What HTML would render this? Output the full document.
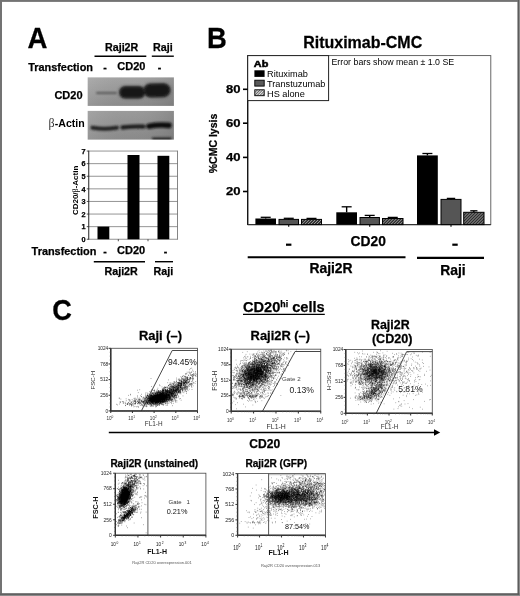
<!DOCTYPE html>
<html lang="en"><head><meta charset="utf-8"><title>Figure</title>
<style>html,body{margin:0;padding:0;background:#fff;}body{width:520px;height:596px;overflow:hidden;}svg{display:block;font-family:'Liberation Sans', Arial, Helvetica, sans-serif;}</style>
</head><body>
<svg width="520" height="596" viewBox="0 0 520 596">
<defs>
<filter id="b1" x="-20%" y="-50%" width="140%" height="200%"><feGaussianBlur stdDeviation="1.1"/></filter>
<filter id="b2" x="-20%" y="-50%" width="140%" height="200%"><feGaussianBlur stdDeviation="0.8"/></filter>
<filter id="b3" x="-30%" y="-30%" width="160%" height="160%"><feGaussianBlur stdDeviation="3"/></filter>
<filter id="b4" x="-30%" y="-30%" width="160%" height="160%"><feGaussianBlur stdDeviation="0.35"/></filter>
<linearGradient id="bg1" x1="0" y1="0" x2="0" y2="1"><stop offset="0" stop-color="#a3a3a3"/><stop offset="1" stop-color="#8a8a8a"/></linearGradient>
<linearGradient id="bgh" x1="0" y1="0" x2="1" y2="0"><stop offset="0" stop-color="#fff" stop-opacity="0.10"/><stop offset="0.5" stop-color="#888" stop-opacity="0"/><stop offset="1" stop-color="#000" stop-opacity="0.10"/></linearGradient>
<filter id="b3h" x="-20%" y="-50%" width="140%" height="200%"><feGaussianBlur stdDeviation="1.8"/></filter>
<linearGradient id="bg2" x1="0" y1="0" x2="0" y2="1"><stop offset="0" stop-color="#9a9a9a"/><stop offset="1" stop-color="#8a8a8a"/></linearGradient>
<pattern id="hatch" width="2.1" height="2.1" patternUnits="userSpaceOnUse" patternTransform="rotate(-45)"><rect width="2.1" height="2.1" fill="#2c2c2c"/><rect width="2.1" height="0.75" fill="#9a9a9a"/></pattern>
<clipPath id="c1"><rect x="87.7" y="77.4" width="86.2" height="28.5"/></clipPath><clipPath id="c2"><rect x="87.7" y="110.9" width="86.2" height="28.7"/></clipPath>
<pattern id="hatch2" width="1.9" height="1.9" patternUnits="userSpaceOnUse" patternTransform="rotate(-45)"><rect width="1.9" height="1.9" fill="#e4e4e4"/><rect width="1.9" height="0.8" fill="#555"/></pattern>
</defs>
<rect width="520" height="596" fill="#fff"/>
<text transform="translate(27.5,47.6) scale(0.985,1.06)" font-size="28" font-weight="bold" stroke="#000" stroke-width="0.25">A</text>
<text x="105" y="51.3" font-size="10.7" font-weight="bold" text-anchor="start" fill="#000"  stroke="#000" stroke-width="0.25">Raji2R</text>
<text x="153" y="51.3" font-size="10.7" font-weight="bold" text-anchor="start" fill="#000"  stroke="#000" stroke-width="0.25">Raji</text>
<line x1="94.5" y1="56.2" x2="146.3" y2="56.2" stroke="#000" stroke-width="1.4" />
<line x1="151.8" y1="56.2" x2="173.8" y2="56.2" stroke="#000" stroke-width="1.4" />
<text x="28.2" y="70.7" font-size="10.9" font-weight="bold" text-anchor="start" fill="#000"  stroke="#000" stroke-width="0.25">Transfection</text>
<text x="103.3" y="70.7" font-size="10.6" font-weight="bold" text-anchor="start" fill="#000"  stroke="#000" stroke-width="0.25">-</text>
<text x="117.3" y="70.2" font-size="11" font-weight="bold" text-anchor="start" fill="#000"  stroke="#000" stroke-width="0.25">CD20</text>
<text x="157.7" y="71.2" font-size="10.6" font-weight="bold" text-anchor="start" fill="#000"  stroke="#000" stroke-width="0.25">-</text>
<text x="54.4" y="98.8" font-size="11" font-weight="bold" text-anchor="start" fill="#000"  stroke="#000" stroke-width="0.25">CD20</text>
<text x="48.6" y="127.3" font-size="10.6" font-weight="bold"><tspan font-family="'Liberation Serif', serif" font-weight="normal" fill="#333" font-size="12">β</tspan>-Actin</text>
<g>
<rect x="87.70" y="77.40" width="86.20" height="28.50" fill="url(#bg1)" stroke="none" stroke-width="0" />
<rect x="87.70" y="77.40" width="86.20" height="28.50" fill="url(#bgh)" stroke="none" stroke-width="0" />
<g clip-path="url(#c1)">
<g filter="url(#b3h)">
<rect x="119" y="86" width="26" height="12.5" rx="6" fill="#333"/>
<rect x="143.5" y="83.2" width="27" height="14.2" rx="7" fill="#333"/>
</g>
<g filter="url(#b1)">
<rect x="96" y="92.1" width="21" height="2" rx="1" fill="#585858"/>
<rect x="120.3" y="87.2" width="24" height="10.4" rx="5" fill="#141414"/>
<rect x="144.5" y="84.4" width="25" height="11.8" rx="5.8" fill="#141414" transform="rotate(-2 157 90)"/>
</g>
</g>
<rect x="87.70" y="110.90" width="86.20" height="28.70" fill="url(#bg2)" stroke="none" stroke-width="0" />
<rect x="87.70" y="110.90" width="86.20" height="28.70" fill="url(#bgh)" stroke="none" stroke-width="0" />
<g clip-path="url(#c2)">
<g filter="url(#b1)">
<path d="M92.5 127.7 Q104 129.8 116.8 127.7" stroke="#222" stroke-width="4.2" fill="none" stroke-linecap="round"/>
<path d="M122.5 127.4 Q133 126.2 143.5 126.6" stroke="#1c1c1c" stroke-width="4.2" fill="none" stroke-linecap="round"/>
<path d="M149 126.2 Q159 124.4 169 125.4" stroke="#111" stroke-width="5.6" fill="none" stroke-linecap="round"/>
<rect x="152" y="137.6" width="19.5" height="2.6" rx="1" fill="#222"/>
</g>
</g>
</g>
<line x1="88.75" y1="239.25" x2="177.5" y2="239.25" stroke="#666" stroke-width="0.7" />
<line x1="86.75" y1="239.25" x2="88.75" y2="239.25" stroke="#222" stroke-width="0.8" />
<text x="85.5" y="241.95" font-size="7.3" font-weight="bold" text-anchor="end" fill="#000"  stroke="#000" stroke-width="0.25">0</text>
<line x1="88.75" y1="226.65" x2="177.5" y2="226.65" stroke="#666" stroke-width="0.7" />
<line x1="86.75" y1="226.65" x2="88.75" y2="226.65" stroke="#222" stroke-width="0.8" />
<text x="85.5" y="229.35" font-size="7.3" font-weight="bold" text-anchor="end" fill="#000"  stroke="#000" stroke-width="0.25">1</text>
<line x1="88.75" y1="214.05" x2="177.5" y2="214.05" stroke="#666" stroke-width="0.7" />
<line x1="86.75" y1="214.05" x2="88.75" y2="214.05" stroke="#222" stroke-width="0.8" />
<text x="85.5" y="216.75" font-size="7.3" font-weight="bold" text-anchor="end" fill="#000"  stroke="#000" stroke-width="0.25">2</text>
<line x1="88.75" y1="201.45" x2="177.5" y2="201.45" stroke="#666" stroke-width="0.7" />
<line x1="86.75" y1="201.45" x2="88.75" y2="201.45" stroke="#222" stroke-width="0.8" />
<text x="85.5" y="204.15" font-size="7.3" font-weight="bold" text-anchor="end" fill="#000"  stroke="#000" stroke-width="0.25">3</text>
<line x1="88.75" y1="188.85" x2="177.5" y2="188.85" stroke="#666" stroke-width="0.7" />
<line x1="86.75" y1="188.85" x2="88.75" y2="188.85" stroke="#222" stroke-width="0.8" />
<text x="85.5" y="191.55" font-size="7.3" font-weight="bold" text-anchor="end" fill="#000"  stroke="#000" stroke-width="0.25">4</text>
<line x1="88.75" y1="176.25" x2="177.5" y2="176.25" stroke="#666" stroke-width="0.7" />
<line x1="86.75" y1="176.25" x2="88.75" y2="176.25" stroke="#222" stroke-width="0.8" />
<text x="85.5" y="178.95" font-size="7.3" font-weight="bold" text-anchor="end" fill="#000"  stroke="#000" stroke-width="0.25">5</text>
<line x1="88.75" y1="163.65" x2="177.5" y2="163.65" stroke="#666" stroke-width="0.7" />
<line x1="86.75" y1="163.65" x2="88.75" y2="163.65" stroke="#222" stroke-width="0.8" />
<text x="85.5" y="166.35" font-size="7.3" font-weight="bold" text-anchor="end" fill="#000"  stroke="#000" stroke-width="0.25">6</text>
<line x1="88.75" y1="151.05" x2="177.5" y2="151.05" stroke="#666" stroke-width="0.7" />
<line x1="86.75" y1="151.05" x2="88.75" y2="151.05" stroke="#222" stroke-width="0.8" />
<text x="85.5" y="153.75" font-size="7.3" font-weight="bold" text-anchor="end" fill="#000"  stroke="#000" stroke-width="0.25">7</text>
<line x1="88.75" y1="150.65" x2="88.75" y2="239.65" stroke="#222" stroke-width="1" />
<line x1="177.5" y1="150.65" x2="177.5" y2="239.65" stroke="#666" stroke-width="0.8" />
<rect x="97.50" y="226.65" width="11.80" height="12.60" fill="#000" stroke="none" stroke-width="0" />
<rect x="127.50" y="155.00" width="12.00" height="84.25" fill="#000" stroke="none" stroke-width="0" />
<rect x="157.50" y="155.80" width="11.80" height="83.45" fill="#000" stroke="none" stroke-width="0" />
<line x1="118.3" y1="239.25" x2="118.3" y2="241.25" stroke="#222" stroke-width="0.8" />
<line x1="148" y1="239.25" x2="148" y2="241.25" stroke="#222" stroke-width="0.8" />
<text transform="translate(78.4,190.4) rotate(-90)" font-size="8" font-weight="bold" text-anchor="middle">CD20/<tspan font-family="'Liberation Serif', serif" font-weight="normal">β</tspan>-Actin</text>
<text x="31.6" y="254.5" font-size="10.9" font-weight="bold" text-anchor="start" fill="#000"  stroke="#000" stroke-width="0.25">Transfection</text>
<text x="103.3" y="254.5" font-size="10.6" font-weight="bold" text-anchor="start" fill="#000"  stroke="#000" stroke-width="0.25">-</text>
<text x="117" y="253.8" font-size="11" font-weight="bold" text-anchor="start" fill="#000"  stroke="#000" stroke-width="0.25">CD20</text>
<text x="163.8" y="255.3" font-size="10.6" font-weight="bold" text-anchor="start" fill="#000"  stroke="#000" stroke-width="0.25">-</text>
<line x1="93.8" y1="261.7" x2="145" y2="261.7" stroke="#000" stroke-width="1.4" />
<line x1="155" y1="261.7" x2="173" y2="261.7" stroke="#000" stroke-width="1.4" />
<text x="104.5" y="275" font-size="10.7" font-weight="bold" text-anchor="start" fill="#000"  stroke="#000" stroke-width="0.25">Raji2R</text>
<text x="153.5" y="275" font-size="10.7" font-weight="bold" text-anchor="start" fill="#000"  stroke="#000" stroke-width="0.25">Raji</text>
<text transform="translate(207.1,47.6) scale(0.98,1.06)" font-size="28" font-weight="bold" stroke="#000" stroke-width="0.25">B</text>
<text transform="translate(303.2,48.3) scale(1,1.08)" font-size="16" font-weight="bold" stroke="#000" stroke-width="0.25">Rituximab-CMC</text>
<rect x="247.70" y="55.60" width="243.10" height="169.00" fill="none" stroke="#555" stroke-width="0.9" />
<line x1="247.7" y1="55.6" x2="247.7" y2="225.1" stroke="#111" stroke-width="1.3" />
<line x1="247.7" y1="224.6" x2="490.8" y2="224.6" stroke="#333" stroke-width="1.1" />
<rect x="247.70" y="55.60" width="80.90" height="45.00" fill="#fff" stroke="#222" stroke-width="1" />
<text x="253.8" y="66.8" font-size="8.6" font-weight="bold" text-anchor="start" fill="#000" textLength="14.5" lengthAdjust="spacingAndGlyphs" stroke="#000" stroke-width="0.5">Ab</text>
<rect x="254.40" y="70.30" width="10.20" height="6.60" fill="#000" stroke="none" stroke-width="0" />
<rect x="254.80" y="80.20" width="9.40" height="5.90" fill="#5a5a5a" stroke="#000" stroke-width="0.9" />
<rect x="254.80" y="89.80" width="9.40" height="5.90" fill="url(#hatch2)" stroke="#000" stroke-width="0.9" />
<text x="267" y="77.4" font-size="9.2" font-weight="normal" text-anchor="start" fill="#000" >Rituximab</text>
<text x="267" y="87.0" font-size="9.2" font-weight="normal" text-anchor="start" fill="#000" >Transtuzumab</text>
<text x="267" y="97.0" font-size="9.2" font-weight="normal" text-anchor="start" fill="#000" >HS alone</text>
<text x="331.5" y="65.4" font-size="8.8" font-weight="normal" text-anchor="start" fill="#000" >Error bars show mean ± 1.0 SE</text>
<line x1="243" y1="89.3" x2="247.7" y2="89.3" stroke="#000" stroke-width="1.6" />
<text x="226" y="92.8" font-size="10" font-weight="bold" text-anchor="start" fill="#000" textLength="14.5" lengthAdjust="spacingAndGlyphs" stroke="#000" stroke-width="0.25">80</text>
<line x1="243" y1="123.2" x2="247.7" y2="123.2" stroke="#000" stroke-width="1.6" />
<text x="226" y="126.7" font-size="10" font-weight="bold" text-anchor="start" fill="#000" textLength="14.5" lengthAdjust="spacingAndGlyphs" stroke="#000" stroke-width="0.25">60</text>
<line x1="243" y1="157.4" x2="247.7" y2="157.4" stroke="#000" stroke-width="1.6" />
<text x="226" y="160.9" font-size="10" font-weight="bold" text-anchor="start" fill="#000" textLength="14.5" lengthAdjust="spacingAndGlyphs" stroke="#000" stroke-width="0.25">40</text>
<line x1="243" y1="191.5" x2="247.7" y2="191.5" stroke="#000" stroke-width="1.6" />
<text x="226" y="195.0" font-size="10" font-weight="bold" text-anchor="start" fill="#000" textLength="14.5" lengthAdjust="spacingAndGlyphs" stroke="#000" stroke-width="0.25">20</text>
<text transform="translate(217.4,143.5) rotate(-90)" font-size="10.5" font-weight="bold" stroke="#000" stroke-width="0.25" text-anchor="middle">%CMC lysis</text>
<rect x="255.40" y="218.50" width="20.60" height="6.10" fill="#000" stroke="none" stroke-width="1.0" />
<line x1="265.70" y1="217.3" x2="265.70" y2="218.5" stroke="#000" stroke-width="1.4" />
<line x1="260.70" y1="217.3" x2="270.70" y2="217.3" stroke="#000" stroke-width="1.3" />
<rect x="279.00" y="219.40" width="19.50" height="5.20" fill="#555" stroke="#000" stroke-width="1.0" />
<line x1="288.75" y1="218.3" x2="288.75" y2="219.4" stroke="#000" stroke-width="1.4" />
<line x1="283.75" y1="218.3" x2="293.75" y2="218.3" stroke="#000" stroke-width="1.3" />
<rect x="301.50" y="219.40" width="20.00" height="5.20" fill="url(#hatch)" stroke="#000" stroke-width="1.0" />
<line x1="311.50" y1="218.4" x2="311.50" y2="219.4" stroke="#000" stroke-width="1.4" />
<line x1="306.50" y1="218.4" x2="316.50" y2="218.4" stroke="#000" stroke-width="1.3" />
<rect x="336.30" y="212.30" width="20.70" height="12.30" fill="#000" stroke="none" stroke-width="1.0" />
<line x1="346.65" y1="206.8" x2="346.65" y2="212.3" stroke="#000" stroke-width="1.4" />
<line x1="341.65" y1="206.8" x2="351.65" y2="206.8" stroke="#000" stroke-width="1.3" />
<rect x="360.00" y="217.50" width="19.40" height="7.10" fill="#555" stroke="#000" stroke-width="1.0" />
<line x1="369.70" y1="215.4" x2="369.70" y2="217.5" stroke="#000" stroke-width="1.4" />
<line x1="364.70" y1="215.4" x2="374.70" y2="215.4" stroke="#000" stroke-width="1.3" />
<rect x="382.50" y="218.50" width="20.50" height="6.10" fill="url(#hatch)" stroke="#000" stroke-width="1.0" />
<line x1="392.75" y1="217.4" x2="392.75" y2="218.5" stroke="#000" stroke-width="1.4" />
<line x1="387.75" y1="217.4" x2="397.75" y2="217.4" stroke="#000" stroke-width="1.3" />
<rect x="417.00" y="155.40" width="20.80" height="69.20" fill="#000" stroke="none" stroke-width="1.0" />
<line x1="427.40" y1="153.5" x2="427.40" y2="155.4" stroke="#000" stroke-width="1.4" />
<line x1="422.40" y1="153.5" x2="432.40" y2="153.5" stroke="#000" stroke-width="1.3" />
<rect x="441.00" y="199.40" width="20.00" height="25.20" fill="#555" stroke="#000" stroke-width="1.0" />
<line x1="451.00" y1="198.4" x2="451.00" y2="199.4" stroke="#000" stroke-width="1.4" />
<line x1="446.80" y1="198.4" x2="455.20" y2="198.4" stroke="#000" stroke-width="1.3" />
<rect x="463.70" y="212.30" width="20.30" height="12.30" fill="url(#hatch)" stroke="#000" stroke-width="1.0" />
<line x1="473.85" y1="210.8" x2="473.85" y2="212.3" stroke="#000" stroke-width="1.4" />
<line x1="470.25" y1="210.8" x2="477.45" y2="210.8" stroke="#000" stroke-width="1.3" />
<line x1="288.7" y1="224.6" x2="288.7" y2="226.79999999999998" stroke="#111" stroke-width="1.2" />
<line x1="369.7" y1="224.6" x2="369.7" y2="226.79999999999998" stroke="#111" stroke-width="1.2" />
<line x1="451" y1="224.6" x2="451" y2="226.79999999999998" stroke="#111" stroke-width="1.2" />
<rect x="286.00" y="243.60" width="5.40" height="2.20" fill="#000" stroke="none" stroke-width="0" />
<rect x="452.30" y="243.60" width="5.40" height="2.20" fill="#000" stroke="none" stroke-width="0" />
<text x="350.6" y="245.5" font-size="13.8" font-weight="bold" text-anchor="start" fill="#000"  stroke="#000" stroke-width="0.25">CD20</text>
<line x1="247.7" y1="257.3" x2="405.5" y2="257.3" stroke="#000" stroke-width="2.1" />
<line x1="417" y1="257.8" x2="484" y2="257.8" stroke="#000" stroke-width="2.2" />
<text x="309.4" y="272.9" font-size="13.9" font-weight="bold" text-anchor="start" fill="#000"  stroke="#000" stroke-width="0.25">Raji2R</text>
<text x="440.2" y="275.3" font-size="13.9" font-weight="bold" text-anchor="start" fill="#000"  stroke="#000" stroke-width="0.25">Raji</text>
<text transform="translate(52.2,319.6) scale(0.97,1.05)" font-size="28" font-weight="bold" stroke="#000" stroke-width="0.25">C</text>
<text x="243" y="311.6" font-size="14.6" font-weight="bold" stroke="#000" stroke-width="0.25">CD20<tspan font-size="8.8" dy="-4.3">hi</tspan><tspan dy="4.3"> cells</tspan></text>
<line x1="243" y1="314.4" x2="324.8" y2="314.4" stroke="#000" stroke-width="1.4" />
<text transform="translate(139,340) scale(1,1.06)" font-size="12.9" font-weight="bold" text-anchor="start" fill="#000"  stroke="#000" stroke-width="0.25">Raji (–)</text>
<text transform="translate(250.6,339.8) scale(1,1.06)" font-size="12.9" font-weight="bold" text-anchor="start" fill="#000"  stroke="#000" stroke-width="0.25">Raji2R (–)</text>
<text transform="translate(390.3,328.8) scale(1,1.06)" font-size="12.4" font-weight="bold" text-anchor="middle" fill="#000"  stroke="#000" stroke-width="0.25">Raji2R</text>
<text transform="translate(392.2,343.3) scale(1,1.06)" font-size="12.6" font-weight="bold" text-anchor="middle" fill="#000"  stroke="#000" stroke-width="0.25">(CD20)</text>
<line x1="108.8" y1="432.5" x2="436" y2="432.5" stroke="#000" stroke-width="1.4" />
<polygon points="434,429.3 440.2,432.5 434,435.7" fill="#000"/>
<text x="249.3" y="447.5" font-size="12.1" font-weight="bold" text-anchor="start" fill="#000"  stroke="#000" stroke-width="0.25">CD20</text>
<text x="110.4" y="467" font-size="10" font-weight="bold" text-anchor="start" fill="#000"  stroke="#000" stroke-width="0.25">Raji2R (unstained)</text>
<text x="245.4" y="467" font-size="10.1" font-weight="bold" text-anchor="start" fill="#000"  stroke="#000" stroke-width="0.25">Raji2R (GFP)</text>
<rect x="110.75" y="348.30" width="86.75" height="62.60" fill="none" stroke="#555" stroke-width="0.9" />
<line x1="110.75" y1="348.3" x2="110.75" y2="410.9" stroke="#333" stroke-width="1.5" />
<line x1="110.75" y1="410.9" x2="197.5" y2="410.9" stroke="#333" stroke-width="1.5" />
<line x1="108.55" y1="410.90" x2="110.75" y2="410.90" stroke="#333" stroke-width="1.0499999999999998" />
<text x="108.25" y="412.61" font-size="4.75" font-weight="normal" text-anchor="end" fill="#222" >0</text>
<line x1="109.55" y1="406.99" x2="110.75" y2="406.99" stroke="#555" stroke-width="0.5" />
<line x1="109.55" y1="403.07" x2="110.75" y2="403.07" stroke="#555" stroke-width="0.5" />
<line x1="109.55" y1="399.16" x2="110.75" y2="399.16" stroke="#555" stroke-width="0.5" />
<line x1="108.55" y1="395.25" x2="110.75" y2="395.25" stroke="#333" stroke-width="1.0499999999999998" />
<text x="108.25" y="396.96" font-size="4.75" font-weight="normal" text-anchor="end" fill="#222" >256</text>
<line x1="109.55" y1="391.34" x2="110.75" y2="391.34" stroke="#555" stroke-width="0.5" />
<line x1="109.55" y1="387.43" x2="110.75" y2="387.43" stroke="#555" stroke-width="0.5" />
<line x1="109.55" y1="383.51" x2="110.75" y2="383.51" stroke="#555" stroke-width="0.5" />
<line x1="108.55" y1="379.60" x2="110.75" y2="379.60" stroke="#333" stroke-width="1.0499999999999998" />
<text x="108.25" y="381.31" font-size="4.75" font-weight="normal" text-anchor="end" fill="#222" >512</text>
<line x1="109.55" y1="375.69" x2="110.75" y2="375.69" stroke="#555" stroke-width="0.5" />
<line x1="109.55" y1="371.78" x2="110.75" y2="371.78" stroke="#555" stroke-width="0.5" />
<line x1="109.55" y1="367.86" x2="110.75" y2="367.86" stroke="#555" stroke-width="0.5" />
<line x1="108.55" y1="363.95" x2="110.75" y2="363.95" stroke="#333" stroke-width="1.0499999999999998" />
<text x="108.25" y="365.66" font-size="4.75" font-weight="normal" text-anchor="end" fill="#222" >768</text>
<line x1="109.55" y1="360.04" x2="110.75" y2="360.04" stroke="#555" stroke-width="0.5" />
<line x1="109.55" y1="356.12" x2="110.75" y2="356.12" stroke="#555" stroke-width="0.5" />
<line x1="109.55" y1="352.21" x2="110.75" y2="352.21" stroke="#555" stroke-width="0.5" />
<line x1="108.55" y1="348.30" x2="110.75" y2="348.30" stroke="#333" stroke-width="1.0499999999999998" />
<text x="108.25" y="350.01" font-size="4.75" font-weight="normal" text-anchor="end" fill="#222" >1024</text>
<line x1="110.75" y1="410.9" x2="110.75" y2="413.09999999999997" stroke="#333" stroke-width="1.0499999999999998" />
<text transform="translate(109.95,420.30) scale(1.0,1.0)" font-size="4.6" text-anchor="middle" fill="#333">10<tspan font-size="3.22" dx="0.0" dy="-2.07">0</tspan></text>
<line x1="117.28" y1="410.9" x2="117.28" y2="412.09999999999997" stroke="#666" stroke-width="0.45" />
<line x1="121.10" y1="410.9" x2="121.10" y2="412.09999999999997" stroke="#666" stroke-width="0.45" />
<line x1="123.81" y1="410.9" x2="123.81" y2="412.09999999999997" stroke="#666" stroke-width="0.45" />
<line x1="125.91" y1="410.9" x2="125.91" y2="412.09999999999997" stroke="#666" stroke-width="0.45" />
<line x1="127.63" y1="410.9" x2="127.63" y2="412.09999999999997" stroke="#666" stroke-width="0.45" />
<line x1="129.08" y1="410.9" x2="129.08" y2="412.09999999999997" stroke="#666" stroke-width="0.45" />
<line x1="130.34" y1="410.9" x2="130.34" y2="412.09999999999997" stroke="#666" stroke-width="0.45" />
<line x1="131.45" y1="410.9" x2="131.45" y2="412.09999999999997" stroke="#666" stroke-width="0.45" />
<line x1="132.44" y1="410.9" x2="132.44" y2="413.09999999999997" stroke="#333" stroke-width="1.0499999999999998" />
<text transform="translate(131.64,420.30) scale(1.0,1.0)" font-size="4.6" text-anchor="middle" fill="#333">10<tspan font-size="3.22" dx="0.0" dy="-2.07">1</tspan></text>
<line x1="138.97" y1="410.9" x2="138.97" y2="412.09999999999997" stroke="#666" stroke-width="0.45" />
<line x1="142.79" y1="410.9" x2="142.79" y2="412.09999999999997" stroke="#666" stroke-width="0.45" />
<line x1="145.49" y1="410.9" x2="145.49" y2="412.09999999999997" stroke="#666" stroke-width="0.45" />
<line x1="147.60" y1="410.9" x2="147.60" y2="412.09999999999997" stroke="#666" stroke-width="0.45" />
<line x1="149.31" y1="410.9" x2="149.31" y2="412.09999999999997" stroke="#666" stroke-width="0.45" />
<line x1="150.77" y1="410.9" x2="150.77" y2="412.09999999999997" stroke="#666" stroke-width="0.45" />
<line x1="152.02" y1="410.9" x2="152.02" y2="412.09999999999997" stroke="#666" stroke-width="0.45" />
<line x1="153.13" y1="410.9" x2="153.13" y2="412.09999999999997" stroke="#666" stroke-width="0.45" />
<line x1="154.12" y1="410.9" x2="154.12" y2="413.09999999999997" stroke="#333" stroke-width="1.0499999999999998" />
<text transform="translate(153.32,420.30) scale(1.0,1.0)" font-size="4.6" text-anchor="middle" fill="#333">10<tspan font-size="3.22" dx="0.0" dy="-2.07">2</tspan></text>
<line x1="160.65" y1="410.9" x2="160.65" y2="412.09999999999997" stroke="#666" stroke-width="0.45" />
<line x1="164.47" y1="410.9" x2="164.47" y2="412.09999999999997" stroke="#666" stroke-width="0.45" />
<line x1="167.18" y1="410.9" x2="167.18" y2="412.09999999999997" stroke="#666" stroke-width="0.45" />
<line x1="169.28" y1="410.9" x2="169.28" y2="412.09999999999997" stroke="#666" stroke-width="0.45" />
<line x1="171.00" y1="410.9" x2="171.00" y2="412.09999999999997" stroke="#666" stroke-width="0.45" />
<line x1="172.45" y1="410.9" x2="172.45" y2="412.09999999999997" stroke="#666" stroke-width="0.45" />
<line x1="173.71" y1="410.9" x2="173.71" y2="412.09999999999997" stroke="#666" stroke-width="0.45" />
<line x1="174.82" y1="410.9" x2="174.82" y2="412.09999999999997" stroke="#666" stroke-width="0.45" />
<line x1="175.81" y1="410.9" x2="175.81" y2="413.09999999999997" stroke="#333" stroke-width="1.0499999999999998" />
<text transform="translate(175.01,420.30) scale(1.0,1.0)" font-size="4.6" text-anchor="middle" fill="#333">10<tspan font-size="3.22" dx="0.0" dy="-2.07">3</tspan></text>
<line x1="182.34" y1="410.9" x2="182.34" y2="412.09999999999997" stroke="#666" stroke-width="0.45" />
<line x1="186.16" y1="410.9" x2="186.16" y2="412.09999999999997" stroke="#666" stroke-width="0.45" />
<line x1="188.87" y1="410.9" x2="188.87" y2="412.09999999999997" stroke="#666" stroke-width="0.45" />
<line x1="190.97" y1="410.9" x2="190.97" y2="412.09999999999997" stroke="#666" stroke-width="0.45" />
<line x1="192.69" y1="410.9" x2="192.69" y2="412.09999999999997" stroke="#666" stroke-width="0.45" />
<line x1="194.14" y1="410.9" x2="194.14" y2="412.09999999999997" stroke="#666" stroke-width="0.45" />
<line x1="195.40" y1="410.9" x2="195.40" y2="412.09999999999997" stroke="#666" stroke-width="0.45" />
<line x1="196.51" y1="410.9" x2="196.51" y2="412.09999999999997" stroke="#666" stroke-width="0.45" />
<line x1="197.50" y1="410.9" x2="197.50" y2="413.09999999999997" stroke="#333" stroke-width="1.0499999999999998" />
<text transform="translate(196.70,420.30) scale(1.0,1.0)" font-size="4.6" text-anchor="middle" fill="#333">10<tspan font-size="3.22" dx="0.0" dy="-2.07">4</tspan></text>
<text transform="translate(95.4,380.10) rotate(-90)" font-size="6.1" font-weight="normal" text-anchor="middle" fill="#333">FSC-H</text>
<text x="153.72" y="425.80" font-size="6.3999999999999995" font-weight="normal" text-anchor="middle" fill="#333" stroke="none">FL1-H</text>
<path d="M157.5 403.3h0.6M159.2 399.4h0.6M155.9 398.8h0.6M152.3 398.7h0.6M154.9 402.1h0.6M151.7 397.2h0.6M157.8 402.0h0.6M165.3 398.4h0.6M154.6 395.0h0.6M153.9 400.9h0.6M160.3 399.7h0.6M159.6 395.2h0.6M158.1 399.6h0.6M152.1 399.9h0.6M157.3 397.9h0.6M161.5 395.0h0.6M149.7 405.7h0.6M154.8 401.2h0.6M146.5 402.5h0.6M150.0 402.4h0.6M146.8 402.1h0.6M156.1 401.1h0.6M150.1 398.4h0.6M159.1 400.9h0.6M158.4 398.1h0.6M156.4 397.4h0.6M142.9 402.1h0.6M154.4 398.4h0.6M157.2 393.8h0.6M158.2 397.5h0.6M148.6 401.2h0.6M154.7 399.0h0.6M151.8 401.7h0.6M152.8 398.2h0.6M163.7 395.4h0.6M152.8 401.3h0.6M157.3 399.1h0.6M162.6 394.8h0.6M154.1 400.3h0.6M156.9 398.0h0.6M158.1 401.4h0.6M157.9 400.8h0.6M150.4 400.7h0.6M157.9 392.3h0.6M165.4 398.9h0.6M148.5 400.9h0.6M162.5 399.6h0.6M158.2 398.9h0.6M153.8 397.0h0.6M169.1 396.8h0.6M161.9 392.2h0.6M150.5 398.6h0.6M157.9 394.3h0.6M160.8 397.4h0.6M156.4 396.9h0.6M161.5 402.2h0.6M157.1 398.9h0.6M161.4 398.3h0.6M165.8 398.4h0.6M153.6 405.0h0.6M158.7 395.9h0.6M154.8 399.9h0.6M158.2 399.7h0.6M150.6 399.9h0.6M154.1 399.5h0.6M156.4 397.5h0.6M162.7 401.6h0.6M164.1 400.5h0.6M149.8 398.4h0.6M152.9 398.5h0.6M161.3 399.2h0.6M145.9 401.3h0.6M154.8 401.1h0.6M156.9 398.7h0.6M164.8 394.4h0.6M161.5 401.1h0.6M155.6 394.4h0.6M155.4 396.3h0.6M156.0 399.9h0.6M166.3 395.4h0.6M155.0 402.9h0.6M155.7 403.6h0.6M159.5 402.0h0.6M156.8 399.7h0.6M156.4 399.5h0.6M151.0 400.6h0.6M157.4 398.2h0.6M154.9 404.8h0.6M164.3 396.4h0.6M161.3 402.2h0.6M157.4 400.4h0.6M161.4 399.3h0.6M155.5 402.0h0.6M163.6 401.8h0.6M157.5 401.4h0.6M160.9 398.2h0.6M150.0 397.6h0.6M159.5 396.7h0.6M147.7 402.3h0.6M145.7 401.9h0.6M155.7 401.3h0.6M152.3 397.7h0.6M158.5 404.2h0.6M170.5 393.7h0.6M152.7 400.4h0.6M153.9 401.1h0.6M158.7 397.4h0.6M160.4 395.3h0.6M156.5 397.6h0.6M156.3 395.6h0.6M161.6 397.7h0.6M160.5 394.7h0.6M151.5 395.6h0.6M157.0 398.8h0.6M157.7 394.4h0.6M151.4 398.6h0.6M159.0 398.1h0.6M152.5 401.6h0.6M163.1 398.8h0.6M158.6 396.2h0.6M158.0 402.2h0.6M154.1 397.0h0.6M156.8 397.6h0.6M145.9 398.9h0.6M150.9 405.4h0.6M159.6 398.6h0.6M145.2 397.9h0.6M162.4 400.2h0.6M147.4 399.3h0.6M161.9 404.8h0.6M152.6 397.1h0.6M162.0 399.9h0.6M158.3 395.9h0.6M148.6 404.6h0.6M164.7 395.8h0.6M165.9 398.3h0.6M157.1 396.2h0.6M155.9 401.3h0.6M156.6 400.4h0.6M151.8 392.7h0.6M163.9 400.2h0.6M154.4 400.8h0.6M157.2 399.3h0.6M152.9 401.9h0.6M153.9 395.5h0.6M150.1 394.3h0.6M164.8 399.8h0.6M156.6 403.5h0.6M163.1 394.6h0.6M157.6 395.3h0.6M153.5 396.6h0.6M155.6 395.4h0.6M154.3 401.3h0.6M157.5 399.0h0.6M155.3 402.7h0.6M155.8 402.7h0.6M149.5 396.5h0.6M152.8 400.9h0.6M167.1 391.1h0.6M153.6 398.7h0.6M151.4 400.9h0.6M159.5 396.0h0.6M165.7 392.6h0.6M149.1 398.0h0.6M156.3 402.1h0.6M153.8 397.8h0.6M147.3 395.6h0.6M161.8 399.5h0.6M157.4 400.7h0.6M157.9 395.6h0.6M153.1 398.5h0.6M160.1 401.4h0.6M154.4 399.9h0.6M156.7 400.7h0.6M151.1 398.3h0.6M150.4 398.9h0.6M165.2 394.5h0.6M154.6 396.8h0.6M159.2 402.8h0.6M157.3 397.4h0.6M154.9 396.2h0.6M154.6 397.5h0.6M161.2 395.2h0.6M155.7 400.2h0.6M156.6 401.3h0.6M157.6 395.8h0.6M164.3 400.8h0.6M161.4 404.2h0.6M159.7 395.4h0.6M154.2 400.9h0.6M149.5 400.2h0.6M163.0 401.9h0.6M163.1 401.7h0.6M156.7 401.9h0.6M160.6 399.2h0.6M162.0 397.0h0.6M162.3 404.5h0.6M162.8 395.8h0.6M154.9 402.1h0.6M166.3 400.7h0.6M150.3 397.3h0.6M162.5 398.2h0.6M160.4 402.6h0.6M162.6 392.8h0.6M168.4 399.9h0.6M166.1 396.9h0.6M150.9 398.6h0.6M147.7 395.5h0.6M162.2 399.3h0.6M151.6 396.2h0.6M157.4 400.6h0.6M162.4 394.8h0.6M148.0 401.6h0.6M145.3 400.8h0.6M159.0 393.0h0.6M157.8 397.6h0.6M156.1 398.3h0.6M157.7 392.1h0.6M152.5 398.0h0.6M148.7 401.7h0.6M156.5 396.5h0.6M151.9 402.4h0.6M148.0 396.2h0.6M160.4 394.8h0.6M157.1 400.2h0.6M159.9 400.0h0.6M151.8 398.6h0.6M153.7 398.8h0.6M151.7 401.9h0.6M152.4 397.4h0.6M158.6 404.2h0.6M153.0 400.2h0.6M159.6 399.4h0.6M159.5 399.1h0.6M169.2 396.5h0.6M149.4 402.8h0.6M162.6 396.3h0.6M157.0 399.1h0.6M157.4 400.4h0.6M149.1 403.2h0.6M154.8 402.1h0.6M161.8 397.0h0.6M157.0 401.3h0.6M158.0 398.3h0.6M155.8 395.7h0.6M164.2 394.9h0.6M157.4 394.1h0.6M144.7 400.6h0.6M153.5 402.0h0.6M146.1 396.7h0.6M138.6 399.5h0.6M154.4 395.6h0.6M165.2 397.7h0.6M157.8 395.1h0.6M150.7 396.8h0.6M152.0 397.0h0.6M164.1 396.4h0.6M158.4 397.3h0.6M157.8 397.8h0.6M157.2 397.9h0.6M157.7 395.7h0.6M162.2 399.5h0.6M160.7 393.2h0.6M158.8 398.7h0.6M151.5 396.3h0.6M160.5 398.5h0.6M153.5 399.6h0.6M163.8 392.1h0.6M150.1 400.1h0.6M156.7 402.2h0.6M157.5 400.5h0.6M149.8 400.2h0.6M167.5 391.4h0.6M166.0 397.1h0.6M154.8 396.1h0.6M162.0 400.9h0.6M159.7 397.3h0.6M142.3 398.1h0.6M159.0 393.2h0.6M157.1 400.5h0.6M158.0 396.7h0.6M151.3 398.3h0.6M155.9 401.6h0.6M156.5 398.7h0.6M164.4 398.6h0.6M159.4 404.9h0.6M157.5 396.8h0.6M166.4 396.1h0.6M154.3 400.1h0.6M155.2 402.5h0.6M147.0 395.3h0.6M166.6 396.8h0.6M163.1 395.1h0.6M162.8 394.0h0.6M161.4 399.6h0.6M158.1 396.1h0.6M158.7 399.1h0.6M156.0 398.8h0.6M156.3 398.9h0.6M157.8 398.5h0.6M166.3 394.5h0.6M160.7 397.8h0.6M157.2 399.0h0.6M154.1 399.6h0.6M153.8 397.9h0.6M166.8 400.1h0.6M160.4 399.6h0.6M157.9 398.6h0.6M155.5 400.3h0.6M151.1 399.5h0.6M157.1 400.3h0.6M162.6 392.3h0.6M155.2 395.0h0.6M156.2 397.4h0.6M156.2 398.8h0.6M158.1 392.2h0.6M148.3 398.5h0.6M156.1 398.9h0.6M152.5 398.1h0.6M162.6 397.1h0.6M153.0 394.9h0.6M160.8 398.2h0.6M166.3 391.7h0.6M155.7 401.2h0.6M154.0 396.9h0.6M158.6 401.2h0.6M157.5 393.3h0.6M151.7 400.0h0.6M160.2 398.4h0.6M169.2 394.7h0.6M156.0 395.1h0.6M156.3 401.8h0.6M151.4 400.1h0.6M159.4 402.3h0.6M150.3 398.8h0.6M151.1 399.4h0.6M164.9 398.7h0.6M152.2 401.0h0.6M163.8 399.0h0.6M166.3 399.7h0.6M159.0 396.8h0.6M160.7 393.9h0.6M168.8 402.9h0.6M156.4 398.9h0.6M154.1 400.0h0.6M149.7 397.9h0.6M157.7 401.2h0.6M166.1 398.1h0.6M163.1 400.9h0.6M152.0 397.1h0.6M152.5 398.7h0.6M154.6 399.3h0.6M159.2 397.3h0.6M156.3 399.3h0.6M158.7 402.8h0.6M159.2 396.6h0.6M155.8 397.9h0.6M157.3 399.0h0.6M158.7 395.6h0.6M157.0 395.1h0.6M160.4 401.3h0.6M168.4 399.6h0.6M160.9 393.8h0.6M157.8 394.4h0.6M147.7 401.6h0.6M159.8 401.6h0.6M146.2 401.4h0.6M149.3 400.7h0.6M162.5 402.5h0.6M161.6 398.0h0.6M156.6 402.2h0.6M147.6 402.9h0.6M155.3 396.1h0.6M153.6 400.8h0.6M161.2 398.3h0.6M170.6 395.4h0.6M158.8 396.1h0.6M153.0 399.9h0.6M150.7 399.1h0.6M157.2 400.9h0.6M156.5 393.6h0.6M150.8 397.3h0.6M158.2 401.6h0.6M150.8 399.2h0.6M164.0 395.8h0.6M163.7 396.5h0.6M163.8 392.7h0.6M154.8 394.9h0.6M160.5 399.7h0.6M156.7 398.8h0.6M155.2 402.4h0.6M155.5 398.0h0.6M150.0 398.8h0.6M149.1 391.7h0.6M162.1 397.8h0.6M156.4 404.6h0.6M158.8 400.3h0.6M163.3 397.6h0.6M147.4 403.1h0.6M153.0 401.4h0.6M158.5 399.4h0.6M159.8 397.3h0.6M155.3 399.2h0.6M163.5 400.4h0.6M158.7 396.1h0.6M150.5 400.7h0.6M152.1 400.5h0.6M162.2 402.0h0.6M160.2 400.5h0.6M146.5 397.7h0.6M165.3 402.3h0.6M161.0 398.4h0.6M165.3 395.7h0.6M155.3 399.8h0.6M155.8 398.0h0.6M151.0 402.3h0.6M172.2 393.3h0.6M156.5 395.5h0.6M166.7 396.9h0.6M153.7 403.9h0.6M158.5 401.4h0.6M147.8 396.7h0.6M155.3 393.9h0.6M163.2 397.1h0.6M150.2 395.7h0.6M163.7 399.6h0.6M159.5 398.8h0.6M151.4 399.1h0.6M154.6 397.6h0.6M154.8 403.1h0.6M157.2 395.9h0.6M154.4 395.1h0.6M152.7 402.2h0.6M155.7 402.5h0.6M151.5 398.1h0.6M150.0 401.1h0.6M157.2 405.3h0.6M162.6 395.7h0.6M148.6 398.9h0.6M157.5 399.9h0.6M153.7 392.9h0.6M151.8 398.7h0.6M162.4 400.1h0.6M154.5 398.5h0.6M166.2 400.6h0.6M153.0 401.1h0.6M159.7 397.2h0.6M156.2 400.2h0.6M153.1 400.2h0.6M160.9 393.4h0.6M156.6 396.1h0.6M161.0 395.9h0.6M157.2 397.0h0.6M151.2 397.8h0.6M156.9 394.4h0.6M157.8 398.5h0.6M163.1 392.7h0.6M152.2 401.7h0.6M157.3 399.2h0.6M147.5 403.4h0.6M161.3 399.1h0.6M151.2 397.7h0.6M147.0 395.4h0.6M157.2 400.4h0.6M163.9 397.8h0.6M148.7 400.4h0.6M151.2 401.2h0.6M153.2 402.3h0.6M150.9 399.0h0.6M159.7 403.2h0.6M152.8 398.7h0.6M153.3 398.9h0.6M160.9 400.0h0.6M153.1 401.8h0.6M160.0 402.2h0.6M151.9 393.7h0.6M150.5 403.0h0.6M146.9 395.1h0.6M168.3 395.7h0.6M155.6 399.7h0.6M158.9 401.6h0.6M157.3 395.6h0.6M158.4 393.5h0.6M157.8 401.1h0.6M168.6 398.2h0.6M151.5 396.1h0.6M148.5 398.4h0.6M151.6 393.4h0.6M149.8 400.9h0.6M161.8 396.5h0.6M162.3 401.6h0.6M151.9 393.1h0.6M149.4 401.4h0.6M155.4 405.0h0.6M165.6 398.1h0.6M141.1 400.5h0.6M160.6 392.8h0.6M151.3 400.1h0.6M163.5 397.9h0.6M151.2 397.4h0.6M155.8 394.2h0.6M148.8 399.6h0.6M151.8 396.1h0.6M165.5 396.2h0.6M162.3 398.9h0.6M155.2 398.5h0.6M152.5 398.9h0.6M146.5 402.2h0.6M155.2 395.3h0.6M157.3 402.5h0.6M157.0 395.2h0.6M157.0 395.8h0.6M151.0 399.4h0.6M157.1 400.7h0.6M157.3 399.2h0.6M165.0 396.4h0.6M168.3 395.3h0.6M156.7 397.8h0.6M153.1 396.1h0.6M157.1 400.1h0.6M154.0 398.2h0.6M153.2 403.4h0.6M157.2 396.4h0.6M151.4 398.7h0.6M161.0 399.3h0.6M156.9 395.3h0.6M159.0 396.4h0.6M156.4 406.6h0.6M153.3 398.8h0.6M152.0 403.2h0.6M156.1 395.6h0.6M154.3 391.7h0.6M158.9 399.8h0.6M157.5 398.3h0.6M149.6 400.0h0.6M157.9 397.5h0.6M149.7 397.4h0.6M153.9 395.2h0.6M155.8 401.5h0.6M145.5 395.2h0.6M158.0 401.1h0.6M158.4 397.6h0.6M156.6 395.3h0.6M155.0 396.7h0.6M155.3 401.4h0.6M151.8 401.1h0.6M155.9 400.0h0.6M154.3 399.0h0.6M158.0 395.2h0.6M150.5 402.9h0.6M158.9 397.0h0.6M158.3 396.7h0.6M156.7 397.0h0.6M155.0 397.4h0.6M160.7 393.9h0.6M147.8 398.1h0.6M160.2 395.8h0.6M158.9 396.8h0.6M159.1 393.2h0.6M159.7 403.7h0.6M153.7 395.2h0.6M156.0 399.4h0.6M161.2 398.9h0.6M160.0 401.0h0.6M158.7 403.7h0.6M148.7 400.5h0.6M160.6 400.1h0.6M164.3 396.4h0.6M163.4 402.1h0.6M158.9 394.3h0.6M148.5 398.6h0.6M163.0 398.7h0.6M156.6 400.6h0.6M142.8 402.2h0.6M159.7 401.5h0.6M148.8 400.9h0.6M150.0 399.2h0.6M153.8 399.4h0.6M164.9 401.8h0.6M155.3 399.5h0.6M159.1 400.9h0.6M167.6 397.0h0.6M166.7 392.3h0.6M156.9 396.8h0.6M156.1 399.5h0.6M150.2 403.8h0.6M153.5 402.9h0.6M160.0 403.0h0.6M159.8 396.2h0.6M158.1 400.6h0.6M163.3 397.7h0.6M153.0 400.7h0.6M157.2 398.3h0.6M161.7 394.1h0.6M160.9 400.1h0.6M163.7 398.8h0.6M159.8 400.6h0.6M155.7 396.2h0.6M159.6 401.2h0.6M151.7 402.3h0.6M148.0 403.4h0.6M160.9 402.2h0.6M157.2 397.2h0.6M159.3 391.0h0.6M147.7 402.3h0.6M155.4 396.0h0.6M154.0 398.1h0.6M152.5 402.1h0.6M144.4 400.6h0.6M155.6 399.4h0.6M162.7 399.9h0.6M159.7 392.8h0.6M154.0 404.3h0.6M157.4 397.4h0.6M161.9 397.1h0.6M141.5 401.7h0.6M156.8 398.1h0.6M160.7 395.7h0.6M161.5 397.7h0.6M167.4 396.3h0.6M164.1 395.9h0.6M159.3 404.1h0.6M159.3 394.1h0.6M162.1 391.6h0.6M154.4 396.0h0.6M157.3 395.6h0.6M162.8 402.0h0.6M168.9 397.7h0.6M156.6 400.9h0.6M157.2 400.2h0.6M158.7 395.6h0.6M165.3 400.0h0.6M157.3 398.9h0.6M166.0 403.1h0.6M151.9 399.5h0.6M156.4 398.4h0.6M156.4 400.6h0.6M162.1 400.1h0.6M163.6 392.5h0.6M148.7 402.8h0.6M152.2 402.0h0.6M159.5 400.6h0.6M153.7 395.5h0.6M148.7 393.4h0.6M163.5 397.0h0.6M160.4 400.3h0.6M160.4 399.4h0.6M154.7 395.8h0.6M163.5 400.5h0.6M156.1 394.5h0.6M163.9 393.8h0.6M152.2 398.8h0.6M152.5 397.2h0.6M158.7 396.3h0.6M153.4 394.5h0.6M161.4 401.1h0.6M159.0 395.0h0.6M152.1 400.1h0.6M157.9 400.6h0.6M155.5 398.4h0.6M162.8 398.6h0.6M153.8 401.7h0.6M155.0 403.3h0.6M164.5 400.5h0.6M170.5 393.1h0.6M169.1 391.8h0.6M157.9 396.6h0.6M158.8 395.0h0.6M166.4 399.1h0.6M156.8 398.8h0.6M151.8 398.3h0.6M158.2 401.5h0.6M160.1 401.1h0.6M152.7 398.7h0.6M148.0 400.4h0.6M149.2 402.4h0.6M161.4 397.0h0.6M153.1 399.7h0.6M156.7 395.7h0.6M158.7 398.4h0.6M161.1 399.0h0.6M155.6 398.3h0.6M160.4 398.7h0.6M152.3 400.9h0.6M155.4 399.9h0.6M151.6 397.0h0.6M164.1 396.0h0.6M157.3 394.9h0.6M153.2 403.7h0.6M155.5 399.8h0.6M156.2 399.8h0.6M161.6 397.6h0.6M148.2 400.7h0.6M151.5 400.6h0.6M155.3 396.5h0.6M172.2 396.5h0.6M163.0 401.3h0.6M156.9 394.8h0.6M161.6 395.3h0.6M169.4 398.9h0.6M156.1 396.3h0.6M155.4 400.8h0.6M164.5 394.6h0.6M160.4 398.8h0.6M161.4 400.4h0.6M154.6 399.9h0.6M168.7 399.6h0.6M167.4 397.0h0.6M160.8 397.7h0.6M161.5 398.0h0.6M145.7 401.3h0.6M156.4 398.3h0.6M160.0 403.6h0.6M161.5 397.4h0.6M155.5 395.5h0.6M147.7 398.7h0.6M159.6 399.4h0.6M153.2 399.4h0.6M155.6 399.1h0.6M154.0 400.4h0.6M155.5 400.4h0.6M144.1 402.5h0.6M164.6 394.4h0.6M159.0 398.4h0.6M163.9 395.1h0.6M169.0 398.1h0.6M157.6 398.3h0.6M147.0 400.0h0.6M152.3 397.7h0.6M150.5 396.9h0.6M154.6 398.1h0.6M158.0 400.4h0.6M145.9 401.9h0.6M159.5 393.6h0.6M148.7 400.2h0.6M159.2 399.2h0.6M156.9 394.4h0.6M155.7 395.6h0.6M157.1 397.0h0.6M154.4 399.9h0.6M153.9 392.2h0.6M147.7 398.4h0.6M157.3 397.0h0.6M168.2 397.9h0.6M169.0 401.4h0.6M165.2 401.5h0.6M161.6 396.9h0.6M153.6 397.8h0.6M165.9 398.3h0.6M157.2 401.9h0.6M157.1 402.6h0.6M155.8 399.6h0.6M158.0 402.6h0.6M155.0 396.2h0.6M157.0 395.3h0.6M151.2 391.1h0.6M155.3 396.2h0.6M170.7 398.9h0.6M157.1 401.0h0.6M160.6 399.9h0.6M161.6 398.6h0.6M151.0 396.4h0.6M156.3 396.9h0.6M162.8 396.3h0.6M159.1 397.7h0.6M158.2 396.6h0.6M166.5 393.5h0.6M153.6 401.9h0.6M158.0 399.8h0.6M154.5 402.7h0.6M166.1 393.0h0.6M146.2 395.9h0.6M153.6 396.8h0.6M154.4 402.2h0.6M161.3 397.6h0.6M161.0 398.8h0.6M165.6 397.5h0.6M148.4 399.9h0.6M161.9 396.6h0.6M155.8 399.8h0.6M153.6 396.5h0.6M160.6 397.5h0.6M152.2 399.9h0.6M145.5 400.0h0.6M155.4 400.0h0.6M148.8 397.1h0.6M153.7 399.6h0.6M159.7 397.4h0.6M159.3 399.4h0.6M166.7 401.8h0.6M156.3 396.0h0.6M148.6 402.4h0.6M153.1 397.0h0.6M152.2 397.8h0.6M150.4 403.9h0.6M160.0 400.9h0.6M153.8 400.3h0.6M146.0 402.0h0.6M161.5 401.5h0.6M156.9 396.5h0.6M159.6 399.0h0.6M158.1 397.3h0.6M161.2 399.4h0.6M157.7 397.6h0.6M164.7 399.9h0.6M160.0 398.3h0.6M159.8 396.6h0.6M159.9 398.1h0.6M149.1 400.6h0.6M156.5 401.7h0.6M156.0 398.2h0.6M158.7 397.4h0.6M149.6 400.0h0.6M167.0 399.7h0.6M158.1 396.9h0.6M150.5 392.2h0.6M147.6 400.4h0.6M155.9 397.7h0.6M157.0 397.5h0.6M153.3 406.2h0.6M158.0 398.1h0.6M153.8 400.9h0.6M160.7 394.2h0.6M153.3 399.6h0.6M157.3 400.7h0.6M163.2 398.6h0.6M172.4 396.5h0.6M151.7 400.7h0.6M154.8 398.9h0.6M152.6 402.8h0.6M162.0 398.7h0.6M150.8 397.0h0.6M154.7 393.2h0.6M157.3 396.5h0.6M151.8 398.3h0.6M151.9 395.7h0.6M154.7 395.9h0.6M145.3 395.0h0.6M149.1 396.3h0.6M155.1 399.1h0.6M158.4 397.7h0.6M156.4 398.1h0.6M147.2 398.7h0.6M154.8 398.2h0.6M162.1 400.3h0.6M160.7 404.2h0.6M157.0 400.5h0.6M152.4 404.8h0.6M161.2 397.9h0.6M154.1 398.8h0.6M150.7 403.9h0.6M152.8 397.0h0.6M165.9 395.2h0.6M158.8 398.1h0.6M164.2 393.1h0.6M154.7 393.5h0.6M162.9 401.4h0.6M154.0 395.9h0.6M156.6 397.3h0.6M171.9 395.9h0.6M161.9 395.4h0.6M154.6 400.8h0.6M157.0 400.2h0.6M159.4 400.7h0.6M164.5 399.9h0.6M154.7 399.1h0.6M147.4 403.6h0.6M155.9 401.6h0.6M157.6 396.9h0.6M158.1 398.6h0.6M165.1 396.6h0.6M159.3 403.7h0.6M162.2 400.3h0.6M151.1 400.7h0.6M162.5 397.9h0.6M169.7 399.0h0.6M162.0 395.4h0.6M159.0 398.5h0.6M158.4 398.4h0.6M167.9 397.4h0.6M152.1 397.0h0.6M156.9 399.9h0.6M160.2 395.0h0.6M161.8 396.8h0.6M155.0 398.3h0.6M159.3 398.2h0.6M155.9 397.2h0.6M158.2 395.5h0.6M156.7 395.9h0.6M150.9 398.1h0.6M157.4 396.0h0.6M162.6 397.7h0.6M151.9 395.5h0.6M156.1 398.7h0.6M161.4 404.0h0.6M151.3 395.3h0.6M158.6 398.1h0.6M151.4 402.4h0.6M164.1 398.4h0.6M170.9 399.7h0.6M169.2 391.4h0.6M156.2 397.2h0.6M161.8 402.5h0.6M158.2 396.9h0.6M158.1 399.6h0.6M166.5 392.2h0.6M149.8 402.3h0.6M163.6 404.3h0.6M157.2 398.3h0.6M165.7 398.7h0.6M158.6 399.6h0.6M153.6 405.0h0.6M159.1 397.1h0.6M161.8 393.3h0.6M157.7 403.9h0.6M160.3 394.9h0.6M154.5 400.4h0.6M145.1 393.1h0.6M162.7 396.7h0.6M161.6 398.6h0.6M158.4 395.3h0.6M157.9 397.0h0.6M163.5 399.6h0.6M154.8 396.7h0.6M153.4 400.4h0.6M156.4 403.7h0.6M164.4 392.0h0.6M149.5 400.3h0.6M164.4 399.5h0.6M153.8 397.9h0.6M151.1 403.6h0.6M164.8 401.6h0.6M156.9 400.0h0.6M150.0 400.7h0.6M155.4 398.5h0.6M162.9 394.8h0.6M164.4 399.2h0.6M155.0 397.3h0.6M159.9 396.6h0.6M161.6 401.2h0.6M153.8 398.2h0.6M159.6 401.0h0.6M157.3 395.5h0.6M154.4 397.5h0.6M154.6 398.7h0.6M157.9 402.3h0.6M157.7 398.2h0.6M154.2 401.0h0.6M155.0 396.7h0.6M164.0 398.2h0.6M158.7 400.7h0.6M162.6 395.4h0.6M164.5 395.8h0.6M160.9 399.8h0.6M170.7 393.9h0.6M152.7 399.8h0.6M162.2 398.9h0.6M155.7 398.3h0.6M168.3 399.6h0.6M167.4 398.8h0.6M146.2 400.1h0.6M151.9 394.7h0.6M161.4 393.9h0.6M162.1 398.8h0.6M161.8 393.5h0.6M157.1 398.7h0.6M160.1 397.2h0.6M161.3 395.6h0.6M157.0 397.7h0.6M163.5 391.0h0.6M144.4 399.1h0.6M161.2 401.5h0.6M151.5 395.4h0.6M163.1 399.1h0.6M156.2 399.5h0.6M159.7 395.4h0.6M152.2 396.7h0.6M152.2 396.8h0.6M148.4 396.6h0.6M157.3 393.7h0.6M160.4 398.3h0.6M163.4 395.2h0.6M156.7 400.7h0.6M163.6 398.9h0.6M157.6 395.5h0.6M157.0 397.4h0.6M160.8 402.0h0.6M163.6 396.9h0.6M155.5 399.2h0.6M156.1 401.0h0.6M156.6 397.4h0.6M158.0 399.6h0.6M152.3 403.5h0.6M163.5 401.1h0.6M155.2 393.7h0.6M160.2 402.5h0.6M152.7 398.3h0.6M159.6 396.6h0.6M159.8 396.5h0.6M155.1 402.2h0.6M169.2 398.2h0.6M159.7 397.9h0.6M167.8 395.2h0.6M163.1 399.8h0.6M153.7 402.2h0.6M155.3 395.9h0.6M160.0 395.1h0.6M157.9 397.4h0.6M157.8 400.2h0.6M155.8 397.5h0.6M147.0 399.2h0.6M156.2 396.3h0.6M144.6 403.3h0.6M159.7 398.0h0.6M153.3 399.4h0.6M153.4 402.1h0.6M156.2 398.0h0.6M159.1 398.2h0.6M149.2 400.5h0.6M147.4 398.4h0.6M151.3 403.1h0.6M145.7 399.8h0.6M151.9 397.8h0.6M166.7 396.8h0.6M151.4 396.1h0.6M161.3 401.5h0.6M149.5 403.6h0.6M159.2 397.6h0.6M155.6 397.4h0.6M157.2 392.5h0.6M160.8 396.4h0.6M167.7 400.0h0.6M158.6 396.1h0.6M158.2 400.8h0.6M151.9 403.3h0.6M160.9 390.7h0.6M156.1 397.7h0.6M162.3 396.0h0.6M157.2 396.9h0.6M167.6 392.3h0.6M146.0 398.8h0.6M155.8 395.2h0.6M162.6 400.9h0.6M155.5 402.7h0.6M152.9 394.9h0.6M156.0 394.5h0.6M149.5 397.8h0.6M158.2 397.8h0.6M171.7 396.6h0.6M164.1 399.8h0.6M151.1 394.8h0.6M152.4 397.1h0.6M155.2 397.3h0.6M163.3 396.8h0.6M152.7 396.0h0.6M153.5 397.5h0.6M162.6 395.9h0.6M162.5 401.3h0.6M155.3 397.3h0.6M151.0 392.9h0.6M148.5 400.9h0.6M153.4 399.3h0.6M144.6 397.3h0.6M161.8 395.3h0.6M153.8 397.1h0.6M160.3 402.8h0.6M168.3 396.0h0.6M164.3 401.2h0.6M150.8 401.5h0.6M162.5 396.4h0.6M164.2 398.7h0.6M153.2 396.6h0.6M152.0 390.1h0.6M156.9 396.4h0.6M148.2 397.4h0.6M166.0 400.2h0.6M143.5 401.7h0.6M151.1 402.2h0.6M155.9 400.2h0.6M156.2 401.7h0.6M158.5 400.3h0.6M159.1 398.9h0.6M156.3 401.5h0.6M164.1 401.9h0.6M145.1 403.6h0.6M157.5 397.2h0.6M153.4 398.7h0.6M158.3 395.5h0.6M158.8 395.4h0.6M152.2 400.0h0.6M153.8 397.0h0.6M162.1 402.1h0.6M159.5 391.8h0.6M153.6 395.5h0.6M169.3 397.9h0.6M170.9 400.5h0.6M149.0 398.3h0.6M159.3 403.6h0.6M172.1 399.3h0.6M162.0 395.9h0.6M158.8 398.2h0.6M156.3 400.0h0.6M154.4 396.1h0.6M156.3 401.6h0.6M154.3 398.0h0.6M161.8 399.5h0.6M155.2 401.1h0.6M154.9 397.4h0.6M150.5 402.0h0.6M157.2 393.1h0.6M152.3 400.7h0.6M156.5 393.0h0.6M163.5 401.0h0.6M159.6 396.6h0.6M160.4 401.6h0.6M159.6 402.1h0.6M157.8 398.0h0.6M156.8 396.6h0.6M155.7 402.3h0.6M161.9 394.7h0.6M151.2 401.4h0.6M165.3 397.3h0.6M157.7 397.4h0.6M153.2 397.2h0.6M154.7 403.9h0.6M153.6 394.3h0.6M158.4 396.8h0.6M153.3 400.1h0.6M164.1 400.7h0.6M153.0 403.8h0.6M144.3 403.7h0.6M153.3 397.4h0.6M145.9 400.6h0.6M157.3 401.7h0.6M163.6 399.4h0.6M161.3 393.7h0.6M149.7 400.2h0.6M153.1 400.6h0.6M167.8 393.6h0.6M159.3 397.0h0.6M157.5 398.4h0.6M163.6 399.6h0.6M171.7 401.5h0.6M165.0 401.1h0.6M158.3 399.8h0.6M159.6 398.9h0.6M161.1 397.1h0.6M153.9 397.3h0.6M151.4 398.5h0.6M157.8 397.8h0.6M152.0 401.9h0.6M157.1 404.7h0.6M158.1 399.9h0.6M171.1 399.9h0.6M152.6 400.8h0.6M156.8 399.4h0.6M156.5 402.1h0.6M160.0 401.4h0.6M163.6 398.2h0.6M154.7 398.5h0.6M152.7 400.8h0.6M148.0 398.0h0.6M152.1 399.7h0.6M160.6 401.1h0.6M157.8 398.4h0.6M151.6 393.7h0.6M155.3 400.6h0.6M157.7 395.2h0.6M160.4 394.3h0.6M154.1 394.6h0.6M156.0 401.0h0.6M147.0 393.8h0.6M150.8 398.8h0.6M166.9 398.3h0.6M144.8 400.4h0.6M155.5 397.0h0.6M158.8 398.2h0.6M155.3 399.2h0.6M152.8 395.3h0.6M157.1 400.6h0.6M157.5 401.5h0.6M157.0 396.3h0.6M146.6 397.6h0.6M156.6 395.5h0.6M152.5 402.0h0.6M154.3 395.7h0.6M158.8 397.0h0.6M161.2 393.1h0.6M162.7 401.5h0.6M154.6 398.2h0.6M162.9 398.8h0.6M164.3 402.3h0.6M164.1 399.9h0.6M165.6 394.5h0.6M156.7 399.9h0.6M156.5 400.7h0.6M162.3 395.6h0.6M149.6 396.5h0.6M158.7 395.6h0.6M154.4 401.1h0.6M155.4 398.9h0.6M147.4 396.6h0.6M152.3 400.9h0.6M157.4 400.6h0.6M162.7 395.6h0.6M163.2 393.5h0.6M157.0 401.8h0.6M156.4 406.0h0.6M152.7 403.1h0.6M159.8 401.1h0.6M156.1 399.0h0.6M161.0 396.4h0.6M167.7 397.9h0.6M157.3 400.5h0.6M148.8 398.9h0.6M152.5 401.7h0.6M149.0 399.5h0.6M150.6 401.0h0.6M165.1 390.1h0.6M158.8 396.0h0.6M148.7 401.8h0.6M161.3 401.0h0.6M164.8 399.0h0.6M155.4 403.4h0.6M153.6 401.0h0.6M155.5 400.8h0.6M159.2 395.8h0.6M161.2 399.3h0.6M164.4 400.1h0.6M164.5 401.6h0.6M164.4 401.2h0.6M165.4 397.9h0.6M161.3 398.7h0.6M148.6 396.2h0.6M156.7 400.4h0.6M159.3 395.3h0.6M155.3 398.0h0.6M162.8 398.0h0.6M155.4 404.4h0.6M152.1 402.7h0.6M165.9 395.6h0.6M161.4 394.1h0.6M158.8 397.8h0.6M162.9 395.8h0.6M163.7 399.0h0.6M159.5 399.4h0.6M143.2 401.8h0.6M153.6 396.1h0.6M154.9 397.8h0.6M151.8 399.7h0.6M158.7 399.3h0.6M164.4 396.2h0.6M154.7 397.9h0.6M150.9 401.5h0.6M169.3 392.4h0.6M154.9 398.0h0.6M150.3 399.2h0.6M158.9 394.2h0.6M160.0 395.3h0.6M153.4 399.2h0.6M162.1 396.5h0.6M154.7 401.8h0.6M152.1 400.9h0.6M158.5 404.8h0.6M162.0 394.6h0.6M153.8 404.3h0.6M159.4 396.4h0.6M157.0 400.9h0.6M173.9 399.6h0.6M153.4 399.5h0.6M165.5 396.9h0.6M157.2 396.8h0.6M156.8 393.5h0.6M161.7 397.1h0.6M162.7 395.5h0.6M164.8 399.5h0.6M159.4 396.3h0.6M154.0 398.4h0.6M154.4 400.1h0.6M160.5 398.5h0.6M160.9 398.3h0.6M165.6 397.1h0.6M159.9 397.1h0.6M163.6 399.3h0.6M166.3 399.7h0.6M158.5 396.3h0.6M148.9 404.2h0.6M150.7 400.9h0.6M149.2 394.9h0.6M166.7 405.3h0.6M152.6 401.0h0.6M164.6 395.8h0.6M160.9 402.8h0.6M167.4 390.1h0.6M163.3 405.3h0.6M156.9 394.5h0.6M156.3 394.2h0.6M158.0 395.8h0.6M158.5 399.0h0.6M154.4 397.8h0.6M157.3 401.1h0.6M166.8 395.3h0.6M147.6 402.7h0.6M159.0 399.1h0.6M152.2 396.2h0.6M158.6 401.6h0.6M162.4 399.0h0.6M157.2 398.1h0.6M162.0 401.9h0.6M148.3 396.1h0.6M163.9 396.9h0.6M154.0 403.2h0.6M161.1 398.3h0.6M158.6 400.6h0.6M142.5 401.9h0.6M153.1 398.7h0.6M158.8 400.4h0.6M166.5 394.9h0.6M159.2 400.3h0.6M159.0 395.6h0.6M149.3 399.4h0.6M165.8 395.2h0.6M168.0 399.0h0.6M157.7 399.9h0.6M156.2 401.9h0.6M148.1 397.8h0.6M162.6 395.3h0.6M173.2 390.9h0.6M161.7 394.4h0.6M164.8 397.1h0.6M160.6 398.8h0.6M151.8 398.0h0.6M165.3 397.8h0.6M150.3 395.1h0.6M156.3 395.9h0.6M159.1 400.7h0.6M162.6 399.9h0.6M159.9 394.4h0.6M159.7 397.4h0.6M153.1 399.6h0.6M150.0 395.9h0.6M157.9 399.6h0.6M153.4 399.7h0.6M149.9 400.6h0.6M150.2 404.8h0.6M154.7 396.3h0.6M146.8 403.0h0.6M149.7 400.9h0.6M148.0 401.6h0.6M158.6 396.3h0.6M159.9 398.5h0.6M169.1 397.3h0.6M148.8 404.1h0.6M153.6 399.1h0.6M162.8 402.2h0.6M156.2 397.8h0.6M155.6 397.6h0.6M167.4 397.6h0.6M155.5 392.9h0.6M150.8 397.7h0.6M149.9 397.6h0.6M159.4 397.9h0.6M159.3 398.9h0.6M149.5 396.6h0.6M151.8 395.9h0.6M160.6 401.9h0.6M160.8 395.2h0.6M153.8 397.4h0.6M161.1 395.4h0.6M160.8 396.8h0.6M147.2 403.1h0.6M155.7 402.0h0.6M159.9 393.1h0.6M154.2 398.1h0.6M145.1 403.8h0.6M155.9 397.7h0.6M161.9 399.1h0.6M166.7 402.8h0.6M144.8 406.3h0.6M172.7 401.5h0.6M151.0 398.4h0.6M163.1 398.1h0.6M164.7 398.5h0.6M163.2 397.1h0.6M158.4 396.7h0.6M150.8 405.1h0.6M161.1 399.0h0.6M153.4 401.3h0.6M142.9 403.5h0.6M173.9 398.4h0.6M161.6 398.4h0.6M168.0 398.2h0.6M152.2 403.2h0.6M166.0 399.0h0.6M166.7 391.9h0.6M166.5 400.6h0.6M157.4 403.3h0.6M150.5 398.4h0.6M156.5 396.9h0.6M144.7 398.5h0.6M147.6 402.7h0.6M158.0 395.6h0.6M151.7 401.3h0.6M156.5 401.8h0.6M156.9 400.3h0.6M168.7 397.7h0.6M165.0 395.7h0.6M157.2 396.8h0.6M164.5 397.9h0.6M153.0 396.3h0.6M155.5 398.5h0.6M162.8 395.4h0.6M150.3 403.2h0.6M155.9 403.1h0.6M149.8 397.1h0.6M158.2 402.4h0.6M167.0 398.4h0.6M153.1 399.2h0.6M158.8 399.8h0.6M152.3 400.3h0.6M150.8 395.2h0.6M150.3 406.4h0.6M165.9 395.1h0.6M171.2 390.6h0.6M160.3 398.2h0.6M153.3 399.0h0.6M161.6 396.0h0.6M155.6 393.5h0.6M162.1 401.4h0.6M159.2 398.1h0.6M159.1 398.9h0.6M161.0 396.6h0.6M154.1 398.4h0.6M155.2 396.9h0.6M147.5 400.7h0.6M154.9 398.6h0.6M149.3 401.2h0.6M156.7 400.5h0.6M151.9 399.5h0.6M158.1 398.8h0.6M160.1 401.6h0.6M149.3 394.9h0.6M152.8 399.4h0.6M152.0 403.0h0.6M161.8 394.9h0.6M167.4 399.6h0.6M162.4 396.6h0.6M155.5 398.8h0.6M166.0 396.9h0.6M148.7 398.9h0.6M166.2 399.3h0.6M153.7 398.8h0.6M141.4 394.3h0.6M172.9 403.3h0.6M166.7 397.4h0.6M151.5 397.9h0.6M158.5 401.4h0.6M156.3 402.5h0.6M158.1 392.3h0.6M148.9 400.4h0.6M153.5 393.0h0.6M160.2 396.7h0.6M158.8 398.2h0.6M164.5 396.5h0.6M158.0 396.6h0.6M171.1 393.8h0.6M153.3 397.7h0.6M159.0 397.9h0.6M146.4 399.1h0.6M150.2 395.4h0.6M165.2 395.4h0.6M152.0 401.9h0.6M160.6 400.0h0.6M157.1 397.6h0.6M151.4 400.9h0.6M155.5 399.8h0.6M154.5 401.5h0.6M154.7 399.5h0.6M161.9 396.9h0.6M161.3 395.3h0.6M154.2 398.8h0.6M152.2 393.1h0.6M159.1 398.6h0.6M156.9 389.5h0.6M163.5 395.1h0.6M172.9 395.5h0.6M162.4 399.4h0.6M156.5 399.0h0.6M152.5 398.5h0.6M152.2 393.6h0.6M151.7 403.0h0.6M155.2 393.3h0.6M155.0 399.5h0.6M161.8 396.0h0.6M155.2 405.9h0.6M156.4 398.2h0.6M150.4 400.2h0.6M167.0 395.6h0.6M160.4 397.9h0.6M167.9 400.7h0.6M162.1 395.3h0.6M166.1 395.7h0.6M156.1 396.9h0.6M161.7 395.2h0.6M173.2 393.8h0.6M150.4 399.3h0.6M164.3 401.7h0.6M167.3 401.5h0.6M159.9 394.4h0.6M161.9 396.0h0.6M164.9 397.5h0.6M153.6 400.1h0.6M159.9 398.2h0.6M152.3 398.9h0.6M153.5 399.9h0.6M153.8 400.9h0.6M156.7 392.4h0.6M158.4 397.8h0.6M160.2 400.0h0.6M149.1 403.0h0.6M169.3 399.4h0.6M164.4 395.8h0.6M161.8 395.9h0.6M155.4 399.3h0.6M157.0 398.4h0.6M160.8 399.0h0.6M159.9 401.4h0.6M147.5 395.8h0.6M161.9 397.0h0.6M174.8 389.7h0.6M146.5 401.7h0.6M163.4 398.3h0.6M159.7 395.8h0.6M156.8 399.3h0.6M165.7 401.6h0.6M150.5 401.9h0.6M158.5 398.1h0.6M166.2 396.7h0.6M156.3 398.9h0.6M155.0 395.9h0.6M158.2 395.6h0.6M154.9 397.8h0.6M166.7 397.5h0.6M152.1 399.8h0.6M162.7 396.4h0.6M150.0 396.6h0.6M161.5 397.9h0.6M156.9 397.3h0.6M142.1 401.0h0.6M157.5 402.5h0.6M151.1 402.0h0.6M154.9 396.6h0.6M166.7 396.3h0.6M150.8 394.6h0.6M151.2 399.0h0.6M166.1 395.2h0.6M158.2 394.7h0.6M166.7 394.8h0.6M159.4 400.0h0.6M152.2 399.6h0.6M157.1 398.2h0.6M164.8 400.6h0.6M163.1 396.6h0.6M157.5 395.6h0.6M157.8 399.8h0.6M156.8 393.0h0.6M154.1 399.7h0.6M169.0 397.9h0.6M157.5 399.2h0.6M150.8 401.2h0.6M154.7 397.6h0.6M161.8 398.0h0.6M161.3 393.4h0.6M156.7 396.9h0.6M153.5 397.4h0.6M157.6 399.1h0.6M147.5 403.5h0.6M149.7 399.5h0.6M162.3 400.4h0.6M154.6 396.1h0.6M159.7 398.4h0.6M164.8 393.0h0.6M161.4 396.0h0.6M157.6 396.1h0.6M170.2 396.6h0.6M161.5 397.5h0.6M155.4 396.9h0.6M161.9 395.4h0.6M159.9 400.3h0.6M152.4 397.6h0.6M157.9 391.0h0.6M156.5 398.9h0.6M145.8 400.4h0.6M156.5 400.6h0.6M155.8 402.8h0.6M154.9 395.4h0.6M159.5 400.8h0.6M161.5 401.5h0.6M174.7 392.1h0.6M180.3 398.5h0.6M151.4 395.3h0.6M168.0 396.0h0.6M164.3 394.3h0.6M162.4 391.6h0.6M163.1 395.1h0.6M158.8 395.4h0.6M172.5 399.4h0.6M164.2 399.7h0.6M161.9 395.4h0.6M169.6 391.4h0.6M166.6 392.2h0.6M162.9 389.5h0.6M161.8 396.6h0.6M173.9 395.4h0.6M163.4 394.0h0.6M158.3 398.0h0.6M151.7 399.1h0.6M156.1 402.0h0.6M150.1 395.7h0.6M159.9 401.6h0.6M161.2 396.0h0.6M141.6 405.1h0.6M159.2 394.2h0.6M164.5 400.8h0.6M160.4 394.9h0.6M150.9 404.5h0.6M169.8 398.1h0.6M153.1 394.7h0.6M148.6 402.1h0.6M149.8 398.9h0.6M158.9 399.7h0.6M167.4 404.9h0.6M168.9 395.7h0.6M160.8 396.3h0.6M148.9 403.1h0.6M153.4 396.7h0.6M151.4 401.7h0.6M157.5 401.6h0.6M143.9 399.9h0.6M160.0 400.2h0.6M164.5 389.4h0.6M157.7 403.5h0.6M162.9 395.0h0.6M151.0 395.6h0.6M146.6 406.4h0.6M153.6 404.6h0.6M168.8 394.8h0.6M167.8 398.5h0.6M155.1 397.2h0.6M169.2 392.8h0.6M156.2 399.6h0.6M171.9 400.0h0.6M155.2 397.8h0.6M165.8 400.3h0.6M152.4 397.8h0.6M151.1 398.2h0.6M146.7 404.3h0.6M161.2 391.8h0.6M158.5 394.3h0.6M158.3 395.2h0.6M155.5 402.5h0.6M171.2 397.8h0.6M155.4 400.3h0.6M152.9 400.2h0.6M169.6 400.5h0.6M171.1 395.0h0.6M161.9 396.8h0.6M144.2 398.6h0.6M153.9 400.4h0.6M164.2 392.9h0.6M159.2 397.3h0.6M172.2 405.7h0.6M147.4 401.7h0.6M164.8 397.5h0.6M153.7 395.4h0.6M170.2 397.6h0.6M158.4 398.9h0.6M167.8 399.2h0.6M153.5 396.4h0.6M147.0 401.1h0.6M149.6 401.3h0.6M153.8 401.2h0.6M150.3 397.2h0.6M169.2 398.5h0.6M170.4 402.3h0.6M161.3 395.6h0.6M150.2 401.5h0.6M158.0 396.9h0.6M153.2 397.5h0.6M171.4 392.3h0.6M161.7 394.1h0.6M163.2 399.4h0.6M155.6 399.0h0.6M141.9 404.6h0.6M152.4 393.1h0.6M149.5 397.7h0.6M162.1 392.8h0.6M159.8 399.0h0.6M152.2 405.9h0.6M155.7 393.2h0.6M172.3 396.0h0.6M150.8 398.6h0.6M151.2 398.8h0.6M157.1 396.0h0.6M153.1 396.9h0.6M155.4 403.9h0.6M163.5 393.7h0.6M173.7 397.9h0.6M143.9 401.5h0.6M158.8 392.1h0.6M159.4 394.8h0.6M158.3 399.3h0.6M157.4 404.6h0.6M156.1 397.8h0.6M167.5 395.1h0.6M155.0 398.8h0.6M157.9 402.4h0.6M159.0 400.7h0.6M159.9 402.2h0.6M157.5 397.4h0.6M167.5 394.1h0.6M158.9 394.5h0.6M160.5 400.3h0.6M158.6 397.2h0.6M150.5 397.2h0.6M151.9 400.7h0.6M150.1 399.6h0.6M160.6 390.5h0.6M152.9 398.1h0.6M150.0 396.1h0.6M161.0 399.2h0.6M163.5 397.3h0.6M144.0 405.8h0.6M173.4 396.3h0.6M159.3 393.9h0.6M158.1 390.9h0.6M168.1 392.7h0.6M159.6 395.6h0.6M153.9 398.5h0.6M177.7 397.7h0.6M149.9 399.7h0.6M158.2 396.0h0.6M166.2 399.8h0.6M149.9 396.0h0.6M158.1 401.5h0.6M162.3 403.7h0.6M179.4 398.9h0.6M151.4 404.7h0.6M158.6 402.8h0.6M164.6 393.4h0.6M159.7 398.6h0.6M148.8 398.5h0.6M162.5 393.6h0.6M159.9 393.6h0.6M162.8 399.3h0.6M168.6 392.2h0.6M167.6 395.6h0.6M162.5 397.5h0.6M161.6 396.1h0.6M149.7 404.1h0.6M157.9 400.8h0.6M160.9 398.1h0.6M155.6 396.3h0.6M159.8 399.2h0.6M152.0 399.3h0.6M172.0 393.0h0.6M177.3 390.8h0.6M155.7 395.8h0.6M162.4 393.2h0.6M157.0 399.6h0.6M169.7 397.7h0.6M162.7 396.4h0.6M159.7 399.0h0.6M157.1 400.0h0.6M160.1 392.2h0.6M150.5 399.8h0.6M164.7 400.6h0.6M152.9 397.1h0.6M163.5 391.1h0.6M160.1 397.6h0.6M168.3 392.6h0.6M158.9 399.5h0.6M167.7 398.6h0.6M151.2 401.4h0.6M164.2 397.8h0.6M157.1 391.9h0.6M160.7 401.8h0.6M159.6 392.3h0.6M167.0 400.5h0.6M141.8 401.0h0.6M161.7 394.8h0.6M146.3 397.4h0.6M169.3 395.7h0.6M142.2 405.8h0.6M150.5 397.8h0.6M144.8 403.3h0.6M172.9 387.4h0.6M148.0 400.1h0.6M160.0 397.2h0.6M154.4 402.5h0.6M143.7 401.6h0.6M156.1 402.8h0.6M164.6 393.9h0.6M157.4 399.1h0.6M167.0 395.1h0.6M155.9 400.7h0.6M159.1 399.7h0.6M155.7 394.0h0.6M161.9 401.0h0.6M175.1 402.1h0.6M162.1 396.2h0.6M160.7 401.7h0.6M153.7 400.2h0.6M152.6 395.7h0.6M171.4 399.2h0.6M149.5 396.2h0.6M151.2 401.3h0.6M158.2 393.0h0.6M155.4 393.9h0.6M175.6 397.5h0.6M138.9 401.3h0.6M162.1 400.5h0.6M165.1 396.5h0.6M149.5 395.3h0.6M153.5 403.7h0.6M162.7 394.4h0.6M172.9 400.8h0.6M151.2 401.9h0.6M145.6 405.8h0.6M167.3 389.7h0.6M172.0 396.2h0.6M156.2 397.5h0.6M140.2 402.7h0.6M171.3 392.8h0.6M157.3 405.4h0.6M168.6 396.7h0.6M158.6 390.5h0.6M155.8 399.7h0.6M155.2 398.4h0.6M171.5 394.1h0.6M171.2 399.2h0.6M140.8 400.2h0.6M151.0 395.7h0.6M174.1 395.4h0.6M155.9 397.1h0.6M147.4 400.7h0.6M159.0 396.9h0.6M158.1 397.9h0.6M158.2 393.1h0.6M154.9 396.0h0.6M156.4 399.2h0.6M155.1 406.9h0.6M161.8 395.2h0.6M152.1 396.3h0.6M156.5 401.5h0.6M157.8 405.0h0.6M170.1 400.5h0.6M162.2 394.4h0.6M158.1 401.8h0.6M163.6 399.0h0.6M162.5 396.8h0.6M168.2 392.6h0.6M163.3 397.5h0.6M174.2 396.4h0.6M170.4 398.4h0.6M158.7 392.4h0.6M155.5 394.8h0.6M166.5 397.4h0.6M163.4 402.2h0.6M158.2 400.8h0.6M146.4 397.6h0.6M143.4 402.5h0.6M162.0 394.6h0.6M165.6 395.9h0.6M165.8 396.1h0.6M148.1 397.1h0.6M167.8 395.2h0.6M154.5 401.5h0.6M162.3 398.7h0.6M162.5 389.5h0.6M152.2 403.0h0.6M154.0 400.3h0.6M141.4 396.6h0.6M151.2 399.5h0.6M143.7 402.7h0.6M162.7 402.1h0.6M159.5 396.1h0.6M166.8 393.5h0.6M162.0 392.8h0.6M153.6 398.5h0.6M161.9 394.0h0.6M155.7 402.0h0.6M164.2 396.8h0.6M161.7 400.0h0.6M150.6 398.5h0.6M159.0 395.4h0.6M159.5 394.3h0.6M156.4 401.7h0.6M166.6 392.7h0.6M173.6 397.8h0.6M155.9 401.9h0.6M156.0 399.0h0.6M139.9 405.5h0.6M157.9 398.1h0.6M155.3 397.5h0.6M140.6 401.0h0.6M161.5 395.8h0.6M164.0 398.4h0.6M152.8 398.8h0.6M155.8 403.3h0.6M150.8 398.9h0.6M165.5 400.1h0.6M146.1 401.2h0.6M156.3 398.7h0.6M175.6 395.2h0.6M159.4 403.6h0.6M163.0 402.9h0.6M157.8 399.2h0.6M149.0 397.6h0.6M158.7 396.8h0.6M162.5 394.5h0.6M150.3 394.6h0.6M161.9 395.9h0.6M169.6 396.7h0.6M168.1 400.4h0.6M145.5 403.0h0.6M150.7 400.7h0.6M145.3 398.8h0.6M168.1 396.1h0.6M164.2 397.3h0.6M165.0 397.8h0.6M151.5 396.8h0.6M149.1 398.5h0.6M159.7 396.9h0.6M159.9 396.8h0.6M151.7 400.8h0.6M160.2 401.4h0.6M164.5 395.6h0.6M160.9 396.3h0.6M150.2 399.9h0.6M141.0 401.7h0.6M156.8 390.5h0.6M160.4 400.4h0.6M156.8 399.0h0.6M155.4 397.6h0.6M153.1 402.7h0.6M165.1 396.8h0.6M158.6 391.9h0.6M160.0 394.7h0.6M150.7 396.9h0.6M153.7 396.6h0.6M160.4 397.4h0.6M150.5 395.8h0.6M148.3 399.9h0.6M156.2 399.8h0.6M169.2 396.4h0.6M160.6 394.7h0.6M171.4 395.3h0.6M157.9 395.8h0.6M156.4 405.3h0.6M147.2 395.4h0.6M154.1 390.6h0.6M171.2 391.9h0.6M161.8 398.7h0.6M165.2 400.1h0.6M165.0 396.3h0.6M158.9 401.4h0.6M157.3 395.7h0.6M160.0 399.7h0.6M164.7 394.0h0.6M162.9 392.8h0.6M163.2 404.4h0.6M160.3 396.8h0.6M152.5 401.2h0.6M156.8 403.1h0.6M151.0 401.1h0.6M167.5 397.7h0.6M141.1 396.7h0.6M157.1 403.5h0.6M179.3 391.8h0.6M156.1 391.4h0.6M149.4 397.2h0.6M158.8 396.1h0.6M170.0 396.7h0.6M157.6 402.2h0.6M164.2 395.5h0.6M159.8 396.6h0.6M155.8 395.9h0.6M185.8 385.8h0.6M159.6 395.4h0.6M154.4 397.1h0.6M154.8 393.2h0.6M162.2 402.2h0.6M162.5 401.5h0.6M165.6 398.5h0.6M160.2 400.1h0.6M146.8 397.2h0.6M163.5 398.5h0.6M156.4 392.4h0.6M156.6 393.1h0.6M146.4 397.0h0.6M154.1 399.9h0.6M152.8 396.7h0.6M158.7 395.3h0.6M146.6 403.2h0.6M159.4 396.7h0.6M160.1 395.4h0.6M149.5 398.5h0.6M153.7 393.3h0.6M151.7 394.8h0.6M166.7 399.9h0.6M137.5 400.3h0.6M156.1 401.2h0.6M144.9 397.8h0.6M155.3 401.4h0.6M166.2 393.9h0.6M153.6 397.3h0.6M160.2 394.5h0.6M151.8 399.4h0.6M175.5 400.9h0.6M166.8 390.9h0.6M168.6 397.4h0.6M147.7 394.7h0.6M149.6 397.7h0.6M168.2 394.5h0.6M157.3 391.9h0.6M156.8 397.1h0.6M161.8 392.8h0.6M148.3 404.5h0.6M165.6 394.2h0.6M159.2 398.8h0.6M163.1 397.9h0.6M153.3 398.7h0.6M163.4 396.3h0.6M153.0 393.1h0.6M167.1 403.3h0.6M168.6 396.6h0.6M166.8 399.5h0.6M163.4 393.4h0.6M164.4 398.8h0.6M136.0 399.4h0.6M166.1 398.5h0.6M156.7 396.0h0.6M159.8 394.4h0.6M156.6 399.7h0.6M147.2 399.3h0.6M154.4 403.5h0.6M164.6 396.2h0.6M171.0 393.5h0.6M153.7 400.6h0.6M151.3 395.1h0.6M171.3 403.6h0.6M151.5 405.3h0.6M176.6 400.5h0.6M159.4 399.6h0.6M151.5 398.9h0.6M167.4 397.2h0.6M173.4 396.4h0.6M146.8 397.1h0.6M172.3 397.9h0.6M156.6 402.6h0.6M171.6 400.7h0.6M155.8 391.2h0.6M163.3 398.1h0.6M166.9 392.0h0.6M176.8 394.1h0.6M173.7 399.0h0.6M164.9 397.2h0.6M157.0 395.3h0.6M154.6 394.4h0.6M156.5 401.4h0.6M151.9 396.3h0.6M156.7 397.4h0.6M137.4 397.0h0.6M160.5 393.0h0.6M158.8 399.2h0.6M180.8 400.2h0.6M165.4 395.8h0.6M154.9 392.4h0.6M163.8 395.0h0.6M148.6 398.5h0.6M153.9 390.4h0.6M143.1 403.6h0.6M171.2 393.3h0.6M164.0 399.3h0.6M149.0 399.1h0.6M158.5 397.8h0.6M167.1 391.8h0.6M163.2 400.7h0.6M162.2 399.4h0.6M151.7 404.4h0.6M153.6 397.0h0.6M159.8 399.5h0.6M166.8 395.6h0.6M181.5 381.5h0.6M163.5 396.8h0.6M175.2 387.2h0.6M166.4 393.1h0.6M188.5 375.4h0.6M171.0 384.9h0.6M160.5 397.0h0.6M175.3 388.2h0.6M162.7 395.0h0.6M187.4 389.5h0.6M181.4 383.6h0.6M170.7 392.8h0.6M170.9 389.5h0.6M158.1 397.0h0.6M160.2 394.3h0.6M176.1 378.1h0.6M185.1 389.5h0.6M174.9 384.4h0.6M185.4 384.8h0.6M175.2 388.5h0.6M154.9 398.9h0.6M184.6 382.5h0.6M183.7 384.2h0.6M172.6 390.0h0.6M172.5 397.1h0.6M176.5 392.1h0.6M187.5 387.9h0.6M190.8 372.5h0.6M162.1 400.0h0.6M185.7 382.5h0.6M165.4 391.4h0.6M176.7 391.0h0.6M163.2 396.0h0.6M174.9 395.8h0.6M191.1 381.6h0.6M179.9 382.5h0.6M164.5 396.7h0.6M164.9 389.0h0.6M161.6 398.4h0.6M163.5 390.8h0.6M158.6 401.3h0.6M160.8 402.3h0.6M167.9 393.9h0.6M166.3 387.1h0.6M161.4 396.0h0.6M180.9 387.6h0.6M192.5 380.4h0.6M180.9 383.2h0.6M165.1 389.9h0.6M177.0 386.5h0.6M175.4 390.2h0.6M170.5 399.6h0.6M179.8 383.8h0.6M184.0 383.1h0.6M186.8 386.3h0.6M174.0 387.9h0.6M157.9 394.8h0.6M165.2 394.4h0.6M169.4 390.6h0.6M180.9 383.9h0.6M175.9 391.5h0.6M165.4 395.9h0.6M182.2 376.4h0.6M162.0 395.1h0.6M173.0 393.9h0.6M177.3 382.7h0.6M170.3 390.0h0.6M160.7 396.1h0.6M165.5 397.4h0.6M177.1 388.8h0.6M185.9 380.4h0.6M155.8 392.0h0.6M172.6 391.8h0.6M166.0 390.3h0.6M175.2 395.6h0.6M167.6 392.1h0.6M168.5 392.0h0.6M171.4 393.8h0.6M189.5 385.0h0.6M171.0 393.5h0.6M161.7 396.0h0.6M185.6 378.5h0.6M175.6 385.9h0.6M179.9 384.2h0.6M188.1 381.9h0.6M190.0 374.0h0.6M163.8 395.2h0.6M187.9 380.0h0.6M171.7 394.8h0.6M175.0 399.3h0.6M174.5 387.2h0.6M172.8 391.5h0.6M171.6 389.2h0.6M158.1 395.9h0.6M180.4 387.8h0.6M177.8 384.1h0.6M180.1 391.7h0.6M163.4 395.8h0.6M174.5 384.9h0.6M186.2 389.3h0.6M176.8 394.0h0.6M163.5 399.2h0.6M172.2 386.8h0.6M178.3 389.3h0.6M187.0 379.1h0.6M168.7 395.5h0.6M168.1 395.4h0.6M176.9 384.0h0.6M163.8 396.3h0.6M175.8 389.2h0.6M161.5 399.4h0.6M157.6 396.5h0.6M163.7 391.0h0.6M170.6 391.5h0.6M169.5 390.7h0.6M166.8 389.7h0.6M166.3 396.3h0.6M165.1 393.3h0.6M184.9 386.4h0.6M160.1 390.6h0.6M171.2 401.0h0.6M169.8 398.9h0.6M181.7 388.1h0.6M173.8 382.9h0.6M164.2 387.3h0.6M163.1 393.4h0.6M178.5 383.3h0.6M173.4 396.5h0.6M184.1 388.6h0.6M159.5 394.3h0.6M166.6 399.4h0.6M162.7 399.0h0.6M159.0 395.5h0.6M172.7 394.4h0.6M178.2 391.7h0.6M160.1 393.8h0.6M189.0 373.2h0.6M185.4 381.9h0.6M160.0 399.5h0.6M167.0 390.7h0.6M164.8 389.6h0.6M163.2 398.2h0.6M159.7 385.7h0.6M182.1 386.7h0.6M158.3 393.1h0.6M169.1 395.5h0.6M173.4 397.3h0.6M175.9 385.2h0.6M181.6 384.5h0.6M174.4 398.1h0.6M159.5 395.9h0.6M185.2 382.7h0.6M183.1 388.3h0.6M164.7 397.9h0.6M188.2 386.0h0.6M166.6 394.4h0.6M172.3 389.7h0.6M178.0 389.4h0.6M174.5 389.8h0.6M159.5 400.7h0.6M178.5 389.4h0.6M162.5 402.4h0.6M178.8 383.5h0.6M167.5 395.7h0.6M174.7 397.4h0.6M189.2 381.3h0.6M188.1 382.7h0.6M174.6 387.6h0.6M195.2 373.0h0.6M169.3 394.2h0.6M184.7 385.9h0.6M187.0 378.5h0.6M166.9 389.2h0.6M183.7 378.7h0.6M191.1 386.3h0.6M173.3 393.6h0.6M181.0 381.7h0.6M180.3 387.6h0.6M168.0 385.6h0.6M182.8 379.6h0.6M186.3 393.4h0.6M162.2 395.3h0.6M170.6 389.0h0.6M179.0 383.8h0.6M168.4 390.8h0.6M185.2 376.8h0.6M160.1 396.8h0.6M164.0 394.5h0.6M166.3 397.5h0.6M169.3 388.2h0.6M181.0 388.2h0.6M166.6 397.7h0.6M162.5 389.4h0.6M168.8 395.4h0.6M186.8 372.2h0.6M169.4 393.4h0.6M177.9 392.1h0.6M165.7 393.5h0.6M176.3 390.9h0.6M179.0 385.3h0.6M163.0 397.2h0.6M168.4 397.3h0.6M183.3 381.9h0.6M182.3 388.5h0.6M173.6 388.6h0.6M184.4 388.9h0.6M162.8 390.6h0.6M178.5 387.9h0.6M183.4 379.5h0.6M163.5 397.2h0.6M168.7 395.4h0.6M176.9 386.8h0.6M181.8 389.6h0.6M157.3 392.9h0.6M162.3 395.6h0.6M165.5 392.6h0.6M165.4 389.9h0.6M158.7 396.2h0.6M164.1 395.0h0.6M162.6 392.0h0.6M170.1 392.6h0.6M178.9 386.5h0.6M163.8 398.5h0.6M175.8 389.9h0.6M169.5 399.4h0.6M180.1 387.3h0.6M179.0 382.0h0.6M167.7 390.8h0.6M163.4 390.5h0.6M158.3 399.8h0.6M184.8 391.4h0.6M173.1 394.3h0.6M164.4 397.5h0.6M178.8 378.7h0.6M177.9 379.3h0.6M180.9 383.7h0.6M173.3 390.3h0.6M165.4 390.8h0.6M170.7 394.0h0.6M153.6 397.8h0.6M189.3 384.5h0.6M162.4 401.0h0.6M162.4 398.3h0.6M191.5 378.5h0.6M173.0 391.0h0.6M171.9 391.6h0.6M170.0 386.8h0.6M175.2 394.8h0.6M195.7 376.5h0.6M189.3 381.5h0.6M183.2 380.9h0.6M173.9 396.1h0.6M168.5 396.3h0.6M187.7 390.6h0.6M168.7 397.2h0.6M168.5 394.6h0.6M159.3 399.5h0.6M168.2 390.7h0.6M173.7 392.5h0.6M185.1 373.9h0.6M177.5 389.6h0.6M161.1 397.9h0.6M164.8 390.0h0.6M160.8 403.5h0.6M171.1 387.6h0.6M160.9 400.1h0.6M159.5 395.1h0.6M185.8 387.2h0.6M170.5 390.1h0.6M164.8 403.4h0.6M174.4 393.6h0.6M176.5 396.9h0.6M178.0 390.5h0.6M165.6 397.1h0.6M187.4 379.4h0.6M161.0 396.0h0.6M182.2 388.0h0.6M175.4 391.1h0.6M167.5 391.1h0.6M157.3 392.2h0.6M155.1 395.1h0.6M169.7 396.2h0.6M184.6 383.7h0.6M171.4 395.2h0.6M177.2 388.3h0.6M171.7 389.8h0.6M161.0 393.5h0.6M179.8 383.6h0.6M163.9 392.6h0.6M170.4 390.4h0.6M184.1 385.7h0.6M186.8 378.9h0.6M185.5 378.3h0.6M163.0 397.8h0.6M162.7 394.9h0.6M189.9 377.5h0.6M159.4 405.4h0.6M157.2 401.5h0.6M175.0 390.8h0.6M162.7 397.8h0.6M163.0 396.0h0.6M173.1 394.4h0.6M171.4 389.6h0.6M188.4 375.2h0.6M183.5 383.1h0.6M158.6 402.2h0.6M169.1 400.0h0.6M185.0 374.0h0.6M180.1 391.0h0.6M193.0 373.8h0.6M167.4 396.9h0.6M180.1 381.1h0.6M163.8 399.7h0.6M166.8 393.1h0.6M166.1 394.6h0.6M175.4 391.0h0.6M170.4 393.2h0.6M184.7 380.3h0.6M172.9 387.8h0.6M164.6 401.7h0.6M172.1 388.7h0.6M179.4 380.6h0.6M173.1 383.7h0.6M161.7 386.9h0.6M179.1 385.4h0.6M174.7 395.0h0.6M181.5 378.8h0.6M168.0 391.4h0.6M169.8 383.9h0.6M174.5 396.2h0.6M165.3 395.6h0.6M189.1 380.0h0.6M169.7 395.6h0.6M173.0 397.5h0.6M167.6 396.6h0.6M177.8 391.0h0.6M182.3 376.7h0.6M172.2 386.2h0.6M162.5 391.0h0.6M186.2 391.3h0.6M162.3 393.1h0.6M189.7 378.6h0.6M164.9 396.9h0.6M174.8 395.4h0.6M185.6 381.4h0.6M186.3 383.9h0.6M167.8 393.7h0.6M184.5 381.1h0.6M176.2 381.1h0.6M167.3 395.6h0.6M192.6 378.5h0.6M177.9 385.4h0.6M169.5 392.8h0.6M175.7 391.5h0.6M161.5 400.5h0.6M170.4 392.0h0.6M172.0 392.0h0.6M171.8 393.5h0.6M163.3 396.1h0.6M166.4 397.2h0.6M166.2 393.5h0.6M184.5 387.2h0.6M195.2 374.0h0.6M160.1 391.3h0.6M182.4 383.0h0.6M180.7 389.8h0.6M178.6 386.9h0.6M181.4 384.0h0.6M166.0 394.6h0.6M162.4 395.3h0.6M188.1 379.3h0.6M171.6 392.9h0.6M189.3 369.7h0.6M186.5 387.2h0.6M180.7 382.9h0.6M169.0 390.6h0.6M179.4 392.6h0.6M159.3 397.5h0.6M174.0 396.0h0.6M195.1 371.6h0.6M186.1 386.5h0.6M168.1 394.7h0.6M163.6 388.2h0.6M185.4 382.3h0.6M158.9 395.6h0.6M165.5 390.9h0.6M187.5 382.8h0.6M185.0 377.0h0.6M166.9 395.6h0.6M177.6 389.4h0.6M185.1 380.8h0.6M159.5 401.6h0.6M167.5 394.8h0.6M160.9 393.5h0.6M163.5 390.5h0.6M174.5 392.2h0.6M175.5 390.0h0.6M186.3 380.4h0.6M162.2 390.8h0.6M178.3 391.3h0.6M177.1 388.5h0.6M182.8 383.0h0.6M165.7 399.5h0.6M183.6 378.6h0.6M162.9 396.7h0.6M171.5 384.1h0.6M173.6 389.7h0.6M164.2 398.6h0.6M163.1 399.2h0.6M175.3 385.6h0.6M161.5 398.3h0.6M172.1 395.2h0.6M168.7 393.9h0.6M176.6 402.0h0.6M173.8 392.2h0.6M165.0 392.6h0.6M168.2 397.0h0.6M162.6 388.4h0.6M193.6 382.6h0.6M169.0 396.2h0.6M175.6 387.0h0.6M185.4 387.2h0.6M178.9 389.9h0.6M165.2 403.4h0.6M166.2 390.5h0.6M172.6 387.2h0.6M165.4 387.1h0.6M186.9 378.3h0.6M169.2 384.4h0.6M170.8 393.1h0.6M173.8 392.6h0.6M169.8 389.8h0.6M168.3 388.3h0.6M171.4 395.2h0.6M172.5 392.8h0.6M161.5 397.3h0.6M162.6 399.2h0.6M161.3 392.5h0.6M161.6 393.3h0.6M186.0 391.8h0.6M180.6 387.2h0.6M164.1 392.2h0.6M172.9 391.7h0.6M170.5 388.6h0.6M179.1 382.8h0.6M178.1 385.7h0.6M165.9 394.9h0.6M176.1 389.3h0.6M168.6 394.7h0.6M178.7 380.2h0.6M178.1 384.2h0.6M168.5 395.7h0.6M178.4 383.3h0.6M190.1 383.7h0.6M168.1 396.1h0.6M168.9 387.9h0.6M177.7 390.6h0.6M173.8 385.5h0.6M172.7 392.1h0.6M189.1 386.4h0.6M188.9 389.2h0.6M181.1 385.8h0.6M160.1 399.3h0.6M171.3 390.6h0.6M181.0 389.6h0.6M170.3 384.1h0.6M189.0 380.0h0.6M172.5 395.4h0.6M162.6 398.2h0.6M166.8 392.9h0.6M165.4 396.6h0.6M175.9 395.6h0.6M184.0 385.8h0.6M173.4 392.3h0.6M181.7 385.5h0.6M164.4 396.4h0.6M184.5 390.9h0.6M177.1 393.1h0.6M167.3 393.3h0.6M180.5 385.0h0.6M188.8 372.1h0.6M164.4 397.6h0.6M164.6 396.7h0.6M175.7 391.0h0.6M170.1 395.4h0.6M169.2 395.5h0.6M178.7 385.4h0.6M184.8 379.5h0.6M178.7 387.5h0.6M182.5 384.3h0.6M186.0 382.1h0.6M170.7 389.4h0.6M171.6 391.7h0.6M192.8 385.8h0.6M165.9 391.4h0.6M185.7 384.7h0.6M173.7 391.1h0.6M174.9 386.0h0.6M162.2 390.6h0.6M178.7 383.3h0.6M167.6 390.1h0.6M169.2 396.6h0.6M180.1 383.7h0.6M176.7 387.7h0.6M166.2 398.0h0.6M168.4 393.6h0.6M163.7 396.2h0.6M175.8 395.1h0.6M167.2 389.8h0.6M172.4 388.9h0.6M174.2 389.8h0.6M163.2 401.2h0.6M172.6 391.3h0.6M190.8 384.2h0.6M166.8 397.1h0.6M161.9 393.4h0.6M166.2 395.8h0.6M192.2 374.5h0.6M161.0 394.9h0.6M180.6 393.9h0.6M163.7 399.2h0.6M176.1 390.6h0.6M179.3 386.0h0.6M166.9 394.2h0.6M165.6 395.6h0.6M165.9 390.9h0.6M162.4 390.8h0.6M166.0 395.7h0.6M159.7 398.4h0.6M169.7 392.8h0.6M173.1 386.5h0.6M169.9 392.4h0.6M178.5 391.6h0.6M161.7 398.2h0.6M174.8 398.1h0.6M168.6 391.3h0.6M170.2 394.6h0.6M184.9 387.7h0.6M170.1 391.4h0.6M164.9 394.1h0.6M162.9 393.4h0.6M158.3 395.0h0.6M186.7 382.1h0.6M192.4 384.2h0.6M186.5 382.6h0.6M177.0 389.4h0.6M177.4 388.9h0.6M182.2 390.1h0.6M187.5 381.7h0.6M173.9 391.2h0.6M164.3 399.3h0.6M182.8 381.4h0.6M162.2 396.6h0.6M177.6 386.9h0.6M181.3 381.3h0.6M178.1 386.6h0.6M169.7 389.0h0.6M194.8 383.4h0.6M180.5 392.3h0.6M161.7 394.7h0.6M178.3 388.1h0.6M170.1 392.2h0.6M180.4 384.1h0.6M168.4 394.6h0.6M192.7 375.9h0.6M181.2 384.0h0.6M175.1 386.3h0.6M169.7 392.4h0.6M180.9 384.9h0.6M180.4 386.6h0.6M179.6 392.4h0.6M166.2 394.2h0.6M166.3 396.3h0.6M190.4 377.5h0.6M160.3 392.8h0.6M162.7 396.9h0.6M165.2 397.6h0.6M171.5 390.6h0.6M164.3 402.2h0.6M166.2 391.9h0.6M185.5 381.8h0.6M171.7 390.4h0.6M173.8 397.9h0.6M161.4 399.3h0.6M173.0 393.2h0.6M167.6 388.9h0.6M177.8 388.2h0.6M169.9 390.2h0.6M184.1 389.3h0.6M175.2 391.8h0.6M169.4 392.2h0.6M163.8 396.6h0.6M170.2 397.8h0.6M173.0 390.9h0.6M169.3 392.8h0.6M176.1 386.2h0.6M165.3 392.5h0.6M169.1 389.3h0.6M165.6 397.5h0.6M174.6 390.7h0.6M171.6 387.1h0.6M171.6 393.2h0.6M163.7 391.2h0.6M168.4 379.9h0.6M169.3 397.1h0.6M173.8 394.9h0.6M162.3 390.2h0.6M164.9 394.2h0.6M193.7 374.6h0.6M165.9 394.5h0.6M173.8 386.4h0.6M190.7 372.4h0.6M183.6 385.3h0.6M182.2 378.9h0.6M163.0 397.1h0.6M172.6 390.9h0.6M160.1 394.0h0.6M162.8 396.3h0.6M173.4 383.2h0.6M185.3 388.3h0.6M164.8 387.7h0.6M172.8 388.9h0.6M191.9 381.0h0.6M174.0 391.0h0.6M167.2 392.2h0.6M171.1 398.2h0.6M178.1 382.2h0.6M165.1 389.8h0.6M175.7 390.1h0.6M181.0 386.1h0.6M183.1 382.8h0.6M170.5 399.4h0.6M177.1 385.9h0.6M188.0 379.5h0.6M158.3 395.8h0.6M191.1 375.4h0.6M178.0 391.5h0.6M170.7 392.5h0.6M178.7 389.4h0.6M179.6 382.5h0.6M175.3 391.0h0.6M181.7 387.1h0.6M167.0 392.4h0.6M162.0 401.3h0.6M176.6 388.2h0.6M184.7 382.2h0.6M178.3 391.9h0.6M175.7 386.3h0.6M173.1 384.5h0.6M191.7 389.5h0.6M175.2 387.7h0.6M179.7 381.9h0.6M166.5 399.0h0.6M185.1 385.3h0.6M191.4 385.9h0.6M183.3 384.3h0.6M180.2 389.6h0.6M174.2 387.3h0.6M179.9 393.1h0.6M171.0 387.9h0.6M175.9 389.3h0.6M186.6 383.4h0.6M178.3 387.2h0.6M182.8 382.0h0.6M177.8 385.9h0.6M167.4 397.0h0.6M165.8 397.1h0.6M184.0 382.0h0.6M189.5 383.1h0.6M165.7 401.6h0.6M180.9 388.8h0.6M186.6 373.8h0.6M189.2 377.3h0.6M176.4 395.3h0.6M170.9 400.0h0.6M192.9 375.2h0.6M173.4 389.8h0.6M170.6 391.3h0.6M168.0 394.1h0.6M180.4 383.8h0.6M156.6 396.6h0.6M176.8 385.0h0.6M187.4 388.3h0.6M178.6 388.1h0.6M185.1 381.0h0.6M172.3 395.5h0.6M176.8 388.8h0.6M176.4 388.6h0.6M169.0 397.4h0.6M165.8 391.9h0.6M175.8 392.2h0.6M169.6 397.0h0.6M171.6 393.7h0.6M175.7 390.4h0.6M164.5 394.8h0.6M181.2 383.0h0.6M169.4 392.7h0.6M168.6 395.0h0.6M180.4 387.8h0.6M169.6 393.1h0.6M177.0 387.7h0.6M182.1 382.0h0.6M170.3 391.7h0.6M162.5 395.4h0.6M162.2 400.5h0.6M181.8 385.7h0.6M169.2 392.3h0.6M172.0 393.3h0.6M164.9 393.2h0.6M166.1 391.2h0.6M165.0 387.5h0.6M169.6 384.5h0.6M163.2 390.3h0.6M182.3 388.9h0.6M179.8 387.7h0.6M187.8 377.8h0.6M173.1 394.3h0.6M179.4 383.2h0.6M169.6 394.4h0.6M188.5 381.9h0.6M172.8 388.3h0.6M166.5 401.6h0.6M173.9 383.7h0.6M170.6 390.1h0.6M181.2 383.2h0.6M186.8 385.1h0.6M176.4 386.6h0.6M170.5 386.2h0.6M162.1 394.9h0.6M184.7 379.9h0.6M178.5 396.7h0.6M187.5 386.5h0.6M167.7 394.9h0.6M191.8 376.3h0.6M166.5 396.7h0.6M162.7 388.8h0.6M167.0 394.5h0.6M165.7 393.5h0.6M160.5 395.2h0.6M172.9 393.2h0.6M171.3 388.8h0.6M165.5 391.5h0.6M180.6 392.2h0.6M176.1 390.9h0.6M192.7 378.4h0.6M182.0 383.0h0.6M190.5 379.1h0.6M191.5 383.4h0.6M166.3 396.9h0.6M166.4 399.7h0.6M167.4 394.4h0.6M187.1 376.9h0.6M165.2 403.1h0.6M170.0 398.7h0.6M165.0 398.0h0.6M179.2 390.6h0.6M173.3 384.4h0.6M159.2 394.7h0.6M170.6 391.0h0.6M169.5 399.0h0.6M158.2 391.3h0.6M165.5 390.9h0.6M195.5 381.5h0.6M175.1 389.2h0.6M169.3 392.4h0.6M181.5 389.2h0.6M184.1 380.4h0.6M185.5 385.8h0.6M181.7 384.9h0.6M174.4 393.6h0.6M173.3 390.2h0.6M175.8 387.6h0.6M189.5 384.2h0.6M186.9 378.8h0.6M167.9 394.9h0.6M178.0 385.2h0.6M171.9 394.8h0.6M176.2 387.3h0.6M179.4 384.8h0.6M174.7 390.6h0.6M169.4 398.4h0.6M176.1 382.1h0.6M183.2 385.5h0.6M173.6 393.2h0.6M189.9 374.0h0.6M184.2 376.2h0.6M187.2 387.1h0.6M177.2 386.4h0.6M180.4 385.1h0.6M170.0 399.7h0.6M169.7 391.2h0.6M183.4 382.6h0.6M190.4 368.6h0.6M173.5 386.8h0.6M162.9 389.9h0.6M166.6 400.7h0.6M179.3 391.0h0.6M174.3 385.5h0.6M167.8 403.3h0.6M158.0 398.6h0.6M181.2 385.3h0.6M174.3 395.3h0.6M195.3 375.5h0.6M171.3 391.3h0.6M163.6 388.2h0.6M170.4 388.0h0.6M192.1 376.8h0.6M178.0 386.3h0.6M168.6 393.1h0.6M164.5 399.0h0.6M176.2 385.9h0.6M192.3 379.3h0.6M176.6 386.9h0.6M167.7 394.5h0.6M172.0 386.8h0.6M178.1 388.0h0.6M178.4 384.0h0.6M182.5 378.9h0.6M184.9 377.9h0.6M173.9 387.8h0.6M184.2 387.5h0.6M162.7 397.3h0.6M165.6 390.2h0.6M186.4 378.1h0.6M169.8 382.7h0.6M169.1 392.0h0.6M179.7 387.8h0.6M168.0 401.1h0.6M162.9 397.7h0.6M165.0 396.7h0.6M186.5 382.4h0.6M168.1 395.0h0.6M172.5 387.0h0.6M173.8 389.1h0.6M174.9 393.9h0.6M181.6 387.5h0.6M179.6 391.8h0.6M179.4 388.8h0.6M163.2 394.8h0.6M182.4 382.0h0.6M161.2 393.9h0.6M183.9 376.6h0.6M173.1 393.6h0.6M167.8 391.0h0.6M166.4 393.9h0.6M167.1 399.2h0.6M177.2 393.2h0.6M175.5 390.3h0.6M168.4 395.6h0.6M180.7 381.9h0.6M182.5 391.7h0.6M180.4 386.7h0.6M163.5 394.1h0.6M165.8 398.0h0.6M173.8 396.8h0.6M181.4 383.4h0.6M172.9 390.1h0.6M169.5 400.8h0.6M174.4 387.1h0.6M163.4 401.3h0.6M183.6 381.1h0.6M172.9 395.4h0.6M185.9 379.2h0.6M185.5 383.8h0.6M178.4 387.8h0.6M190.1 375.4h0.6M171.6 395.3h0.6M176.7 390.5h0.6M178.8 379.5h0.6M177.4 390.3h0.6M195.6 375.7h0.6M171.7 385.8h0.6M166.8 391.1h0.6M179.4 383.4h0.6M159.6 396.7h0.6M160.3 393.6h0.6M191.5 368.2h0.6M169.3 392.8h0.6M180.5 386.3h0.6M163.9 389.0h0.6M168.9 392.8h0.6M165.5 397.8h0.6M180.2 387.7h0.6M173.0 389.6h0.6M175.1 384.1h0.6M184.9 381.4h0.6M167.7 391.8h0.6M176.6 392.6h0.6M176.8 394.3h0.6M167.3 392.7h0.6M166.3 399.2h0.6M163.4 387.9h0.6M166.1 393.8h0.6M162.3 392.8h0.6M171.2 396.6h0.6M173.3 388.2h0.6M158.3 398.8h0.6M175.2 382.6h0.6M164.6 396.9h0.6M159.3 398.0h0.6M174.1 392.3h0.6M176.1 383.2h0.6M168.7 394.7h0.6M159.8 398.8h0.6M167.5 397.6h0.6M166.0 395.8h0.6M172.1 383.5h0.6M160.0 395.1h0.6M187.9 382.1h0.6M160.7 393.9h0.6M174.5 393.4h0.6M172.2 388.0h0.6M179.5 391.0h0.6M178.0 392.9h0.6M182.9 383.9h0.6M175.9 398.7h0.6M165.6 397.3h0.6M184.4 383.4h0.6M183.4 385.4h0.6M184.1 386.3h0.6M167.2 392.1h0.6M171.9 386.0h0.6M179.5 385.1h0.6M175.9 392.3h0.6M176.9 388.3h0.6M171.7 383.0h0.6M167.3 387.0h0.6M178.1 385.3h0.6M181.2 385.1h0.6M178.3 388.7h0.6M164.3 390.7h0.6M183.3 387.5h0.6M159.5 395.3h0.6M190.0 377.7h0.6M181.1 385.6h0.6M183.2 389.6h0.6M165.7 397.8h0.6M171.4 397.0h0.6M169.0 391.8h0.6M174.3 390.7h0.6M162.3 392.1h0.6M172.0 390.8h0.6M181.2 382.0h0.6M170.8 390.5h0.6M178.3 392.0h0.6M160.9 398.2h0.6M171.5 395.5h0.6M184.9 379.7h0.6M177.2 395.0h0.6M169.2 392.9h0.6M169.9 396.9h0.6M179.3 389.1h0.6M174.1 394.8h0.6M179.7 385.8h0.6M181.6 378.2h0.6M161.8 389.2h0.6M169.3 399.7h0.6M170.6 392.1h0.6M176.6 391.7h0.6M165.9 395.8h0.6M178.9 380.1h0.6M182.6 391.9h0.6M177.6 385.0h0.6M176.0 391.3h0.6M167.7 394.2h0.6M177.2 385.2h0.6M163.4 392.0h0.6M167.1 392.5h0.6M187.3 383.5h0.6M191.7 375.5h0.6M186.0 380.4h0.6M165.3 390.4h0.6M170.7 394.3h0.6M165.2 399.2h0.6M191.8 377.1h0.6M170.5 387.8h0.6M167.5 382.7h0.6M178.5 392.3h0.6M171.6 393.2h0.6M163.0 392.7h0.6M161.8 400.1h0.6M166.5 393.2h0.6M185.1 387.9h0.6M168.7 390.2h0.6M166.7 397.2h0.6M186.6 380.8h0.6M181.2 377.7h0.6M164.6 399.5h0.6M173.8 390.1h0.6M166.9 387.2h0.6M168.1 394.8h0.6M190.7 385.5h0.6M160.1 392.5h0.6M173.0 388.8h0.6M172.2 393.6h0.6M171.7 392.1h0.6M181.6 381.1h0.6M168.3 395.9h0.6M178.4 384.9h0.6M187.6 387.2h0.6M185.0 381.9h0.6M181.3 382.2h0.6M186.0 388.0h0.6M175.0 400.9h0.6M155.9 396.9h0.6M171.6 390.8h0.6M161.6 393.3h0.6M164.8 397.7h0.6M169.7 392.7h0.6M157.5 393.8h0.6M169.5 394.8h0.6M175.0 394.0h0.6M179.0 391.5h0.6M191.6 387.4h0.6M174.6 394.6h0.6M191.9 374.7h0.6M177.8 388.7h0.6M171.2 394.3h0.6M165.2 397.8h0.6M179.8 392.2h0.6M176.5 393.4h0.6M183.6 386.6h0.6M183.6 382.6h0.6M180.3 392.8h0.6M176.3 392.1h0.6M174.0 387.1h0.6M158.2 402.2h0.6M164.5 397.4h0.6M164.2 393.9h0.6M189.9 378.9h0.6M175.6 388.4h0.6M176.3 384.0h0.6M172.9 389.9h0.6M162.7 391.5h0.6M161.2 396.7h0.6M183.9 383.3h0.6M175.8 395.4h0.6M159.2 396.5h0.6M182.3 387.9h0.6M171.6 389.6h0.6M187.1 377.6h0.6M169.0 388.1h0.6M191.1 384.0h0.6M169.3 392.7h0.6M183.1 385.0h0.6M175.5 387.6h0.6M172.6 389.7h0.6M168.4 392.3h0.6M173.3 393.1h0.6M160.3 400.1h0.6M163.3 393.5h0.6M173.8 387.2h0.6M157.7 394.6h0.6M176.4 396.8h0.6M172.8 387.6h0.6M167.8 398.1h0.6M185.8 386.6h0.6M175.4 395.0h0.6M163.5 396.3h0.6M180.6 376.7h0.6M191.6 374.7h0.6M176.4 397.0h0.6M178.1 387.4h0.6M178.0 392.7h0.6M177.9 382.9h0.6M162.1 396.2h0.6M163.3 397.1h0.6M164.2 396.3h0.6M171.1 402.4h0.6M178.5 384.8h0.6M183.6 383.1h0.6M167.9 391.7h0.6M173.7 381.6h0.6M170.2 384.7h0.6M172.2 392.5h0.6M173.5 385.6h0.6M191.5 384.2h0.6M182.5 389.3h0.6M172.7 390.8h0.6M174.2 381.8h0.6M175.9 390.0h0.6M171.6 391.3h0.6M177.3 394.8h0.6M174.8 389.8h0.6M171.2 393.9h0.6M163.2 396.5h0.6M176.6 389.6h0.6M169.7 389.2h0.6M162.5 390.4h0.6M158.4 390.8h0.6M193.7 373.3h0.6M181.4 381.6h0.6M179.9 390.0h0.6M172.0 398.8h0.6M172.0 397.2h0.6M177.6 390.7h0.6M182.4 390.4h0.6M183.7 383.8h0.6M158.4 394.9h0.6M174.7 400.7h0.6M177.6 383.1h0.6M175.2 390.2h0.6M170.9 394.3h0.6M161.3 398.9h0.6M159.7 394.1h0.6M163.8 398.1h0.6M177.0 389.5h0.6M159.9 392.5h0.6M171.3 393.6h0.6M181.0 384.7h0.6M178.3 384.8h0.6M163.1 391.5h0.6M173.1 389.7h0.6M160.2 396.9h0.6M179.9 383.5h0.6M170.3 395.9h0.6M172.5 393.6h0.6M163.0 393.3h0.6M193.0 383.1h0.6M178.4 387.7h0.6M170.9 389.3h0.6M167.3 391.1h0.6M174.7 392.1h0.6M173.9 391.9h0.6M160.1 398.9h0.6M178.8 382.6h0.6M163.3 394.9h0.6M167.5 397.0h0.6M186.9 380.7h0.6M166.5 394.6h0.6M162.9 393.9h0.6M164.9 391.5h0.6M170.1 397.7h0.6M180.2 380.4h0.6M180.0 390.2h0.6M179.3 387.0h0.6M173.7 388.2h0.6M190.0 377.8h0.6M192.9 371.3h0.6M173.0 386.6h0.6M159.0 396.5h0.6M169.2 387.9h0.6M175.6 393.6h0.6M169.2 395.7h0.6M167.2 398.7h0.6M171.3 385.9h0.6M164.4 386.9h0.6M158.8 392.5h0.6M183.6 382.0h0.6M177.1 387.9h0.6M180.6 388.1h0.6M176.1 390.0h0.6M170.7 392.7h0.6M164.8 390.1h0.6M178.4 395.9h0.6M180.8 380.0h0.6M181.3 386.1h0.6M170.1 396.2h0.6M188.7 382.9h0.6M189.0 378.5h0.6M155.7 402.2h0.6M183.1 385.1h0.6M168.6 400.2h0.6M172.2 391.1h0.6M174.3 396.2h0.6M167.4 396.6h0.6M174.7 391.1h0.6M160.8 395.5h0.6M160.3 400.0h0.6M163.2 395.4h0.6M180.4 385.6h0.6M168.6 385.8h0.6M164.3 396.8h0.6M183.8 384.7h0.6M182.0 389.4h0.6M185.0 384.7h0.6M184.2 379.2h0.6M173.8 388.7h0.6M172.1 393.2h0.6M170.2 397.1h0.6M185.2 382.6h0.6M183.8 388.6h0.6M168.5 391.1h0.6M180.1 387.8h0.6M166.1 390.1h0.6M163.7 396.5h0.6M186.0 381.3h0.6M192.6 382.0h0.6M189.6 380.9h0.6M184.0 382.3h0.6M171.2 389.8h0.6M167.7 393.9h0.6M178.4 382.7h0.6M165.5 392.3h0.6M166.1 391.3h0.6M193.1 375.9h0.6M176.1 397.5h0.6M172.2 388.0h0.6M185.8 380.6h0.6M161.2 396.8h0.6M164.0 394.9h0.6M192.8 379.3h0.6M181.2 388.1h0.6M165.4 391.8h0.6M167.0 394.8h0.6M169.3 392.1h0.6M174.5 392.4h0.6M161.6 394.2h0.6M184.9 382.8h0.6M158.5 391.6h0.6M185.6 381.5h0.6M161.9 397.2h0.6M180.8 385.2h0.6M170.2 393.0h0.6M173.0 390.3h0.6M186.2 373.8h0.6M164.2 388.2h0.6M162.7 398.4h0.6M187.4 382.2h0.6M168.0 399.5h0.6M173.0 387.0h0.6M194.5 375.2h0.6M178.1 390.4h0.6M192.3 370.1h0.6M174.2 390.8h0.6M159.5 392.1h0.6M176.6 391.7h0.6M164.0 396.2h0.6M169.5 389.7h0.6M172.1 400.1h0.6M176.3 389.5h0.6M162.2 396.8h0.6M175.9 381.5h0.6M168.4 388.2h0.6M186.6 388.7h0.6M162.4 401.3h0.6M167.0 399.1h0.6M165.5 387.6h0.6M169.8 394.9h0.6M169.4 391.1h0.6M175.7 392.5h0.6M156.4 397.8h0.6M162.0 392.5h0.6M187.0 377.4h0.6M181.3 383.2h0.6M164.8 394.9h0.6M168.4 395.4h0.6M180.1 384.9h0.6M163.0 395.6h0.6M165.2 393.5h0.6M167.6 391.1h0.6M165.4 395.0h0.6M170.7 389.2h0.6M161.0 398.0h0.6M161.0 391.6h0.6M175.4 388.2h0.6M172.6 394.8h0.6M167.0 391.0h0.6M181.5 381.1h0.6M158.3 392.8h0.6M185.8 379.4h0.6M171.7 392.2h0.6M180.4 385.7h0.6M181.2 384.2h0.6M170.8 395.9h0.6M172.2 394.1h0.6M185.2 390.0h0.6M174.9 389.7h0.6M179.7 386.7h0.6M184.5 384.2h0.6M157.4 394.5h0.6M161.8 393.5h0.6M189.0 379.4h0.6M161.3 395.4h0.6M180.5 390.9h0.6M176.9 392.7h0.6M174.0 390.8h0.6M167.4 387.9h0.6M176.8 387.7h0.6M177.9 385.4h0.6M182.9 375.5h0.6M162.9 395.8h0.6M162.7 390.1h0.6M159.9 392.7h0.6M178.2 385.8h0.6M185.7 387.8h0.6M173.1 391.0h0.6M164.8 399.6h0.6M159.1 396.5h0.6M184.2 380.0h0.6M180.0 391.2h0.6M164.8 397.8h0.6M177.1 387.3h0.6M166.0 391.8h0.6M180.2 386.6h0.6M175.9 386.5h0.6M187.3 379.4h0.6M172.7 390.8h0.6M178.9 393.7h0.6M165.8 401.5h0.6M163.0 398.4h0.6M185.9 382.8h0.6M177.6 389.8h0.6M172.5 399.3h0.6M164.6 400.8h0.6M183.6 392.7h0.6M183.0 388.0h0.6M160.4 398.4h0.6M169.9 398.0h0.6M182.3 390.5h0.6M169.8 393.7h0.6M162.7 391.7h0.6M169.5 397.0h0.6M160.2 397.3h0.6M180.4 389.6h0.6M173.0 389.3h0.6M163.3 390.4h0.6M190.4 378.6h0.6M171.8 392.0h0.6M178.3 382.6h0.6M161.2 393.6h0.6M166.7 394.8h0.6M160.1 395.6h0.6M174.3 382.7h0.6M167.2 401.6h0.6M160.3 399.8h0.6M173.0 389.2h0.6M194.8 365.1h0.6M172.2 394.1h0.6M161.0 403.5h0.6M169.0 394.5h0.6M185.8 388.7h0.6M164.8 391.4h0.6M159.1 397.6h0.6M181.4 384.3h0.6M167.5 402.0h0.6M165.3 395.6h0.6M191.3 364.5h0.6M168.9 386.4h0.6M164.5 396.1h0.6M171.2 389.2h0.6M180.5 386.8h0.6M185.1 386.7h0.6M191.6 383.6h0.6M175.5 390.2h0.6M181.8 379.0h0.6M174.9 390.6h0.6M172.6 384.7h0.6M159.8 394.0h0.6M161.0 397.2h0.6M164.9 395.4h0.6M191.5 371.8h0.6M159.0 395.9h0.6M169.3 389.3h0.6M190.5 384.3h0.6M164.6 393.2h0.6M177.5 390.0h0.6M180.5 383.5h0.6M190.0 384.1h0.6M180.2 385.7h0.6M165.9 394.1h0.6M163.6 392.2h0.6M183.7 383.3h0.6M175.8 384.6h0.6M182.7 395.9h0.6M172.9 386.2h0.6M187.7 384.5h0.6M184.1 380.5h0.6M167.8 390.6h0.6M170.2 394.2h0.6M185.9 377.3h0.6M160.9 394.6h0.6M160.0 391.6h0.6M183.2 380.2h0.6M171.5 387.0h0.6M163.3 399.9h0.6M166.8 390.3h0.6M169.1 388.6h0.6M180.1 389.7h0.6M167.7 399.5h0.6M163.6 390.5h0.6M160.9 391.5h0.6M192.8 378.8h0.6M177.4 388.9h0.6M163.0 389.8h0.6M162.7 390.2h0.6M153.4 393.3h0.6M160.3 399.0h0.6M169.5 393.1h0.6M175.0 391.8h0.6M170.5 393.8h0.6M193.5 374.9h0.6M192.0 377.0h0.6M179.6 385.3h0.6M170.8 394.7h0.6M181.1 380.4h0.6M166.1 391.9h0.6M192.9 377.9h0.6M172.1 391.7h0.6M167.0 393.9h0.6M161.2 398.5h0.6M159.6 396.9h0.6M177.9 389.3h0.6M176.6 388.5h0.6M171.8 394.7h0.6M165.6 405.0h0.6M176.2 389.3h0.6M166.6 388.0h0.6M161.5 393.2h0.6M171.4 386.4h0.6M181.4 381.9h0.6M175.8 386.4h0.6M172.3 395.4h0.6M160.2 398.5h0.6M179.2 390.7h0.6M160.6 397.7h0.6M170.2 388.2h0.6M164.9 397.1h0.6M179.9 380.0h0.6M164.4 393.8h0.6M177.2 385.0h0.6M182.8 390.3h0.6M175.1 393.4h0.6M182.9 380.4h0.6M160.0 395.8h0.6M179.6 388.1h0.6M170.0 392.9h0.6M177.9 391.1h0.6M171.1 391.8h0.6M159.0 398.1h0.6M181.3 379.9h0.6M173.6 387.5h0.6M182.8 380.1h0.6M158.4 402.0h0.6M188.5 385.4h0.6M159.4 398.2h0.6M185.1 390.2h0.6M162.5 403.7h0.6M184.3 383.8h0.6M170.5 386.1h0.6M169.7 390.3h0.6M168.1 385.3h0.6M174.4 388.0h0.6M196.1 374.2h0.6M169.3 390.8h0.6M177.5 392.0h0.6M185.3 376.3h0.6M166.2 393.8h0.6M165.7 396.7h0.6M173.9 390.9h0.6M162.8 395.7h0.6M176.2 379.9h0.6M161.5 394.8h0.6M170.9 395.2h0.6M182.6 388.1h0.6M164.8 387.9h0.6M186.9 377.4h0.6M186.4 377.1h0.6M177.3 382.6h0.6M172.5 392.3h0.6M187.3 380.1h0.6M183.7 387.2h0.6M188.3 382.6h0.6M184.2 387.6h0.6M183.9 382.2h0.6M161.9 392.9h0.6M179.4 390.4h0.6M166.2 394.3h0.6M169.0 394.6h0.6M183.7 377.2h0.6M187.5 380.1h0.6M163.0 393.2h0.6M168.6 385.5h0.6M168.5 398.0h0.6M185.8 382.1h0.6M175.7 390.9h0.6M159.7 392.2h0.6M188.7 372.2h0.6M176.5 387.3h0.6M177.3 384.9h0.6M165.5 396.4h0.6M160.3 398.6h0.6M184.4 383.2h0.6M162.1 391.0h0.6M182.9 383.5h0.6M159.4 392.1h0.6M176.0 389.8h0.6M165.1 393.2h0.6M157.2 394.3h0.6M161.4 396.4h0.6M186.1 383.5h0.6M174.8 397.0h0.6M173.2 391.3h0.6M171.6 394.3h0.6M180.9 388.6h0.6M171.7 387.0h0.6M169.2 398.5h0.6M139.6 401.8h0.6M137.8 398.3h0.6M139.4 400.6h0.6M135.5 402.4h0.6M128.8 400.8h0.6M150.0 403.3h0.6M143.4 405.0h0.6M138.7 402.3h0.6M143.9 399.9h0.6M146.3 405.2h0.6M135.2 400.8h0.6M141.1 400.4h0.6M134.3 403.9h0.6M141.5 401.8h0.6M134.8 403.3h0.6M154.9 400.8h0.6M134.0 401.1h0.6M140.6 403.9h0.6M140.2 400.1h0.6M134.2 400.9h0.6M143.7 400.0h0.6M136.1 406.8h0.6M133.6 406.8h0.6M136.7 401.1h0.6M131.1 404.3h0.6M145.7 403.3h0.6M141.4 403.8h0.6M144.1 404.8h0.6M126.6 404.1h0.6M138.7 403.9h0.6M130.9 404.5h0.6M137.3 401.5h0.6M146.2 404.3h0.6M138.6 400.0h0.6M145.1 396.5h0.6M144.3 404.8h0.6M150.6 400.1h0.6M122.7 401.9h0.6M139.1 402.4h0.6M133.6 401.3h0.6M130.1 403.4h0.6M137.6 406.3h0.6M128.0 402.6h0.6M119.9 401.6h0.6M129.9 404.3h0.6M134.7 406.4h0.6M150.7 402.6h0.6M131.3 402.4h0.6M127.9 402.7h0.6M121.9 401.5h0.6M134.1 401.6h0.6M134.9 401.7h0.6M137.8 406.8h0.6M125.8 398.8h0.6M131.0 403.0h0.6M119.7 402.2h0.6M138.0 403.2h0.6M124.9 403.9h0.6M116.1 404.3h0.6M145.4 398.4h0.6M140.5 399.0h0.6M139.3 401.0h0.6M139.3 398.1h0.6M128.9 404.1h0.6M144.7 400.8h0.6M128.8 404.2h0.6M151.0 398.5h0.6M138.4 402.3h0.6M122.9 401.7h0.6M143.2 398.3h0.6M151.5 405.7h0.6M134.8 398.1h0.6M144.7 401.2h0.6M135.1 403.4h0.6M117.3 404.9h0.6M146.0 406.7h0.6M133.4 402.7h0.6M139.5 402.7h0.6M128.2 399.4h0.6M129.9 403.9h0.6M145.1 399.5h0.6M133.8 400.3h0.6M133.7 398.4h0.6M127.2 403.9h0.6M138.3 400.8h0.6M142.6 405.3h0.6M133.3 405.2h0.6M135.3 403.3h0.6M127.6 403.4h0.6M147.2 404.2h0.6M132.1 403.8h0.6M135.5 401.1h0.6M149.4 402.4h0.6M135.0 403.0h0.6M125.1 405.5h0.6M129.8 400.2h0.6M134.0 399.0h0.6M150.1 400.9h0.6M138.4 402.6h0.6M135.0 399.1h0.6M143.0 401.0h0.6M146.5 403.1h0.6M131.0 405.9h0.6M147.5 402.9h0.6M143.2 397.2h0.6M140.1 403.5h0.6M118.9 397.9h0.6M138.2 402.4h0.6M147.3 402.1h0.6M134.7 399.9h0.6M154.2 401.5h0.6M137.3 401.7h0.6M129.1 405.4h0.6M141.2 404.8h0.6M139.0 403.9h0.6M143.1 401.5h0.6M135.1 404.1h0.6M146.6 405.9h0.6M132.6 401.9h0.6M137.8 402.8h0.6M127.4 404.0h0.6M130.8 404.4h0.6M138.3 407.2h0.6M131.8 399.5h0.6M133.4 403.9h0.6M135.2 401.5h0.6M138.7 399.4h0.6M142.6 399.6h0.6M142.6 401.6h0.6M144.6 401.8h0.6M138.4 401.7h0.6M132.7 400.9h0.6M124.8 402.3h0.6M134.2 403.7h0.6M130.8 402.1h0.6M123.1 402.9h0.6M149.3 399.9h0.6M122.9 403.3h0.6M139.5 399.3h0.6M141.0 401.7h0.6M135.1 400.8h0.6M156.4 400.7h0.6M137.0 403.7h0.6M131.0 405.1h0.6M150.2 401.7h0.6M130.8 401.9h0.6M125.9 400.7h0.6M129.2 403.4h0.6M132.0 404.1h0.6M137.2 403.6h0.6M139.4 399.5h0.6M125.3 403.3h0.6M139.5 403.4h0.6M153.8 399.4h0.6M131.4 405.8h0.6M135.8 402.4h0.6M142.1 402.1h0.6M146.0 402.0h0.6M131.8 405.4h0.6M129.5 401.0h0.6M129.2 399.6h0.6M145.2 404.6h0.6M143.7 401.7h0.6M120.4 402.6h0.6M120.6 399.1h0.6M127.4 404.2h0.6M125.4 405.6h0.6M139.9 402.3h0.6M178.9 380.6h0.6M151.0 386.5h0.6M153.8 398.1h0.6M175.5 396.8h0.6M119.3 404.0h0.6M118.9 398.6h0.6M163.0 392.8h0.6M161.1 391.9h0.6M130.1 394.9h0.6M157.4 402.2h0.6M150.6 403.6h0.6M153.1 403.9h0.6M143.5 397.7h0.6M137.4 395.8h0.6M150.7 378.5h0.6M146.7 392.8h0.6M174.2 392.3h0.6M159.0 384.9h0.6M127.4 404.4h0.6M156.0 392.8h0.6M170.6 386.2h0.6M154.0 390.0h0.6M165.6 390.9h0.6M149.5 398.5h0.6M160.1 403.0h0.6M136.6 399.1h0.6M161.3 398.4h0.6M130.2 394.3h0.6M168.5 394.2h0.6M128.3 395.4h0.6M157.6 388.2h0.6M147.5 402.2h0.6M151.6 406.5h0.6M156.1 404.5h0.6M149.6 400.4h0.6M137.3 390.2h0.6M153.0 390.7h0.6M155.0 403.3h0.6M157.1 394.3h0.6M178.5 392.4h0.6M151.0 402.6h0.6M143.6 402.9h0.6M141.9 402.7h0.6M165.3 400.1h0.6M146.1 402.0h0.6M158.8 400.3h0.6M139.5 389.7h0.6M156.4 397.4h0.6M140.3 395.8h0.6M137.9 392.6h0.6M151.6 389.6h0.6M150.7 391.2h0.6M171.2 396.6h0.6M157.3 400.2h0.6" stroke="#000" stroke-width="0.6" fill="none" opacity="0.9"/>
<ellipse cx="157.5" cy="398.8" rx="9" ry="3.2" fill="#000" opacity="0.6" filter="url(#b2)" transform="rotate(-5 157.5 398.8)"/>
<polyline points="141.4,410.9 172.2,350.5 197.5,350.5" fill="none" stroke="#333" stroke-width="0.9"/>
<text x="168" y="365" font-size="8.5" font-weight="normal" text-anchor="start" fill="#111" >94.45%</text>
<rect x="231.20" y="349.20" width="89.55" height="62.00" fill="none" stroke="#555" stroke-width="0.9" />
<line x1="231.2" y1="349.2" x2="231.2" y2="411.2" stroke="#333" stroke-width="1.5" />
<line x1="231.2" y1="411.2" x2="320.75" y2="411.2" stroke="#333" stroke-width="1.5" />
<line x1="229.0" y1="411.20" x2="231.2" y2="411.20" stroke="#333" stroke-width="1.0499999999999998" />
<text x="228.70" y="412.91" font-size="4.75" font-weight="normal" text-anchor="end" fill="#222" >0</text>
<line x1="230.0" y1="407.32" x2="231.2" y2="407.32" stroke="#555" stroke-width="0.5" />
<line x1="230.0" y1="403.45" x2="231.2" y2="403.45" stroke="#555" stroke-width="0.5" />
<line x1="230.0" y1="399.57" x2="231.2" y2="399.57" stroke="#555" stroke-width="0.5" />
<line x1="229.0" y1="395.70" x2="231.2" y2="395.70" stroke="#333" stroke-width="1.0499999999999998" />
<text x="228.70" y="397.41" font-size="4.75" font-weight="normal" text-anchor="end" fill="#222" >256</text>
<line x1="230.0" y1="391.82" x2="231.2" y2="391.82" stroke="#555" stroke-width="0.5" />
<line x1="230.0" y1="387.95" x2="231.2" y2="387.95" stroke="#555" stroke-width="0.5" />
<line x1="230.0" y1="384.07" x2="231.2" y2="384.07" stroke="#555" stroke-width="0.5" />
<line x1="229.0" y1="380.20" x2="231.2" y2="380.20" stroke="#333" stroke-width="1.0499999999999998" />
<text x="228.70" y="381.91" font-size="4.75" font-weight="normal" text-anchor="end" fill="#222" >512</text>
<line x1="230.0" y1="376.32" x2="231.2" y2="376.32" stroke="#555" stroke-width="0.5" />
<line x1="230.0" y1="372.45" x2="231.2" y2="372.45" stroke="#555" stroke-width="0.5" />
<line x1="230.0" y1="368.57" x2="231.2" y2="368.57" stroke="#555" stroke-width="0.5" />
<line x1="229.0" y1="364.70" x2="231.2" y2="364.70" stroke="#333" stroke-width="1.0499999999999998" />
<text x="228.70" y="366.41" font-size="4.75" font-weight="normal" text-anchor="end" fill="#222" >768</text>
<line x1="230.0" y1="360.82" x2="231.2" y2="360.82" stroke="#555" stroke-width="0.5" />
<line x1="230.0" y1="356.95" x2="231.2" y2="356.95" stroke="#555" stroke-width="0.5" />
<line x1="230.0" y1="353.07" x2="231.2" y2="353.07" stroke="#555" stroke-width="0.5" />
<line x1="229.0" y1="349.20" x2="231.2" y2="349.20" stroke="#333" stroke-width="1.0499999999999998" />
<text x="228.70" y="350.91" font-size="4.75" font-weight="normal" text-anchor="end" fill="#222" >1024</text>
<line x1="231.20" y1="411.2" x2="231.20" y2="413.4" stroke="#333" stroke-width="1.0499999999999998" />
<text transform="translate(230.40,421.60) scale(1.0,1.0)" font-size="4.6" text-anchor="middle" fill="#333">10<tspan font-size="3.22" dx="0.0" dy="-2.07">0</tspan></text>
<line x1="237.94" y1="411.2" x2="237.94" y2="412.4" stroke="#666" stroke-width="0.45" />
<line x1="241.88" y1="411.2" x2="241.88" y2="412.4" stroke="#666" stroke-width="0.45" />
<line x1="244.68" y1="411.2" x2="244.68" y2="412.4" stroke="#666" stroke-width="0.45" />
<line x1="246.85" y1="411.2" x2="246.85" y2="412.4" stroke="#666" stroke-width="0.45" />
<line x1="248.62" y1="411.2" x2="248.62" y2="412.4" stroke="#666" stroke-width="0.45" />
<line x1="250.12" y1="411.2" x2="250.12" y2="412.4" stroke="#666" stroke-width="0.45" />
<line x1="251.42" y1="411.2" x2="251.42" y2="412.4" stroke="#666" stroke-width="0.45" />
<line x1="252.56" y1="411.2" x2="252.56" y2="412.4" stroke="#666" stroke-width="0.45" />
<line x1="253.59" y1="411.2" x2="253.59" y2="413.4" stroke="#333" stroke-width="1.0499999999999998" />
<text transform="translate(252.79,421.60) scale(1.0,1.0)" font-size="4.6" text-anchor="middle" fill="#333">10<tspan font-size="3.22" dx="0.0" dy="-2.07">1</tspan></text>
<line x1="260.33" y1="411.2" x2="260.33" y2="412.4" stroke="#666" stroke-width="0.45" />
<line x1="264.27" y1="411.2" x2="264.27" y2="412.4" stroke="#666" stroke-width="0.45" />
<line x1="267.07" y1="411.2" x2="267.07" y2="412.4" stroke="#666" stroke-width="0.45" />
<line x1="269.24" y1="411.2" x2="269.24" y2="412.4" stroke="#666" stroke-width="0.45" />
<line x1="271.01" y1="411.2" x2="271.01" y2="412.4" stroke="#666" stroke-width="0.45" />
<line x1="272.51" y1="411.2" x2="272.51" y2="412.4" stroke="#666" stroke-width="0.45" />
<line x1="273.81" y1="411.2" x2="273.81" y2="412.4" stroke="#666" stroke-width="0.45" />
<line x1="274.95" y1="411.2" x2="274.95" y2="412.4" stroke="#666" stroke-width="0.45" />
<line x1="275.98" y1="411.2" x2="275.98" y2="413.4" stroke="#333" stroke-width="1.0499999999999998" />
<text transform="translate(275.18,421.60) scale(1.0,1.0)" font-size="4.6" text-anchor="middle" fill="#333">10<tspan font-size="3.22" dx="0.0" dy="-2.07">2</tspan></text>
<line x1="282.71" y1="411.2" x2="282.71" y2="412.4" stroke="#666" stroke-width="0.45" />
<line x1="286.66" y1="411.2" x2="286.66" y2="412.4" stroke="#666" stroke-width="0.45" />
<line x1="289.45" y1="411.2" x2="289.45" y2="412.4" stroke="#666" stroke-width="0.45" />
<line x1="291.62" y1="411.2" x2="291.62" y2="412.4" stroke="#666" stroke-width="0.45" />
<line x1="293.40" y1="411.2" x2="293.40" y2="412.4" stroke="#666" stroke-width="0.45" />
<line x1="294.89" y1="411.2" x2="294.89" y2="412.4" stroke="#666" stroke-width="0.45" />
<line x1="296.19" y1="411.2" x2="296.19" y2="412.4" stroke="#666" stroke-width="0.45" />
<line x1="297.34" y1="411.2" x2="297.34" y2="412.4" stroke="#666" stroke-width="0.45" />
<line x1="298.36" y1="411.2" x2="298.36" y2="413.4" stroke="#333" stroke-width="1.0499999999999998" />
<text transform="translate(297.56,421.60) scale(1.0,1.0)" font-size="4.6" text-anchor="middle" fill="#333">10<tspan font-size="3.22" dx="0.0" dy="-2.07">3</tspan></text>
<line x1="305.10" y1="411.2" x2="305.10" y2="412.4" stroke="#666" stroke-width="0.45" />
<line x1="309.04" y1="411.2" x2="309.04" y2="412.4" stroke="#666" stroke-width="0.45" />
<line x1="311.84" y1="411.2" x2="311.84" y2="412.4" stroke="#666" stroke-width="0.45" />
<line x1="314.01" y1="411.2" x2="314.01" y2="412.4" stroke="#666" stroke-width="0.45" />
<line x1="315.78" y1="411.2" x2="315.78" y2="412.4" stroke="#666" stroke-width="0.45" />
<line x1="317.28" y1="411.2" x2="317.28" y2="412.4" stroke="#666" stroke-width="0.45" />
<line x1="318.58" y1="411.2" x2="318.58" y2="412.4" stroke="#666" stroke-width="0.45" />
<line x1="319.73" y1="411.2" x2="319.73" y2="412.4" stroke="#666" stroke-width="0.45" />
<line x1="320.75" y1="411.2" x2="320.75" y2="413.4" stroke="#333" stroke-width="1.0499999999999998" />
<text transform="translate(319.95,421.60) scale(1.0,1.0)" font-size="4.6" text-anchor="middle" fill="#333">10<tspan font-size="3.22" dx="0.0" dy="-2.07">4</tspan></text>
<text transform="translate(217,380.70) rotate(-90)" font-size="6.6" font-weight="normal" text-anchor="middle" fill="#333">FSC-H</text>
<text x="276.18" y="428.60" font-size="6.8999999999999995" font-weight="normal" text-anchor="middle" fill="#333" stroke="none">FL1-H</text>
<path d="M249.5 382.3h0.6M251.7 372.9h0.6M261.6 365.6h0.6M260.7 377.1h0.6M268.1 362.4h0.6M248.2 376.2h0.6M237.6 371.0h0.6M248.9 369.5h0.6M252.0 373.0h0.6M249.9 377.1h0.6M264.0 376.1h0.6M273.0 368.6h0.6M256.9 372.2h0.6M238.5 368.8h0.6M262.5 372.8h0.6M248.1 373.3h0.6M254.0 363.3h0.6M260.8 370.5h0.6M256.7 370.6h0.6M253.0 364.0h0.6M256.0 373.1h0.6M260.1 370.2h0.6M258.9 368.1h0.6M271.2 370.8h0.6M246.9 385.4h0.6M248.6 376.8h0.6M260.6 365.3h0.6M255.5 367.4h0.6M260.8 362.0h0.6M241.5 371.3h0.6M251.7 379.0h0.6M259.1 382.4h0.6M253.2 377.8h0.6M250.2 376.9h0.6M255.9 378.6h0.6M267.6 365.0h0.6M235.7 383.8h0.6M267.1 367.3h0.6M256.0 368.7h0.6M246.3 387.4h0.6M259.2 375.7h0.6M253.9 366.1h0.6M263.9 366.4h0.6M246.7 375.2h0.6M261.8 379.5h0.6M245.9 380.7h0.6M256.3 373.1h0.6M259.5 364.7h0.6M252.9 371.3h0.6M259.0 373.6h0.6M248.5 374.0h0.6M262.6 367.1h0.6M249.3 386.7h0.6M247.6 382.2h0.6M252.6 374.4h0.6M253.1 366.6h0.6M246.5 369.0h0.6M260.4 377.8h0.6M252.5 374.4h0.6M258.7 377.9h0.6M240.9 379.9h0.6M242.4 376.1h0.6M251.3 377.2h0.6M245.2 380.0h0.6M252.5 382.2h0.6M258.4 383.5h0.6M263.1 373.3h0.6M266.1 370.1h0.6M260.3 368.7h0.6M247.6 381.1h0.6M258.3 377.9h0.6M249.1 367.2h0.6M258.2 370.5h0.6M244.6 370.8h0.6M265.0 375.3h0.6M257.1 378.1h0.6M251.2 382.4h0.6M242.0 370.7h0.6M256.0 381.1h0.6M249.1 386.6h0.6M255.7 378.7h0.6M247.6 367.6h0.6M249.0 375.3h0.6M258.9 371.6h0.6M266.2 370.6h0.6M242.9 377.2h0.6M252.0 375.8h0.6M256.9 382.6h0.6M252.3 363.9h0.6M249.9 376.2h0.6M272.0 362.1h0.6M246.5 386.2h0.6M256.7 370.1h0.6M249.5 383.0h0.6M252.8 382.9h0.6M234.2 377.3h0.6M261.2 365.9h0.6M251.8 365.9h0.6M245.4 367.7h0.6M267.8 372.7h0.6M251.3 369.8h0.6M248.4 379.5h0.6M246.4 379.6h0.6M262.7 370.6h0.6M253.9 375.0h0.6M251.0 369.5h0.6M242.4 388.9h0.6M246.0 368.8h0.6M256.6 377.4h0.6M253.5 364.8h0.6M236.5 371.0h0.6M246.2 383.6h0.6M255.6 374.2h0.6M276.4 364.5h0.6M247.2 381.0h0.6M234.7 383.7h0.6M260.2 374.7h0.6M249.6 370.5h0.6M242.4 371.1h0.6M258.4 375.9h0.6M251.7 369.4h0.6M245.4 366.8h0.6M242.5 371.0h0.6M252.6 379.3h0.6M254.4 379.6h0.6M238.5 376.1h0.6M262.0 367.0h0.6M242.9 374.1h0.6M265.5 373.9h0.6M256.5 379.6h0.6M252.1 366.5h0.6M256.5 374.6h0.6M248.6 363.5h0.6M253.1 381.8h0.6M267.6 373.1h0.6M248.8 379.6h0.6M260.6 360.7h0.6M246.0 368.1h0.6M253.5 377.5h0.6M261.8 384.8h0.6M243.4 369.3h0.6M256.5 372.7h0.6M235.4 385.9h0.6M243.9 386.3h0.6M250.1 372.5h0.6M261.1 373.8h0.6M259.7 371.9h0.6M245.9 373.6h0.6M252.5 376.9h0.6M255.2 375.6h0.6M240.4 373.2h0.6M257.2 374.1h0.6M265.1 373.3h0.6M264.2 367.6h0.6M248.6 388.2h0.6M250.2 367.1h0.6M245.7 373.3h0.6M249.4 380.2h0.6M251.5 375.9h0.6M259.4 364.9h0.6M254.3 370.5h0.6M245.8 387.6h0.6M260.6 379.1h0.6M261.1 371.3h0.6M248.5 364.0h0.6M251.5 369.8h0.6M252.8 375.7h0.6M239.7 373.9h0.6M254.8 373.8h0.6M259.4 374.8h0.6M270.2 367.8h0.6M255.3 387.6h0.6M251.2 368.3h0.6M252.4 371.1h0.6M258.9 375.8h0.6M260.4 378.1h0.6M246.4 383.7h0.6M255.3 372.1h0.6M259.2 371.9h0.6M236.6 377.2h0.6M265.3 360.4h0.6M251.9 388.8h0.6M261.1 377.1h0.6M253.3 379.3h0.6M251.6 368.6h0.6M253.0 376.0h0.6M256.1 379.7h0.6M261.1 371.1h0.6M251.4 372.1h0.6M244.2 366.1h0.6M247.8 374.0h0.6M245.4 379.0h0.6M260.2 375.9h0.6M245.6 381.4h0.6M266.6 367.9h0.6M254.8 368.7h0.6M253.0 375.8h0.6M264.8 372.4h0.6M250.6 366.1h0.6M251.2 374.1h0.6M260.3 369.4h0.6M260.0 379.7h0.6M245.3 380.1h0.6M274.6 382.9h0.6M258.6 381.8h0.6M243.1 374.4h0.6M252.3 366.5h0.6M261.6 374.0h0.6M255.6 381.4h0.6M261.0 371.8h0.6M273.9 362.0h0.6M261.7 373.3h0.6M270.8 364.2h0.6M259.6 373.2h0.6M248.1 383.4h0.6M266.7 376.9h0.6M247.9 377.2h0.6M262.0 357.5h0.6M259.4 369.1h0.6M246.6 377.4h0.6M247.9 373.7h0.6M252.4 373.1h0.6M257.3 376.2h0.6M265.2 372.1h0.6M254.6 375.6h0.6M270.1 365.5h0.6M261.4 362.3h0.6M248.5 366.9h0.6M248.7 377.4h0.6M254.7 370.4h0.6M249.6 379.8h0.6M253.3 381.3h0.6M260.6 372.0h0.6M256.3 369.6h0.6M262.4 372.5h0.6M248.2 370.2h0.6M246.8 370.5h0.6M242.2 372.1h0.6M239.0 378.7h0.6M250.3 383.7h0.6M254.7 362.3h0.6M252.5 377.5h0.6M254.2 369.3h0.6M271.5 366.8h0.6M244.9 378.5h0.6M251.9 362.9h0.6M250.0 370.7h0.6M246.5 376.0h0.6M265.7 374.0h0.6M253.9 380.3h0.6M264.9 379.6h0.6M244.6 372.7h0.6M270.2 373.1h0.6M273.5 372.3h0.6M246.8 372.6h0.6M254.2 376.3h0.6M253.2 370.1h0.6M259.0 377.0h0.6M243.2 380.0h0.6M258.2 367.2h0.6M260.4 376.9h0.6M249.2 371.3h0.6M235.0 375.4h0.6M248.5 375.4h0.6M250.9 385.5h0.6M260.8 380.9h0.6M249.0 382.3h0.6M244.5 384.6h0.6M259.5 367.2h0.6M257.5 378.9h0.6M260.5 380.5h0.6M254.7 377.2h0.6M263.3 372.5h0.6M258.7 383.7h0.6M239.1 373.8h0.6M256.0 369.0h0.6M260.9 376.3h0.6M254.6 368.8h0.6M266.7 381.0h0.6M250.5 378.5h0.6M260.3 373.7h0.6M243.9 376.1h0.6M254.3 366.7h0.6M249.7 377.3h0.6M245.8 382.6h0.6M243.2 375.3h0.6M256.2 372.6h0.6M258.0 370.3h0.6M249.0 377.5h0.6M243.8 375.5h0.6M246.9 379.5h0.6M260.8 368.9h0.6M244.1 380.7h0.6M264.0 375.7h0.6M240.2 370.0h0.6M256.7 378.3h0.6M260.0 372.7h0.6M264.7 367.9h0.6M250.7 376.9h0.6M247.9 369.8h0.6M242.3 380.7h0.6M262.1 365.7h0.6M253.3 384.3h0.6M250.5 383.6h0.6M250.8 374.5h0.6M256.5 364.4h0.6M254.7 363.7h0.6M264.4 377.1h0.6M236.1 378.6h0.6M261.6 375.5h0.6M249.9 388.8h0.6M253.7 369.6h0.6M251.7 377.1h0.6M253.7 365.5h0.6M260.8 370.7h0.6M256.3 377.0h0.6M242.1 381.4h0.6M253.8 375.4h0.6M253.6 371.3h0.6M257.6 376.4h0.6M254.8 356.1h0.6M253.7 372.9h0.6M263.1 379.2h0.6M245.2 375.7h0.6M272.9 362.3h0.6M249.6 372.4h0.6M245.6 378.3h0.6M261.1 376.7h0.6M263.6 376.9h0.6M265.1 379.0h0.6M266.8 374.3h0.6M258.5 371.4h0.6M255.0 377.5h0.6M257.7 362.9h0.6M254.4 371.6h0.6M249.8 378.0h0.6M268.1 371.0h0.6M269.9 361.0h0.6M254.5 384.9h0.6M252.5 373.0h0.6M250.3 357.9h0.6M240.2 371.1h0.6M248.7 381.2h0.6M250.1 374.3h0.6M254.3 375.6h0.6M246.0 358.3h0.6M238.3 382.2h0.6M260.0 374.4h0.6M269.1 372.6h0.6M236.4 387.4h0.6M253.3 395.3h0.6M261.8 373.8h0.6M244.6 373.1h0.6M242.3 379.7h0.6M254.8 370.8h0.6M252.5 369.7h0.6M249.1 370.9h0.6M268.5 381.5h0.6M267.3 361.3h0.6M260.1 367.2h0.6M254.0 369.0h0.6M251.8 374.6h0.6M262.1 372.2h0.6M252.6 377.9h0.6M267.2 368.3h0.6M265.2 365.6h0.6M249.5 378.9h0.6M261.1 367.2h0.6M268.0 373.8h0.6M260.2 368.9h0.6M246.6 376.8h0.6M252.4 369.0h0.6M251.8 362.3h0.6M255.7 372.3h0.6M255.0 377.0h0.6M251.7 377.4h0.6M262.0 368.2h0.6M266.3 374.3h0.6M250.0 368.8h0.6M242.3 375.0h0.6M258.0 367.4h0.6M254.9 377.4h0.6M258.4 379.2h0.6M249.0 380.1h0.6M257.4 370.8h0.6M247.1 380.8h0.6M264.2 367.2h0.6M269.2 383.6h0.6M247.0 380.0h0.6M232.9 380.2h0.6M250.8 386.6h0.6M250.5 378.9h0.6M256.6 383.0h0.6M255.2 374.3h0.6M259.2 374.4h0.6M278.1 363.6h0.6M250.3 380.4h0.6M251.9 385.0h0.6M258.7 376.5h0.6M239.3 376.8h0.6M261.8 371.6h0.6M249.8 374.0h0.6M242.9 369.0h0.6M247.9 377.8h0.6M259.4 374.2h0.6M262.3 377.5h0.6M265.7 375.1h0.6M258.8 366.3h0.6M249.0 373.0h0.6M259.9 389.4h0.6M254.5 366.3h0.6M275.0 381.8h0.6M237.7 380.6h0.6M268.9 364.3h0.6M261.7 371.4h0.6M258.7 369.4h0.6M254.4 368.4h0.6M250.4 373.0h0.6M247.0 383.8h0.6M242.0 374.6h0.6M272.6 374.1h0.6M263.2 387.3h0.6M261.0 374.3h0.6M258.4 369.5h0.6M239.0 376.9h0.6M252.9 374.3h0.6M256.3 362.4h0.6M265.2 369.7h0.6M246.8 370.0h0.6M257.6 371.1h0.6M253.3 363.7h0.6M255.6 376.0h0.6M248.7 367.8h0.6M258.4 361.4h0.6M256.0 376.0h0.6M239.5 370.9h0.6M265.7 379.9h0.6M274.1 367.2h0.6M247.9 370.8h0.6M265.2 376.7h0.6M247.1 387.2h0.6M250.9 374.5h0.6M270.4 372.2h0.6M257.1 372.1h0.6M268.3 368.7h0.6M257.9 367.8h0.6M264.1 361.6h0.6M254.1 371.2h0.6M267.7 380.5h0.6M270.7 365.7h0.6M261.3 369.8h0.6M250.7 373.9h0.6M252.4 364.3h0.6M247.5 373.9h0.6M260.7 374.7h0.6M260.0 369.6h0.6M249.6 385.3h0.6M263.4 365.6h0.6M250.7 374.4h0.6M271.0 359.1h0.6M262.6 367.5h0.6M269.1 367.9h0.6M249.5 373.8h0.6M247.1 383.2h0.6M240.1 377.8h0.6M261.1 370.3h0.6M246.1 369.6h0.6M267.0 368.0h0.6M256.9 368.8h0.6M262.1 367.6h0.6M244.7 379.5h0.6M250.6 372.8h0.6M257.2 374.5h0.6M261.9 380.0h0.6M244.7 385.8h0.6M258.6 367.5h0.6M248.6 366.0h0.6M262.6 362.8h0.6M253.7 379.4h0.6M253.2 364.5h0.6M259.4 362.6h0.6M265.5 376.0h0.6M253.6 370.9h0.6M266.1 360.1h0.6M247.2 374.9h0.6M258.1 365.3h0.6M246.2 379.7h0.6M257.5 375.2h0.6M248.0 369.7h0.6M256.0 374.4h0.6M261.0 371.4h0.6M247.5 374.8h0.6M240.8 383.6h0.6M254.2 364.3h0.6M260.1 373.3h0.6M257.6 375.1h0.6M248.0 378.2h0.6M262.7 371.4h0.6M253.2 380.0h0.6M262.1 366.4h0.6M248.2 377.4h0.6M259.4 367.5h0.6M265.6 376.7h0.6M250.0 381.3h0.6M253.2 380.0h0.6M260.9 370.8h0.6M260.1 380.9h0.6M258.6 367.4h0.6M254.6 375.9h0.6M242.4 370.9h0.6M255.6 376.0h0.6M244.7 370.9h0.6M256.3 379.9h0.6M235.8 385.3h0.6M267.7 366.8h0.6M271.7 373.2h0.6M259.3 365.9h0.6M248.4 379.7h0.6M253.0 370.9h0.6M263.1 377.0h0.6M261.1 383.3h0.6M249.7 365.8h0.6M265.7 372.4h0.6M261.7 365.9h0.6M260.1 371.3h0.6M252.6 385.2h0.6M255.5 371.0h0.6M249.5 368.1h0.6M257.1 364.9h0.6M250.0 364.4h0.6M265.4 368.7h0.6M255.9 374.1h0.6M257.3 372.7h0.6M258.3 380.3h0.6M258.2 368.2h0.6M243.5 371.8h0.6M266.3 368.8h0.6M256.3 378.3h0.6M250.9 370.6h0.6M247.4 379.1h0.6M249.8 367.0h0.6M250.4 378.7h0.6M255.6 376.9h0.6M248.3 377.4h0.6M256.4 380.0h0.6M256.7 379.0h0.6M249.7 376.8h0.6M274.1 384.9h0.6M254.5 361.1h0.6M258.3 370.6h0.6M256.4 371.5h0.6M254.1 379.6h0.6M261.1 371.0h0.6M267.1 370.9h0.6M254.8 373.2h0.6M248.2 384.9h0.6M260.0 373.3h0.6M237.3 390.1h0.6M256.7 374.6h0.6M253.8 379.7h0.6M258.1 376.9h0.6M242.7 378.8h0.6M251.7 369.2h0.6M246.7 367.9h0.6M250.8 374.6h0.6M260.3 379.4h0.6M253.7 364.6h0.6M250.3 383.9h0.6M265.2 374.9h0.6M255.4 375.1h0.6M238.2 382.6h0.6M246.5 367.3h0.6M258.7 370.3h0.6M258.9 366.0h0.6M257.0 375.2h0.6M257.4 367.7h0.6M247.6 376.6h0.6M254.3 374.9h0.6M245.1 374.3h0.6M248.1 373.0h0.6M247.4 372.0h0.6M248.0 376.9h0.6M252.2 384.1h0.6M253.1 376.3h0.6M248.3 392.7h0.6M264.0 373.5h0.6M251.1 380.0h0.6M267.8 365.5h0.6M263.3 389.3h0.6M244.7 363.5h0.6M262.3 374.3h0.6M243.1 386.9h0.6M267.0 368.3h0.6M257.6 370.1h0.6M246.5 373.2h0.6M236.4 364.3h0.6M251.4 380.1h0.6M243.4 374.8h0.6M263.9 370.8h0.6M244.2 380.8h0.6M252.7 372.5h0.6M258.8 364.9h0.6M254.7 379.4h0.6M256.8 370.5h0.6M252.5 368.0h0.6M260.6 368.3h0.6M246.8 386.1h0.6M259.3 371.0h0.6M244.5 378.9h0.6M256.0 365.7h0.6M245.0 377.1h0.6M252.8 361.8h0.6M259.4 380.7h0.6M264.9 368.3h0.6M239.4 383.2h0.6M248.1 364.1h0.6M246.3 365.9h0.6M264.6 377.5h0.6M247.2 370.9h0.6M260.4 372.9h0.6M250.1 385.5h0.6M242.4 383.6h0.6M255.4 373.1h0.6M244.9 373.0h0.6M260.6 374.9h0.6M261.4 370.4h0.6M265.6 369.3h0.6M245.9 374.2h0.6M267.6 378.5h0.6M262.5 371.2h0.6M239.4 374.2h0.6M273.0 379.1h0.6M268.5 360.7h0.6M245.7 366.7h0.6M257.2 372.3h0.6M243.2 363.3h0.6M253.3 379.4h0.6M256.0 379.7h0.6M259.6 376.8h0.6M247.5 380.3h0.6M254.2 362.2h0.6M246.6 375.6h0.6M257.6 373.6h0.6M260.0 370.3h0.6M255.0 363.6h0.6M264.0 370.6h0.6M260.7 374.9h0.6M257.5 371.5h0.6M264.1 363.6h0.6M244.0 377.8h0.6M254.1 365.0h0.6M239.5 375.6h0.6M254.2 375.2h0.6M250.4 371.8h0.6M261.3 359.6h0.6M250.7 376.5h0.6M249.0 366.4h0.6M253.6 370.6h0.6M253.3 373.2h0.6M258.7 372.6h0.6M247.1 370.5h0.6M241.8 373.1h0.6M241.0 374.8h0.6M264.1 367.4h0.6M243.8 382.1h0.6M250.5 379.1h0.6M245.1 382.6h0.6M261.8 374.4h0.6M249.7 376.5h0.6M264.7 373.9h0.6M248.5 372.0h0.6M256.9 379.5h0.6M260.8 374.0h0.6M262.5 366.5h0.6M244.4 365.6h0.6M251.3 374.4h0.6M253.7 366.5h0.6M239.0 368.9h0.6M260.4 379.1h0.6M257.7 371.6h0.6M258.7 379.7h0.6M242.7 379.3h0.6M256.0 371.0h0.6M258.1 381.2h0.6M263.1 368.5h0.6M250.0 375.9h0.6M260.1 374.2h0.6M270.9 366.6h0.6M250.8 380.1h0.6M251.0 385.6h0.6M251.7 374.5h0.6M241.9 381.6h0.6M251.4 376.0h0.6M268.1 377.7h0.6M246.6 381.9h0.6M252.8 381.0h0.6M264.5 379.8h0.6M259.2 378.1h0.6M256.4 378.6h0.6M251.7 374.5h0.6M253.5 354.0h0.6M254.6 377.9h0.6M260.3 382.8h0.6M255.1 370.2h0.6M262.4 380.0h0.6M238.8 383.5h0.6M261.4 374.6h0.6M250.0 374.8h0.6M254.6 373.6h0.6M250.9 373.3h0.6M259.9 373.5h0.6M253.5 367.2h0.6M259.7 367.4h0.6M247.7 379.1h0.6M256.1 375.0h0.6M264.8 380.2h0.6M263.9 367.6h0.6M251.5 376.1h0.6M255.7 361.7h0.6M251.4 379.1h0.6M253.5 364.7h0.6M254.7 379.9h0.6M264.7 382.3h0.6M259.4 378.4h0.6M266.8 369.0h0.6M267.4 364.5h0.6M243.9 382.2h0.6M257.1 367.3h0.6M250.8 378.3h0.6M241.0 380.6h0.6M245.5 378.2h0.6M250.3 364.6h0.6M268.5 369.6h0.6M255.3 372.0h0.6M253.0 384.1h0.6M254.3 373.1h0.6M248.2 373.8h0.6M256.0 363.4h0.6M253.8 379.8h0.6M240.9 381.9h0.6M250.1 381.0h0.6M282.7 371.5h0.6M259.8 368.6h0.6M253.7 379.4h0.6M260.1 364.7h0.6M246.4 375.9h0.6M255.3 379.7h0.6M261.9 376.5h0.6M241.1 386.1h0.6M248.4 384.8h0.6M251.2 367.6h0.6M252.2 369.1h0.6M250.3 381.4h0.6M256.8 376.5h0.6M263.1 361.9h0.6M257.4 378.1h0.6M263.1 370.7h0.6M263.3 368.8h0.6M249.6 376.6h0.6M256.8 374.8h0.6M251.4 377.1h0.6M260.0 372.1h0.6M251.6 384.8h0.6M253.0 374.2h0.6M268.7 369.6h0.6M253.1 382.9h0.6M241.6 374.4h0.6M255.6 379.9h0.6M257.0 390.2h0.6M250.4 387.5h0.6M255.2 373.4h0.6M263.1 368.6h0.6M250.3 377.9h0.6M253.0 383.8h0.6M248.7 376.6h0.6M257.3 367.7h0.6M253.5 374.8h0.6M246.9 385.4h0.6M253.3 371.6h0.6M269.8 371.8h0.6M240.4 378.7h0.6M243.1 376.6h0.6M257.4 370.0h0.6M243.1 377.7h0.6M270.8 376.4h0.6M242.2 377.9h0.6M243.8 376.0h0.6M250.3 367.8h0.6M263.6 379.9h0.6M261.3 373.5h0.6M259.3 378.7h0.6M257.1 371.9h0.6M265.4 375.1h0.6M239.5 397.4h0.6M256.9 367.6h0.6M266.5 375.6h0.6M245.7 383.3h0.6M257.3 383.2h0.6M264.8 378.6h0.6M265.0 380.0h0.6M253.5 375.4h0.6M270.1 369.6h0.6M258.8 373.7h0.6M263.5 369.8h0.6M245.7 381.7h0.6M248.4 371.9h0.6M248.3 376.4h0.6M269.3 367.9h0.6M235.3 375.0h0.6M239.4 380.2h0.6M261.2 364.8h0.6M255.8 368.9h0.6M251.3 363.9h0.6M252.1 364.3h0.6M264.6 381.6h0.6M238.8 392.3h0.6M250.2 379.2h0.6M263.4 369.2h0.6M260.9 366.8h0.6M247.0 371.8h0.6M252.3 374.9h0.6M242.4 371.0h0.6M265.9 367.0h0.6M251.1 377.8h0.6M265.2 370.5h0.6M261.3 365.9h0.6M247.3 380.0h0.6M253.4 378.4h0.6M260.0 378.2h0.6M258.3 364.0h0.6M267.3 366.9h0.6M263.9 366.6h0.6M257.4 375.9h0.6M260.4 373.0h0.6M248.8 367.9h0.6M249.8 377.1h0.6M259.7 365.5h0.6M257.5 373.6h0.6M245.5 376.5h0.6M254.0 370.8h0.6M248.1 370.3h0.6M250.1 364.1h0.6M265.4 373.8h0.6M246.9 365.3h0.6M249.3 380.2h0.6M259.4 378.4h0.6M255.3 388.1h0.6M256.1 368.5h0.6M242.8 367.6h0.6M254.5 381.7h0.6M251.7 376.9h0.6M248.1 377.3h0.6M250.1 385.0h0.6M252.3 374.2h0.6M261.7 370.5h0.6M270.2 373.5h0.6M255.7 380.3h0.6M267.0 370.3h0.6M255.7 370.1h0.6M242.5 385.9h0.6M255.3 374.6h0.6M265.3 368.0h0.6M266.3 389.0h0.6M247.5 373.8h0.6M273.2 358.8h0.6M248.7 383.6h0.6M248.8 367.2h0.6M250.5 377.0h0.6M266.7 367.4h0.6M258.1 374.3h0.6M262.3 379.5h0.6M236.5 389.3h0.6M254.4 359.0h0.6M253.9 382.7h0.6M260.6 374.4h0.6M251.0 365.9h0.6M264.6 369.8h0.6M249.2 374.3h0.6M243.4 389.5h0.6M241.3 381.2h0.6M265.2 380.0h0.6M261.1 383.9h0.6M248.4 373.3h0.6M263.9 366.6h0.6M253.4 379.2h0.6M253.9 378.4h0.6M242.8 374.2h0.6M250.3 369.5h0.6M255.8 380.5h0.6M256.5 366.2h0.6M250.2 369.2h0.6M263.0 372.0h0.6M266.7 378.2h0.6M248.2 372.0h0.6M258.2 368.8h0.6M242.4 365.9h0.6M258.3 377.0h0.6M247.0 365.9h0.6M253.6 376.5h0.6M256.3 370.3h0.6M252.9 375.2h0.6M263.5 371.4h0.6M248.5 366.2h0.6M251.1 379.3h0.6M257.6 368.1h0.6M254.6 375.8h0.6M257.0 373.7h0.6M253.2 379.0h0.6M248.3 374.3h0.6M260.4 385.4h0.6M255.6 375.5h0.6M262.3 365.8h0.6M265.9 366.0h0.6M252.0 385.0h0.6M248.9 382.6h0.6M251.2 377.5h0.6M249.6 363.3h0.6M238.6 380.6h0.6M268.4 370.8h0.6M258.3 374.7h0.6M274.1 367.4h0.6M250.4 380.9h0.6M259.8 371.1h0.6M257.2 370.4h0.6M254.4 367.5h0.6M263.0 377.6h0.6M255.0 368.2h0.6M254.3 361.8h0.6M256.3 368.6h0.6M236.7 374.0h0.6M249.1 390.9h0.6M248.9 366.9h0.6M268.5 358.5h0.6M259.8 365.0h0.6M261.4 369.2h0.6M260.1 367.4h0.6M253.4 355.1h0.6M268.5 375.2h0.6M253.3 376.9h0.6M243.4 369.7h0.6M260.1 371.0h0.6M264.6 385.4h0.6M255.8 372.3h0.6M258.0 371.0h0.6M262.8 378.0h0.6M267.5 368.5h0.6M259.8 371.2h0.6M268.8 382.1h0.6M257.4 370.0h0.6M272.2 356.0h0.6M243.7 365.4h0.6M262.7 379.3h0.6M257.4 381.8h0.6M256.0 373.3h0.6M244.5 374.6h0.6M263.8 380.4h0.6M253.4 379.0h0.6M246.9 367.1h0.6M249.9 373.6h0.6M253.1 367.7h0.6M255.9 373.9h0.6M247.6 369.1h0.6M247.5 379.1h0.6M258.4 376.4h0.6M254.4 380.2h0.6M271.1 382.4h0.6M251.6 377.3h0.6M261.1 381.2h0.6M269.3 373.5h0.6M253.4 373.4h0.6M263.1 370.9h0.6M257.5 370.8h0.6M255.5 376.4h0.6M268.1 371.2h0.6M246.9 368.4h0.6M250.1 376.1h0.6M240.5 377.2h0.6M254.0 389.9h0.6M263.1 379.1h0.6M252.9 367.4h0.6M261.7 377.9h0.6M248.8 382.4h0.6M264.4 365.5h0.6M254.1 382.1h0.6M251.1 368.5h0.6M268.4 371.4h0.6M254.9 378.0h0.6M259.7 386.1h0.6M256.0 365.2h0.6M260.8 384.3h0.6M256.0 381.7h0.6M245.2 371.3h0.6M257.3 381.4h0.6M258.9 369.8h0.6M258.2 373.5h0.6M253.1 376.2h0.6M269.8 377.3h0.6M249.1 379.7h0.6M256.0 372.0h0.6M256.7 379.9h0.6M246.2 372.1h0.6M245.3 374.8h0.6M260.4 369.2h0.6M260.5 371.2h0.6M256.2 370.1h0.6M241.9 374.7h0.6M252.6 369.2h0.6M257.0 371.1h0.6M260.1 370.7h0.6M264.7 377.6h0.6M258.7 384.3h0.6M262.9 371.8h0.6M268.6 364.6h0.6M235.9 384.6h0.6M263.1 382.3h0.6M251.4 378.4h0.6M258.9 370.8h0.6M256.7 368.1h0.6M246.7 378.1h0.6M247.6 383.4h0.6M258.5 373.6h0.6M253.5 370.0h0.6M261.0 372.9h0.6M251.8 368.3h0.6M272.5 373.1h0.6M252.9 368.9h0.6M271.9 359.4h0.6M248.8 381.9h0.6M259.5 378.5h0.6M264.2 367.6h0.6M244.3 356.5h0.6M247.1 372.6h0.6M258.3 373.4h0.6M264.3 363.3h0.6M266.1 372.1h0.6M259.5 383.4h0.6M263.5 378.1h0.6M245.5 367.6h0.6M251.5 385.7h0.6M266.7 380.4h0.6M250.5 369.8h0.6M253.0 373.5h0.6M240.8 369.6h0.6M253.4 381.2h0.6M242.0 381.9h0.6M257.9 375.6h0.6M266.9 379.1h0.6M257.5 374.9h0.6M256.3 374.8h0.6M251.7 369.2h0.6M259.4 373.5h0.6M245.9 378.8h0.6M251.2 371.7h0.6M272.5 362.7h0.6M244.3 369.9h0.6M250.3 373.4h0.6M243.6 379.2h0.6M264.9 374.7h0.6M253.0 382.9h0.6M244.5 376.1h0.6M244.7 376.6h0.6M263.9 361.2h0.6M260.4 371.3h0.6M261.4 367.7h0.6M254.4 365.7h0.6M262.2 384.4h0.6M265.6 375.7h0.6M260.3 374.3h0.6M241.8 376.4h0.6M238.8 385.2h0.6M242.9 371.4h0.6M257.0 367.7h0.6M242.6 373.7h0.6M246.0 371.8h0.6M255.1 381.1h0.6M247.6 368.4h0.6M244.3 380.5h0.6M262.6 384.4h0.6M258.8 372.3h0.6M261.2 369.8h0.6M262.2 376.7h0.6M266.5 382.0h0.6M254.4 381.6h0.6M253.2 375.4h0.6M240.4 393.9h0.6M252.7 367.9h0.6M249.8 368.8h0.6M263.2 373.2h0.6M260.1 365.9h0.6M266.7 372.3h0.6M263.5 379.3h0.6M264.3 367.7h0.6M258.9 369.5h0.6M255.7 379.8h0.6M251.5 384.0h0.6M254.4 380.5h0.6M246.8 368.4h0.6M257.8 375.3h0.6M253.9 356.1h0.6M238.0 382.4h0.6M232.5 375.5h0.6M248.6 373.5h0.6M250.7 376.5h0.6M252.1 369.3h0.6M265.1 377.1h0.6M249.4 375.7h0.6M244.1 384.2h0.6M257.6 387.5h0.6M262.7 371.7h0.6M267.9 378.3h0.6M246.2 384.6h0.6M252.4 370.9h0.6M251.0 376.0h0.6M266.8 368.7h0.6M260.2 361.6h0.6M254.7 372.9h0.6M260.4 369.8h0.6M251.6 382.6h0.6M252.8 369.1h0.6M254.2 368.7h0.6M250.4 381.9h0.6M252.4 370.4h0.6M257.3 371.4h0.6M256.4 375.1h0.6M266.5 370.7h0.6M261.5 356.8h0.6M253.8 378.5h0.6M236.6 380.6h0.6M242.4 376.4h0.6M250.3 376.3h0.6M251.3 386.7h0.6M243.7 372.5h0.6M251.3 368.9h0.6M255.3 362.7h0.6M249.2 379.0h0.6M253.2 382.6h0.6M253.6 370.1h0.6M248.6 382.2h0.6M247.3 375.9h0.6M253.3 377.0h0.6M256.5 372.4h0.6M245.9 379.1h0.6M237.7 373.6h0.6M246.5 382.0h0.6M258.4 357.7h0.6M241.2 372.3h0.6M261.8 376.4h0.6M249.5 381.6h0.6M255.3 375.1h0.6M248.0 378.7h0.6M259.0 378.4h0.6M254.7 365.0h0.6M257.3 367.1h0.6M238.5 385.0h0.6M260.1 369.1h0.6M240.6 377.3h0.6M251.5 369.8h0.6M258.4 377.4h0.6M252.7 360.7h0.6M258.3 372.7h0.6M255.6 360.9h0.6M255.0 377.1h0.6M247.7 367.0h0.6M262.4 372.9h0.6M263.3 361.2h0.6M249.9 376.4h0.6M247.0 382.8h0.6M255.9 380.7h0.6M248.1 379.7h0.6M255.3 370.0h0.6M260.8 370.1h0.6M259.6 372.1h0.6M266.1 364.4h0.6M257.9 362.6h0.6M245.8 382.7h0.6M247.3 369.3h0.6M258.5 358.1h0.6M269.6 374.5h0.6M251.3 378.5h0.6M246.8 373.3h0.6M265.4 369.9h0.6M253.2 377.9h0.6M259.8 373.2h0.6M262.9 361.6h0.6M246.3 370.1h0.6M251.3 380.1h0.6M249.7 386.3h0.6M258.5 380.3h0.6M259.4 371.7h0.6M250.2 380.2h0.6M258.7 378.5h0.6M239.8 372.9h0.6M257.0 375.3h0.6M257.0 375.9h0.6M254.2 372.7h0.6M242.5 367.5h0.6M253.4 372.3h0.6M245.6 371.7h0.6M265.8 370.8h0.6M251.9 364.6h0.6M252.5 382.5h0.6M253.3 381.6h0.6M258.5 376.4h0.6M254.8 360.8h0.6M258.5 363.1h0.6M246.7 383.0h0.6M263.0 375.0h0.6M250.2 371.5h0.6M260.2 372.2h0.6M256.1 367.9h0.6M262.8 375.2h0.6M253.6 385.0h0.6M242.4 372.9h0.6M245.0 368.2h0.6M252.4 384.5h0.6M265.3 383.6h0.6M250.8 377.8h0.6M254.6 386.1h0.6M264.2 368.9h0.6M249.7 382.7h0.6M256.6 368.7h0.6M256.4 375.8h0.6M249.4 374.4h0.6M256.0 369.4h0.6M262.5 373.4h0.6M262.6 378.6h0.6M251.5 368.8h0.6M277.4 378.0h0.6M257.0 364.3h0.6M252.0 378.6h0.6M248.4 378.9h0.6M246.3 373.4h0.6M260.7 369.8h0.6M253.0 383.9h0.6M243.2 382.4h0.6M252.8 372.2h0.6M253.9 371.7h0.6M243.7 377.2h0.6M246.3 367.6h0.6M264.3 372.8h0.6M249.8 369.0h0.6M254.1 367.0h0.6M251.7 372.4h0.6M260.8 373.7h0.6M263.9 366.9h0.6M261.5 369.4h0.6M258.6 369.0h0.6M258.7 378.6h0.6M244.7 373.3h0.6M264.6 361.2h0.6M249.7 377.0h0.6M247.1 374.9h0.6M251.2 376.3h0.6M247.8 369.9h0.6M257.5 386.6h0.6M259.9 362.3h0.6M264.4 368.3h0.6M253.4 375.7h0.6M249.4 373.4h0.6M251.9 367.3h0.6M244.8 373.9h0.6M248.3 371.1h0.6M270.1 362.4h0.6M248.0 374.4h0.6M250.5 370.1h0.6M259.2 363.3h0.6M256.2 369.9h0.6M260.3 376.5h0.6M247.3 370.7h0.6M245.7 362.9h0.6M264.7 373.5h0.6M248.8 372.4h0.6M253.4 371.4h0.6M255.9 367.9h0.6M239.4 380.2h0.6M252.6 374.5h0.6M249.0 362.6h0.6M258.4 368.5h0.6M251.7 378.6h0.6M236.2 373.2h0.6M260.5 372.1h0.6M233.8 369.0h0.6M250.9 385.2h0.6M248.6 374.7h0.6M249.3 368.8h0.6M254.1 382.2h0.6M261.8 377.0h0.6M247.2 372.6h0.6M249.3 374.9h0.6M260.1 374.5h0.6M258.2 371.0h0.6M259.9 381.5h0.6M256.8 378.7h0.6M252.2 363.3h0.6M250.3 379.1h0.6M250.4 372.1h0.6M261.4 372.6h0.6M266.1 365.6h0.6M270.0 368.0h0.6M245.9 373.4h0.6M252.3 366.9h0.6M254.2 371.9h0.6M252.9 385.2h0.6M245.2 380.4h0.6M271.6 360.6h0.6M266.2 364.2h0.6M252.9 375.8h0.6M250.5 385.0h0.6M254.1 378.6h0.6M244.5 362.9h0.6M251.5 366.9h0.6M260.4 364.6h0.6M267.4 381.1h0.6M261.3 381.0h0.6M264.6 375.3h0.6M245.7 384.7h0.6M265.2 378.3h0.6M255.7 370.6h0.6M253.5 375.6h0.6M267.6 374.3h0.6M246.5 371.6h0.6M246.5 372.9h0.6M248.2 374.6h0.6M267.2 373.2h0.6M261.8 372.5h0.6M239.9 389.8h0.6M267.5 383.3h0.6M254.3 378.3h0.6M257.6 372.3h0.6M248.0 364.2h0.6M269.3 367.8h0.6M257.7 379.5h0.6M264.8 374.6h0.6M246.2 384.0h0.6M259.8 372.9h0.6M254.9 374.4h0.6M252.4 374.7h0.6M247.6 373.8h0.6M248.6 368.7h0.6M244.8 371.9h0.6M248.8 382.7h0.6M254.0 368.6h0.6M258.9 379.3h0.6M241.6 374.6h0.6M245.8 375.4h0.6M249.2 364.4h0.6M241.0 377.8h0.6M251.9 375.2h0.6M252.0 376.3h0.6M252.6 368.8h0.6M257.5 371.2h0.6M261.8 373.9h0.6M260.6 367.1h0.6M256.4 360.0h0.6M259.0 362.4h0.6M247.8 365.9h0.6M246.6 379.2h0.6M259.4 373.3h0.6M258.7 371.8h0.6M271.9 380.6h0.6M252.4 363.4h0.6M246.2 385.0h0.6M256.5 370.8h0.6M250.6 382.7h0.6M247.0 374.9h0.6M265.2 366.0h0.6M269.8 366.9h0.6M257.2 378.7h0.6M248.9 379.3h0.6M256.3 367.5h0.6M253.8 374.4h0.6M243.0 375.9h0.6M260.9 366.3h0.6M257.0 389.3h0.6M264.3 369.9h0.6M249.7 366.9h0.6M254.1 362.6h0.6M253.3 369.8h0.6M240.3 381.9h0.6M274.5 362.9h0.6M237.3 366.0h0.6M244.9 380.2h0.6M251.3 379.2h0.6M241.6 377.9h0.6M257.6 375.7h0.6M250.5 387.8h0.6M254.8 388.8h0.6M256.1 381.8h0.6M254.9 377.8h0.6M255.0 370.9h0.6M253.0 377.6h0.6M257.7 371.9h0.6M260.8 363.6h0.6M252.2 355.3h0.6M250.7 369.2h0.6M251.0 380.9h0.6M256.8 367.0h0.6M251.3 374.6h0.6M251.2 372.5h0.6M242.1 370.7h0.6M270.0 365.2h0.6M244.3 384.7h0.6M268.0 377.9h0.6M260.8 370.6h0.6M262.7 367.4h0.6M256.5 360.0h0.6M258.4 369.1h0.6M256.7 375.6h0.6M259.2 375.8h0.6M261.2 376.8h0.6M266.8 379.2h0.6M246.3 384.1h0.6M258.4 376.5h0.6M267.6 370.1h0.6M265.8 376.1h0.6M246.1 375.8h0.6M257.0 375.1h0.6M256.7 374.8h0.6M256.5 376.2h0.6M236.1 376.5h0.6M261.5 372.1h0.6M241.3 393.9h0.6M272.4 367.9h0.6M259.9 371.9h0.6M253.7 378.0h0.6M259.7 371.6h0.6M255.7 378.0h0.6M250.2 374.2h0.6M253.8 379.6h0.6M257.4 368.9h0.6M248.0 373.3h0.6M260.4 381.7h0.6M263.7 376.1h0.6M263.4 367.3h0.6M264.2 369.0h0.6M265.2 370.4h0.6M260.4 379.7h0.6M265.3 375.6h0.6M255.1 372.7h0.6M258.0 371.2h0.6M266.3 371.2h0.6M270.5 375.3h0.6M251.7 376.0h0.6M242.7 379.9h0.6M272.3 377.0h0.6M264.1 378.6h0.6M269.6 375.4h0.6M262.1 381.6h0.6M256.6 370.4h0.6M249.4 370.3h0.6M246.7 370.2h0.6M266.6 376.0h0.6M262.8 376.7h0.6M257.3 371.7h0.6M245.5 379.1h0.6M250.4 376.9h0.6M249.6 377.1h0.6M252.2 384.7h0.6M256.5 382.6h0.6M267.6 380.8h0.6M250.2 369.9h0.6M254.9 380.8h0.6M256.9 366.6h0.6M246.4 373.7h0.6M258.2 370.8h0.6M248.0 378.0h0.6M251.0 383.8h0.6M256.8 381.0h0.6M254.2 373.4h0.6M255.5 374.4h0.6M247.1 383.4h0.6M260.7 379.7h0.6M245.7 381.6h0.6M261.7 372.7h0.6M250.7 372.1h0.6M244.9 370.6h0.6M253.9 376.5h0.6M245.9 367.0h0.6M250.3 370.5h0.6M253.4 364.9h0.6M261.2 377.9h0.6M261.3 368.7h0.6M258.6 366.1h0.6M252.3 385.7h0.6M242.1 371.1h0.6M252.8 371.8h0.6M252.0 368.8h0.6M253.6 373.1h0.6M250.3 367.8h0.6M250.3 377.7h0.6M261.3 375.6h0.6M243.6 372.1h0.6M254.8 369.4h0.6M265.1 379.9h0.6M248.3 367.9h0.6M246.5 368.5h0.6M252.8 367.9h0.6M251.8 379.2h0.6M256.9 365.5h0.6M265.9 368.0h0.6M253.6 368.4h0.6M259.3 373.2h0.6M249.9 377.8h0.6M250.6 379.4h0.6M257.1 377.2h0.6M249.1 369.6h0.6M264.6 376.4h0.6M251.3 378.6h0.6M253.3 372.2h0.6M246.0 377.7h0.6M251.1 387.7h0.6M246.4 380.1h0.6M250.6 377.2h0.6M239.9 367.4h0.6M254.6 369.8h0.6M269.2 376.7h0.6M239.1 384.6h0.6M269.1 373.4h0.6M253.7 372.8h0.6M262.0 377.1h0.6M246.3 373.2h0.6M271.5 378.7h0.6M245.7 374.0h0.6M254.0 366.6h0.6M267.6 387.6h0.6M244.0 376.7h0.6M235.2 377.0h0.6M254.0 371.3h0.6M248.2 374.9h0.6M246.5 376.3h0.6M247.0 374.0h0.6M242.4 376.2h0.6M266.3 370.6h0.6M264.8 361.6h0.6M243.2 370.3h0.6M253.7 368.4h0.6M250.8 378.9h0.6M263.8 374.8h0.6M247.6 369.0h0.6M268.2 377.3h0.6M254.7 367.6h0.6M248.0 384.0h0.6M253.9 360.8h0.6M249.7 367.4h0.6M273.5 372.9h0.6M255.9 376.6h0.6M250.6 387.8h0.6M255.4 374.1h0.6M267.0 363.5h0.6M246.5 372.1h0.6M240.5 379.0h0.6M265.6 358.5h0.6M259.8 369.3h0.6M250.8 372.3h0.6M253.9 376.0h0.6M263.9 368.1h0.6M265.3 368.6h0.6M253.1 384.8h0.6M260.3 371.2h0.6M254.1 362.1h0.6M280.6 360.3h0.6M249.4 378.5h0.6M263.9 369.6h0.6M232.6 388.5h0.6M254.9 369.9h0.6M261.2 377.9h0.6M241.5 380.4h0.6M237.4 381.7h0.6M255.4 378.3h0.6M263.1 361.3h0.6M264.6 362.3h0.6M248.8 377.2h0.6M257.5 372.7h0.6M242.6 366.3h0.6M269.3 372.2h0.6M249.7 377.9h0.6M265.3 376.7h0.6M252.3 364.8h0.6M251.8 373.6h0.6M268.3 370.6h0.6M247.2 378.4h0.6M265.5 377.1h0.6M251.5 368.7h0.6M247.1 380.6h0.6M247.4 379.0h0.6M264.1 382.3h0.6M253.9 381.1h0.6M251.5 378.0h0.6M241.7 380.2h0.6M264.5 381.1h0.6M263.4 375.7h0.6M257.3 374.2h0.6M261.1 388.9h0.6M250.0 376.9h0.6M255.9 382.2h0.6M255.4 375.6h0.6M249.7 372.4h0.6M256.5 373.6h0.6M248.3 375.3h0.6M248.9 375.3h0.6M243.9 372.5h0.6M255.7 382.3h0.6M248.4 379.2h0.6M250.2 372.7h0.6M266.3 371.1h0.6M254.1 380.8h0.6M254.2 375.9h0.6M241.5 381.6h0.6M250.1 375.0h0.6M262.8 382.5h0.6M259.2 383.2h0.6M255.0 383.0h0.6M253.0 375.3h0.6M255.1 358.5h0.6M257.9 367.1h0.6M251.7 367.1h0.6M233.4 379.1h0.6M271.2 360.1h0.6M264.2 369.6h0.6M253.2 374.0h0.6M266.5 364.4h0.6M243.4 384.4h0.6M265.5 385.2h0.6M256.1 381.2h0.6M262.0 363.5h0.6M251.6 369.2h0.6M255.8 372.6h0.6M259.5 374.4h0.6M263.4 373.1h0.6M258.9 370.6h0.6M258.3 378.6h0.6M249.5 370.5h0.6M269.1 376.7h0.6M256.3 365.3h0.6M252.6 376.7h0.6M251.7 380.6h0.6M244.3 378.4h0.6M248.2 381.5h0.6M241.5 378.1h0.6M256.2 385.1h0.6M253.8 377.4h0.6M256.4 373.2h0.6M243.9 374.3h0.6M250.9 377.5h0.6M249.0 367.8h0.6M262.9 382.8h0.6M241.8 378.6h0.6M241.6 380.3h0.6M265.4 371.6h0.6M257.6 375.1h0.6M241.2 368.7h0.6M266.0 371.4h0.6M267.2 377.0h0.6M264.2 356.2h0.6M237.0 378.1h0.6M255.5 374.9h0.6M247.1 370.4h0.6M252.2 378.5h0.6M241.1 378.8h0.6M269.2 365.2h0.6M248.6 383.0h0.6M256.8 376.5h0.6M261.3 366.6h0.6M259.7 361.6h0.6M258.0 373.8h0.6M251.2 375.6h0.6M256.4 366.9h0.6M252.6 383.9h0.6M235.2 383.2h0.6M263.0 377.1h0.6M249.1 388.4h0.6M250.0 393.5h0.6M251.0 377.6h0.6M242.7 371.3h0.6M244.2 372.4h0.6M239.1 369.9h0.6M258.5 390.5h0.6M264.5 372.7h0.6M255.1 365.6h0.6M244.7 382.0h0.6M265.6 379.7h0.6M251.8 372.6h0.6M240.9 377.4h0.6M238.5 374.0h0.6M256.0 373.8h0.6M266.7 363.4h0.6M251.2 370.6h0.6M249.1 373.8h0.6M252.1 377.1h0.6M247.2 371.4h0.6M249.8 379.5h0.6M256.6 367.6h0.6M248.3 368.4h0.6M262.4 366.3h0.6M246.1 384.2h0.6M260.5 369.9h0.6M257.4 371.1h0.6M251.2 369.4h0.6M251.9 384.6h0.6M251.7 378.6h0.6M268.7 371.2h0.6M247.6 367.0h0.6M264.5 375.5h0.6M263.0 366.4h0.6M251.6 373.9h0.6M268.2 358.6h0.6M234.2 376.9h0.6M256.5 383.8h0.6M255.5 375.6h0.6M254.6 372.5h0.6M261.6 364.4h0.6M251.0 370.7h0.6M252.9 376.3h0.6M264.2 379.8h0.6M253.5 374.2h0.6M245.7 377.0h0.6M259.3 364.5h0.6M253.7 368.4h0.6M249.6 384.2h0.6M259.1 387.7h0.6M247.9 378.3h0.6M246.1 374.4h0.6M252.2 380.8h0.6M252.8 377.8h0.6M254.9 366.5h0.6M244.2 371.9h0.6M269.1 381.6h0.6M260.2 370.5h0.6M255.7 372.8h0.6M256.4 374.9h0.6M233.2 375.6h0.6M262.3 368.5h0.6M245.7 360.4h0.6M258.7 371.6h0.6M244.3 381.2h0.6M262.8 375.3h0.6M249.9 370.6h0.6M252.6 362.3h0.6M267.4 367.1h0.6M262.9 368.7h0.6M242.7 375.2h0.6M248.5 378.3h0.6M256.1 373.2h0.6M252.5 382.3h0.6M261.3 367.7h0.6M248.6 372.5h0.6M238.5 376.7h0.6M246.7 381.4h0.6M252.9 376.1h0.6M259.1 376.6h0.6M260.8 370.6h0.6M265.0 373.4h0.6M256.4 371.3h0.6M252.7 368.6h0.6M260.7 364.5h0.6M253.6 380.8h0.6M250.5 377.1h0.6M250.5 382.0h0.6M262.3 364.2h0.6M267.1 376.4h0.6M265.6 362.8h0.6M240.8 380.5h0.6M263.7 365.3h0.6M244.9 379.8h0.6M251.5 376.2h0.6M259.4 372.1h0.6M243.1 376.2h0.6M244.0 377.5h0.6M248.1 371.3h0.6M268.8 363.0h0.6M263.6 366.4h0.6M246.8 378.9h0.6M255.6 385.5h0.6M255.6 373.0h0.6M257.1 391.4h0.6M248.4 371.2h0.6M266.7 367.2h0.6M251.2 382.5h0.6M261.4 368.7h0.6M240.1 381.7h0.6M257.8 365.2h0.6M255.7 378.6h0.6M266.0 376.6h0.6M232.4 383.5h0.6M259.2 371.4h0.6M261.4 379.0h0.6M252.2 360.2h0.6M265.6 373.7h0.6M272.3 358.6h0.6M261.9 374.0h0.6M261.3 374.4h0.6M265.9 375.8h0.6M258.2 378.0h0.6M264.9 368.7h0.6M259.6 365.2h0.6M248.6 374.7h0.6M245.5 381.8h0.6M264.5 370.3h0.6M259.6 377.8h0.6M248.8 392.4h0.6M254.7 373.2h0.6M266.9 382.1h0.6M239.9 381.5h0.6M246.8 375.5h0.6M260.4 375.1h0.6M261.5 374.0h0.6M244.5 366.6h0.6M246.0 370.0h0.6M255.9 364.1h0.6M266.4 369.8h0.6M254.6 372.6h0.6M234.7 367.5h0.6M263.2 375.9h0.6M254.3 372.0h0.6M250.6 374.1h0.6M244.6 374.5h0.6M264.6 367.8h0.6M256.7 372.7h0.6M257.9 368.1h0.6M257.4 378.7h0.6M258.2 370.0h0.6M261.6 378.9h0.6M269.0 363.7h0.6M245.4 370.0h0.6M253.8 375.5h0.6M250.6 378.2h0.6M268.8 370.8h0.6M252.0 371.1h0.6M240.8 386.9h0.6M254.2 380.5h0.6M248.2 369.6h0.6M248.2 376.9h0.6M250.7 383.1h0.6M243.3 390.8h0.6M238.0 380.8h0.6M271.1 381.2h0.6M253.4 373.6h0.6M246.5 376.5h0.6M259.8 361.2h0.6M265.8 379.3h0.6M239.6 373.7h0.6M250.7 382.6h0.6M256.9 380.1h0.6M247.3 377.2h0.6M258.3 378.6h0.6M243.9 365.2h0.6M248.8 375.9h0.6M253.4 379.2h0.6M258.1 358.7h0.6M254.8 379.1h0.6M248.7 378.0h0.6M251.3 376.3h0.6M236.5 383.4h0.6M272.6 366.1h0.6M251.0 367.5h0.6M251.9 383.0h0.6M256.7 376.8h0.6M259.3 375.5h0.6M257.4 382.4h0.6M248.7 384.0h0.6M240.3 380.0h0.6M253.0 380.3h0.6M247.7 374.0h0.6M249.7 370.3h0.6M254.4 373.1h0.6M256.5 372.0h0.6M265.4 377.5h0.6M253.2 378.4h0.6M239.7 375.4h0.6M259.4 369.5h0.6M262.3 373.0h0.6M240.4 374.3h0.6M259.6 374.7h0.6M256.0 381.3h0.6M249.8 373.5h0.6M255.9 376.7h0.6M257.7 384.3h0.6M259.5 367.9h0.6M264.2 369.6h0.6M254.3 369.8h0.6M254.4 377.3h0.6M275.0 360.1h0.6M245.3 373.5h0.6M252.1 368.8h0.6M251.4 379.2h0.6M261.0 374.7h0.6M263.9 364.1h0.6M243.2 377.2h0.6M264.9 371.7h0.6M244.3 367.5h0.6M276.6 361.8h0.6M248.7 374.3h0.6M263.8 360.2h0.6M252.2 384.2h0.6M260.5 373.3h0.6M248.1 379.3h0.6M255.6 364.9h0.6M254.6 364.4h0.6M255.2 377.1h0.6M261.2 371.8h0.6M250.7 369.4h0.6M251.7 371.7h0.6M243.2 375.3h0.6M253.3 368.4h0.6M250.3 363.2h0.6M262.0 371.7h0.6M260.1 379.8h0.6M248.3 376.4h0.6M258.2 373.6h0.6M265.6 373.9h0.6M252.7 370.3h0.6M244.5 372.1h0.6M275.4 363.6h0.6M259.2 370.2h0.6M260.4 371.2h0.6M275.8 375.5h0.6M247.6 378.0h0.6M257.0 379.0h0.6M238.3 376.1h0.6M258.6 374.0h0.6M257.8 373.7h0.6M247.8 372.6h0.6M247.2 377.8h0.6M252.9 368.0h0.6M252.5 368.2h0.6M267.9 376.9h0.6M252.4 366.6h0.6M253.1 376.7h0.6M252.9 379.1h0.6M240.8 379.5h0.6M250.3 383.1h0.6M242.9 374.9h0.6M255.5 366.5h0.6M235.8 388.1h0.6M244.9 373.9h0.6M256.6 370.1h0.6M236.6 374.5h0.6M241.2 373.5h0.6M262.9 369.5h0.6M243.1 379.9h0.6M254.4 368.8h0.6M257.0 371.6h0.6M245.4 371.5h0.6M240.1 375.8h0.6M267.4 372.7h0.6M249.7 375.7h0.6M258.8 369.4h0.6M248.0 369.4h0.6M257.5 385.3h0.6M243.3 384.8h0.6M242.7 387.1h0.6M245.5 379.7h0.6M249.1 379.7h0.6M249.1 374.3h0.6M251.6 376.8h0.6M258.1 365.2h0.6M249.9 379.2h0.6M262.4 376.7h0.6M248.8 380.7h0.6M260.1 374.8h0.6M265.6 370.6h0.6M269.2 373.7h0.6M237.5 384.0h0.6M269.1 379.2h0.6M239.4 376.8h0.6M266.5 374.8h0.6M254.3 380.4h0.6M257.4 375.2h0.6M246.4 374.2h0.6M262.4 359.8h0.6M260.3 362.9h0.6M249.7 380.9h0.6M249.2 378.3h0.6M261.7 384.6h0.6M263.2 384.3h0.6M261.0 384.1h0.6M251.2 369.5h0.6M254.5 375.3h0.6M262.4 381.5h0.6M261.6 376.8h0.6M264.0 375.1h0.6M255.7 378.1h0.6M248.5 366.7h0.6M256.9 385.7h0.6M258.3 376.2h0.6M249.9 373.9h0.6M258.3 370.5h0.6M247.3 389.5h0.6M256.6 372.7h0.6M249.3 383.4h0.6M272.5 373.6h0.6M264.6 381.7h0.6M256.7 369.0h0.6M243.3 357.8h0.6M244.0 370.6h0.6M260.4 374.8h0.6M253.2 385.5h0.6M257.1 368.3h0.6M241.0 370.1h0.6M241.6 384.2h0.6M255.4 368.3h0.6M252.7 385.8h0.6M243.1 384.9h0.6M247.6 375.1h0.6M261.1 381.3h0.6M250.7 370.5h0.6M259.3 364.3h0.6M268.5 370.5h0.6M257.3 370.6h0.6M255.5 364.1h0.6M249.4 372.3h0.6M264.8 363.7h0.6M242.2 368.3h0.6M245.1 383.0h0.6M254.3 360.7h0.6M241.9 369.9h0.6M262.8 371.2h0.6M249.1 370.4h0.6M258.9 371.1h0.6M251.8 373.4h0.6M252.3 380.8h0.6M254.6 376.6h0.6M237.8 380.2h0.6M245.2 369.6h0.6M250.4 372.1h0.6M273.3 367.1h0.6M261.4 373.1h0.6M260.6 364.8h0.6M245.6 391.3h0.6M262.0 377.9h0.6M265.0 365.7h0.6M260.8 375.1h0.6M276.8 364.8h0.6M243.0 367.0h0.6M245.3 371.3h0.6M252.2 383.7h0.6M246.1 377.5h0.6M254.9 381.1h0.6M258.9 370.1h0.6M254.3 367.7h0.6M255.3 375.3h0.6M257.9 370.1h0.6M261.0 373.7h0.6M248.8 363.6h0.6M248.7 374.6h0.6M264.6 370.2h0.6M251.5 371.3h0.6M247.3 369.2h0.6M256.8 369.2h0.6M251.4 374.9h0.6M255.4 373.5h0.6M253.9 371.0h0.6M259.8 369.1h0.6M262.2 374.5h0.6M247.4 379.3h0.6M244.1 378.0h0.6M268.0 367.9h0.6M248.6 378.2h0.6M241.2 383.9h0.6M238.3 380.0h0.6M254.1 377.1h0.6M248.9 371.6h0.6M238.8 380.9h0.6M246.3 378.5h0.6M245.4 364.6h0.6M262.9 369.2h0.6M256.4 379.2h0.6M254.3 366.6h0.6M243.6 378.9h0.6M252.8 379.4h0.6M260.0 368.7h0.6M255.7 382.4h0.6M263.4 372.3h0.6M255.0 370.4h0.6M260.3 368.0h0.6M258.3 376.3h0.6M249.6 378.3h0.6M265.7 371.8h0.6M257.4 365.8h0.6M261.4 383.4h0.6M245.3 371.1h0.6M245.1 374.4h0.6M252.8 366.0h0.6M247.5 382.6h0.6M259.6 365.7h0.6M257.8 378.5h0.6M264.8 369.7h0.6M259.4 375.2h0.6M244.8 391.4h0.6M262.4 372.4h0.6M248.8 372.9h0.6M248.1 370.2h0.6M254.9 377.8h0.6M254.3 381.2h0.6M263.2 367.5h0.6M278.4 370.4h0.6M258.0 366.7h0.6M266.7 362.3h0.6M252.6 375.9h0.6M257.2 374.4h0.6M250.0 379.5h0.6M250.8 387.3h0.6M265.8 371.3h0.6M258.2 368.6h0.6M258.2 366.5h0.6M247.6 375.7h0.6M268.9 359.1h0.6M252.9 377.6h0.6M248.8 375.4h0.6M254.2 377.4h0.6M260.1 375.3h0.6M260.7 374.1h0.6M266.9 375.2h0.6M245.4 378.7h0.6M250.7 373.1h0.6M267.6 370.1h0.6M273.7 375.8h0.6M249.0 372.1h0.6M253.6 379.2h0.6M241.3 374.3h0.6M247.4 375.2h0.6M246.9 387.6h0.6M253.5 380.5h0.6M244.3 370.5h0.6M262.3 376.0h0.6M253.9 378.1h0.6M252.2 377.1h0.6M262.2 371.4h0.6M252.1 370.9h0.6M243.9 378.3h0.6M254.6 363.5h0.6M272.8 373.0h0.6M255.2 376.6h0.6M258.8 374.0h0.6M252.7 373.3h0.6M252.5 365.4h0.6M258.7 358.4h0.6M243.9 377.5h0.6M249.3 371.2h0.6M252.1 375.2h0.6M266.7 365.6h0.6M275.2 375.5h0.6M259.7 367.4h0.6M257.8 386.6h0.6M260.2 369.3h0.6M267.2 366.7h0.6M246.1 360.5h0.6M250.2 380.6h0.6M255.7 369.3h0.6M256.9 369.3h0.6M238.3 383.6h0.6M258.0 371.5h0.6M240.9 382.4h0.6M260.9 379.6h0.6M261.6 381.6h0.6M235.2 379.9h0.6M258.7 379.4h0.6M256.1 386.4h0.6M249.1 373.4h0.6M262.5 382.7h0.6M271.4 365.6h0.6M258.6 371.4h0.6M245.1 381.3h0.6M242.2 386.8h0.6M244.5 382.0h0.6M245.8 384.5h0.6M263.9 374.1h0.6M256.8 375.7h0.6M254.1 358.7h0.6M261.8 385.3h0.6M254.5 377.7h0.6M254.7 370.5h0.6M247.2 369.3h0.6M249.1 366.9h0.6M254.6 380.1h0.6M244.5 371.4h0.6M268.4 388.7h0.6M255.4 375.2h0.6M249.7 369.8h0.6M262.6 367.6h0.6M245.4 385.0h0.6M263.3 377.1h0.6M255.1 387.4h0.6M270.3 374.9h0.6M249.7 383.8h0.6M251.0 373.1h0.6M247.2 380.5h0.6M243.8 372.8h0.6M256.5 374.2h0.6M245.4 378.3h0.6M257.1 362.3h0.6M248.9 368.0h0.6M263.3 380.2h0.6M232.7 370.5h0.6M257.9 368.4h0.6M254.8 365.6h0.6M254.4 371.2h0.6M249.0 386.7h0.6M269.2 372.9h0.6M250.9 390.2h0.6M258.0 382.0h0.6M252.1 379.0h0.6M251.3 366.8h0.6M255.1 373.6h0.6M260.1 371.3h0.6M244.9 371.7h0.6M250.4 380.7h0.6M242.4 370.0h0.6M257.7 371.9h0.6M247.1 381.9h0.6M248.0 379.2h0.6M259.9 374.3h0.6M254.2 370.3h0.6M257.8 364.3h0.6M253.1 376.3h0.6M257.8 374.7h0.6M255.1 362.5h0.6M244.9 356.1h0.6M256.1 362.2h0.6M251.4 373.6h0.6M252.3 376.8h0.6M256.7 369.2h0.6M249.7 373.3h0.6M245.3 381.2h0.6M264.4 363.1h0.6M269.9 354.3h0.6M251.4 380.1h0.6M264.1 376.7h0.6M257.6 376.5h0.6M248.9 383.4h0.6M247.2 370.6h0.6M251.9 383.8h0.6M250.7 370.7h0.6M251.5 372.2h0.6M253.3 369.6h0.6M244.7 385.8h0.6M261.7 371.4h0.6M244.7 374.6h0.6M245.3 370.6h0.6M262.2 369.8h0.6M260.8 376.2h0.6M266.7 363.9h0.6M255.5 365.0h0.6M248.9 366.8h0.6M264.0 376.5h0.6M253.5 370.9h0.6M253.3 380.1h0.6M247.1 376.9h0.6M257.7 368.5h0.6M234.3 388.0h0.6M258.8 355.3h0.6M237.4 370.3h0.6M261.7 377.2h0.6M241.1 380.9h0.6M260.1 373.2h0.6M275.3 369.9h0.6M252.0 382.4h0.6M244.4 377.3h0.6M270.8 380.0h0.6M250.6 378.9h0.6M244.9 364.9h0.6M265.0 371.9h0.6M241.7 367.1h0.6M243.2 374.7h0.6M248.4 371.5h0.6M237.1 381.8h0.6M261.3 365.4h0.6M263.0 374.1h0.6M253.8 368.6h0.6M250.8 370.8h0.6M241.0 366.2h0.6M258.3 366.8h0.6M248.4 375.6h0.6M259.6 379.6h0.6M263.0 373.9h0.6M254.7 378.4h0.6M236.4 368.6h0.6M246.4 378.8h0.6M265.9 386.0h0.6M256.7 371.1h0.6M266.4 366.0h0.6M235.3 384.5h0.6M253.4 369.7h0.6M252.8 382.9h0.6M240.5 375.8h0.6M248.9 376.4h0.6M262.6 370.1h0.6M258.9 370.3h0.6M249.8 379.5h0.6M257.1 368.2h0.6M264.5 374.9h0.6M258.5 375.7h0.6M275.9 356.2h0.6M244.6 382.3h0.6M257.9 369.8h0.6M278.3 367.0h0.6M273.8 351.2h0.6M247.8 385.1h0.6M248.6 381.2h0.6M264.3 356.8h0.6M248.2 368.8h0.6M257.9 372.4h0.6M238.6 381.8h0.6M265.4 380.4h0.6M235.4 383.2h0.6M258.7 368.6h0.6M266.3 358.3h0.6M248.0 367.8h0.6M235.9 367.9h0.6M239.9 375.7h0.6M280.9 366.2h0.6M239.6 378.2h0.6M261.3 358.4h0.6M257.6 386.1h0.6M270.7 371.4h0.6M274.6 372.6h0.6M263.0 367.8h0.6M256.1 379.7h0.6M249.3 387.0h0.6M254.5 374.1h0.6M269.6 387.6h0.6M265.1 374.5h0.6M265.3 365.5h0.6M234.4 391.3h0.6M246.6 376.9h0.6M247.7 383.8h0.6M249.6 378.3h0.6M242.7 375.9h0.6M266.1 364.8h0.6M271.2 363.1h0.6M281.4 369.6h0.6M249.9 361.8h0.6M255.6 370.1h0.6M258.2 377.7h0.6M256.8 360.7h0.6M245.6 380.3h0.6M267.7 351.0h0.6M250.4 375.9h0.6M265.4 376.5h0.6M238.2 386.6h0.6M241.3 380.9h0.6M256.7 360.5h0.6M242.9 376.2h0.6M260.3 371.8h0.6M251.7 370.6h0.6M283.4 364.8h0.6M240.5 389.9h0.6M245.9 389.8h0.6M264.6 356.7h0.6M258.5 374.2h0.6M263.0 355.8h0.6M253.0 357.0h0.6M269.7 364.8h0.6M261.6 363.6h0.6M274.8 368.5h0.6M238.6 380.5h0.6M260.4 370.2h0.6M253.9 373.5h0.6M262.4 356.8h0.6M244.3 378.1h0.6M267.9 360.0h0.6M239.0 378.2h0.6M268.9 362.0h0.6M264.4 353.0h0.6M232.6 395.5h0.6M262.3 359.7h0.6M264.6 367.5h0.6M235.3 383.7h0.6M256.0 376.9h0.6M253.3 385.8h0.6M235.0 404.6h0.6M263.7 361.8h0.6M250.5 376.9h0.6M271.7 383.2h0.6M256.3 366.5h0.6M259.4 367.4h0.6M280.9 378.3h0.6M261.8 375.1h0.6M258.2 369.4h0.6M264.4 370.0h0.6M246.8 366.2h0.6M248.3 384.3h0.6M279.5 369.3h0.6M254.5 395.6h0.6M241.5 368.1h0.6M264.0 363.8h0.6M245.8 380.5h0.6M258.2 388.0h0.6M272.5 358.4h0.6M274.7 378.2h0.6M281.9 374.1h0.6M273.1 383.5h0.6M266.1 381.6h0.6M264.7 377.9h0.6M261.3 380.5h0.6M256.8 362.5h0.6M288.1 353.8h0.6M256.3 372.0h0.6M280.0 368.6h0.6M255.8 373.3h0.6M273.8 377.9h0.6M259.5 379.9h0.6M249.0 380.2h0.6M278.8 360.9h0.6M277.9 372.3h0.6M249.1 388.2h0.6M256.5 363.3h0.6M270.2 383.0h0.6M261.8 382.3h0.6M259.0 382.3h0.6M271.0 373.7h0.6M240.0 380.4h0.6M263.9 374.4h0.6M245.5 366.1h0.6M256.8 364.5h0.6M288.7 360.9h0.6M257.9 370.2h0.6M237.6 385.1h0.6M276.5 380.2h0.6M263.5 366.7h0.6M258.1 362.2h0.6M272.4 363.8h0.6M253.0 374.3h0.6M256.7 364.7h0.6M271.9 363.8h0.6M264.3 359.4h0.6M271.5 370.7h0.6M253.4 390.3h0.6M281.2 358.6h0.6M239.2 371.3h0.6M239.8 386.3h0.6M265.3 367.1h0.6M254.3 366.9h0.6M261.2 395.9h0.6M256.5 365.6h0.6M244.2 379.3h0.6M262.7 380.9h0.6M276.3 379.5h0.6M284.2 364.9h0.6M279.9 357.2h0.6M247.2 382.4h0.6M269.6 370.6h0.6M243.8 371.6h0.6M257.0 381.2h0.6M243.9 378.3h0.6M251.4 376.5h0.6M233.6 377.2h0.6M256.6 364.8h0.6M244.5 379.0h0.6M246.6 363.7h0.6M232.0 386.6h0.6M259.2 375.2h0.6M284.4 361.1h0.6M253.8 376.1h0.6M256.6 365.5h0.6M243.3 404.2h0.6M252.3 390.7h0.6M247.1 396.4h0.6M237.6 367.1h0.6M246.6 369.0h0.6M251.7 381.0h0.6M262.8 366.6h0.6M254.0 390.0h0.6M262.4 373.3h0.6M276.1 351.4h0.6M271.1 361.0h0.6M252.9 354.3h0.6M234.6 385.7h0.6M256.0 362.2h0.6M259.6 370.5h0.6M271.9 363.7h0.6M260.4 368.8h0.6M296.1 350.1h0.6M254.1 361.3h0.6M267.3 367.8h0.6M246.1 373.2h0.6M244.8 378.1h0.6M254.4 370.8h0.6M261.1 378.3h0.6M267.7 359.0h0.6M273.5 363.0h0.6M278.5 364.1h0.6M276.6 370.9h0.6M269.8 376.2h0.6M256.6 382.8h0.6M265.8 376.3h0.6M275.7 356.6h0.6M245.1 373.0h0.6M267.3 381.6h0.6M265.1 378.2h0.6M256.4 360.2h0.6M248.8 367.7h0.6M244.9 357.4h0.6M257.6 378.4h0.6M249.7 371.1h0.6M276.2 370.7h0.6M235.7 360.0h0.6M240.4 374.6h0.6M262.3 366.2h0.6M268.2 364.4h0.6M242.1 384.3h0.6M275.6 365.4h0.6M232.1 402.9h0.6M271.9 370.4h0.6M246.0 385.6h0.6M251.6 366.8h0.6M257.1 369.4h0.6M249.2 384.5h0.6M261.2 380.5h0.6M283.4 354.8h0.6M258.8 373.7h0.6M247.5 378.1h0.6M260.7 380.5h0.6M241.1 375.8h0.6M248.6 373.3h0.6M250.2 367.1h0.6M266.6 376.8h0.6M251.2 374.4h0.6M264.3 382.1h0.6M273.3 363.4h0.6M279.1 363.2h0.6M235.0 383.8h0.6M257.0 363.5h0.6M242.2 389.3h0.6M266.4 353.8h0.6M261.1 366.4h0.6M257.6 366.2h0.6M250.6 371.7h0.6M244.7 383.1h0.6M234.9 385.6h0.6M270.8 357.6h0.6M255.0 372.7h0.6M258.1 368.4h0.6M262.0 373.0h0.6M268.4 359.5h0.6M283.1 355.6h0.6M255.3 384.4h0.6M235.7 370.4h0.6M252.4 365.8h0.6M248.2 372.1h0.6M249.2 375.2h0.6M273.3 357.5h0.6M258.6 371.9h0.6M258.8 381.2h0.6M254.7 372.9h0.6M254.7 371.9h0.6M249.0 366.0h0.6M250.5 385.6h0.6M251.9 377.8h0.6M255.2 375.3h0.6M232.5 372.3h0.6M258.6 360.9h0.6M257.2 369.8h0.6M263.3 359.4h0.6M242.7 376.3h0.6M245.1 375.5h0.6M268.4 388.4h0.6M248.0 383.6h0.6M264.1 379.4h0.6M248.6 371.0h0.6M241.6 377.2h0.6M238.1 389.2h0.6M249.5 374.5h0.6M251.3 375.3h0.6M241.2 374.5h0.6M276.7 369.4h0.6M257.9 378.3h0.6M245.7 365.2h0.6M277.7 366.4h0.6M268.7 358.1h0.6M247.5 383.9h0.6M243.9 379.2h0.6M255.2 375.8h0.6M267.4 377.0h0.6M238.9 372.6h0.6M273.1 378.2h0.6M252.5 371.7h0.6M268.8 387.1h0.6M255.8 366.3h0.6M264.2 369.0h0.6M266.3 358.2h0.6M248.2 381.9h0.6M283.0 361.9h0.6M240.7 390.3h0.6M261.9 374.5h0.6M266.8 367.8h0.6M258.1 371.4h0.6M269.6 360.1h0.6M236.2 375.7h0.6M257.2 363.2h0.6M271.1 373.0h0.6M257.9 370.5h0.6M243.0 387.2h0.6M259.9 372.7h0.6M260.3 395.9h0.6M244.6 378.0h0.6M275.5 364.6h0.6M250.7 379.0h0.6M244.1 381.0h0.6M259.3 387.0h0.6M249.1 381.3h0.6M255.3 378.4h0.6M261.0 368.7h0.6M252.3 370.0h0.6M265.7 373.0h0.6M261.8 371.8h0.6M274.0 362.5h0.6M244.6 385.3h0.6M258.7 362.4h0.6M261.3 352.1h0.6M261.7 367.0h0.6M243.7 375.5h0.6M262.2 359.7h0.6M265.5 357.4h0.6M258.3 384.1h0.6M260.3 368.1h0.6M274.2 372.3h0.6M253.2 377.8h0.6M247.7 373.5h0.6M277.8 359.4h0.6M266.1 371.4h0.6M255.7 380.6h0.6M248.4 377.5h0.6M279.3 373.0h0.6M254.3 357.6h0.6M247.1 390.4h0.6M274.8 360.0h0.6M238.4 378.6h0.6M255.9 372.7h0.6M266.3 378.2h0.6M254.2 377.9h0.6M251.1 377.8h0.6M263.8 374.7h0.6M241.8 380.5h0.6M255.1 372.1h0.6M267.5 372.3h0.6M243.4 373.7h0.6M276.4 358.3h0.6M255.2 378.0h0.6M256.9 365.8h0.6M251.6 374.0h0.6M265.6 374.2h0.6M251.6 370.3h0.6M261.0 360.8h0.6M274.7 368.5h0.6M274.6 382.2h0.6M237.8 372.9h0.6M275.9 356.1h0.6M251.4 384.7h0.6M262.0 371.8h0.6M259.3 367.4h0.6M261.7 392.2h0.6M250.0 368.2h0.6M265.7 362.6h0.6M271.4 359.6h0.6M250.3 361.6h0.6M257.7 381.8h0.6M268.7 359.4h0.6M262.4 390.9h0.6M261.5 374.2h0.6M264.4 363.4h0.6M253.4 380.5h0.6M262.4 387.1h0.6M254.2 370.8h0.6M253.3 372.5h0.6M234.0 379.4h0.6M262.8 362.1h0.6M267.8 359.4h0.6M263.8 366.2h0.6M259.2 383.1h0.6M253.8 376.7h0.6M265.3 390.2h0.6M252.5 384.1h0.6M257.8 370.9h0.6M277.7 359.7h0.6M239.4 379.8h0.6M249.9 375.7h0.6M254.6 391.5h0.6M232.3 394.0h0.6M242.0 389.1h0.6M271.9 372.4h0.6M264.6 375.3h0.6M255.9 353.4h0.6M275.1 356.6h0.6M244.6 387.0h0.6M283.1 368.7h0.6M256.9 377.9h0.6M249.7 381.0h0.6M272.1 371.7h0.6M264.7 388.5h0.6M260.4 360.9h0.6M256.1 367.0h0.6M233.6 376.2h0.6M257.6 368.4h0.6M270.4 371.0h0.6M247.1 394.8h0.6M258.8 371.1h0.6M236.8 380.5h0.6M237.7 392.4h0.6M256.8 393.4h0.6M266.8 358.7h0.6M267.4 378.2h0.6M273.5 368.4h0.6M247.0 383.2h0.6M255.3 358.3h0.6M267.9 382.3h0.6M243.9 368.4h0.6M253.4 397.4h0.6M257.5 364.4h0.6M257.2 377.4h0.6M269.2 388.8h0.6M263.1 370.1h0.6M251.6 375.8h0.6M268.0 365.5h0.6M270.7 368.0h0.6M264.2 365.8h0.6M262.2 383.8h0.6M263.3 377.4h0.6M273.5 375.4h0.6M250.6 374.4h0.6M256.5 378.0h0.6M244.2 387.2h0.6M254.5 361.4h0.6M246.5 382.0h0.6M246.5 367.1h0.6M256.1 380.0h0.6M270.8 384.5h0.6M274.2 360.1h0.6M256.8 362.4h0.6M248.2 372.9h0.6M261.3 367.4h0.6M253.9 380.0h0.6M256.2 379.9h0.6M259.5 361.6h0.6M262.1 383.2h0.6M253.7 371.5h0.6M254.9 369.6h0.6M245.1 394.0h0.6M255.6 376.2h0.6M246.8 371.8h0.6M272.4 351.8h0.6M254.1 359.3h0.6M266.9 372.3h0.6M274.3 369.1h0.6M270.7 371.9h0.6M248.1 374.3h0.6M279.4 356.4h0.6M276.1 367.1h0.6M245.1 384.6h0.6M256.1 378.0h0.6M247.6 359.8h0.6M237.2 367.2h0.6M260.4 386.8h0.6M234.3 378.9h0.6M272.3 363.1h0.6M275.0 372.4h0.6M260.4 366.1h0.6M256.4 375.5h0.6M251.7 378.6h0.6M273.1 362.3h0.6M265.5 371.2h0.6M261.5 371.3h0.6M271.6 376.6h0.6M268.5 361.9h0.6M249.4 375.0h0.6M271.7 380.4h0.6M246.9 366.4h0.6M262.9 381.3h0.6M247.2 370.4h0.6M251.7 378.2h0.6M278.5 357.1h0.6M261.5 361.6h0.6M262.3 373.7h0.6M236.2 408.8h0.6M269.1 386.9h0.6M248.5 385.1h0.6M263.3 378.9h0.6M243.5 375.4h0.6M261.9 352.7h0.6M264.4 363.9h0.6M237.6 381.6h0.6M261.3 358.8h0.6M245.2 379.2h0.6M273.7 358.5h0.6M262.0 367.5h0.6M257.8 390.3h0.6M268.2 352.3h0.6M252.0 377.9h0.6M268.7 361.2h0.6M260.9 366.5h0.6M275.1 368.2h0.6M243.8 381.4h0.6M283.2 353.4h0.6M250.4 381.2h0.6M252.1 379.6h0.6M247.4 368.7h0.6M253.1 365.8h0.6M259.6 377.1h0.6M242.9 390.5h0.6M255.1 363.5h0.6M260.5 385.5h0.6M269.9 371.5h0.6M252.9 376.4h0.6M259.7 355.9h0.6M255.4 384.4h0.6M258.7 372.3h0.6M241.2 366.7h0.6M269.9 384.3h0.6M251.0 387.1h0.6M281.8 353.7h0.6M273.3 365.3h0.6M268.0 377.8h0.6M250.5 377.2h0.6M252.7 373.8h0.6M252.1 385.2h0.6M258.3 377.4h0.6M252.5 361.1h0.6M250.0 372.5h0.6M258.5 361.9h0.6M256.9 373.1h0.6M252.2 379.7h0.6M269.4 365.1h0.6M271.1 375.6h0.6M249.8 372.2h0.6M285.8 364.3h0.6M262.3 373.4h0.6M273.6 368.8h0.6M282.3 371.6h0.6M238.3 367.5h0.6M263.9 383.8h0.6M269.4 365.9h0.6M273.3 378.0h0.6M267.8 360.2h0.6M270.7 369.4h0.6M237.1 378.7h0.6M244.5 373.3h0.6M264.9 366.4h0.6M249.9 372.1h0.6M254.7 370.4h0.6M262.2 374.9h0.6M269.3 370.6h0.6M260.5 373.6h0.6M246.1 383.5h0.6M244.4 382.5h0.6M262.7 358.4h0.6M265.0 382.7h0.6M262.3 355.2h0.6M259.1 376.7h0.6M258.7 366.4h0.6M238.6 379.8h0.6M256.9 374.4h0.6M267.4 363.6h0.6M242.2 362.9h0.6M263.0 371.4h0.6M266.5 369.3h0.6M288.4 365.4h0.6M256.4 354.4h0.6M253.9 363.2h0.6M241.1 368.6h0.6M242.7 378.0h0.6M235.6 398.3h0.6M233.3 377.5h0.6M266.6 385.2h0.6M257.1 378.4h0.6M261.3 362.2h0.6M236.0 386.2h0.6M233.6 401.2h0.6M278.9 357.7h0.6M272.3 363.0h0.6M239.3 384.0h0.6M258.6 368.8h0.6M259.5 386.4h0.6M244.1 386.2h0.6M248.7 374.2h0.6M270.0 359.6h0.6M266.8 369.2h0.6M269.3 379.1h0.6M261.7 375.4h0.6M258.9 361.8h0.6M264.0 375.4h0.6M255.3 371.1h0.6M280.0 359.8h0.6M260.4 376.4h0.6M264.6 369.5h0.6M256.3 389.3h0.6M248.5 381.3h0.6M256.8 372.5h0.6M253.0 368.5h0.6M246.7 364.9h0.6M268.3 372.7h0.6M284.1 357.9h0.6M261.3 372.2h0.6M256.1 380.2h0.6M247.9 383.4h0.6M237.9 380.7h0.6M265.6 369.3h0.6M265.2 376.4h0.6M246.9 351.7h0.6M258.6 372.4h0.6M246.2 371.0h0.6M276.5 367.6h0.6M263.5 390.5h0.6M280.3 366.9h0.6M263.1 359.6h0.6M261.2 371.6h0.6M253.7 383.1h0.6M257.9 358.2h0.6M274.3 360.1h0.6M248.9 378.3h0.6M249.0 378.2h0.6M280.7 365.8h0.6M271.3 365.8h0.6M264.2 385.5h0.6M268.5 367.1h0.6M259.0 377.6h0.6M253.9 369.6h0.6M255.9 370.3h0.6M262.0 380.4h0.6M251.7 362.6h0.6M236.6 373.9h0.6M255.7 381.5h0.6M261.6 380.6h0.6M256.1 379.4h0.6M266.9 365.9h0.6M261.8 359.5h0.6M270.8 375.7h0.6M259.6 378.9h0.6M255.7 368.7h0.6M265.6 370.0h0.6M269.7 368.4h0.6M252.1 375.9h0.6M246.6 379.8h0.6M251.0 366.3h0.6M262.9 373.5h0.6M251.7 363.5h0.6M260.9 354.3h0.6M276.5 361.0h0.6M280.3 361.0h0.6M240.6 383.7h0.6M238.8 378.8h0.6M265.8 357.6h0.6M278.7 373.0h0.6M261.4 385.9h0.6M254.1 378.6h0.6M268.9 364.9h0.6M245.5 395.5h0.6M266.7 370.9h0.6M275.8 372.9h0.6M274.4 376.3h0.6M267.3 367.6h0.6M251.2 364.6h0.6M253.6 386.5h0.6M245.8 375.2h0.6M282.6 364.5h0.6M274.4 360.3h0.6M257.1 372.8h0.6M257.0 378.6h0.6M261.1 363.3h0.6M249.2 372.1h0.6M264.8 379.2h0.6M264.5 388.1h0.6M263.6 376.8h0.6M258.6 370.5h0.6M255.3 378.8h0.6M239.2 383.4h0.6M235.6 397.7h0.6M287.6 365.2h0.6M251.2 374.2h0.6M255.3 379.0h0.6M253.8 375.2h0.6M246.5 385.9h0.6M279.2 372.5h0.6M233.3 379.8h0.6M264.1 384.3h0.6M249.9 375.6h0.6M274.5 355.5h0.6M268.9 373.6h0.6M258.7 376.8h0.6M237.8 388.0h0.6M268.1 380.5h0.6M270.6 373.0h0.6M266.4 380.9h0.6M253.8 376.4h0.6M266.0 374.6h0.6M247.3 387.1h0.6M260.9 371.4h0.6M262.5 362.0h0.6M254.5 367.0h0.6M244.5 380.6h0.6M254.6 374.4h0.6M245.9 387.0h0.6M241.7 381.4h0.6M271.5 361.7h0.6M255.5 367.0h0.6M250.7 363.6h0.6M250.7 389.4h0.6M263.3 356.8h0.6M253.2 371.4h0.6M248.1 362.8h0.6M261.1 371.7h0.6M259.4 361.3h0.6M245.5 378.0h0.6M243.2 388.2h0.6M274.8 363.6h0.6M253.8 379.2h0.6M273.5 367.3h0.6M265.4 365.4h0.6M256.5 366.6h0.6M254.3 368.6h0.6M279.1 356.1h0.6M248.9 390.5h0.6M252.3 364.8h0.6M246.5 385.0h0.6M255.4 373.2h0.6M245.0 381.7h0.6M259.0 383.0h0.6M240.8 371.7h0.6M264.4 379.7h0.6M261.9 376.5h0.6M260.3 359.0h0.6M249.4 396.6h0.6M274.5 381.8h0.6M284.1 354.3h0.6M255.7 377.6h0.6M247.2 370.1h0.6M266.0 370.0h0.6M254.6 378.7h0.6M259.3 366.2h0.6M266.0 376.2h0.6M239.3 385.2h0.6M267.0 367.4h0.6M243.5 388.5h0.6M240.8 392.6h0.6M252.2 390.1h0.6M276.8 357.3h0.6M249.0 359.1h0.6M263.6 360.2h0.6M245.0 383.8h0.6M265.7 374.7h0.6M261.6 380.5h0.6M272.7 367.3h0.6M259.7 362.9h0.6M257.4 373.8h0.6M232.5 383.1h0.6M261.6 400.7h0.6M267.9 366.4h0.6M260.0 383.0h0.6M259.8 374.5h0.6M264.8 367.0h0.6M268.9 367.6h0.6M245.4 371.1h0.6M256.4 359.7h0.6M263.1 391.5h0.6M260.7 385.9h0.6M244.6 363.1h0.6M261.6 377.9h0.6M266.9 371.8h0.6M279.6 364.3h0.6M262.9 361.3h0.6M245.7 380.5h0.6M263.2 370.8h0.6M255.8 385.7h0.6M248.3 363.2h0.6M238.2 376.3h0.6M233.1 386.7h0.6M248.0 388.8h0.6M251.7 375.4h0.6M258.1 364.7h0.6M257.5 352.0h0.6M260.3 354.4h0.6M282.7 366.5h0.6M256.4 377.1h0.6M275.5 374.7h0.6M246.9 372.8h0.6M247.6 383.5h0.6M250.3 370.4h0.6M233.3 379.2h0.6M279.3 360.5h0.6M260.6 380.4h0.6M266.9 358.6h0.6M280.3 365.7h0.6M263.3 381.5h0.6M279.0 364.7h0.6M274.2 365.7h0.6M261.3 362.6h0.6M249.9 364.7h0.6M257.6 373.5h0.6M247.9 365.3h0.6M258.2 360.8h0.6M278.5 366.6h0.6M266.0 364.4h0.6M248.9 370.3h0.6M253.6 379.7h0.6M249.0 381.1h0.6M260.5 397.8h0.6M256.2 368.0h0.6M240.0 380.8h0.6M237.5 382.4h0.6M272.5 355.6h0.6M240.1 376.2h0.6M242.0 376.5h0.6M245.9 375.7h0.6M239.4 382.3h0.6M244.1 368.8h0.6M267.3 373.3h0.6M247.0 387.8h0.6M255.2 375.6h0.6M248.7 383.9h0.6M257.4 360.9h0.6M257.6 374.1h0.6M276.6 383.6h0.6M263.7 364.5h0.6M235.0 377.1h0.6M244.9 387.2h0.6M252.9 376.3h0.6M257.5 380.6h0.6M234.1 376.6h0.6M267.4 361.2h0.6M243.3 374.0h0.6M243.9 383.4h0.6M250.7 375.9h0.6M240.4 363.5h0.6M240.8 383.9h0.6M270.3 374.5h0.6M241.7 369.9h0.6M260.7 377.1h0.6M259.5 381.3h0.6M251.8 376.0h0.6M288.4 353.0h0.6M238.4 378.6h0.6M243.7 364.8h0.6M253.0 361.6h0.6M260.7 385.9h0.6M271.6 377.7h0.6M266.1 377.7h0.6M251.9 376.7h0.6M251.9 373.2h0.6M272.5 367.4h0.6M277.4 364.2h0.6M249.5 371.6h0.6M273.2 378.2h0.6M264.3 389.8h0.6M260.2 368.8h0.6M241.9 367.2h0.6M239.7 377.7h0.6M262.6 374.3h0.6M250.0 378.4h0.6M262.5 382.5h0.6M234.2 385.0h0.6M278.8 357.3h0.6M279.2 361.1h0.6M242.5 372.1h0.6M255.3 377.9h0.6M255.1 368.4h0.6M249.5 362.6h0.6M250.2 378.3h0.6M263.3 374.7h0.6M279.3 352.8h0.6M258.0 371.4h0.6M258.3 382.8h0.6M258.7 375.8h0.6M247.6 364.3h0.6M265.3 366.1h0.6M250.2 358.3h0.6M243.6 372.0h0.6M265.7 366.9h0.6M250.1 380.8h0.6M251.6 365.0h0.6M255.1 374.1h0.6M236.1 383.0h0.6M244.1 374.0h0.6M254.9 377.6h0.6M265.0 379.7h0.6M255.4 381.4h0.6M254.1 369.0h0.6M245.6 374.2h0.6M257.2 371.7h0.6M265.6 377.3h0.6M269.9 371.2h0.6M256.7 357.8h0.6M243.9 386.3h0.6M274.9 353.9h0.6M247.8 378.5h0.6M275.0 360.7h0.6M253.3 371.8h0.6M246.7 378.8h0.6M254.1 372.6h0.6M247.7 367.4h0.6M254.7 379.7h0.6M263.6 378.5h0.6M253.5 366.0h0.6M250.8 378.5h0.6M256.7 374.2h0.6M262.2 372.1h0.6M257.0 376.3h0.6M264.3 386.0h0.6M264.8 370.3h0.6M260.9 375.2h0.6M266.6 381.0h0.6M257.2 377.5h0.6M272.3 364.4h0.6M262.4 354.7h0.6M268.2 373.0h0.6M254.4 361.4h0.6M238.0 384.0h0.6M251.0 370.6h0.6M257.5 374.6h0.6M261.9 363.8h0.6M256.5 371.4h0.6M276.7 368.4h0.6M239.7 393.2h0.6M233.4 372.7h0.6M254.6 387.0h0.6M247.9 381.5h0.6M257.4 356.3h0.6M265.8 366.9h0.6M239.5 378.1h0.6M242.7 375.8h0.6M256.3 375.8h0.6M237.4 377.0h0.6M246.9 377.8h0.6M274.1 368.8h0.6M256.2 368.5h0.6M256.6 366.8h0.6M271.7 363.5h0.6M234.3 372.7h0.6M258.6 354.9h0.6M256.4 357.1h0.6M260.6 370.1h0.6M243.8 387.4h0.6M251.3 364.3h0.6M255.7 371.9h0.6M266.8 361.6h0.6M247.4 379.3h0.6M265.2 361.4h0.6M262.6 368.6h0.6M267.3 380.5h0.6M245.0 358.8h0.6M253.1 376.1h0.6M257.0 391.2h0.6M260.8 359.3h0.6M272.9 357.3h0.6M259.5 358.9h0.6M254.0 383.5h0.6M254.4 369.8h0.6M260.6 358.9h0.6M267.3 369.8h0.6M260.4 367.4h0.6M249.8 376.9h0.6M252.6 376.7h0.6M246.6 363.8h0.6M245.5 383.6h0.6M250.6 374.3h0.6M249.4 369.9h0.6M267.1 367.8h0.6M241.3 370.7h0.6M257.9 389.6h0.6M241.6 367.9h0.6M267.4 378.7h0.6M261.0 372.5h0.6M273.6 368.7h0.6M264.2 365.1h0.6M243.6 379.0h0.6M257.5 375.7h0.6M248.8 369.1h0.6M250.2 356.3h0.6M243.6 382.8h0.6M253.0 379.6h0.6M258.2 376.9h0.6M259.8 382.0h0.6M254.9 377.2h0.6M258.2 365.3h0.6M255.8 377.2h0.6M253.7 380.8h0.6M253.1 374.7h0.6M257.7 379.0h0.6M266.6 354.7h0.6M262.6 369.7h0.6M245.5 391.8h0.6M257.1 377.2h0.6M261.0 378.8h0.6M253.5 381.5h0.6M254.0 392.8h0.6M255.8 377.4h0.6M265.0 374.5h0.6M259.3 377.4h0.6M250.0 386.5h0.6M256.4 369.3h0.6M273.1 373.7h0.6M244.6 397.3h0.6M265.6 378.2h0.6M253.8 366.4h0.6M265.2 379.3h0.6M257.7 373.6h0.6M255.6 367.9h0.6M237.3 371.8h0.6M250.4 379.1h0.6M283.1 359.7h0.6M261.7 374.4h0.6M253.3 390.0h0.6M256.9 364.3h0.6M257.6 372.8h0.6M244.7 373.5h0.6M258.4 373.7h0.6M263.6 377.7h0.6M237.9 384.2h0.6M254.0 370.6h0.6M235.3 367.2h0.6M272.9 386.5h0.6M281.1 354.9h0.6M240.4 382.8h0.6M256.0 367.4h0.6M252.7 372.4h0.6M270.8 368.7h0.6M261.2 362.7h0.6M258.1 371.1h0.6M264.8 356.1h0.6M251.2 371.8h0.6M269.6 380.3h0.6M252.7 375.5h0.6M271.3 366.8h0.6M259.5 376.5h0.6M260.1 382.1h0.6M242.4 360.5h0.6M237.2 380.7h0.6M236.9 380.5h0.6M263.4 384.3h0.6M274.7 366.5h0.6M252.9 364.2h0.6M239.8 363.9h0.6M261.5 376.3h0.6M241.1 384.9h0.6M257.6 361.8h0.6M253.6 364.0h0.6M272.5 363.5h0.6M268.6 361.3h0.6M269.1 370.4h0.6M251.1 374.8h0.6M273.1 366.0h0.6M256.2 391.6h0.6M258.6 365.1h0.6M262.8 363.1h0.6M260.6 379.1h0.6M239.9 383.8h0.6M265.4 366.4h0.6M236.7 373.8h0.6M263.1 369.8h0.6M256.2 376.7h0.6M258.0 368.1h0.6M243.0 376.6h0.6M269.9 376.1h0.6M255.1 375.9h0.6M267.9 371.3h0.6M247.7 370.0h0.6M247.9 387.5h0.6M257.9 379.1h0.6M270.2 370.6h0.6M240.1 378.6h0.6M249.6 354.1h0.6M250.6 376.3h0.6M253.6 364.3h0.6M251.2 367.6h0.6M270.9 355.4h0.6M266.1 353.4h0.6M257.3 367.0h0.6M267.9 376.6h0.6M270.3 370.3h0.6M249.1 362.0h0.6M247.7 356.8h0.6M265.9 357.4h0.6M249.1 382.8h0.6M267.1 367.5h0.6M246.7 373.7h0.6M268.2 359.7h0.6M260.0 363.5h0.6M241.0 386.3h0.6M251.1 364.1h0.6M261.8 375.4h0.6M245.6 374.2h0.6M264.6 363.5h0.6M261.1 364.5h0.6M253.1 369.2h0.6M262.1 375.1h0.6M252.4 375.2h0.6M259.9 362.8h0.6M244.2 381.3h0.6M275.2 375.6h0.6M253.7 396.2h0.6M272.0 366.3h0.6M284.6 369.6h0.6M277.4 364.4h0.6M256.8 381.9h0.6M259.1 375.4h0.6M256.5 375.8h0.6M261.1 362.3h0.6M246.4 384.3h0.6M233.8 392.0h0.6M261.2 369.7h0.6M257.7 364.8h0.6M276.8 372.8h0.6M280.4 358.7h0.6M239.5 379.1h0.6M245.1 372.5h0.6M267.0 385.1h0.6M272.2 365.6h0.6M258.7 374.0h0.6M257.8 370.2h0.6M233.3 387.7h0.6M286.5 362.0h0.6M248.1 395.4h0.6M264.3 369.7h0.6M261.5 358.5h0.6M245.5 375.1h0.6M268.1 367.5h0.6M275.9 362.0h0.6M256.5 360.0h0.6M258.9 377.7h0.6M265.6 382.2h0.6M269.7 377.4h0.6M268.2 374.1h0.6M245.6 376.0h0.6M245.0 369.7h0.6M250.0 381.8h0.6M240.0 371.1h0.6M254.6 363.8h0.6M248.5 382.7h0.6M246.2 369.9h0.6M268.5 369.7h0.6M261.4 375.1h0.6M267.7 369.5h0.6M254.9 381.0h0.6M251.7 389.8h0.6M245.9 389.5h0.6M260.2 378.0h0.6M233.8 378.9h0.6M245.8 373.3h0.6M264.6 361.9h0.6M268.0 375.4h0.6M256.2 373.1h0.6M242.2 391.3h0.6M264.4 378.5h0.6M247.6 367.0h0.6M255.5 374.4h0.6M244.6 360.5h0.6M280.5 357.3h0.6M276.3 369.3h0.6M246.2 383.1h0.6M242.0 397.0h0.6M256.4 361.0h0.6M265.1 360.5h0.6M256.3 354.2h0.6M241.1 375.8h0.6M260.8 380.5h0.6M260.5 387.2h0.6M236.5 384.0h0.6M253.7 374.1h0.6M253.2 387.3h0.6M244.4 371.2h0.6M259.9 362.7h0.6M270.6 376.1h0.6M270.1 369.8h0.6M245.5 389.8h0.6M249.5 366.4h0.6M265.9 377.2h0.6M252.7 384.5h0.6M252.5 392.1h0.6M285.4 370.8h0.6M248.6 366.3h0.6M246.2 371.1h0.6M256.3 384.0h0.6M279.0 372.1h0.6M255.2 374.0h0.6M253.4 373.1h0.6M259.1 381.4h0.6M253.1 361.9h0.6M261.9 365.0h0.6M248.1 401.3h0.6M254.4 388.0h0.6M256.1 366.5h0.6M264.8 372.2h0.6M256.2 383.4h0.6M253.5 378.7h0.6M259.1 359.4h0.6M245.5 367.0h0.6M271.0 358.8h0.6M249.3 392.4h0.6M237.8 377.2h0.6M267.3 352.6h0.6M255.2 356.5h0.6M258.8 360.5h0.6M236.2 370.3h0.6M239.2 386.5h0.6M244.0 364.3h0.6M255.0 356.2h0.6M255.2 369.4h0.6M274.8 361.0h0.6M276.8 366.2h0.6M258.7 370.2h0.6M255.8 375.8h0.6M281.5 358.7h0.6M257.8 373.8h0.6M270.0 381.4h0.6M250.7 380.7h0.6M255.7 369.3h0.6M253.4 372.0h0.6M248.1 362.7h0.6M261.8 361.9h0.6M246.3 364.9h0.6M255.6 373.6h0.6M262.3 360.7h0.6M284.2 368.4h0.6M232.5 388.2h0.6M258.0 364.0h0.6M265.5 367.1h0.6M252.5 381.5h0.6M268.2 359.5h0.6M263.8 356.6h0.6M263.3 363.1h0.6M251.6 362.6h0.6M254.2 365.1h0.6M254.1 365.2h0.6M244.3 384.9h0.6M259.3 388.7h0.6M243.4 381.0h0.6M245.0 406.9h0.6M239.1 384.6h0.6M271.2 377.3h0.6M249.7 374.4h0.6M245.6 383.6h0.6M267.2 368.6h0.6M251.6 382.9h0.6M261.3 373.3h0.6M254.7 359.9h0.6M261.6 380.2h0.6M259.4 387.6h0.6M275.9 358.2h0.6M269.9 367.9h0.6M238.2 383.6h0.6M268.5 365.4h0.6M254.1 377.1h0.6M258.5 363.2h0.6M273.5 369.0h0.6M269.8 373.4h0.6M269.6 362.7h0.6M282.8 369.9h0.6M271.0 362.1h0.6M249.2 386.5h0.6M240.5 384.0h0.6M267.8 366.8h0.6M235.0 387.6h0.6M252.5 365.4h0.6M252.4 375.3h0.6M247.9 374.2h0.6M274.4 383.9h0.6M261.1 365.9h0.6M254.1 373.0h0.6M268.5 386.3h0.6M251.7 372.4h0.6M272.4 363.6h0.6M283.3 369.0h0.6M255.3 383.3h0.6M254.9 386.4h0.6M271.8 366.7h0.6M240.9 380.9h0.6M243.8 359.3h0.6M236.2 381.0h0.6M256.9 371.3h0.6M260.8 385.7h0.6M256.6 370.0h0.6M256.6 364.3h0.6M268.7 376.3h0.6M272.9 371.6h0.6M255.1 372.1h0.6M257.2 376.0h0.6M275.9 368.9h0.6M262.3 396.9h0.6M273.9 358.3h0.6M250.9 395.1h0.6M256.4 361.6h0.6M248.7 386.1h0.6M256.7 377.7h0.6M251.2 383.8h0.6M282.2 365.0h0.6M237.9 391.6h0.6M268.1 370.1h0.6M243.0 374.4h0.6M260.8 356.9h0.6M247.1 400.5h0.6M257.9 373.0h0.6M257.9 366.9h0.6M246.7 368.6h0.6M241.3 385.9h0.6M247.8 375.5h0.6M257.2 355.6h0.6M267.4 365.3h0.6M234.8 392.3h0.6M262.8 376.9h0.6M250.9 374.8h0.6M257.1 382.0h0.6M261.0 365.2h0.6M267.1 379.0h0.6M262.1 367.6h0.6M256.6 386.6h0.6M277.0 372.7h0.6M260.5 369.0h0.6M256.9 367.3h0.6M271.5 375.8h0.6M242.3 392.2h0.6M244.9 372.3h0.6M275.6 374.6h0.6M254.4 370.1h0.6M234.0 369.7h0.6M267.2 362.8h0.6M272.4 380.6h0.6M247.0 365.2h0.6M240.1 369.0h0.6M256.2 378.4h0.6M261.5 374.8h0.6M249.2 362.6h0.6M245.1 374.3h0.6M263.6 366.2h0.6M263.7 360.0h0.6M236.5 375.6h0.6M242.5 352.4h0.6M252.7 361.6h0.6M248.8 374.3h0.6M259.6 370.4h0.6M263.4 372.8h0.6M280.5 352.2h0.6M261.4 381.7h0.6M268.6 359.9h0.6M236.9 385.7h0.6M248.0 392.9h0.6M270.3 358.3h0.6M238.2 375.8h0.6M273.9 363.3h0.6M263.8 372.7h0.6M258.5 372.1h0.6M255.2 378.9h0.6M241.9 366.1h0.6M243.0 365.3h0.6M250.0 375.6h0.6M251.3 374.5h0.6M272.5 363.7h0.6M243.7 369.3h0.6M248.7 373.5h0.6M234.5 385.3h0.6M258.8 373.8h0.6M256.7 369.9h0.6M270.7 368.3h0.6M281.2 366.5h0.6M263.6 358.5h0.6M245.8 372.8h0.6M259.6 362.9h0.6M260.3 379.1h0.6M256.0 365.0h0.6M242.9 377.5h0.6M261.1 373.0h0.6M241.3 384.6h0.6M255.6 378.6h0.6M252.8 378.2h0.6M264.5 370.1h0.6M252.0 369.8h0.6M248.8 373.2h0.6M268.6 368.5h0.6M240.0 386.1h0.6M257.0 379.6h0.6M259.8 367.9h0.6M249.5 389.0h0.6M255.8 357.9h0.6M245.9 362.2h0.6M249.3 388.7h0.6M265.2 357.9h0.6M245.6 366.5h0.6M249.4 364.8h0.6M247.8 369.6h0.6M263.2 354.7h0.6M251.9 381.5h0.6M245.8 380.7h0.6M260.9 365.1h0.6M232.4 394.8h0.6M260.4 363.4h0.6M280.5 353.7h0.6M250.4 376.7h0.6M261.0 367.1h0.6M239.0 370.4h0.6M258.3 390.9h0.6M259.2 376.4h0.6M264.0 377.4h0.6M247.2 377.3h0.6M281.4 374.0h0.6M244.5 388.7h0.6M276.1 362.7h0.6M243.0 360.9h0.6M266.8 379.6h0.6M273.9 350.9h0.6M284.5 352.7h0.6M255.3 363.6h0.6M235.7 368.4h0.6M267.5 371.9h0.6M247.7 365.5h0.6M243.0 391.4h0.6M249.3 382.4h0.6M245.1 373.7h0.6M266.5 361.4h0.6M259.2 383.8h0.6M265.5 386.2h0.6M267.8 364.2h0.6M251.8 371.4h0.6M265.8 362.3h0.6M272.3 366.8h0.6M280.6 374.9h0.6M259.0 361.0h0.6M253.5 366.4h0.6M244.9 375.2h0.6M251.8 354.2h0.6M257.0 369.9h0.6M260.1 357.1h0.6M239.7 380.1h0.6M251.7 400.7h0.6M254.3 383.7h0.6M249.3 400.2h0.6M249.0 377.3h0.6M261.3 359.7h0.6M244.4 392.6h0.6M262.9 363.2h0.6M243.1 380.0h0.6M259.6 362.8h0.6M242.7 374.2h0.6M271.9 375.4h0.6M266.3 363.2h0.6M274.0 365.8h0.6M246.1 368.1h0.6M240.0 360.9h0.6M240.0 380.5h0.6M254.0 358.2h0.6M270.5 367.7h0.6M265.9 363.0h0.6M265.5 367.0h0.6M241.1 384.3h0.6M270.7 365.5h0.6M266.2 372.5h0.6M249.9 369.6h0.6M246.7 384.8h0.6M255.2 364.8h0.6M277.0 359.3h0.6M259.6 365.8h0.6M256.0 367.2h0.6M277.2 354.6h0.6M276.8 359.9h0.6M261.7 361.7h0.6M264.8 376.0h0.6M272.9 361.1h0.6M247.6 382.4h0.6M262.1 381.3h0.6M251.4 376.2h0.6M244.5 370.9h0.6M263.3 369.3h0.6M271.1 350.2h0.6M280.9 356.5h0.6M266.9 364.2h0.6M271.5 365.3h0.6M254.6 385.1h0.6M237.6 379.0h0.6M248.8 374.9h0.6M262.1 354.0h0.6M249.3 382.1h0.6M281.6 363.5h0.6M272.6 372.5h0.6M254.4 371.6h0.6M279.3 379.1h0.6M265.3 366.0h0.6M278.1 363.6h0.6M254.7 371.2h0.6M254.0 373.8h0.6M257.2 367.4h0.6M271.8 366.3h0.6M281.6 352.4h0.6M258.7 350.8h0.6M260.9 354.9h0.6M245.7 373.3h0.6M254.3 384.6h0.6M263.4 365.5h0.6M240.9 393.3h0.6M251.5 382.1h0.6M242.7 382.9h0.6M259.6 381.1h0.6M268.6 367.4h0.6M261.4 373.6h0.6M253.5 380.1h0.6M244.1 373.6h0.6M236.3 386.7h0.6M257.3 360.1h0.6M276.7 358.5h0.6M253.6 377.3h0.6M256.2 368.2h0.6M251.3 380.4h0.6M242.5 383.4h0.6M270.8 357.2h0.6M266.2 383.1h0.6M238.1 375.1h0.6M241.1 360.6h0.6M274.4 385.6h0.6M245.7 354.4h0.6M256.5 389.9h0.6M243.8 397.8h0.6M261.2 389.8h0.6M247.0 386.7h0.6M249.3 380.5h0.6M242.7 395.2h0.6M281.6 364.4h0.6M290.6 351.6h0.6M260.0 378.1h0.6M265.7 367.6h0.6M264.5 363.5h0.6M257.2 356.1h0.6M256.0 373.4h0.6M252.5 367.3h0.6M267.3 363.4h0.6M241.3 377.8h0.6M246.3 379.4h0.6M266.2 365.2h0.6M239.0 372.8h0.6M278.0 376.2h0.6M253.6 376.9h0.6M259.5 368.0h0.6M274.3 362.7h0.6M256.5 369.3h0.6M258.8 356.3h0.6M249.5 365.4h0.6M263.8 381.1h0.6M266.1 354.0h0.6M245.7 383.1h0.6M265.6 376.5h0.6M269.7 357.2h0.6M263.2 372.8h0.6M247.4 391.6h0.6M269.2 361.7h0.6M274.8 361.1h0.6M250.8 369.6h0.6M233.5 394.4h0.6M248.0 368.3h0.6M257.4 377.8h0.6M274.0 357.3h0.6M272.6 377.7h0.6M266.0 377.6h0.6M248.8 393.7h0.6M267.0 375.6h0.6M257.0 362.3h0.6M243.9 375.2h0.6M233.9 386.5h0.6M270.1 354.4h0.6M236.0 378.5h0.6M273.3 358.7h0.6M286.4 357.7h0.6M257.6 373.0h0.6M246.2 375.2h0.6M248.8 371.4h0.6M248.3 365.1h0.6M262.1 364.7h0.6M270.1 358.9h0.6M247.3 386.4h0.6M252.8 391.4h0.6M248.7 372.6h0.6M272.0 365.0h0.6M269.8 363.2h0.6M246.1 385.9h0.6M253.1 372.5h0.6M259.3 381.3h0.6M233.9 380.5h0.6M250.1 375.7h0.6M258.9 373.2h0.6M238.9 376.5h0.6M259.9 375.8h0.6M257.7 372.2h0.6M249.9 368.6h0.6M270.5 353.0h0.6M245.0 373.2h0.6M262.6 362.6h0.6M253.8 368.2h0.6M271.3 351.3h0.6M246.9 356.8h0.6M264.9 375.2h0.6M265.1 362.7h0.6M271.9 363.7h0.6M237.4 402.7h0.6M256.1 378.6h0.6M243.1 393.9h0.6M269.8 354.5h0.6M274.8 362.8h0.6M253.2 367.6h0.6M260.2 367.2h0.6M274.1 363.0h0.6M259.8 367.4h0.6M255.4 376.8h0.6M235.8 399.5h0.6M247.9 372.8h0.6M270.1 367.8h0.6M238.1 384.9h0.6M260.8 376.4h0.6M259.9 359.0h0.6M256.9 379.2h0.6M267.4 378.1h0.6M247.4 369.9h0.6M275.1 351.7h0.6M256.3 373.2h0.6M259.1 358.4h0.6M258.5 377.4h0.6M271.7 356.3h0.6M273.3 351.1h0.6M281.1 365.0h0.6M267.6 375.5h0.6M265.9 367.2h0.6M262.6 360.7h0.6M278.5 364.0h0.6M262.6 356.0h0.6M260.5 359.2h0.6M266.0 368.0h0.6M267.9 356.1h0.6M271.8 369.1h0.6M262.3 365.7h0.6M284.2 354.5h0.6M257.8 359.1h0.6M269.4 350.9h0.6M258.8 373.2h0.6M256.8 370.2h0.6M265.5 360.0h0.6M270.6 350.1h0.6M269.7 357.2h0.6M255.8 357.0h0.6M249.7 374.7h0.6M251.1 373.6h0.6M279.3 360.4h0.6M266.4 365.2h0.6M268.7 360.1h0.6M281.4 358.9h0.6M258.9 371.4h0.6M271.9 358.4h0.6M261.9 372.0h0.6M269.8 365.0h0.6M250.8 364.3h0.6M264.4 368.0h0.6M267.4 361.3h0.6M269.1 356.5h0.6M254.9 355.5h0.6M265.8 353.9h0.6M276.2 352.7h0.6M267.2 358.1h0.6M275.9 366.7h0.6M274.1 364.7h0.6M270.3 366.0h0.6M264.7 365.6h0.6M268.8 361.7h0.6M259.5 369.9h0.6M274.2 362.0h0.6M271.0 352.9h0.6M279.0 360.5h0.6M275.9 360.5h0.6M273.3 360.4h0.6M269.8 362.8h0.6M280.8 351.1h0.6M265.5 350.9h0.6M256.4 368.7h0.6M255.5 360.0h0.6M277.2 356.6h0.6M272.4 360.3h0.6M273.0 364.9h0.6M252.6 364.5h0.6M262.9 375.2h0.6M253.7 359.3h0.6M262.8 353.1h0.6M261.8 376.6h0.6M282.6 355.3h0.6M256.4 369.6h0.6M262.3 366.9h0.6M261.1 365.0h0.6M268.7 353.3h0.6M274.8 354.3h0.6M260.7 368.9h0.6M252.7 362.3h0.6M264.1 361.3h0.6M258.0 373.7h0.6M277.0 359.1h0.6M258.7 370.2h0.6M262.1 363.2h0.6M263.9 375.5h0.6M285.7 361.7h0.6M275.2 359.6h0.6M271.3 364.0h0.6M258.7 369.8h0.6M257.8 365.2h0.6M261.6 366.8h0.6M282.8 362.6h0.6M280.1 359.0h0.6M269.4 360.6h0.6M261.5 361.1h0.6M251.8 377.5h0.6M263.8 365.1h0.6M272.8 352.1h0.6M273.2 368.9h0.6M271.6 359.2h0.6M261.6 366.4h0.6M272.7 352.7h0.6M266.6 353.8h0.6M276.1 357.0h0.6M270.4 363.7h0.6M275.1 369.2h0.6M271.1 363.7h0.6M263.7 368.0h0.6M278.9 357.6h0.6M258.5 354.2h0.6M264.0 360.5h0.6M264.7 361.4h0.6M270.6 361.2h0.6M263.3 360.8h0.6M258.7 365.4h0.6M259.5 352.6h0.6M257.7 369.2h0.6M268.3 360.3h0.6M270.9 364.2h0.6M267.3 355.3h0.6M253.8 354.0h0.6M269.3 356.5h0.6M276.7 357.2h0.6M257.6 364.0h0.6M259.8 360.0h0.6M276.5 361.5h0.6M266.5 351.0h0.6M265.0 355.6h0.6M254.9 359.9h0.6M267.7 363.7h0.6M270.8 369.0h0.6M260.3 368.1h0.6M286.7 357.8h0.6M263.0 367.8h0.6M282.6 367.0h0.6M257.7 357.6h0.6M270.2 352.7h0.6M271.5 358.5h0.6M276.1 368.9h0.6M268.0 361.5h0.6M262.1 367.8h0.6M269.0 354.8h0.6M254.5 355.8h0.6M245.2 365.2h0.6M253.9 362.6h0.6M285.0 363.2h0.6M272.6 356.6h0.6M254.6 372.5h0.6M259.0 368.5h0.6M270.9 352.7h0.6M260.4 370.3h0.6M259.4 364.6h0.6M258.1 356.0h0.6M261.1 360.1h0.6M250.6 376.7h0.6M271.9 360.2h0.6M261.5 364.3h0.6M279.6 362.9h0.6M267.4 360.6h0.6M277.6 357.4h0.6M278.1 351.1h0.6M270.0 359.1h0.6M266.4 369.6h0.6M279.7 357.0h0.6M274.1 356.1h0.6M266.4 360.2h0.6M263.5 355.4h0.6M268.1 355.1h0.6M276.6 354.7h0.6M274.3 359.7h0.6M262.7 362.0h0.6M269.6 370.6h0.6M264.3 354.6h0.6M267.3 358.0h0.6M259.2 367.7h0.6M260.7 362.9h0.6M270.7 355.9h0.6M270.2 368.8h0.6M265.3 360.4h0.6M287.8 350.7h0.6M266.5 366.7h0.6M274.4 357.7h0.6M270.6 350.9h0.6M263.8 360.6h0.6M274.3 364.0h0.6M278.1 367.5h0.6M268.2 371.7h0.6M272.6 352.9h0.6M293.9 353.7h0.6M260.1 363.6h0.6M266.3 362.4h0.6M273.3 363.5h0.6M260.7 358.4h0.6M263.7 352.5h0.6M266.0 368.7h0.6M265.7 357.5h0.6M268.6 356.2h0.6M282.5 363.2h0.6M270.2 365.4h0.6M264.7 366.7h0.6M274.4 352.1h0.6M274.0 357.2h0.6M258.5 368.0h0.6M262.6 357.8h0.6M258.3 367.7h0.6M271.2 358.7h0.6M275.9 358.5h0.6M266.2 366.5h0.6M279.3 351.0h0.6M263.0 361.7h0.6M265.3 375.8h0.6M267.6 361.8h0.6M269.8 350.5h0.6M283.1 370.0h0.6M258.1 357.8h0.6M273.2 357.4h0.6M268.9 368.0h0.6M278.8 357.3h0.6M256.1 371.4h0.6M257.7 373.4h0.6M283.6 353.3h0.6M279.5 355.2h0.6M277.9 368.8h0.6M267.1 364.2h0.6M277.8 357.3h0.6M268.3 370.4h0.6M258.4 356.7h0.6M267.0 365.5h0.6M265.8 358.7h0.6M258.8 359.3h0.6M263.0 368.0h0.6M261.9 360.3h0.6M272.9 358.3h0.6M276.9 355.2h0.6M278.2 360.1h0.6M278.1 351.3h0.6M258.6 359.0h0.6M275.5 351.5h0.6M271.9 367.9h0.6M259.7 366.7h0.6M242.0 365.9h0.6M269.6 353.7h0.6M260.7 367.2h0.6M276.2 357.9h0.6M254.9 362.7h0.6M273.1 359.6h0.6M264.3 355.4h0.6M256.2 370.5h0.6M264.1 358.6h0.6M266.8 365.9h0.6M275.6 355.5h0.6M275.3 364.1h0.6M279.3 358.8h0.6M275.0 352.5h0.6M264.0 367.8h0.6M264.2 361.3h0.6M269.6 356.0h0.6M265.0 362.2h0.6M253.3 366.8h0.6M249.6 366.2h0.6M275.0 364.0h0.6M269.2 355.4h0.6M285.9 350.4h0.6M263.5 351.0h0.6M277.5 355.8h0.6M269.5 353.2h0.6M272.5 362.3h0.6M268.7 357.3h0.6M278.1 363.2h0.6M272.8 357.5h0.6M263.9 363.8h0.6M267.2 354.8h0.6M266.0 373.9h0.6M268.8 361.3h0.6M270.2 361.8h0.6M264.3 357.5h0.6M262.9 366.6h0.6M268.0 363.2h0.6M252.1 357.6h0.6M271.8 363.3h0.6M271.5 361.9h0.6M240.1 362.1h0.6M258.2 376.8h0.6M267.9 358.0h0.6M247.8 364.7h0.6M272.0 357.7h0.6M277.0 368.9h0.6M272.3 368.1h0.6M276.6 363.1h0.6M267.1 366.2h0.6M275.8 353.9h0.6M274.4 361.3h0.6M266.9 352.0h0.6M268.9 360.4h0.6M253.1 361.3h0.6M255.9 368.5h0.6M277.2 361.4h0.6M277.4 354.9h0.6M260.7 357.3h0.6M254.3 368.9h0.6M250.2 358.0h0.6M278.5 358.8h0.6M285.3 362.9h0.6M279.5 359.1h0.6M286.4 350.8h0.6M275.5 358.6h0.6M263.0 365.7h0.6M265.0 357.4h0.6M278.1 351.5h0.6M255.2 367.0h0.6M273.2 354.1h0.6M264.3 364.4h0.6M279.6 361.9h0.6M263.0 354.0h0.6M261.4 366.1h0.6M276.7 360.9h0.6M239.0 364.8h0.6M277.6 363.7h0.6M270.7 365.6h0.6M262.6 363.8h0.6M274.0 358.1h0.6M263.6 356.1h0.6M273.6 360.0h0.6M268.8 364.3h0.6M274.8 366.4h0.6M259.4 365.2h0.6M261.9 365.3h0.6M270.8 369.7h0.6M266.4 372.2h0.6M259.8 374.8h0.6M263.3 363.5h0.6M270.1 357.2h0.6M257.0 353.9h0.6M267.6 370.8h0.6M265.6 360.3h0.6M250.3 370.0h0.6M268.1 350.5h0.6M279.0 355.0h0.6M264.0 352.3h0.6M266.0 361.4h0.6M270.3 353.2h0.6M262.5 360.1h0.6M252.2 369.5h0.6M268.2 354.7h0.6M263.9 363.8h0.6M262.1 376.5h0.6M280.5 357.4h0.6M268.9 368.0h0.6M261.2 359.4h0.6M261.7 352.9h0.6M282.3 354.3h0.6M275.3 354.9h0.6M251.9 373.4h0.6M273.4 363.9h0.6M263.5 365.7h0.6M278.1 360.1h0.6M274.4 356.9h0.6M260.3 374.6h0.6M267.8 363.9h0.6M273.7 358.1h0.6M266.9 361.9h0.6M271.7 361.3h0.6M261.7 359.9h0.6M279.6 354.0h0.6M281.1 364.2h0.6M262.0 370.9h0.6M255.1 361.2h0.6M263.7 356.9h0.6M275.8 366.8h0.6M269.8 355.9h0.6M267.5 369.6h0.6M269.6 361.2h0.6M254.6 356.8h0.6M267.6 371.1h0.6M267.0 361.0h0.6M262.2 363.9h0.6M275.1 365.6h0.6M262.0 357.8h0.6M262.2 368.4h0.6M274.3 363.0h0.6M273.7 365.9h0.6M268.6 357.8h0.6M270.1 356.6h0.6M271.5 351.1h0.6M271.0 361.3h0.6M259.1 368.7h0.6M286.2 359.0h0.6M271.5 355.4h0.6M265.6 351.3h0.6M278.6 352.5h0.6M273.7 370.5h0.6M261.2 369.5h0.6M267.1 366.0h0.6M262.8 357.1h0.6M277.3 362.8h0.6M256.1 359.6h0.6M279.3 355.9h0.6M261.9 361.7h0.6M270.7 360.1h0.6M264.1 366.8h0.6M271.5 351.1h0.6M278.5 356.8h0.6M257.0 370.0h0.6M265.7 372.3h0.6M269.2 351.6h0.6M285.0 363.0h0.6M263.4 361.6h0.6M264.4 364.4h0.6M261.0 364.1h0.6M267.5 363.2h0.6M274.0 366.0h0.6M259.0 371.3h0.6M280.7 355.7h0.6M279.4 361.9h0.6M273.6 358.7h0.6M258.4 367.0h0.6M263.0 357.5h0.6M287.5 358.7h0.6M256.9 370.4h0.6M270.8 361.7h0.6M266.4 362.8h0.6M259.4 372.1h0.6M266.1 365.8h0.6M270.4 355.7h0.6M272.5 360.7h0.6M273.4 358.5h0.6M268.6 355.9h0.6M268.3 361.8h0.6M273.5 363.9h0.6M262.2 371.5h0.6M248.2 393.1h0.6M254.3 391.9h0.6M251.0 392.9h0.6M260.5 392.9h0.6M244.8 395.9h0.6M251.7 396.8h0.6M240.6 393.2h0.6M254.6 394.6h0.6M244.2 396.6h0.6M255.2 397.4h0.6M242.7 395.4h0.6M233.5 397.1h0.6M239.8 396.1h0.6M245.9 394.0h0.6M242.0 395.9h0.6M246.0 393.8h0.6M254.3 396.3h0.6M248.6 394.9h0.6M253.4 397.3h0.6M247.3 393.2h0.6M242.0 399.1h0.6M239.0 395.0h0.6M254.6 400.1h0.6M259.7 398.4h0.6M238.9 398.2h0.6M239.3 395.7h0.6M240.2 396.0h0.6M252.1 396.1h0.6M249.7 394.5h0.6M246.4 391.5h0.6M248.2 397.3h0.6M232.2 394.9h0.6M247.4 395.5h0.6M246.8 393.6h0.6M253.5 399.3h0.6M241.6 398.4h0.6M243.4 397.4h0.6M250.8 397.5h0.6M242.7 396.4h0.6M268.9 399.1h0.6M239.6 396.9h0.6M249.3 398.4h0.6M239.5 396.9h0.6M262.3 395.9h0.6M250.1 396.9h0.6M250.7 393.4h0.6M258.9 391.6h0.6M261.7 394.7h0.6M242.3 398.3h0.6M251.3 393.0h0.6M243.9 391.9h0.6M260.3 395.9h0.6M270.5 393.6h0.6M246.6 395.2h0.6M251.6 394.6h0.6M240.5 396.6h0.6M249.2 396.4h0.6M250.1 396.0h0.6M259.4 396.8h0.6M252.8 395.0h0.6M260.3 395.9h0.6M236.0 394.1h0.6M256.3 395.4h0.6M256.9 393.7h0.6M243.5 392.7h0.6M250.4 396.6h0.6M244.2 397.6h0.6M264.4 392.4h0.6M246.6 394.9h0.6M255.9 396.6h0.6M252.3 395.7h0.6M250.8 397.6h0.6M236.6 393.2h0.6M241.7 395.0h0.6M249.9 396.2h0.6M248.1 398.2h0.6M247.8 391.8h0.6M256.5 395.4h0.6M249.4 399.5h0.6M256.0 396.6h0.6M249.8 395.6h0.6M252.6 395.3h0.6M243.7 397.5h0.6M234.0 393.5h0.6M257.3 394.5h0.6M257.5 395.5h0.6M255.3 396.7h0.6M240.9 398.7h0.6M259.8 396.4h0.6M249.9 395.9h0.6M250.6 397.7h0.6M242.2 395.1h0.6M244.0 394.2h0.6M242.6 396.4h0.6M252.5 396.3h0.6M242.1 395.6h0.6M248.6 392.6h0.6M243.5 393.1h0.6M236.2 398.5h0.6M249.4 396.4h0.6M250.2 391.1h0.6M249.6 396.2h0.6M259.1 394.7h0.6M248.8 393.3h0.6M239.4 396.2h0.6M267.8 395.4h0.6M249.1 394.6h0.6M256.2 395.6h0.6M250.2 395.7h0.6M260.7 395.8h0.6M237.6 393.2h0.6M259.6 396.6h0.6M247.6 396.1h0.6M240.4 394.3h0.6M244.2 393.9h0.6M238.9 395.5h0.6M249.2 395.6h0.6M238.0 396.4h0.6M255.9 398.3h0.6M243.6 396.3h0.6M244.4 393.7h0.6M268.5 395.7h0.6M256.6 395.2h0.6M242.5 393.4h0.6M252.5 397.2h0.6M232.9 394.9h0.6M241.4 396.5h0.6M247.1 393.6h0.6M241.5 398.1h0.6M238.9 396.2h0.6M255.2 396.4h0.6M242.9 396.1h0.6M240.8 396.5h0.6M242.9 392.3h0.6M242.3 395.9h0.6M256.6 395.8h0.6M251.7 398.1h0.6M234.0 397.9h0.6M262.0 396.9h0.6M259.5 397.7h0.6M246.0 394.7h0.6M239.0 396.6h0.6M249.0 396.3h0.6M243.1 395.8h0.6M253.9 397.1h0.6M248.4 397.8h0.6M261.3 396.7h0.6M232.8 395.2h0.6M242.7 395.7h0.6M251.6 397.0h0.6M243.9 392.8h0.6M244.6 394.9h0.6M237.4 394.4h0.6M267.6 392.9h0.6M247.0 397.2h0.6M255.6 393.9h0.6M241.1 395.1h0.6M244.2 395.0h0.6M248.0 398.2h0.6M264.9 397.0h0.6M255.8 394.0h0.6M255.3 390.1h0.6M270.7 390.5h0.6M252.1 397.1h0.6M258.1 384.2h0.6M252.7 396.0h0.6M243.1 384.4h0.6M252.4 387.5h0.6M256.7 395.9h0.6M272.6 391.7h0.6M267.8 384.7h0.6M250.5 391.3h0.6M247.1 376.9h0.6M255.5 395.4h0.6M250.3 382.7h0.6M264.0 391.2h0.6M255.3 383.9h0.6M250.6 400.8h0.6M245.5 388.1h0.6M254.9 396.1h0.6M252.1 394.0h0.6M251.4 392.9h0.6M270.6 392.6h0.6M238.8 393.2h0.6M264.6 394.8h0.6M252.6 405.0h0.6M263.4 381.9h0.6M248.7 377.4h0.6M259.8 387.1h0.6M264.0 391.4h0.6M280.6 395.5h0.6M248.1 388.1h0.6M254.6 388.1h0.6M254.9 395.0h0.6M250.2 390.8h0.6M255.0 385.4h0.6M256.2 388.1h0.6M252.6 390.1h0.6M239.3 389.0h0.6M258.4 394.0h0.6M241.9 390.1h0.6M255.1 389.4h0.6M265.6 394.1h0.6M243.6 390.5h0.6M254.6 384.5h0.6M257.8 383.7h0.6M255.5 402.6h0.6M251.4 398.2h0.6M256.1 383.9h0.6M262.5 387.3h0.6M246.1 387.2h0.6M254.3 398.0h0.6M262.8 389.4h0.6M250.2 386.4h0.6M244.3 387.3h0.6M263.3 394.0h0.6M262.6 393.2h0.6M265.2 388.0h0.6M255.8 388.7h0.6M249.7 382.2h0.6M267.9 393.3h0.6M263.7 382.6h0.6M251.2 396.5h0.6M257.1 389.2h0.6M247.5 381.4h0.6M245.9 395.7h0.6M256.8 387.9h0.6M259.0 378.6h0.6M261.4 397.3h0.6M257.0 401.4h0.6M275.7 383.6h0.6M246.5 392.7h0.6M268.6 390.1h0.6M252.1 389.4h0.6M265.0 382.6h0.6M247.1 391.5h0.6M277.2 384.0h0.6M269.9 385.3h0.6M240.6 389.9h0.6M268.6 383.6h0.6M257.8 388.0h0.6M264.8 390.4h0.6M256.1 372.1h0.6M254.8 401.6h0.6M242.8 396.6h0.6M251.6 395.8h0.6M255.9 392.3h0.6M240.0 388.8h0.6M246.7 391.2h0.6M256.2 376.5h0.6M260.5 392.9h0.6M251.8 396.2h0.6M269.7 389.8h0.6M251.2 392.4h0.6M262.2 392.7h0.6M268.9 384.4h0.6M248.7 388.0h0.6M267.4 383.2h0.6M254.9 396.1h0.6M248.1 386.3h0.6M271.8 389.8h0.6M272.1 393.5h0.6M253.3 399.1h0.6M266.7 390.4h0.6M265.9 396.7h0.6M256.1 385.7h0.6M255.3 387.1h0.6M250.0 373.5h0.6M256.7 382.4h0.6M255.4 401.8h0.6M252.2 386.4h0.6M253.7 388.7h0.6M243.5 388.7h0.6M262.3 392.8h0.6M243.3 384.5h0.6M263.2 397.8h0.6M252.7 386.3h0.6M252.7 388.8h0.6M250.1 384.5h0.6M256.5 392.2h0.6M259.7 385.3h0.6M252.4 389.0h0.6M252.7 384.4h0.6M253.1 396.4h0.6M277.3 384.7h0.6M263.0 388.8h0.6M268.2 386.5h0.6M262.6 383.9h0.6M261.8 395.9h0.6M263.2 386.1h0.6M264.0 390.3h0.6M245.3 389.9h0.6M233.6 392.9h0.6M253.9 389.7h0.6M242.2 388.5h0.6M258.1 393.7h0.6M245.0 383.5h0.6M256.9 389.4h0.6M267.3 396.5h0.6M251.6 387.2h0.6M249.4 386.9h0.6M264.2 398.4h0.6" stroke="#000" stroke-width="0.6" fill="none" opacity="0.8"/>
<ellipse cx="254.5" cy="374" rx="9" ry="6" fill="#000" opacity="0.25" filter="url(#b1)" transform="rotate(-20 254.5 374)"/>
<polyline points="262.5,411.2 295,351.5 320.75,351.5" fill="none" stroke="#333" stroke-width="0.9"/>
<text x="282" y="380.8" font-size="6.2" font-weight="normal" text-anchor="start" fill="#444" >Gate 2</text>
<text x="289.5" y="392.5" font-size="8.6" font-weight="normal" text-anchor="start" fill="#222" >0.13%</text>
<rect x="345.75" y="349.50" width="86.55" height="63.80" fill="none" stroke="#555" stroke-width="0.9" />
<line x1="345.75" y1="349.5" x2="345.75" y2="413.3" stroke="#333" stroke-width="1.5" />
<line x1="345.75" y1="413.3" x2="432.3" y2="413.3" stroke="#333" stroke-width="1.5" />
<line x1="343.55" y1="413.30" x2="345.75" y2="413.30" stroke="#333" stroke-width="1.0499999999999998" />
<text x="343.25" y="415.01" font-size="4.75" font-weight="normal" text-anchor="end" fill="#222" >0</text>
<line x1="344.55" y1="409.31" x2="345.75" y2="409.31" stroke="#555" stroke-width="0.5" />
<line x1="344.55" y1="405.32" x2="345.75" y2="405.32" stroke="#555" stroke-width="0.5" />
<line x1="344.55" y1="401.34" x2="345.75" y2="401.34" stroke="#555" stroke-width="0.5" />
<line x1="343.55" y1="397.35" x2="345.75" y2="397.35" stroke="#333" stroke-width="1.0499999999999998" />
<text x="343.25" y="399.06" font-size="4.75" font-weight="normal" text-anchor="end" fill="#222" >256</text>
<line x1="344.55" y1="393.36" x2="345.75" y2="393.36" stroke="#555" stroke-width="0.5" />
<line x1="344.55" y1="389.38" x2="345.75" y2="389.38" stroke="#555" stroke-width="0.5" />
<line x1="344.55" y1="385.39" x2="345.75" y2="385.39" stroke="#555" stroke-width="0.5" />
<line x1="343.55" y1="381.40" x2="345.75" y2="381.40" stroke="#333" stroke-width="1.0499999999999998" />
<text x="343.25" y="383.11" font-size="4.75" font-weight="normal" text-anchor="end" fill="#222" >512</text>
<line x1="344.55" y1="377.41" x2="345.75" y2="377.41" stroke="#555" stroke-width="0.5" />
<line x1="344.55" y1="373.42" x2="345.75" y2="373.42" stroke="#555" stroke-width="0.5" />
<line x1="344.55" y1="369.44" x2="345.75" y2="369.44" stroke="#555" stroke-width="0.5" />
<line x1="343.55" y1="365.45" x2="345.75" y2="365.45" stroke="#333" stroke-width="1.0499999999999998" />
<text x="343.25" y="367.16" font-size="4.75" font-weight="normal" text-anchor="end" fill="#222" >768</text>
<line x1="344.55" y1="361.46" x2="345.75" y2="361.46" stroke="#555" stroke-width="0.5" />
<line x1="344.55" y1="357.47" x2="345.75" y2="357.47" stroke="#555" stroke-width="0.5" />
<line x1="344.55" y1="353.49" x2="345.75" y2="353.49" stroke="#555" stroke-width="0.5" />
<line x1="343.55" y1="349.50" x2="345.75" y2="349.50" stroke="#333" stroke-width="1.0499999999999998" />
<text x="343.25" y="351.21" font-size="4.75" font-weight="normal" text-anchor="end" fill="#222" >1024</text>
<line x1="345.75" y1="413.3" x2="345.75" y2="415.5" stroke="#333" stroke-width="1.0499999999999998" />
<text transform="translate(344.95,423.60) scale(1.0,1.0)" font-size="4.6" text-anchor="middle" fill="#333">10<tspan font-size="3.22" dx="0.0" dy="-2.07">0</tspan></text>
<line x1="352.26" y1="413.3" x2="352.26" y2="414.5" stroke="#666" stroke-width="0.45" />
<line x1="356.07" y1="413.3" x2="356.07" y2="414.5" stroke="#666" stroke-width="0.45" />
<line x1="358.78" y1="413.3" x2="358.78" y2="414.5" stroke="#666" stroke-width="0.45" />
<line x1="360.87" y1="413.3" x2="360.87" y2="414.5" stroke="#666" stroke-width="0.45" />
<line x1="362.59" y1="413.3" x2="362.59" y2="414.5" stroke="#666" stroke-width="0.45" />
<line x1="364.04" y1="413.3" x2="364.04" y2="414.5" stroke="#666" stroke-width="0.45" />
<line x1="365.29" y1="413.3" x2="365.29" y2="414.5" stroke="#666" stroke-width="0.45" />
<line x1="366.40" y1="413.3" x2="366.40" y2="414.5" stroke="#666" stroke-width="0.45" />
<line x1="367.39" y1="413.3" x2="367.39" y2="415.5" stroke="#333" stroke-width="1.0499999999999998" />
<text transform="translate(366.59,423.60) scale(1.0,1.0)" font-size="4.6" text-anchor="middle" fill="#333">10<tspan font-size="3.22" dx="0.0" dy="-2.07">1</tspan></text>
<line x1="373.90" y1="413.3" x2="373.90" y2="414.5" stroke="#666" stroke-width="0.45" />
<line x1="377.71" y1="413.3" x2="377.71" y2="414.5" stroke="#666" stroke-width="0.45" />
<line x1="380.41" y1="413.3" x2="380.41" y2="414.5" stroke="#666" stroke-width="0.45" />
<line x1="382.51" y1="413.3" x2="382.51" y2="414.5" stroke="#666" stroke-width="0.45" />
<line x1="384.22" y1="413.3" x2="384.22" y2="414.5" stroke="#666" stroke-width="0.45" />
<line x1="385.67" y1="413.3" x2="385.67" y2="414.5" stroke="#666" stroke-width="0.45" />
<line x1="386.93" y1="413.3" x2="386.93" y2="414.5" stroke="#666" stroke-width="0.45" />
<line x1="388.03" y1="413.3" x2="388.03" y2="414.5" stroke="#666" stroke-width="0.45" />
<line x1="389.02" y1="413.3" x2="389.02" y2="415.5" stroke="#333" stroke-width="1.0499999999999998" />
<text transform="translate(388.22,423.60) scale(1.0,1.0)" font-size="4.6" text-anchor="middle" fill="#333">10<tspan font-size="3.22" dx="0.0" dy="-2.07">2</tspan></text>
<line x1="395.54" y1="413.3" x2="395.54" y2="414.5" stroke="#666" stroke-width="0.45" />
<line x1="399.35" y1="413.3" x2="399.35" y2="414.5" stroke="#666" stroke-width="0.45" />
<line x1="402.05" y1="413.3" x2="402.05" y2="414.5" stroke="#666" stroke-width="0.45" />
<line x1="404.15" y1="413.3" x2="404.15" y2="414.5" stroke="#666" stroke-width="0.45" />
<line x1="405.86" y1="413.3" x2="405.86" y2="414.5" stroke="#666" stroke-width="0.45" />
<line x1="407.31" y1="413.3" x2="407.31" y2="414.5" stroke="#666" stroke-width="0.45" />
<line x1="408.57" y1="413.3" x2="408.57" y2="414.5" stroke="#666" stroke-width="0.45" />
<line x1="409.67" y1="413.3" x2="409.67" y2="414.5" stroke="#666" stroke-width="0.45" />
<line x1="410.66" y1="413.3" x2="410.66" y2="415.5" stroke="#333" stroke-width="1.0499999999999998" />
<text transform="translate(409.86,423.60) scale(1.0,1.0)" font-size="4.6" text-anchor="middle" fill="#333">10<tspan font-size="3.22" dx="0.0" dy="-2.07">3</tspan></text>
<line x1="417.18" y1="413.3" x2="417.18" y2="414.5" stroke="#666" stroke-width="0.45" />
<line x1="420.99" y1="413.3" x2="420.99" y2="414.5" stroke="#666" stroke-width="0.45" />
<line x1="423.69" y1="413.3" x2="423.69" y2="414.5" stroke="#666" stroke-width="0.45" />
<line x1="425.79" y1="413.3" x2="425.79" y2="414.5" stroke="#666" stroke-width="0.45" />
<line x1="427.50" y1="413.3" x2="427.50" y2="414.5" stroke="#666" stroke-width="0.45" />
<line x1="428.95" y1="413.3" x2="428.95" y2="414.5" stroke="#666" stroke-width="0.45" />
<line x1="430.20" y1="413.3" x2="430.20" y2="414.5" stroke="#666" stroke-width="0.45" />
<line x1="431.31" y1="413.3" x2="431.31" y2="414.5" stroke="#666" stroke-width="0.45" />
<line x1="432.30" y1="413.3" x2="432.30" y2="415.5" stroke="#333" stroke-width="1.0499999999999998" />
<text transform="translate(431.50,423.60) scale(1.0,1.0)" font-size="4.6" text-anchor="middle" fill="#333">10<tspan font-size="3.22" dx="0.0" dy="-2.07">4</tspan></text>
<text transform="translate(326.6,380.90) rotate(90)" font-size="6.1" font-weight="normal" text-anchor="middle" fill="#333">FSC-H</text>
<text x="389.52" y="429.40" font-size="6.3999999999999995" font-weight="normal" text-anchor="middle" fill="#333" stroke="none">FL1-H</text>
<path d="M378.6 373.8h0.6M354.5 375.3h0.6M371.7 372.6h0.6M379.2 371.7h0.6M378.4 373.4h0.6M377.5 377.9h0.6M375.2 369.1h0.6M390.1 371.4h0.6M370.1 361.1h0.6M383.6 377.1h0.6M385.1 374.4h0.6M385.5 372.4h0.6M396.0 383.2h0.6M369.5 378.5h0.6M371.6 385.3h0.6M380.4 376.4h0.6M381.7 371.4h0.6M382.1 371.5h0.6M371.4 366.6h0.6M373.9 371.5h0.6M390.7 365.4h0.6M383.0 368.9h0.6M383.0 385.9h0.6M384.5 371.2h0.6M392.7 381.0h0.6M376.0 368.7h0.6M380.0 364.5h0.6M363.7 365.2h0.6M374.3 370.7h0.6M380.0 372.3h0.6M382.7 380.7h0.6M371.0 368.4h0.6M365.6 372.0h0.6M370.0 374.8h0.6M359.2 382.0h0.6M368.0 381.7h0.6M375.9 375.7h0.6M381.2 367.2h0.6M389.7 371.9h0.6M378.5 377.9h0.6M370.5 368.2h0.6M378.8 365.9h0.6M373.9 371.4h0.6M386.0 373.4h0.6M386.2 370.3h0.6M362.8 374.5h0.6M374.7 369.3h0.6M394.8 378.1h0.6M387.4 364.3h0.6M375.2 372.5h0.6M350.5 360.3h0.6M382.9 385.2h0.6M380.3 377.7h0.6M375.6 382.0h0.6M383.9 371.9h0.6M379.3 370.0h0.6M381.9 375.9h0.6M374.8 371.7h0.6M375.4 371.5h0.6M380.2 377.3h0.6M374.0 373.1h0.6M366.6 380.6h0.6M366.1 376.2h0.6M379.1 376.1h0.6M369.6 377.6h0.6M369.2 380.0h0.6M370.8 371.1h0.6M382.5 372.5h0.6M358.5 363.0h0.6M355.3 387.4h0.6M378.2 373.3h0.6M374.7 372.4h0.6M389.2 368.5h0.6M373.8 371.4h0.6M363.8 359.3h0.6M378.8 377.3h0.6M379.1 382.7h0.6M379.3 369.1h0.6M379.4 377.8h0.6M394.9 370.5h0.6M373.3 374.8h0.6M379.7 359.7h0.6M375.9 378.9h0.6M361.5 364.0h0.6M365.9 370.8h0.6M368.4 372.2h0.6M373.5 372.2h0.6M365.8 379.9h0.6M388.2 371.6h0.6M375.3 372.0h0.6M367.8 375.6h0.6M369.8 380.9h0.6M376.5 376.1h0.6M370.7 374.6h0.6M366.8 374.5h0.6M365.4 382.4h0.6M375.8 371.9h0.6M390.8 364.7h0.6M352.3 375.5h0.6M372.6 364.1h0.6M376.2 371.0h0.6M368.8 376.1h0.6M394.8 377.6h0.6M377.3 380.2h0.6M361.2 378.3h0.6M378.0 373.8h0.6M365.6 380.2h0.6M382.5 374.0h0.6M375.9 362.0h0.6M385.9 384.1h0.6M367.6 371.8h0.6M379.0 371.6h0.6M389.7 369.5h0.6M373.6 370.9h0.6M367.0 373.5h0.6M372.7 375.1h0.6M377.6 374.0h0.6M372.5 378.6h0.6M379.5 376.8h0.6M385.4 371.5h0.6M368.6 372.8h0.6M362.4 372.7h0.6M368.0 377.8h0.6M361.9 381.2h0.6M369.0 360.2h0.6M373.4 369.8h0.6M361.0 368.3h0.6M375.8 371.2h0.6M374.9 368.2h0.6M361.7 367.5h0.6M371.6 364.5h0.6M361.2 374.1h0.6M380.1 369.0h0.6M372.5 367.6h0.6M378.9 381.9h0.6M386.7 371.8h0.6M380.5 370.0h0.6M374.7 378.3h0.6M377.3 376.2h0.6M370.8 366.0h0.6M374.4 370.0h0.6M389.5 372.0h0.6M369.8 376.3h0.6M373.7 371.7h0.6M376.6 351.9h0.6M377.7 371.6h0.6M380.9 378.3h0.6M364.9 383.5h0.6M370.3 366.3h0.6M373.8 369.6h0.6M377.0 378.2h0.6M379.9 363.7h0.6M378.0 364.5h0.6M375.1 377.3h0.6M366.8 377.7h0.6M364.9 370.8h0.6M364.6 373.5h0.6M381.5 369.1h0.6M387.7 365.0h0.6M367.4 376.8h0.6M362.8 371.7h0.6M371.4 380.9h0.6M376.3 368.6h0.6M369.9 366.4h0.6M372.5 389.9h0.6M380.0 379.7h0.6M377.5 370.3h0.6M370.6 382.9h0.6M363.6 373.3h0.6M373.2 369.2h0.6M383.4 371.3h0.6M360.3 369.4h0.6M387.3 372.3h0.6M375.9 365.9h0.6M387.1 373.6h0.6M368.9 376.1h0.6M367.8 379.0h0.6M363.2 384.5h0.6M376.4 373.4h0.6M375.5 372.5h0.6M372.7 374.1h0.6M375.2 378.8h0.6M378.2 375.1h0.6M367.8 367.2h0.6M382.2 371.0h0.6M361.2 366.2h0.6M370.5 370.4h0.6M377.3 375.2h0.6M372.3 359.2h0.6M375.8 378.3h0.6M361.3 383.9h0.6M371.8 376.8h0.6M374.0 371.3h0.6M362.5 368.8h0.6M379.2 370.8h0.6M364.0 376.9h0.6M367.4 364.5h0.6M363.4 371.2h0.6M375.9 371.3h0.6M367.8 376.1h0.6M379.3 361.8h0.6M381.3 364.3h0.6M371.3 378.1h0.6M378.8 364.8h0.6M389.0 369.8h0.6M360.4 375.2h0.6M359.9 366.4h0.6M389.1 375.4h0.6M366.9 372.4h0.6M398.4 363.0h0.6M381.6 370.7h0.6M355.1 382.4h0.6M381.7 376.0h0.6M373.3 371.1h0.6M375.3 376.8h0.6M381.5 371.8h0.6M369.4 368.5h0.6M371.8 376.2h0.6M375.7 380.1h0.6M360.1 371.4h0.6M372.1 362.4h0.6M376.7 373.1h0.6M374.8 369.7h0.6M375.7 368.9h0.6M374.6 370.3h0.6M358.2 381.2h0.6M367.2 370.0h0.6M358.3 370.1h0.6M377.3 377.0h0.6M382.7 369.1h0.6M376.0 377.2h0.6M357.7 380.2h0.6M371.5 377.9h0.6M381.4 365.1h0.6M378.7 366.5h0.6M381.1 370.9h0.6M381.7 361.6h0.6M365.8 377.6h0.6M376.8 366.7h0.6M377.4 375.0h0.6M366.3 385.8h0.6M370.0 367.6h0.6M373.8 370.7h0.6M391.2 380.0h0.6M383.7 374.1h0.6M375.1 369.4h0.6M375.5 374.6h0.6M361.6 368.6h0.6M375.3 381.9h0.6M383.4 358.3h0.6M371.6 373.5h0.6M379.5 376.7h0.6M386.6 374.9h0.6M372.5 376.8h0.6M362.2 383.4h0.6M374.2 379.5h0.6M373.8 371.5h0.6M397.8 365.9h0.6M374.3 380.0h0.6M374.1 370.2h0.6M383.6 374.5h0.6M368.8 359.2h0.6M372.2 368.8h0.6M373.8 367.9h0.6M373.5 370.5h0.6M378.2 369.3h0.6M376.4 373.7h0.6M355.4 378.8h0.6M384.4 361.6h0.6M371.2 364.0h0.6M380.9 365.3h0.6M375.8 378.9h0.6M380.2 372.1h0.6M386.2 367.3h0.6M373.5 372.0h0.6M371.4 383.7h0.6M378.4 372.4h0.6M374.3 380.8h0.6M390.1 378.3h0.6M373.3 369.3h0.6M370.3 392.4h0.6M391.9 364.2h0.6M369.5 379.4h0.6M381.8 375.1h0.6M370.2 374.0h0.6M380.8 374.7h0.6M388.6 373.2h0.6M387.0 376.5h0.6M372.0 372.0h0.6M380.1 378.9h0.6M385.5 372.4h0.6M376.5 372.5h0.6M391.1 373.0h0.6M388.7 364.2h0.6M390.0 372.5h0.6M375.8 376.0h0.6M379.0 359.0h0.6M365.4 364.3h0.6M368.2 369.5h0.6M380.5 373.9h0.6M369.6 363.5h0.6M376.0 370.4h0.6M366.6 374.0h0.6M369.7 373.7h0.6M365.4 367.4h0.6M378.2 370.4h0.6M369.5 376.6h0.6M376.8 385.7h0.6M380.7 367.4h0.6M372.7 372.2h0.6M375.9 367.3h0.6M395.1 369.6h0.6M380.4 366.0h0.6M389.2 368.3h0.6M388.4 371.7h0.6M383.1 373.0h0.6M380.2 383.9h0.6M362.1 383.0h0.6M379.9 359.4h0.6M367.4 378.5h0.6M364.4 377.5h0.6M375.2 359.9h0.6M385.4 370.1h0.6M380.8 384.5h0.6M381.9 387.8h0.6M382.4 382.7h0.6M382.4 374.7h0.6M366.9 368.1h0.6M366.5 370.6h0.6M376.5 375.8h0.6M384.6 366.8h0.6M375.5 381.4h0.6M369.4 375.3h0.6M371.2 366.0h0.6M371.7 355.8h0.6M370.2 377.2h0.6M366.6 379.7h0.6M389.4 370.2h0.6M377.3 370.9h0.6M361.8 368.8h0.6M377.3 368.9h0.6M380.2 362.0h0.6M382.9 360.0h0.6M367.1 368.8h0.6M360.0 379.7h0.6M395.2 372.6h0.6M364.8 372.1h0.6M363.8 374.6h0.6M377.3 364.7h0.6M385.2 367.4h0.6M384.2 370.0h0.6M368.8 372.6h0.6M375.9 366.4h0.6M369.5 377.4h0.6M375.7 379.8h0.6M370.0 375.5h0.6M397.0 377.1h0.6M385.8 374.8h0.6M374.1 387.7h0.6M374.5 372.9h0.6M387.5 375.8h0.6M369.8 368.2h0.6M373.5 366.5h0.6M371.8 369.0h0.6M375.9 382.2h0.6M390.2 370.1h0.6M370.2 371.0h0.6M365.1 380.0h0.6M366.1 370.1h0.6M370.4 378.0h0.6M363.9 382.7h0.6M365.1 370.6h0.6M368.5 376.1h0.6M379.9 359.0h0.6M377.8 370.9h0.6M372.6 375.9h0.6M378.8 371.3h0.6M376.0 372.3h0.6M374.7 373.4h0.6M368.1 378.6h0.6M382.5 376.8h0.6M375.4 362.8h0.6M373.9 377.5h0.6M372.5 362.5h0.6M376.9 377.3h0.6M374.9 367.4h0.6M365.2 373.2h0.6M370.5 364.2h0.6M365.5 372.4h0.6M350.7 373.9h0.6M364.5 376.4h0.6M397.5 369.3h0.6M360.5 369.7h0.6M374.7 366.9h0.6M382.0 373.1h0.6M374.1 372.7h0.6M374.7 373.4h0.6M366.9 385.8h0.6M369.4 371.5h0.6M369.5 380.4h0.6M365.6 373.0h0.6M374.3 376.1h0.6M381.0 375.2h0.6M383.3 372.3h0.6M390.3 379.1h0.6M380.7 372.0h0.6M403.6 360.7h0.6M377.3 362.4h0.6M366.3 361.9h0.6M363.5 366.0h0.6M378.0 369.4h0.6M383.1 359.7h0.6M383.9 371.8h0.6M376.2 366.6h0.6M387.3 367.8h0.6M376.5 371.0h0.6M372.6 377.7h0.6M374.6 370.4h0.6M376.8 360.5h0.6M381.3 369.6h0.6M365.5 374.9h0.6M367.0 371.5h0.6M386.0 373.6h0.6M372.9 372.8h0.6M386.1 376.4h0.6M381.6 367.1h0.6M378.7 374.1h0.6M386.4 372.4h0.6M374.8 372.6h0.6M381.7 381.6h0.6M383.1 362.7h0.6M385.1 360.9h0.6M368.0 376.8h0.6M375.9 356.3h0.6M389.1 370.7h0.6M382.3 374.4h0.6M387.8 369.5h0.6M389.4 368.5h0.6M371.2 375.9h0.6M376.0 369.6h0.6M388.6 379.2h0.6M380.8 367.2h0.6M368.7 376.7h0.6M380.1 381.1h0.6M379.7 372.2h0.6M371.7 380.4h0.6M372.9 366.7h0.6M384.1 362.2h0.6M382.3 378.9h0.6M366.8 376.1h0.6M368.4 380.2h0.6M373.5 379.9h0.6M376.3 377.9h0.6M375.5 373.0h0.6M369.0 381.8h0.6M378.9 367.3h0.6M358.8 359.8h0.6M368.8 379.1h0.6M376.3 372.2h0.6M376.0 375.8h0.6M375.1 388.3h0.6M379.1 384.4h0.6M377.6 361.3h0.6M373.3 373.0h0.6M389.7 361.5h0.6M375.2 372.0h0.6M398.4 365.3h0.6M361.7 366.5h0.6M383.7 374.9h0.6M365.2 364.4h0.6M361.4 365.1h0.6M367.6 374.5h0.6M351.1 373.7h0.6M371.5 379.8h0.6M375.2 362.4h0.6M367.2 378.7h0.6M371.9 372.2h0.6M379.8 375.4h0.6M370.5 375.3h0.6M384.0 365.8h0.6M369.6 371.6h0.6M391.9 363.9h0.6M375.7 372.2h0.6M364.5 366.0h0.6M382.1 378.4h0.6M378.0 376.6h0.6M363.1 394.5h0.6M392.7 363.5h0.6M372.2 366.2h0.6M380.9 380.3h0.6M399.2 376.6h0.6M370.1 373.3h0.6M369.8 379.2h0.6M380.0 363.9h0.6M355.5 362.9h0.6M385.4 370.0h0.6M368.5 370.9h0.6M388.4 372.8h0.6M386.6 379.8h0.6M366.4 382.6h0.6M364.7 377.8h0.6M386.9 372.3h0.6M365.5 365.8h0.6M376.3 376.7h0.6M380.1 369.5h0.6M383.6 359.7h0.6M376.5 360.6h0.6M369.2 366.5h0.6M383.3 365.9h0.6M380.2 386.9h0.6M385.6 374.5h0.6M367.2 371.3h0.6M389.6 371.3h0.6M380.7 367.1h0.6M373.4 366.1h0.6M381.5 368.5h0.6M375.4 378.8h0.6M360.2 376.4h0.6M370.5 378.5h0.6M379.1 365.3h0.6M378.5 369.7h0.6M378.1 364.2h0.6M369.5 371.8h0.6M367.1 379.5h0.6M372.3 373.4h0.6M377.6 378.4h0.6M375.1 381.4h0.6M379.0 382.3h0.6M370.1 367.0h0.6M370.9 374.7h0.6M370.7 379.5h0.6M373.5 376.5h0.6M370.8 373.0h0.6M375.4 373.6h0.6M372.0 374.7h0.6M387.5 375.2h0.6M369.8 368.1h0.6M367.8 375.5h0.6M379.6 361.0h0.6M390.2 376.9h0.6M374.6 389.9h0.6M365.5 378.8h0.6M382.5 368.6h0.6M366.9 371.2h0.6M375.4 368.3h0.6M373.6 367.8h0.6M365.7 362.3h0.6M382.9 375.2h0.6M378.8 365.2h0.6M374.6 371.2h0.6M378.3 373.4h0.6M365.7 363.2h0.6M373.3 363.3h0.6M378.7 381.8h0.6M381.9 365.9h0.6M360.0 368.1h0.6M379.8 379.7h0.6M366.7 377.5h0.6M357.6 375.0h0.6M382.8 373.0h0.6M385.3 365.3h0.6M366.9 365.5h0.6M382.8 380.0h0.6M376.4 389.0h0.6M382.7 377.0h0.6M392.2 368.8h0.6M386.6 369.4h0.6M377.4 363.6h0.6M366.0 364.9h0.6M369.7 365.3h0.6M373.1 379.2h0.6M370.6 364.0h0.6M379.1 377.6h0.6M381.1 361.4h0.6M391.9 364.8h0.6M386.0 367.8h0.6M364.9 368.1h0.6M397.5 366.8h0.6M375.9 373.0h0.6M372.4 380.7h0.6M360.6 367.6h0.6M377.2 368.3h0.6M395.9 366.8h0.6M376.0 373.8h0.6M380.9 365.6h0.6M379.8 375.6h0.6M385.2 379.6h0.6M369.8 365.7h0.6M369.1 374.1h0.6M381.8 375.6h0.6M384.5 374.2h0.6M370.4 362.9h0.6M379.7 369.6h0.6M384.9 374.3h0.6M379.4 378.1h0.6M372.5 377.7h0.6M394.5 371.6h0.6M388.9 380.4h0.6M381.8 373.9h0.6M374.9 374.3h0.6M365.2 380.6h0.6M372.3 375.0h0.6M376.5 377.8h0.6M367.8 372.3h0.6M385.2 361.9h0.6M365.4 361.8h0.6M390.5 377.6h0.6M372.7 373.3h0.6M369.4 369.3h0.6M373.7 374.6h0.6M380.6 381.3h0.6M385.3 376.1h0.6M366.6 378.9h0.6M381.8 378.9h0.6M372.2 371.6h0.6M364.4 373.6h0.6M366.0 378.5h0.6M386.6 361.9h0.6M364.2 374.8h0.6M370.6 362.3h0.6M376.3 374.5h0.6M389.1 370.1h0.6M357.4 376.1h0.6M377.3 373.9h0.6M377.4 378.6h0.6M361.4 381.6h0.6M372.1 378.8h0.6M373.1 368.3h0.6M380.8 367.1h0.6M373.1 367.5h0.6M371.2 381.0h0.6M377.7 363.4h0.6M385.3 369.2h0.6M364.4 379.4h0.6M376.3 374.2h0.6M373.9 373.5h0.6M375.4 371.3h0.6M383.9 384.5h0.6M370.6 382.4h0.6M362.8 369.7h0.6M373.9 369.5h0.6M364.6 379.3h0.6M390.1 372.1h0.6M387.9 366.1h0.6M366.4 373.0h0.6M375.8 374.5h0.6M361.6 384.3h0.6M374.2 379.7h0.6M371.6 370.2h0.6M392.4 371.2h0.6M380.1 369.8h0.6M377.9 379.2h0.6M385.7 386.9h0.6M372.4 376.8h0.6M381.8 375.1h0.6M369.9 375.0h0.6M370.7 364.4h0.6M392.8 363.2h0.6M351.2 372.4h0.6M381.2 371.9h0.6M369.3 371.2h0.6M384.1 373.2h0.6M369.2 366.4h0.6M377.3 382.5h0.6M364.0 368.6h0.6M385.5 369.8h0.6M369.4 374.9h0.6M363.2 383.3h0.6M347.6 372.8h0.6M359.7 380.7h0.6M382.1 379.7h0.6M364.6 374.4h0.6M364.1 375.0h0.6M375.9 372.9h0.6M374.3 377.5h0.6M376.8 373.1h0.6M373.1 362.4h0.6M391.9 371.7h0.6M365.5 379.3h0.6M369.7 378.3h0.6M373.4 376.9h0.6M380.5 363.4h0.6M388.8 368.7h0.6M376.0 363.8h0.6M382.9 369.7h0.6M379.4 362.2h0.6M402.0 381.9h0.6M370.0 383.0h0.6M388.0 370.6h0.6M375.6 369.7h0.6M378.0 379.8h0.6M381.9 374.7h0.6M386.9 374.9h0.6M369.9 369.1h0.6M374.6 378.1h0.6M367.5 380.1h0.6M352.0 378.2h0.6M394.5 376.7h0.6M377.2 372.0h0.6M375.3 373.3h0.6M368.6 368.3h0.6M373.7 376.6h0.6M379.0 375.0h0.6M386.6 377.4h0.6M378.4 359.6h0.6M377.0 377.6h0.6M366.3 369.7h0.6M370.3 369.8h0.6M375.9 379.0h0.6M359.2 369.2h0.6M371.2 370.4h0.6M376.1 377.4h0.6M389.9 381.2h0.6M360.5 376.3h0.6M363.7 376.8h0.6M382.7 378.6h0.6M354.1 379.9h0.6M395.4 368.5h0.6M377.6 377.5h0.6M383.8 378.9h0.6M381.0 371.7h0.6M360.9 365.6h0.6M381.0 379.0h0.6M367.3 380.7h0.6M373.9 364.7h0.6M375.8 385.7h0.6M377.7 374.6h0.6M382.7 364.3h0.6M376.1 373.6h0.6M385.7 375.9h0.6M378.5 372.5h0.6M370.9 369.1h0.6M379.7 377.0h0.6M372.0 373.3h0.6M382.9 375.4h0.6M372.5 370.3h0.6M372.8 371.3h0.6M384.4 376.4h0.6M359.8 374.6h0.6M379.9 371.4h0.6M371.4 365.5h0.6M381.9 372.5h0.6M381.3 377.4h0.6M367.5 372.8h0.6M379.9 359.9h0.6M390.0 363.7h0.6M372.4 364.4h0.6M382.5 380.6h0.6M397.0 358.9h0.6M359.0 370.8h0.6M373.8 370.8h0.6M392.1 370.9h0.6M374.4 369.4h0.6M374.6 385.0h0.6M366.6 367.1h0.6M351.7 382.9h0.6M382.4 361.7h0.6M381.4 370.3h0.6M387.1 375.9h0.6M380.8 378.5h0.6M366.9 374.8h0.6M358.9 364.4h0.6M378.0 372.6h0.6M388.6 371.0h0.6M379.4 377.4h0.6M380.5 362.7h0.6M391.1 373.3h0.6M371.3 377.1h0.6M374.2 370.6h0.6M384.1 375.9h0.6M372.0 374.4h0.6M369.2 383.5h0.6M372.0 383.0h0.6M381.6 369.0h0.6M369.0 378.2h0.6M372.7 369.7h0.6M378.3 369.8h0.6M368.1 369.0h0.6M370.8 369.0h0.6M377.5 365.9h0.6M377.8 373.5h0.6M368.9 375.4h0.6M370.8 366.5h0.6M383.7 379.1h0.6M371.6 378.8h0.6M375.4 380.6h0.6M374.5 377.8h0.6M369.9 365.5h0.6M381.9 363.9h0.6M373.2 375.7h0.6M360.4 382.8h0.6M389.9 376.4h0.6M373.5 371.7h0.6M376.9 363.0h0.6M378.3 373.9h0.6M371.8 367.2h0.6M366.0 368.5h0.6M367.4 382.2h0.6M370.3 366.0h0.6M381.5 364.2h0.6M372.7 369.4h0.6M379.7 372.9h0.6M355.1 366.6h0.6M366.8 369.7h0.6M376.4 371.5h0.6M365.7 370.5h0.6M381.9 363.1h0.6M373.6 378.7h0.6M372.9 374.0h0.6M366.7 376.2h0.6M373.8 371.1h0.6M362.5 372.6h0.6M383.4 374.3h0.6M378.1 370.8h0.6M372.7 373.5h0.6M366.0 365.4h0.6M379.2 365.5h0.6M368.0 373.4h0.6M384.3 371.3h0.6M381.3 374.1h0.6M369.2 378.2h0.6M373.6 370.0h0.6M390.8 365.4h0.6M380.9 383.8h0.6M383.9 378.1h0.6M370.8 366.2h0.6M382.1 363.5h0.6M364.2 379.1h0.6M381.1 379.1h0.6M383.8 380.9h0.6M373.5 366.3h0.6M379.3 371.4h0.6M372.2 373.6h0.6M373.0 377.9h0.6M377.6 368.0h0.6M379.2 375.2h0.6M376.8 364.1h0.6M379.5 373.6h0.6M366.7 368.2h0.6M362.8 370.3h0.6M379.3 371.5h0.6M354.6 376.0h0.6M361.1 363.1h0.6M363.8 365.6h0.6M381.9 378.2h0.6M381.1 361.8h0.6M402.0 378.6h0.6M372.8 369.3h0.6M372.5 368.5h0.6M374.3 372.6h0.6M363.4 379.6h0.6M384.1 377.6h0.6M367.5 367.7h0.6M368.5 377.8h0.6M377.0 372.4h0.6M371.0 371.6h0.6M379.7 376.3h0.6M381.8 378.7h0.6M382.1 379.9h0.6M375.2 375.1h0.6M368.0 366.8h0.6M375.3 373.3h0.6M365.9 375.0h0.6M362.2 363.0h0.6M361.7 365.0h0.6M384.0 366.7h0.6M363.3 370.8h0.6M385.3 368.3h0.6M374.8 366.5h0.6M372.3 371.0h0.6M375.9 366.6h0.6M389.2 370.1h0.6M363.0 367.3h0.6M379.3 380.6h0.6M371.2 379.4h0.6M366.2 364.1h0.6M357.2 365.8h0.6M366.9 378.3h0.6M367.0 379.7h0.6M375.5 366.1h0.6M382.8 373.5h0.6M378.9 371.8h0.6M373.1 364.4h0.6M390.2 368.0h0.6M370.0 372.4h0.6M375.8 364.5h0.6M372.5 383.0h0.6M381.2 375.9h0.6M379.6 353.6h0.6M375.3 367.9h0.6M380.8 362.3h0.6M378.0 377.5h0.6M369.8 360.7h0.6M383.8 379.8h0.6M371.2 369.2h0.6M370.1 370.9h0.6M381.8 377.7h0.6M371.4 369.2h0.6M375.9 391.4h0.6M397.8 366.0h0.6M383.2 372.1h0.6M371.2 376.9h0.6M371.1 381.9h0.6M384.2 380.1h0.6M378.8 379.5h0.6M367.8 379.7h0.6M381.4 372.4h0.6M361.9 382.9h0.6M386.9 376.3h0.6M386.7 383.0h0.6M390.0 359.1h0.6M364.6 370.5h0.6M381.1 388.5h0.6M392.9 367.4h0.6M379.6 355.9h0.6M374.4 371.0h0.6M387.3 368.8h0.6M363.6 370.3h0.6M375.1 360.9h0.6M379.6 358.8h0.6M372.0 371.1h0.6M376.4 384.9h0.6M383.8 372.6h0.6M383.0 382.5h0.6M375.4 381.6h0.6M365.6 367.1h0.6M362.8 374.8h0.6M368.0 375.5h0.6M371.3 369.8h0.6M369.3 368.0h0.6M400.1 376.1h0.6M374.1 363.4h0.6M374.7 378.0h0.6M381.3 368.0h0.6M364.7 375.1h0.6M370.9 373.9h0.6M381.0 374.2h0.6M369.7 366.6h0.6M384.5 366.5h0.6M370.4 372.8h0.6M377.8 365.1h0.6M388.3 380.1h0.6M385.3 369.1h0.6M377.1 380.9h0.6M377.1 389.7h0.6M382.2 382.2h0.6M372.4 367.7h0.6M366.6 374.1h0.6M384.4 371.3h0.6M385.7 377.4h0.6M378.4 377.0h0.6M374.0 380.2h0.6M366.3 374.2h0.6M370.6 371.9h0.6M373.0 372.9h0.6M378.2 372.9h0.6M383.2 373.4h0.6M376.4 372.0h0.6M379.3 368.2h0.6M365.0 378.7h0.6M377.0 369.4h0.6M385.9 365.1h0.6M370.2 381.5h0.6M359.8 378.6h0.6M381.8 374.4h0.6M388.7 378.2h0.6M382.2 375.2h0.6M371.8 376.7h0.6M381.1 362.2h0.6M358.2 372.1h0.6M376.5 363.0h0.6M369.6 374.1h0.6M385.5 371.9h0.6M367.5 374.1h0.6M393.3 372.7h0.6M396.5 354.5h0.6M392.5 363.6h0.6M384.4 370.9h0.6M369.7 385.9h0.6M373.5 375.5h0.6M384.3 366.0h0.6M379.2 370.3h0.6M370.6 374.7h0.6M374.0 367.6h0.6M369.0 371.3h0.6M379.3 376.9h0.6M375.4 371.4h0.6M386.9 367.1h0.6M382.1 367.4h0.6M372.9 373.8h0.6M387.7 375.2h0.6M356.4 374.4h0.6M363.7 369.7h0.6M370.8 371.0h0.6M380.5 365.1h0.6M392.1 373.5h0.6M382.7 372.3h0.6M378.5 373.5h0.6M375.9 370.1h0.6M360.8 380.4h0.6M370.9 364.9h0.6M385.1 373.5h0.6M378.7 363.6h0.6M370.9 363.8h0.6M375.7 381.0h0.6M370.3 371.3h0.6M359.6 370.1h0.6M374.0 372.8h0.6M370.5 369.3h0.6M365.3 378.6h0.6M374.2 366.6h0.6M373.2 371.0h0.6M377.2 373.7h0.6M376.0 388.0h0.6M377.4 367.4h0.6M373.9 381.5h0.6M369.5 364.1h0.6M374.9 366.0h0.6M375.7 380.7h0.6M384.0 381.1h0.6M376.2 369.8h0.6M369.9 364.9h0.6M382.7 370.5h0.6M375.5 370.7h0.6M382.8 371.0h0.6M394.1 360.7h0.6M382.6 368.7h0.6M365.0 380.9h0.6M367.9 364.5h0.6M380.2 365.8h0.6M361.7 373.6h0.6M371.7 373.8h0.6M377.6 363.2h0.6M371.5 368.9h0.6M368.4 374.3h0.6M375.3 364.8h0.6M372.5 374.8h0.6M371.3 374.0h0.6M380.1 382.9h0.6M370.1 375.1h0.6M373.7 355.8h0.6M386.3 381.7h0.6M383.1 380.1h0.6M375.9 366.3h0.6M374.1 377.4h0.6M377.9 366.5h0.6M377.7 361.8h0.6M364.8 375.3h0.6M369.2 376.5h0.6M385.2 365.0h0.6M367.6 369.4h0.6M389.8 362.0h0.6M381.6 373.1h0.6M375.5 369.5h0.6M371.8 376.6h0.6M376.8 379.3h0.6M382.6 378.3h0.6M379.8 378.2h0.6M387.2 361.6h0.6M380.0 366.4h0.6M370.4 372.1h0.6M380.7 372.8h0.6M382.4 372.9h0.6M375.1 364.7h0.6M368.3 373.1h0.6M369.4 383.5h0.6M380.8 373.0h0.6M368.5 384.5h0.6M391.1 374.4h0.6M382.4 377.2h0.6M360.7 384.7h0.6M366.8 384.0h0.6M376.6 372.6h0.6M365.3 370.2h0.6M374.7 369.8h0.6M383.6 377.6h0.6M381.4 378.0h0.6M366.7 372.4h0.6M382.4 366.1h0.6M384.5 365.9h0.6M369.9 372.6h0.6M381.3 378.2h0.6M370.7 368.8h0.6M364.7 371.5h0.6M386.1 375.3h0.6M385.7 378.5h0.6M368.0 376.5h0.6M353.6 367.0h0.6M384.6 363.8h0.6M370.7 375.0h0.6M379.1 371.1h0.6M364.7 363.5h0.6M380.2 380.9h0.6M385.1 375.0h0.6M377.1 373.9h0.6M382.8 369.9h0.6M378.6 382.8h0.6M384.2 369.3h0.6M371.3 382.2h0.6M371.0 367.4h0.6M359.2 374.4h0.6M372.1 376.0h0.6M373.3 367.5h0.6M366.1 373.2h0.6M384.5 377.9h0.6M373.5 367.2h0.6M401.3 372.5h0.6M380.9 370.5h0.6M368.9 365.0h0.6M375.8 381.6h0.6M382.1 367.8h0.6M385.0 366.5h0.6M388.6 358.0h0.6M372.0 384.5h0.6M384.4 367.0h0.6M375.5 358.9h0.6M384.0 369.7h0.6M374.9 372.4h0.6M375.5 374.8h0.6M378.8 383.0h0.6M370.4 364.8h0.6M375.9 380.5h0.6M379.2 383.9h0.6M360.4 368.9h0.6M371.5 366.6h0.6M371.9 367.6h0.6M384.5 366.8h0.6M377.1 378.5h0.6M375.8 373.1h0.6M369.7 375.4h0.6M379.6 377.8h0.6M373.3 370.6h0.6M384.2 378.7h0.6M373.6 373.9h0.6M375.5 363.7h0.6M381.0 373.0h0.6M379.8 373.4h0.6M362.7 368.7h0.6M377.6 380.3h0.6M375.5 370.7h0.6M360.1 366.6h0.6M365.5 369.8h0.6M384.0 376.9h0.6M378.8 367.2h0.6M371.9 375.7h0.6M383.9 367.2h0.6M361.1 380.0h0.6M387.6 378.8h0.6M371.1 363.4h0.6M388.6 373.0h0.6M372.5 374.2h0.6M371.6 381.1h0.6M378.4 375.8h0.6M373.7 363.8h0.6M384.7 369.0h0.6M382.8 372.4h0.6M373.0 384.7h0.6M374.4 367.8h0.6M376.0 370.1h0.6M390.7 364.5h0.6M375.7 375.5h0.6M384.7 368.8h0.6M375.7 376.5h0.6M368.9 382.4h0.6M362.0 385.8h0.6M377.9 368.2h0.6M380.1 374.8h0.6M378.0 373.3h0.6M386.9 382.2h0.6M382.1 362.0h0.6M391.6 375.4h0.6M381.3 383.7h0.6M368.2 381.9h0.6M385.6 376.1h0.6M366.9 367.6h0.6M374.8 370.3h0.6M365.0 370.7h0.6M383.8 376.7h0.6M388.1 366.9h0.6M364.3 374.0h0.6M368.3 367.0h0.6M369.8 378.4h0.6M359.6 378.1h0.6M374.7 378.5h0.6M373.4 377.2h0.6M363.8 379.2h0.6M356.1 371.3h0.6M362.8 376.8h0.6M377.6 382.6h0.6M362.3 376.9h0.6M375.4 377.4h0.6M377.3 383.5h0.6M381.3 371.7h0.6M374.7 372.3h0.6M377.2 373.1h0.6M387.9 363.0h0.6M370.3 383.0h0.6M375.5 369.1h0.6M386.2 370.7h0.6M365.4 380.0h0.6M380.7 364.7h0.6M353.2 382.1h0.6M361.6 373.0h0.6M361.7 370.4h0.6M373.7 375.4h0.6M375.2 377.4h0.6M355.7 368.9h0.6M391.2 364.7h0.6M393.4 374.9h0.6M386.3 364.1h0.6M373.8 371.1h0.6M379.6 380.0h0.6M369.6 368.5h0.6M370.8 374.0h0.6M369.1 376.2h0.6M378.2 370.3h0.6M371.2 371.0h0.6M371.7 378.0h0.6M390.8 375.2h0.6M372.8 369.1h0.6M380.9 367.8h0.6M379.1 361.7h0.6M371.9 373.4h0.6M372.1 372.1h0.6M385.5 377.0h0.6M371.3 360.8h0.6M381.5 370.8h0.6M372.1 370.1h0.6M372.6 364.9h0.6M388.4 367.2h0.6M361.0 378.5h0.6M369.7 375.1h0.6M370.6 365.9h0.6M379.3 370.4h0.6M369.9 376.2h0.6M376.7 374.0h0.6M381.5 365.6h0.6M392.5 378.9h0.6M383.9 373.0h0.6M363.8 366.6h0.6M390.4 365.1h0.6M375.7 379.1h0.6M367.4 374.0h0.6M377.6 370.3h0.6M367.3 371.7h0.6M372.3 374.4h0.6M367.9 376.8h0.6M371.5 374.7h0.6M354.4 373.3h0.6M386.5 371.7h0.6M376.1 362.3h0.6M382.7 369.8h0.6M378.9 367.8h0.6M374.8 368.9h0.6M387.1 373.7h0.6M386.7 366.5h0.6M372.5 376.4h0.6M382.5 365.6h0.6M372.6 368.8h0.6M371.4 376.1h0.6M379.3 367.2h0.6M376.2 375.3h0.6M374.5 367.7h0.6M358.2 380.2h0.6M368.3 371.8h0.6M376.4 364.3h0.6M381.4 375.6h0.6M381.1 384.4h0.6M370.8 377.9h0.6M379.5 369.3h0.6M364.9 374.0h0.6M379.3 382.3h0.6M391.4 374.9h0.6M373.5 375.8h0.6M366.8 385.8h0.6M384.5 374.9h0.6M374.4 373.9h0.6M375.6 375.7h0.6M380.1 375.4h0.6M372.7 365.0h0.6M381.6 381.2h0.6M369.4 376.7h0.6M369.0 366.3h0.6M378.0 371.7h0.6M379.2 381.1h0.6M377.4 370.0h0.6M381.2 387.8h0.6M375.0 376.0h0.6M370.0 369.8h0.6M379.5 380.9h0.6M362.1 369.6h0.6M375.5 372.4h0.6M383.7 372.5h0.6M380.3 356.4h0.6M385.2 367.3h0.6M373.5 372.1h0.6M373.5 383.4h0.6M371.5 382.7h0.6M371.3 375.7h0.6M377.3 372.4h0.6M383.9 368.4h0.6M375.3 378.9h0.6M388.9 374.7h0.6M379.6 369.4h0.6M358.3 383.5h0.6M381.2 373.0h0.6M371.7 367.3h0.6M376.5 375.1h0.6M369.5 372.1h0.6M371.2 372.5h0.6M393.2 368.7h0.6M384.6 369.5h0.6M372.7 374.0h0.6M369.4 375.7h0.6M372.6 374.9h0.6M370.5 369.6h0.6M381.1 377.9h0.6M385.5 363.8h0.6M362.7 389.5h0.6M379.7 369.0h0.6M375.3 362.3h0.6M373.6 372.2h0.6M382.6 368.2h0.6M369.5 370.8h0.6M368.7 356.1h0.6M375.1 366.8h0.6M369.7 363.8h0.6M371.5 376.3h0.6M382.8 371.6h0.6M364.9 376.2h0.6M386.6 373.9h0.6M387.5 375.8h0.6M373.2 372.0h0.6M381.6 377.7h0.6M367.1 368.2h0.6M373.8 371.9h0.6M372.3 368.7h0.6M369.1 377.3h0.6M384.3 369.3h0.6M379.3 356.9h0.6M384.4 366.1h0.6M363.1 369.5h0.6M375.3 367.0h0.6M372.6 364.7h0.6M363.3 364.8h0.6M385.5 374.9h0.6M377.1 374.7h0.6M379.5 370.3h0.6M389.3 362.0h0.6M371.9 366.9h0.6M389.9 374.0h0.6M360.9 369.7h0.6M388.3 368.0h0.6M383.4 374.2h0.6M366.6 376.8h0.6M365.7 384.3h0.6M398.4 379.7h0.6M371.5 378.7h0.6M386.8 361.2h0.6M380.1 370.9h0.6M377.7 365.7h0.6M375.4 370.8h0.6M366.1 374.1h0.6M366.7 363.3h0.6M369.7 373.5h0.6M384.5 366.6h0.6M360.2 371.8h0.6M367.4 377.0h0.6M380.1 375.1h0.6M375.6 368.6h0.6M372.3 375.0h0.6M368.0 365.1h0.6M361.5 375.6h0.6M369.8 368.8h0.6M366.4 372.7h0.6M371.9 373.3h0.6M368.0 370.1h0.6M363.1 375.2h0.6M387.6 375.5h0.6M358.3 377.5h0.6M382.8 370.6h0.6M372.4 371.5h0.6M371.0 365.5h0.6M365.5 371.1h0.6M367.8 367.8h0.6M372.1 367.0h0.6M358.1 374.6h0.6M384.5 365.1h0.6M377.1 375.7h0.6M375.5 383.8h0.6M375.3 390.9h0.6M385.2 372.9h0.6M375.6 365.7h0.6M382.2 374.7h0.6M370.1 400.7h0.6M390.6 362.9h0.6M370.1 364.5h0.6M366.7 378.2h0.6M370.0 370.4h0.6M383.5 363.5h0.6M389.2 375.8h0.6M378.9 376.6h0.6M393.9 369.4h0.6M366.9 368.1h0.6M369.4 373.3h0.6M371.6 370.3h0.6M386.9 369.5h0.6M367.7 370.3h0.6M375.7 369.9h0.6M365.6 378.8h0.6M377.3 384.1h0.6M368.3 376.0h0.6M401.4 375.5h0.6M382.4 384.9h0.6M371.2 364.4h0.6M382.9 376.5h0.6M375.2 367.0h0.6M370.3 377.8h0.6M380.1 370.5h0.6M363.0 371.6h0.6M388.4 369.6h0.6M386.4 372.9h0.6M366.1 374.9h0.6M374.5 373.0h0.6M359.4 356.7h0.6M380.4 363.8h0.6M378.3 377.1h0.6M377.6 373.5h0.6M371.1 380.3h0.6M375.2 362.3h0.6M369.8 367.9h0.6M373.7 373.9h0.6M369.8 380.0h0.6M370.1 379.1h0.6M369.7 375.6h0.6M353.7 377.0h0.6M368.7 375.2h0.6M383.1 373.4h0.6M388.0 379.1h0.6M370.7 371.7h0.6M376.0 373.0h0.6M386.6 367.9h0.6M361.7 381.9h0.6M378.9 367.8h0.6M360.9 367.2h0.6M379.0 370.2h0.6M373.7 377.9h0.6M374.6 377.8h0.6M373.5 373.4h0.6M392.2 369.5h0.6M352.7 371.3h0.6M363.3 373.2h0.6M377.5 382.8h0.6M377.7 374.4h0.6M369.2 373.4h0.6M378.5 375.8h0.6M375.5 370.2h0.6M376.5 365.8h0.6M385.5 379.2h0.6M368.0 370.2h0.6M377.4 377.7h0.6M383.5 377.8h0.6M370.8 374.8h0.6M386.3 360.4h0.6M368.1 369.6h0.6M361.2 375.1h0.6M366.1 366.2h0.6M376.3 372.1h0.6M384.3 369.3h0.6M372.2 379.4h0.6M375.0 379.0h0.6M375.2 381.9h0.6M380.9 366.7h0.6M366.9 382.1h0.6M374.4 364.2h0.6M367.5 381.9h0.6M379.4 372.6h0.6M382.7 371.0h0.6M355.8 381.5h0.6M377.3 385.2h0.6M373.8 376.3h0.6M381.7 362.5h0.6M369.1 364.5h0.6M375.7 380.9h0.6M364.9 373.4h0.6M382.3 373.7h0.6M395.3 364.3h0.6M377.7 370.4h0.6M388.9 377.3h0.6M388.9 357.8h0.6M373.3 368.0h0.6M376.3 377.7h0.6M377.0 365.2h0.6M384.6 366.9h0.6M369.7 365.4h0.6M381.9 379.4h0.6M368.2 372.1h0.6M381.2 376.5h0.6M375.3 373.7h0.6M360.7 375.0h0.6M372.1 370.4h0.6M379.8 378.6h0.6M374.1 366.4h0.6M377.7 375.2h0.6M395.0 368.7h0.6M364.4 374.1h0.6M369.3 371.3h0.6M368.9 368.4h0.6M375.6 374.9h0.6M371.4 367.5h0.6M373.7 375.4h0.6M368.4 370.7h0.6M369.0 373.8h0.6M392.1 375.7h0.6M397.4 385.1h0.6M374.1 377.9h0.6M376.4 376.8h0.6M361.1 376.8h0.6M372.1 365.1h0.6M382.1 378.4h0.6M379.2 368.7h0.6M373.8 356.5h0.6M391.4 377.2h0.6M401.3 368.1h0.6M374.0 368.2h0.6M366.7 373.0h0.6M381.0 371.2h0.6M383.2 367.9h0.6M368.2 358.0h0.6M375.1 376.9h0.6M385.1 368.7h0.6M379.1 371.1h0.6M368.2 360.0h0.6M383.4 362.4h0.6M368.5 360.9h0.6M389.0 368.0h0.6M375.7 370.0h0.6M359.3 373.4h0.6M368.2 375.3h0.6M382.6 376.8h0.6M391.5 369.1h0.6M378.9 367.5h0.6M373.2 370.7h0.6M395.7 380.6h0.6M364.3 370.1h0.6M384.7 354.8h0.6M362.4 373.9h0.6M360.5 380.2h0.6M366.3 365.1h0.6M382.8 378.2h0.6M377.9 371.5h0.6M374.0 370.8h0.6M379.4 375.5h0.6M369.5 378.7h0.6M388.9 369.7h0.6M376.6 379.5h0.6M380.4 369.8h0.6M364.4 370.3h0.6M375.1 379.5h0.6M365.1 368.8h0.6M381.6 379.9h0.6M361.6 372.1h0.6M382.1 376.6h0.6M384.8 379.3h0.6M380.6 375.3h0.6M386.7 370.7h0.6M389.1 367.1h0.6M373.2 368.9h0.6M371.5 378.2h0.6M371.6 373.5h0.6M375.6 388.8h0.6M373.9 367.6h0.6M373.7 372.7h0.6M390.6 372.4h0.6M376.3 374.2h0.6M371.9 384.6h0.6M388.6 369.7h0.6M365.9 372.4h0.6M375.1 373.1h0.6M380.5 365.9h0.6M381.3 373.0h0.6M364.7 376.6h0.6M363.8 366.4h0.6M365.1 374.8h0.6M368.4 378.4h0.6M385.8 385.4h0.6M374.8 375.4h0.6M378.6 375.0h0.6M368.2 379.9h0.6M371.0 370.1h0.6M381.1 382.4h0.6M378.6 373.0h0.6M373.1 372.5h0.6M384.0 365.8h0.6M370.5 373.1h0.6M370.8 374.7h0.6M371.8 366.6h0.6M370.4 364.4h0.6M382.5 370.6h0.6M362.8 378.8h0.6M379.3 369.3h0.6M359.5 380.9h0.6M360.5 365.7h0.6M375.5 371.0h0.6M378.0 378.0h0.6M374.3 361.2h0.6M357.9 382.6h0.6M385.6 365.4h0.6M384.9 374.0h0.6M368.2 376.2h0.6M386.8 381.2h0.6M370.3 384.9h0.6M375.9 371.1h0.6M368.8 379.2h0.6M366.7 366.8h0.6M362.4 373.8h0.6M373.0 370.7h0.6M381.2 360.4h0.6M372.3 383.2h0.6M380.8 371.5h0.6M382.9 374.7h0.6M388.5 367.5h0.6M384.4 373.0h0.6M376.0 375.9h0.6M377.9 377.4h0.6M374.5 374.1h0.6M368.4 382.0h0.6M365.3 369.5h0.6M390.3 388.8h0.6M368.0 370.0h0.6M380.5 369.2h0.6M388.3 371.3h0.6M377.5 374.5h0.6M370.9 367.2h0.6M379.0 367.7h0.6M389.1 366.7h0.6M367.6 375.8h0.6M368.1 370.5h0.6M371.4 373.6h0.6M382.3 375.2h0.6M382.6 365.5h0.6M370.9 381.3h0.6M376.4 374.2h0.6M383.4 380.0h0.6M365.6 384.8h0.6M374.6 365.1h0.6M379.4 368.2h0.6M381.7 370.4h0.6M381.6 379.5h0.6M363.6 373.7h0.6M375.1 368.3h0.6M370.8 385.1h0.6M377.7 368.3h0.6M379.4 369.9h0.6M374.9 361.6h0.6M377.8 378.3h0.6M394.4 359.9h0.6M391.6 371.0h0.6M383.9 369.7h0.6M376.3 367.3h0.6M393.3 357.1h0.6M370.3 366.8h0.6M360.6 362.2h0.6M374.1 372.3h0.6M367.7 368.8h0.6M355.9 368.5h0.6M366.4 381.4h0.6M372.2 371.3h0.6M371.8 371.5h0.6M378.8 368.7h0.6M380.9 362.1h0.6M380.9 368.0h0.6M365.8 371.4h0.6M381.9 371.4h0.6M389.4 371.0h0.6M373.6 381.1h0.6M373.7 374.0h0.6M379.7 377.7h0.6M380.8 380.5h0.6M375.9 366.3h0.6M379.2 378.0h0.6M367.5 379.5h0.6M360.4 383.9h0.6M370.5 365.8h0.6M372.1 364.1h0.6M374.9 370.2h0.6M370.9 374.9h0.6M367.5 370.0h0.6M377.2 369.2h0.6M379.7 371.7h0.6M373.2 371.1h0.6M372.2 383.1h0.6M376.1 371.6h0.6M370.8 375.6h0.6M379.6 373.6h0.6M370.9 373.6h0.6M358.9 382.3h0.6M391.0 369.9h0.6M378.9 368.5h0.6M383.2 385.4h0.6M352.0 370.6h0.6M390.6 365.5h0.6M352.4 367.1h0.6M381.2 378.7h0.6M383.2 370.4h0.6M396.0 371.7h0.6M367.8 374.1h0.6M362.0 371.0h0.6M362.5 371.5h0.6M362.1 383.1h0.6M350.2 374.7h0.6M357.2 363.2h0.6M364.7 365.8h0.6M365.7 388.0h0.6M381.3 375.6h0.6M381.1 367.1h0.6M372.3 382.7h0.6M348.3 371.2h0.6M379.0 357.0h0.6M367.9 367.4h0.6M347.2 380.9h0.6M364.6 368.4h0.6M361.3 387.4h0.6M371.5 372.0h0.6M375.9 388.5h0.6M392.5 374.4h0.6M362.7 388.6h0.6M373.4 377.4h0.6M357.8 375.8h0.6M364.1 362.6h0.6M354.2 369.0h0.6M370.5 355.1h0.6M378.5 359.2h0.6M367.2 370.7h0.6M389.5 364.0h0.6M370.6 379.8h0.6M382.7 370.1h0.6M367.7 375.6h0.6M371.1 379.9h0.6M393.6 360.8h0.6M359.4 377.7h0.6M380.3 367.4h0.6M350.3 375.3h0.6M368.4 363.0h0.6M383.3 366.3h0.6M399.9 382.9h0.6M382.6 367.3h0.6M368.2 364.9h0.6M367.3 361.4h0.6M372.6 365.8h0.6M372.8 356.9h0.6M388.1 374.7h0.6M360.7 377.5h0.6M360.1 375.6h0.6M385.7 382.1h0.6M380.1 379.1h0.6M366.2 361.2h0.6M369.2 377.0h0.6M378.8 376.7h0.6M368.3 359.9h0.6M362.6 366.7h0.6M373.5 375.2h0.6M381.0 376.3h0.6M359.6 373.7h0.6M366.1 370.6h0.6M379.1 361.1h0.6M348.8 369.1h0.6M368.1 379.1h0.6M383.3 371.7h0.6M360.4 383.7h0.6M379.7 375.3h0.6M402.4 354.1h0.6M380.4 382.1h0.6M359.5 376.1h0.6M401.3 361.5h0.6M382.0 368.3h0.6M385.4 372.5h0.6M376.6 377.2h0.6M361.9 379.0h0.6M370.4 364.8h0.6M369.1 372.1h0.6M395.2 366.4h0.6M387.9 364.0h0.6M368.1 384.0h0.6M375.3 386.0h0.6M379.5 366.7h0.6M388.5 361.4h0.6M383.6 370.1h0.6M357.2 365.0h0.6M387.3 383.4h0.6M356.7 374.9h0.6M365.9 376.0h0.6M352.3 377.0h0.6M367.1 367.0h0.6M381.4 393.8h0.6M372.5 375.4h0.6M385.7 361.0h0.6M384.9 373.3h0.6M369.2 381.2h0.6M364.9 368.8h0.6M388.9 381.7h0.6M381.0 363.0h0.6M385.2 376.8h0.6M388.0 358.0h0.6M368.2 368.4h0.6M363.2 382.5h0.6M374.6 372.2h0.6M365.4 372.8h0.6M363.4 366.7h0.6M360.4 384.3h0.6M370.3 363.6h0.6M367.8 379.9h0.6M377.5 387.0h0.6M379.5 372.6h0.6M388.0 377.0h0.6M376.0 370.4h0.6M374.9 357.3h0.6M378.2 372.0h0.6M374.1 356.2h0.6M376.8 352.9h0.6M364.6 354.0h0.6M373.6 369.0h0.6M355.2 360.4h0.6M385.9 358.3h0.6M374.5 359.5h0.6M378.1 370.6h0.6M354.0 360.6h0.6M359.5 363.0h0.6M363.9 368.9h0.6M384.9 364.4h0.6M379.7 366.4h0.6M372.1 383.3h0.6M385.6 380.2h0.6M348.4 361.8h0.6M358.4 374.0h0.6M385.5 363.0h0.6M381.2 373.0h0.6M370.2 382.6h0.6M377.4 376.7h0.6M373.3 391.3h0.6M365.8 366.8h0.6M364.9 384.2h0.6M359.2 353.0h0.6M371.1 378.4h0.6M368.9 369.6h0.6M383.0 379.5h0.6M350.7 385.8h0.6M371.1 371.7h0.6M365.9 377.9h0.6M362.2 351.0h0.6M367.4 373.7h0.6M391.0 391.0h0.6M394.5 369.4h0.6M384.4 374.7h0.6M350.6 379.7h0.6M356.9 380.8h0.6M359.2 386.9h0.6M354.2 370.4h0.6M386.0 370.1h0.6M392.3 370.4h0.6M348.5 375.9h0.6M379.2 356.3h0.6M376.6 377.2h0.6M365.3 376.0h0.6M366.1 356.9h0.6M368.3 368.6h0.6M366.8 376.4h0.6M358.7 379.4h0.6M368.9 375.7h0.6M372.8 373.7h0.6M373.0 371.9h0.6M356.8 358.9h0.6M380.3 382.8h0.6M353.7 371.3h0.6M362.2 365.8h0.6M355.7 366.1h0.6M346.7 375.0h0.6M372.9 377.7h0.6M360.5 368.6h0.6M387.4 364.1h0.6M367.4 372.4h0.6M382.3 373.9h0.6M359.7 359.9h0.6M363.0 373.9h0.6M377.4 371.6h0.6M364.7 359.2h0.6M359.1 371.8h0.6M371.5 371.0h0.6M385.9 372.1h0.6M376.4 356.9h0.6M377.8 371.0h0.6M402.2 356.2h0.6M381.0 363.3h0.6M364.9 370.9h0.6M373.5 362.1h0.6M355.9 377.2h0.6M367.1 353.9h0.6M390.3 376.4h0.6M377.8 367.4h0.6M356.4 363.6h0.6M362.1 368.7h0.6M352.1 361.3h0.6M400.6 355.9h0.6M365.5 381.4h0.6M355.6 374.9h0.6M391.4 364.8h0.6M372.5 369.3h0.6M358.4 373.7h0.6M359.5 368.0h0.6M356.6 379.2h0.6M368.7 376.0h0.6M368.9 360.5h0.6M376.6 367.9h0.6M359.7 359.1h0.6M364.0 390.9h0.6M376.4 380.9h0.6M387.5 381.4h0.6M397.2 366.9h0.6M386.5 355.7h0.6M355.4 384.7h0.6M366.9 372.3h0.6M379.9 358.4h0.6M359.6 381.5h0.6M354.5 352.3h0.6M350.3 383.0h0.6M370.5 378.8h0.6M362.0 387.7h0.6M366.0 366.9h0.6M355.0 387.4h0.6M375.8 370.3h0.6M360.8 371.6h0.6M355.2 377.7h0.6M356.6 376.3h0.6M354.2 376.0h0.6M377.8 367.4h0.6M380.6 377.2h0.6M361.8 379.3h0.6M360.9 382.3h0.6M397.8 360.2h0.6M381.7 358.2h0.6M389.9 365.2h0.6M378.2 384.9h0.6M372.8 370.7h0.6M374.3 366.4h0.6M391.6 361.2h0.6M399.7 369.5h0.6M376.6 378.2h0.6M373.3 352.3h0.6M384.4 370.1h0.6M381.7 377.3h0.6M370.3 367.5h0.6M363.8 361.4h0.6M363.0 374.8h0.6M392.3 364.8h0.6M366.9 369.4h0.6M367.9 373.2h0.6M367.4 374.2h0.6M356.2 369.5h0.6M378.5 397.0h0.6M371.4 372.2h0.6M377.7 381.8h0.6M390.3 379.7h0.6M369.5 368.2h0.6M373.3 374.4h0.6M363.0 374.5h0.6M383.7 371.2h0.6M377.7 388.2h0.6M385.9 384.9h0.6M392.8 356.9h0.6M355.0 381.6h0.6M392.6 373.5h0.6M355.8 367.8h0.6M358.5 374.9h0.6M392.1 387.4h0.6M365.3 382.5h0.6M379.6 368.7h0.6M363.6 370.3h0.6M393.8 360.3h0.6M355.7 366.2h0.6M371.5 375.8h0.6M357.2 371.4h0.6M368.3 377.4h0.6M390.0 364.4h0.6M375.6 377.6h0.6M376.0 366.9h0.6M381.9 366.9h0.6M365.2 359.3h0.6M355.7 380.6h0.6M357.3 372.4h0.6M365.4 384.2h0.6M387.3 361.5h0.6M371.9 373.2h0.6M365.5 377.5h0.6M372.8 380.9h0.6M362.5 378.9h0.6M383.0 373.3h0.6M382.0 373.5h0.6M361.6 359.5h0.6M393.9 372.0h0.6M355.9 372.3h0.6M377.6 388.9h0.6M367.8 377.0h0.6M382.6 352.9h0.6M383.1 355.1h0.6M372.8 391.1h0.6M375.5 356.6h0.6M353.6 374.5h0.6M352.4 384.3h0.6M371.9 365.9h0.6M375.7 364.1h0.6M365.0 365.1h0.6M379.9 366.6h0.6M386.0 356.4h0.6M349.3 373.6h0.6M376.6 365.6h0.6M370.8 370.1h0.6M371.5 384.8h0.6M372.2 357.9h0.6M378.3 369.3h0.6M377.8 355.3h0.6M366.9 361.5h0.6M380.0 371.6h0.6M364.0 369.2h0.6M370.8 387.2h0.6M376.3 369.5h0.6M384.8 389.9h0.6M369.9 382.4h0.6M376.7 356.8h0.6M358.8 370.2h0.6M371.0 387.5h0.6M376.8 376.9h0.6M396.7 362.3h0.6M360.9 374.2h0.6M373.7 370.4h0.6M365.2 373.6h0.6M379.6 381.7h0.6M361.4 360.4h0.6M382.7 386.3h0.6M358.2 375.2h0.6M393.7 382.4h0.6M372.9 373.4h0.6M368.9 371.9h0.6M373.3 373.2h0.6M375.5 369.5h0.6M376.7 364.7h0.6M385.6 388.2h0.6M372.7 371.1h0.6M363.9 361.0h0.6M354.0 358.3h0.6M365.5 363.7h0.6M359.3 384.4h0.6M384.2 377.1h0.6M357.4 364.7h0.6M365.7 361.4h0.6M375.3 375.1h0.6M391.2 372.7h0.6M351.8 366.3h0.6M370.4 361.7h0.6M384.3 374.7h0.6M351.2 382.0h0.6M381.3 386.0h0.6M370.7 385.9h0.6M359.6 379.4h0.6M366.3 361.7h0.6M376.5 367.5h0.6M391.8 374.7h0.6M361.3 363.3h0.6M392.9 383.0h0.6M393.7 365.6h0.6M353.1 377.9h0.6M372.8 367.7h0.6M379.7 360.4h0.6M391.6 380.4h0.6M381.5 365.3h0.6M366.9 373.0h0.6M366.0 374.3h0.6M381.6 385.5h0.6M362.2 373.1h0.6M375.6 372.4h0.6M372.7 370.9h0.6M361.5 374.1h0.6M402.0 379.5h0.6M374.2 358.4h0.6M400.0 371.5h0.6M386.2 360.2h0.6M385.8 373.5h0.6M364.0 379.6h0.6M365.0 361.0h0.6M373.2 361.2h0.6M370.5 375.4h0.6M356.4 371.3h0.6M401.1 365.4h0.6M402.8 381.9h0.6M379.9 375.6h0.6M374.4 389.7h0.6M368.7 363.4h0.6M358.7 389.8h0.6M377.5 373.1h0.6M371.7 383.6h0.6M379.7 372.1h0.6M384.6 373.1h0.6M400.0 374.4h0.6M371.7 367.4h0.6M375.1 374.6h0.6M368.8 364.4h0.6M376.5 369.0h0.6M359.0 382.6h0.6M393.1 373.2h0.6M378.9 370.9h0.6M355.3 365.8h0.6M372.2 360.8h0.6M387.6 372.5h0.6M380.6 368.4h0.6M364.2 372.5h0.6M380.4 368.4h0.6M376.4 380.4h0.6M364.3 377.9h0.6M376.5 364.3h0.6M357.0 361.5h0.6M367.1 369.6h0.6M355.8 375.2h0.6M384.3 366.6h0.6M385.4 376.6h0.6M366.3 356.9h0.6M374.3 383.6h0.6M391.1 368.1h0.6M351.8 362.5h0.6M371.2 374.9h0.6M379.2 379.3h0.6M379.5 375.8h0.6M366.0 370.1h0.6M362.8 372.4h0.6M385.2 366.5h0.6M364.1 365.5h0.6M374.5 368.6h0.6M369.6 366.3h0.6M383.7 366.0h0.6M363.3 366.2h0.6M376.2 378.3h0.6M374.9 376.5h0.6M358.3 378.6h0.6M376.1 354.3h0.6M384.5 372.1h0.6M376.8 374.8h0.6M363.0 361.7h0.6M363.8 367.5h0.6M354.6 375.8h0.6M357.1 362.6h0.6M376.2 380.6h0.6M372.0 378.7h0.6M371.3 359.6h0.6M404.2 369.2h0.6M372.4 361.0h0.6M381.6 380.7h0.6M354.9 388.4h0.6M367.1 369.4h0.6M363.4 374.7h0.6M373.7 388.1h0.6M357.6 370.4h0.6M362.7 354.1h0.6M362.6 369.9h0.6M374.9 383.3h0.6M355.1 378.7h0.6M373.8 378.2h0.6M378.0 388.4h0.6M373.1 380.4h0.6M386.9 380.2h0.6M372.7 375.5h0.6M374.2 375.8h0.6M374.7 370.2h0.6M383.4 366.5h0.6M377.7 367.3h0.6M372.3 371.4h0.6M380.8 378.8h0.6M361.7 371.2h0.6M382.3 368.9h0.6M389.0 373.3h0.6M364.0 369.1h0.6M368.8 365.5h0.6M368.6 364.9h0.6M378.4 388.9h0.6M347.1 375.1h0.6M365.8 385.0h0.6M380.1 363.1h0.6M376.4 384.6h0.6M356.6 389.7h0.6M387.8 378.7h0.6M396.0 353.5h0.6M360.6 363.7h0.6M366.2 362.8h0.6M356.0 378.0h0.6M363.6 369.0h0.6M369.0 380.1h0.6M399.0 371.4h0.6M354.6 362.8h0.6M395.8 360.3h0.6M371.3 372.5h0.6M366.9 379.5h0.6M365.5 376.3h0.6M379.6 385.4h0.6M366.8 386.8h0.6M369.0 375.4h0.6M369.4 367.9h0.6M372.3 361.0h0.6M375.2 356.3h0.6M367.9 372.4h0.6M361.4 366.0h0.6M380.0 387.7h0.6M373.4 366.3h0.6M370.7 357.8h0.6M361.7 364.6h0.6M358.1 364.4h0.6M365.4 361.4h0.6M359.5 382.4h0.6M355.7 359.9h0.6M383.1 376.5h0.6M368.8 360.2h0.6M360.3 378.5h0.6M370.9 373.6h0.6M390.0 361.3h0.6M385.5 367.2h0.6M369.7 390.5h0.6M375.8 381.4h0.6M362.8 381.9h0.6M365.2 367.1h0.6M367.9 368.3h0.6M364.4 388.2h0.6M378.1 366.1h0.6M356.4 361.9h0.6M378.3 369.6h0.6M358.9 366.8h0.6M387.5 370.4h0.6M394.0 373.2h0.6M352.6 367.8h0.6M379.7 371.4h0.6M390.2 380.1h0.6M371.8 374.1h0.6M389.3 380.4h0.6M361.1 356.8h0.6M371.7 381.8h0.6M400.8 353.2h0.6M381.3 376.6h0.6M383.7 382.9h0.6M369.6 374.1h0.6M369.0 356.7h0.6M383.4 369.1h0.6M372.7 356.7h0.6M393.2 362.1h0.6M361.9 368.9h0.6M360.3 377.6h0.6M377.4 363.1h0.6M352.8 371.3h0.6M379.6 375.2h0.6M390.1 370.7h0.6M395.2 363.3h0.6M356.1 369.4h0.6M366.8 360.2h0.6M366.2 365.6h0.6M377.7 363.4h0.6M350.5 366.0h0.6M370.5 366.2h0.6M379.6 371.6h0.6M363.4 377.2h0.6M377.9 374.7h0.6M373.0 379.2h0.6M367.9 364.9h0.6M359.4 383.6h0.6M369.3 372.2h0.6M376.1 378.4h0.6M368.7 378.5h0.6M380.3 364.2h0.6M378.1 369.0h0.6M357.0 363.6h0.6M372.4 379.0h0.6M385.3 374.9h0.6M379.6 369.5h0.6M368.0 365.2h0.6M354.6 367.3h0.6M373.5 359.0h0.6M374.6 382.2h0.6M386.7 371.6h0.6M370.8 377.1h0.6M372.2 356.0h0.6M376.4 384.5h0.6M389.5 378.0h0.6M384.4 361.0h0.6M396.7 377.7h0.6M365.6 387.7h0.6M385.3 357.5h0.6M375.0 363.9h0.6M391.5 375.1h0.6M365.9 380.3h0.6M381.5 372.4h0.6M380.8 377.5h0.6M360.7 378.1h0.6M372.2 364.5h0.6M369.3 378.6h0.6M365.9 373.8h0.6M363.1 378.2h0.6M354.0 365.7h0.6M377.1 372.2h0.6M373.0 361.2h0.6M373.8 382.4h0.6M370.5 377.1h0.6M376.1 373.4h0.6M363.5 371.1h0.6M360.0 376.1h0.6M377.0 352.5h0.6M376.4 376.2h0.6M378.7 374.2h0.6M377.1 383.0h0.6M356.4 376.1h0.6M357.1 352.7h0.6M362.8 369.4h0.6M395.4 377.7h0.6M379.6 362.0h0.6M357.8 375.4h0.6M384.6 365.4h0.6M381.5 381.2h0.6M366.1 377.1h0.6M380.7 357.6h0.6M374.2 370.6h0.6M372.1 369.4h0.6M375.7 367.0h0.6M387.1 361.8h0.6M380.6 376.1h0.6M349.9 382.3h0.6M364.3 373.2h0.6M389.5 361.7h0.6M400.1 372.7h0.6M358.1 362.7h0.6M386.8 384.9h0.6M353.2 378.7h0.6M388.0 379.6h0.6M369.0 389.4h0.6M386.8 351.3h0.6M379.8 371.6h0.6M362.0 353.4h0.6M359.7 367.5h0.6M356.3 382.2h0.6M348.9 360.9h0.6M358.4 353.9h0.6M373.1 364.0h0.6M367.4 373.3h0.6M378.6 366.5h0.6M366.1 373.6h0.6M380.3 380.3h0.6M377.6 374.3h0.6M366.7 362.1h0.6M356.5 381.4h0.6M347.4 363.9h0.6M380.6 359.0h0.6M371.5 369.9h0.6M348.3 376.1h0.6M361.7 364.7h0.6M367.2 376.3h0.6M392.2 362.6h0.6M385.5 364.8h0.6M369.4 372.1h0.6M380.8 375.1h0.6M352.7 381.1h0.6M366.1 372.9h0.6M366.7 381.8h0.6M354.5 373.6h0.6M387.8 368.5h0.6M367.1 374.7h0.6M388.7 365.8h0.6M351.4 363.7h0.6M384.0 382.4h0.6M382.4 371.0h0.6M358.4 380.1h0.6M376.0 377.2h0.6M375.4 373.4h0.6M380.7 361.3h0.6M366.6 361.1h0.6M360.4 377.7h0.6M358.8 372.7h0.6M374.2 373.2h0.6M364.2 374.0h0.6M371.8 356.6h0.6M368.5 388.1h0.6M349.2 369.2h0.6M373.9 365.1h0.6M389.1 380.6h0.6M376.2 357.5h0.6M368.3 363.8h0.6M383.6 355.6h0.6M365.2 374.6h0.6M385.6 377.2h0.6M365.4 378.2h0.6M347.8 379.2h0.6M358.8 384.4h0.6M378.4 370.3h0.6M378.9 384.8h0.6M374.2 362.2h0.6M384.2 364.0h0.6M373.7 392.0h0.6M375.2 378.6h0.6M385.2 368.1h0.6M407.7 372.1h0.6M377.3 358.3h0.6M374.8 370.1h0.6M389.3 380.8h0.6M379.5 382.0h0.6M378.1 386.9h0.6M374.0 369.6h0.6M370.1 369.8h0.6M391.8 376.6h0.6M383.7 357.1h0.6M394.3 375.2h0.6M353.7 371.3h0.6M348.5 364.3h0.6M379.2 362.9h0.6M393.9 364.4h0.6M357.8 367.1h0.6M358.9 369.3h0.6M360.9 361.1h0.6M370.7 361.9h0.6M386.2 378.6h0.6M371.3 366.8h0.6M376.3 370.6h0.6M351.7 375.1h0.6M347.9 359.5h0.6M376.1 369.4h0.6M376.5 367.9h0.6M363.4 361.3h0.6M375.4 379.6h0.6M374.2 375.9h0.6M380.6 373.1h0.6M364.8 380.8h0.6M372.4 368.8h0.6M395.1 378.1h0.6M361.6 369.3h0.6M367.1 371.0h0.6M365.1 371.1h0.6M382.2 365.8h0.6M360.5 374.8h0.6M354.9 365.8h0.6M362.4 374.9h0.6M353.5 372.2h0.6M375.7 371.5h0.6M396.4 362.3h0.6M380.7 368.5h0.6M379.4 378.4h0.6M378.1 353.4h0.6M367.9 360.2h0.6M352.0 371.4h0.6M358.8 365.8h0.6M383.9 377.8h0.6M353.7 364.8h0.6M394.4 374.5h0.6M357.5 365.7h0.6M366.7 370.2h0.6M360.8 381.3h0.6M356.5 368.0h0.6M366.1 371.9h0.6M369.3 375.2h0.6M368.6 372.1h0.6M377.5 362.9h0.6M373.9 368.8h0.6M389.1 373.8h0.6M366.8 375.4h0.6M360.3 373.3h0.6M363.3 385.8h0.6M370.6 378.2h0.6M387.1 374.2h0.6M374.3 388.5h0.6M367.1 354.5h0.6M374.5 371.9h0.6M356.5 359.7h0.6M366.7 373.5h0.6M363.3 371.8h0.6M358.6 372.7h0.6M379.8 385.6h0.6M361.1 381.9h0.6M363.7 367.2h0.6M357.4 375.6h0.6M375.9 367.9h0.6M358.0 369.8h0.6M398.9 381.3h0.6M358.8 382.4h0.6M383.2 379.0h0.6M379.0 386.3h0.6M383.4 381.1h0.6M374.2 371.3h0.6M359.0 362.5h0.6M400.3 357.6h0.6M374.9 365.5h0.6M358.1 377.9h0.6M388.8 378.9h0.6M371.5 357.1h0.6M363.2 369.6h0.6M380.6 377.9h0.6M373.2 380.5h0.6M380.2 350.7h0.6M371.9 365.2h0.6M385.6 368.0h0.6M377.9 369.5h0.6M367.6 373.4h0.6M372.5 362.9h0.6M386.1 364.0h0.6M372.1 358.1h0.6M363.3 387.3h0.6M374.2 364.8h0.6M379.6 368.5h0.6M378.5 362.8h0.6M355.2 367.2h0.6M357.9 389.8h0.6M368.7 371.5h0.6M382.9 356.9h0.6M375.0 364.3h0.6M392.1 377.9h0.6M392.5 385.9h0.6M382.6 359.6h0.6M374.7 370.0h0.6M370.3 366.9h0.6M361.2 379.3h0.6M374.9 361.4h0.6M357.9 374.1h0.6M383.6 372.2h0.6M350.7 383.4h0.6M387.6 368.9h0.6M369.8 368.3h0.6M362.9 380.5h0.6M374.0 375.9h0.6M374.0 366.8h0.6M373.0 382.3h0.6M355.7 369.1h0.6M384.6 370.3h0.6M372.6 383.6h0.6M381.5 371.3h0.6M367.3 371.1h0.6M359.7 383.8h0.6M373.8 363.8h0.6M384.9 367.0h0.6M357.2 359.8h0.6M378.4 357.7h0.6M378.8 364.1h0.6M370.8 389.5h0.6M372.1 389.3h0.6M368.3 373.0h0.6M378.5 376.6h0.6M388.1 370.4h0.6M381.6 379.7h0.6M387.4 379.2h0.6M383.8 361.4h0.6M370.8 369.1h0.6M364.2 371.4h0.6M356.6 357.9h0.6M347.5 379.5h0.6M364.3 367.9h0.6M376.1 379.6h0.6M370.2 375.4h0.6M371.2 370.6h0.6M382.8 372.6h0.6M383.9 377.1h0.6M369.1 374.5h0.6M370.6 363.0h0.6M352.9 380.2h0.6M386.2 382.0h0.6M369.7 357.9h0.6M372.1 374.2h0.6M369.5 383.0h0.6M381.4 379.2h0.6M372.1 362.4h0.6M378.2 364.6h0.6M364.9 374.8h0.6M382.9 357.3h0.6M357.6 376.8h0.6M370.1 361.9h0.6M374.6 367.8h0.6M367.9 362.3h0.6M383.3 370.7h0.6M377.0 367.5h0.6M375.2 372.0h0.6M359.6 398.0h0.6M388.0 392.6h0.6M378.1 388.6h0.6M375.2 398.3h0.6M374.1 395.3h0.6M370.8 384.8h0.6M371.0 391.8h0.6M374.9 388.2h0.6M380.1 387.3h0.6M376.4 387.9h0.6M375.9 390.7h0.6M379.4 386.7h0.6M370.5 392.8h0.6M380.8 392.7h0.6M372.3 391.1h0.6M378.3 389.7h0.6M371.0 389.4h0.6M380.3 384.8h0.6M368.0 388.5h0.6M385.7 391.0h0.6M372.0 391.4h0.6M372.1 385.7h0.6M370.2 395.5h0.6M368.4 396.7h0.6M373.1 394.1h0.6M365.8 397.3h0.6M380.6 392.5h0.6M373.9 385.5h0.6M362.2 398.5h0.6M374.8 391.1h0.6M377.7 394.5h0.6M375.9 382.7h0.6M371.3 397.0h0.6M373.6 397.2h0.6M359.5 393.7h0.6M366.6 397.3h0.6M361.4 396.2h0.6M366.2 388.5h0.6M378.5 395.1h0.6M381.8 382.1h0.6M383.3 390.4h0.6M370.8 404.1h0.6M377.0 390.3h0.6M372.5 394.5h0.6M376.7 396.4h0.6M375.6 381.5h0.6M369.6 395.5h0.6M381.3 396.6h0.6M371.7 393.1h0.6M370.9 389.0h0.6M372.9 389.0h0.6M370.6 394.2h0.6M364.2 397.4h0.6M373.8 393.2h0.6M376.9 395.7h0.6M378.9 388.4h0.6M372.7 391.1h0.6M384.4 382.4h0.6M371.0 397.1h0.6M371.2 386.2h0.6M360.5 392.4h0.6M384.5 384.2h0.6M381.4 389.9h0.6M382.6 385.8h0.6M365.3 396.5h0.6M378.9 386.0h0.6M364.9 395.5h0.6M381.7 392.0h0.6M373.8 392.8h0.6M372.2 396.4h0.6M374.9 388.6h0.6M373.2 393.1h0.6M384.0 391.4h0.6M381.5 379.2h0.6M365.9 394.8h0.6M380.0 384.5h0.6M360.1 399.6h0.6M385.8 385.5h0.6M371.6 394.9h0.6M373.0 389.5h0.6M374.3 390.3h0.6M388.4 377.1h0.6M379.0 399.0h0.6M374.5 391.4h0.6M378.2 383.8h0.6M372.4 399.9h0.6M380.5 385.8h0.6M371.1 392.7h0.6M372.3 390.9h0.6M372.8 394.8h0.6M381.7 390.8h0.6M375.7 398.6h0.6M373.3 394.1h0.6M365.6 396.2h0.6M380.3 392.6h0.6M372.4 386.3h0.6M376.3 390.6h0.6M373.1 387.4h0.6M376.5 389.4h0.6M376.1 395.3h0.6M364.7 396.1h0.6M364.2 396.3h0.6M373.2 394.0h0.6M364.5 391.8h0.6M378.6 387.5h0.6M374.8 392.8h0.6M381.3 387.1h0.6M378.9 393.4h0.6M378.4 392.1h0.6M370.7 387.9h0.6M376.3 386.6h0.6M380.0 385.9h0.6M380.6 382.9h0.6M376.2 390.8h0.6M373.9 392.9h0.6M370.5 392.0h0.6M372.6 388.3h0.6M371.7 387.0h0.6M381.2 388.9h0.6M381.6 389.0h0.6M373.5 387.3h0.6M371.1 390.6h0.6M379.2 388.9h0.6M382.2 391.5h0.6M378.5 390.6h0.6M367.4 393.8h0.6M365.1 394.3h0.6M384.2 387.7h0.6M380.1 385.2h0.6M371.9 392.1h0.6M374.4 392.5h0.6M374.1 393.0h0.6M375.0 390.0h0.6M368.9 391.6h0.6M380.0 387.2h0.6M370.7 390.9h0.6M368.0 396.1h0.6M381.5 383.9h0.6M375.1 395.7h0.6M381.8 397.2h0.6M376.5 388.0h0.6M380.3 386.6h0.6M384.6 390.8h0.6M376.4 392.8h0.6M381.0 385.4h0.6M371.3 389.0h0.6M377.3 392.9h0.6M360.3 399.6h0.6M374.0 389.7h0.6M369.7 388.2h0.6M364.5 386.9h0.6M378.5 389.7h0.6M374.8 389.8h0.6M377.4 394.0h0.6M366.2 395.6h0.6M376.3 400.8h0.6M387.5 394.4h0.6M378.5 385.4h0.6M367.1 393.2h0.6M378.8 392.8h0.6M375.7 386.8h0.6M370.8 393.8h0.6M369.8 395.6h0.6M375.8 394.4h0.6M362.1 397.2h0.6M380.9 383.0h0.6M379.0 391.8h0.6M377.9 382.4h0.6M379.1 387.3h0.6M382.2 384.1h0.6M366.3 394.7h0.6M375.8 396.2h0.6M378.2 386.3h0.6M379.0 394.2h0.6M372.3 388.1h0.6M374.3 388.1h0.6M379.0 390.4h0.6M378.4 393.5h0.6M385.5 390.3h0.6M364.3 393.1h0.6M375.1 394.9h0.6M373.3 403.7h0.6M376.5 396.6h0.6M375.2 387.4h0.6M371.0 391.4h0.6M376.3 394.6h0.6M367.1 396.1h0.6M368.5 395.4h0.6M368.6 384.5h0.6M376.0 395.9h0.6M379.3 393.7h0.6M381.9 389.0h0.6M366.8 393.1h0.6M373.2 394.2h0.6M381.5 385.7h0.6M374.9 391.4h0.6M382.9 390.9h0.6M383.6 390.7h0.6M371.8 393.5h0.6M372.0 393.0h0.6M375.3 389.8h0.6M370.5 388.3h0.6M374.6 392.6h0.6M373.1 389.0h0.6M385.6 384.2h0.6M374.9 393.7h0.6M371.2 401.6h0.6M374.8 391.3h0.6M376.2 390.0h0.6M362.1 391.3h0.6M368.1 402.5h0.6M366.3 392.3h0.6M373.6 392.8h0.6M377.6 389.0h0.6M369.4 388.9h0.6M365.1 393.9h0.6M378.7 387.6h0.6M372.0 391.3h0.6M374.3 396.3h0.6M377.8 389.2h0.6M380.3 391.0h0.6M371.7 391.3h0.6M368.8 400.9h0.6M367.6 391.4h0.6M369.1 392.7h0.6M375.5 391.8h0.6M390.7 386.9h0.6M377.5 386.6h0.6M371.2 391.5h0.6M373.7 389.0h0.6M372.5 390.6h0.6M366.1 396.7h0.6M374.5 390.3h0.6M376.8 387.3h0.6M375.6 393.0h0.6M370.0 391.4h0.6M374.6 391.0h0.6M370.6 388.0h0.6M372.7 392.3h0.6M364.0 396.0h0.6M379.0 392.7h0.6M372.9 394.5h0.6M359.0 395.9h0.6M373.3 387.4h0.6M378.6 396.6h0.6M392.4 386.8h0.6M369.4 392.4h0.6M384.0 385.9h0.6M369.0 396.8h0.6M380.7 393.0h0.6M379.1 390.7h0.6M373.6 389.8h0.6M368.1 392.1h0.6M368.6 395.7h0.6M381.2 387.5h0.6M383.7 389.4h0.6M373.3 393.3h0.6M373.5 388.6h0.6M370.9 393.0h0.6M375.3 388.6h0.6M371.8 390.5h0.6M381.1 390.7h0.6M380.0 391.9h0.6M377.6 389.6h0.6M369.0 393.9h0.6M366.2 388.8h0.6M371.6 391.1h0.6M382.8 387.9h0.6M379.3 393.9h0.6M374.0 393.2h0.6M380.2 387.0h0.6M378.3 395.6h0.6M369.5 398.6h0.6M383.8 385.8h0.6M381.4 387.1h0.6M367.8 396.3h0.6M373.0 392.4h0.6M379.8 391.5h0.6M384.7 388.1h0.6M382.7 384.7h0.6M369.1 390.5h0.6M371.8 383.7h0.6M382.3 382.7h0.6M370.7 391.4h0.6M376.6 391.5h0.6M372.9 388.1h0.6M378.4 388.7h0.6M366.8 393.3h0.6M367.1 391.3h0.6M369.1 393.4h0.6M386.7 389.1h0.6M386.6 384.7h0.6M385.7 388.5h0.6M371.3 395.2h0.6M369.3 391.1h0.6M377.3 394.2h0.6M373.0 397.1h0.6M368.1 386.3h0.6M378.0 387.1h0.6M368.6 394.8h0.6M381.7 387.6h0.6M376.4 390.6h0.6M372.7 394.8h0.6M366.9 397.1h0.6M374.6 396.1h0.6M374.8 389.5h0.6M378.6 384.8h0.6M375.4 385.4h0.6M374.6 390.7h0.6M366.9 388.5h0.6M371.2 392.0h0.6M375.0 386.8h0.6M377.4 384.4h0.6M373.2 393.4h0.6M366.1 393.8h0.6M368.1 394.4h0.6M371.9 394.7h0.6M378.2 389.2h0.6M372.9 387.3h0.6M368.1 388.1h0.6M374.0 393.4h0.6M373.7 391.5h0.6M383.0 380.6h0.6M374.6 393.3h0.6M371.4 392.8h0.6M374.5 383.3h0.6M377.6 390.8h0.6M363.5 392.3h0.6M372.3 392.3h0.6M368.4 399.5h0.6M370.9 390.2h0.6M372.4 398.9h0.6M382.9 393.9h0.6M379.0 384.5h0.6M376.4 387.8h0.6M368.4 394.0h0.6M376.4 386.7h0.6M378.0 385.1h0.6M365.3 393.2h0.6M364.5 400.0h0.6M382.4 392.4h0.6M380.9 384.5h0.6M375.1 391.3h0.6M380.8 384.1h0.6M380.3 392.7h0.6M388.9 383.3h0.6M358.3 404.6h0.6M376.8 387.8h0.6M381.7 387.0h0.6M376.7 386.0h0.6M370.7 400.3h0.6M366.8 399.2h0.6M382.7 391.0h0.6M387.0 384.8h0.6M363.0 389.3h0.6M368.2 389.1h0.6M378.5 395.2h0.6M379.7 391.3h0.6M371.3 387.1h0.6M366.1 391.8h0.6M381.3 394.0h0.6M382.8 385.7h0.6M363.5 393.1h0.6M374.9 387.8h0.6M377.6 389.9h0.6M374.3 389.8h0.6M382.8 384.2h0.6M376.6 389.1h0.6M377.9 385.8h0.6M376.3 387.2h0.6M366.3 391.6h0.6M388.2 387.3h0.6M371.3 389.7h0.6M374.7 387.4h0.6M382.6 390.3h0.6M379.0 393.0h0.6M373.7 389.7h0.6M361.8 393.5h0.6M374.9 394.1h0.6M381.6 387.0h0.6M373.8 383.4h0.6M366.1 402.3h0.6M382.2 386.7h0.6M388.0 385.1h0.6M380.9 388.5h0.6M381.4 388.9h0.6M364.4 393.4h0.6M371.5 392.9h0.6M360.7 398.4h0.6M380.9 385.8h0.6M378.3 382.1h0.6M359.6 397.5h0.6M378.7 386.7h0.6M381.1 384.0h0.6M369.8 397.3h0.6M373.3 393.2h0.6M383.9 390.7h0.6M366.3 395.3h0.6M377.5 386.1h0.6M381.0 391.6h0.6M376.5 385.4h0.6M372.7 383.7h0.6M376.1 393.7h0.6M377.8 389.2h0.6M379.7 386.2h0.6M384.7 391.8h0.6M366.0 402.3h0.6M374.6 391.2h0.6M374.1 395.0h0.6M384.5 387.3h0.6M367.8 397.0h0.6M385.4 389.2h0.6M369.9 395.6h0.6M370.1 392.7h0.6M366.6 390.8h0.6M373.8 391.2h0.6M372.1 390.5h0.6M375.5 395.6h0.6M373.8 385.3h0.6M379.0 385.2h0.6M377.4 383.8h0.6M360.2 397.0h0.6M381.9 391.4h0.6M374.9 389.2h0.6M374.6 395.7h0.6M371.7 392.7h0.6M380.3 390.0h0.6M372.7 392.9h0.6M381.5 394.9h0.6M367.9 390.7h0.6M384.6 393.0h0.6M382.6 388.0h0.6M367.5 394.9h0.6M379.6 397.1h0.6M371.6 389.9h0.6M367.6 394.2h0.6M371.8 385.5h0.6M375.6 384.1h0.6M370.8 396.2h0.6M377.8 398.5h0.6M382.1 388.7h0.6M366.2 391.2h0.6M362.9 396.7h0.6M374.3 384.6h0.6M375.9 390.5h0.6M375.3 394.1h0.6M379.2 390.7h0.6M378.3 389.4h0.6M363.1 391.6h0.6M374.7 393.7h0.6M369.6 393.3h0.6M373.6 389.2h0.6M366.2 396.1h0.6M377.7 389.9h0.6M373.9 388.2h0.6M370.9 390.9h0.6M366.1 391.8h0.6M384.4 390.0h0.6M380.1 395.0h0.6M378.3 393.6h0.6M370.4 394.8h0.6M369.2 391.7h0.6M383.7 389.8h0.6M371.7 395.8h0.6M379.8 391.3h0.6M386.7 385.7h0.6M364.7 397.1h0.6M366.7 390.3h0.6M377.3 388.2h0.6M364.9 394.1h0.6M372.7 394.8h0.6M371.6 386.0h0.6M380.1 388.0h0.6M366.7 390.8h0.6M375.8 389.0h0.6M378.6 391.6h0.6M368.0 395.6h0.6M368.6 395.2h0.6M380.7 386.0h0.6M379.6 387.7h0.6M365.3 401.6h0.6M365.8 392.7h0.6M385.0 393.8h0.6M375.7 393.5h0.6M371.1 387.8h0.6M375.3 391.2h0.6M374.2 392.8h0.6M377.7 401.0h0.6M384.2 385.3h0.6M383.4 389.4h0.6M370.7 393.5h0.6M371.8 397.9h0.6M372.7 396.3h0.6M384.8 388.1h0.6M381.6 396.8h0.6M363.4 393.2h0.6M372.4 389.8h0.6M371.9 396.9h0.6M381.9 392.6h0.6M382.2 388.4h0.6M371.8 392.8h0.6M368.9 397.3h0.6M375.8 391.7h0.6M378.0 394.7h0.6M376.4 397.4h0.6M368.0 391.2h0.6M373.3 390.5h0.6M378.3 395.6h0.6M377.0 390.8h0.6M378.4 389.7h0.6M369.7 387.5h0.6M372.3 387.4h0.6M375.5 385.6h0.6M357.0 399.8h0.6M373.2 387.9h0.6M378.0 393.2h0.6M377.4 394.6h0.6M372.1 384.0h0.6M373.9 395.7h0.6M379.1 384.7h0.6M363.9 396.5h0.6M363.1 397.1h0.6M378.2 403.1h0.6M355.2 397.5h0.6M367.2 398.7h0.6M369.8 399.3h0.6M362.2 399.8h0.6M360.5 402.0h0.6M361.0 399.6h0.6M379.9 402.2h0.6M355.6 395.8h0.6M359.9 399.4h0.6M364.5 395.4h0.6M358.5 398.0h0.6M371.3 396.7h0.6M361.1 398.6h0.6M363.8 398.1h0.6M366.0 396.9h0.6M361.6 398.0h0.6M368.8 396.0h0.6M357.9 399.9h0.6M365.8 398.9h0.6M371.5 400.3h0.6M372.6 393.8h0.6M358.6 393.8h0.6M357.2 397.1h0.6M378.9 396.3h0.6M372.1 398.0h0.6M354.7 397.7h0.6M372.3 392.7h0.6M368.4 396.4h0.6M369.7 397.2h0.6M376.0 398.0h0.6M365.8 396.2h0.6M370.5 395.8h0.6M363.9 398.3h0.6M376.0 397.6h0.6M370.6 395.6h0.6M374.5 396.8h0.6M369.6 398.1h0.6M358.8 396.5h0.6M366.5 396.9h0.6M366.3 397.5h0.6M368.6 398.1h0.6M361.6 396.2h0.6M363.1 398.2h0.6M363.0 399.6h0.6M359.4 398.9h0.6M368.2 397.3h0.6M362.3 398.8h0.6M374.8 399.8h0.6M363.3 395.0h0.6M355.6 400.4h0.6M367.3 398.9h0.6M373.7 394.9h0.6M373.7 398.6h0.6M361.9 398.1h0.6M364.0 400.4h0.6M364.5 397.2h0.6M369.3 401.2h0.6M363.5 395.4h0.6M350.0 398.2h0.6M372.7 395.9h0.6M370.0 398.3h0.6M359.5 400.1h0.6M365.4 398.8h0.6M363.5 394.2h0.6M360.4 396.7h0.6M367.6 397.6h0.6M359.4 394.5h0.6M365.4 400.8h0.6M370.4 397.9h0.6M371.6 395.1h0.6M377.7 399.2h0.6M367.3 396.3h0.6M369.8 398.0h0.6M370.0 394.1h0.6M362.9 395.8h0.6M354.9 396.6h0.6M360.4 397.7h0.6M355.5 398.5h0.6M367.0 400.1h0.6M375.7 399.2h0.6M370.8 401.6h0.6M380.4 397.6h0.6M368.7 396.4h0.6M382.2 392.6h0.6M378.1 396.3h0.6M371.2 393.7h0.6M377.8 399.4h0.6M364.1 398.6h0.6M359.7 396.3h0.6M369.8 398.7h0.6M376.3 395.3h0.6M371.1 395.2h0.6M371.5 397.4h0.6M367.4 398.1h0.6M363.5 397.7h0.6M370.9 398.9h0.6M371.5 393.5h0.6M364.2 397.0h0.6M374.9 393.7h0.6M377.6 399.2h0.6M354.8 392.9h0.6M369.5 398.0h0.6M358.8 397.3h0.6M364.5 395.7h0.6M367.5 394.6h0.6M371.2 393.8h0.6M370.4 396.8h0.6M371.3 399.2h0.6M368.6 393.6h0.6M362.5 397.4h0.6M369.2 399.6h0.6M364.8 399.9h0.6M370.7 398.0h0.6M366.4 402.0h0.6M367.5 397.7h0.6M356.9 398.3h0.6M369.0 393.9h0.6M363.9 395.3h0.6M368.3 397.5h0.6M364.6 402.2h0.6M378.1 399.6h0.6M374.8 398.1h0.6M379.7 395.7h0.6M363.6 400.9h0.6M370.0 397.9h0.6M366.1 400.4h0.6M362.6 394.1h0.6M370.3 398.1h0.6M362.6 399.3h0.6M380.7 396.9h0.6M366.2 398.8h0.6M371.3 398.2h0.6M364.6 397.0h0.6M366.1 398.4h0.6M364.5 398.5h0.6M375.4 393.6h0.6M373.6 397.1h0.6M370.0 398.5h0.6M363.7 393.7h0.6M367.6 396.0h0.6M370.8 394.1h0.6M361.9 398.4h0.6M369.6 397.4h0.6M356.4 396.0h0.6M363.5 395.6h0.6M363.9 397.9h0.6M365.3 392.7h0.6M377.7 399.5h0.6M358.4 395.8h0.6M368.2 397.6h0.6M364.0 397.6h0.6M360.6 397.4h0.6M362.9 392.0h0.6M358.3 398.6h0.6M368.7 401.1h0.6M369.3 394.6h0.6M359.7 396.4h0.6M403.3 382.7h0.6M405.5 376.9h0.6M414.9 379.6h0.6M393.8 380.6h0.6M397.2 378.1h0.6M406.0 362.3h0.6M397.7 366.0h0.6M401.5 384.9h0.6M389.6 374.9h0.6M395.2 380.7h0.6M406.1 361.9h0.6M373.6 392.9h0.6M402.8 368.7h0.6M380.1 366.8h0.6M418.8 379.8h0.6M409.3 381.1h0.6M412.5 371.2h0.6M412.8 393.6h0.6M392.7 384.0h0.6M400.3 392.6h0.6M392.5 370.1h0.6M404.2 387.7h0.6M397.6 379.7h0.6M403.8 400.6h0.6M395.8 382.7h0.6M400.9 363.3h0.6M393.0 370.7h0.6M395.4 359.6h0.6M393.6 409.1h0.6M397.7 408.6h0.6M403.5 354.5h0.6M408.7 370.4h0.6M392.8 391.9h0.6M406.2 365.2h0.6M393.0 369.5h0.6M411.4 370.5h0.6M399.6 369.2h0.6M393.0 364.7h0.6M398.6 367.7h0.6M406.2 371.8h0.6M400.0 369.0h0.6M403.8 371.9h0.6M399.6 373.9h0.6M417.6 374.7h0.6M408.1 378.5h0.6M402.1 372.8h0.6M403.2 366.6h0.6M418.1 376.5h0.6M402.9 376.5h0.6M401.8 354.7h0.6M392.2 353.3h0.6M407.8 373.4h0.6M395.2 383.8h0.6M398.6 357.7h0.6M418.1 393.7h0.6M393.2 356.5h0.6M408.2 359.8h0.6M396.2 380.9h0.6M387.9 376.7h0.6M394.5 387.7h0.6M422.3 392.2h0.6M400.1 366.4h0.6M405.8 354.4h0.6M407.1 379.7h0.6M393.0 368.4h0.6M398.4 406.8h0.6M418.6 394.3h0.6M400.0 405.8h0.6M403.7 388.1h0.6M401.4 374.4h0.6M395.5 362.6h0.6M407.7 403.6h0.6M419.6 371.3h0.6M422.4 352.1h0.6M395.5 402.7h0.6M430.2 385.4h0.6M402.5 377.7h0.6M424.2 401.4h0.6M399.4 405.3h0.6M415.0 366.1h0.6M418.3 392.0h0.6M410.4 369.0h0.6M408.8 380.7h0.6M413.6 372.9h0.6M404.1 391.7h0.6M412.0 408.7h0.6M398.5 401.4h0.6M416.6 368.7h0.6M427.2 385.8h0.6M426.0 371.3h0.6M393.4 398.9h0.6M428.7 366.9h0.6M399.7 366.0h0.6M404.9 378.4h0.6M417.9 385.4h0.6M418.9 389.6h0.6M402.5 354.7h0.6M424.2 375.5h0.6M430.0 376.5h0.6M430.9 375.3h0.6M416.6 394.9h0.6M429.8 352.4h0.6M422.0 409.2h0.6M396.8 372.9h0.6M406.6 360.4h0.6M409.1 368.3h0.6M410.3 354.8h0.6M399.5 367.5h0.6M407.1 382.0h0.6M412.8 352.0h0.6M419.9 407.2h0.6M413.7 385.2h0.6M393.4 371.5h0.6M414.2 382.0h0.6M421.9 360.0h0.6M430.2 380.9h0.6M400.3 365.0h0.6M407.1 354.5h0.6M397.6 357.9h0.6M429.2 399.8h0.6M417.4 363.8h0.6M415.0 395.4h0.6M406.2 371.6h0.6M404.5 375.6h0.6M421.7 389.1h0.6M406.3 361.5h0.6M429.7 370.1h0.6M424.4 374.3h0.6M423.2 363.5h0.6M419.3 387.7h0.6M398.6 401.8h0.6M414.1 389.5h0.6M413.0 399.6h0.6M400.6 364.8h0.6M425.0 384.1h0.6M405.1 362.2h0.6M430.4 399.5h0.6M416.5 369.2h0.6M409.3 393.8h0.6M422.0 362.6h0.6M409.1 367.5h0.6M429.9 356.3h0.6M404.8 383.3h0.6M415.7 381.5h0.6M397.1 359.6h0.6M413.7 368.9h0.6M401.5 406.2h0.6M412.8 386.5h0.6M409.1 407.3h0.6M393.0 363.5h0.6M411.5 364.0h0.6M400.6 378.3h0.6M399.5 380.3h0.6M405.6 372.7h0.6M414.0 353.1h0.6M405.8 383.5h0.6M391.7 368.2h0.6M412.2 357.0h0.6M423.2 366.4h0.6M407.1 375.6h0.6M388.7 372.1h0.6M405.8 378.8h0.6M421.5 384.5h0.6M401.4 356.6h0.6M407.4 387.0h0.6M401.3 380.5h0.6M407.9 379.5h0.6M384.5 382.1h0.6M396.8 365.3h0.6M400.3 379.4h0.6M408.1 374.4h0.6M404.8 368.7h0.6M396.1 382.8h0.6M400.7 368.0h0.6M392.7 362.5h0.6M395.6 370.2h0.6M398.6 353.0h0.6M406.4 363.9h0.6M419.0 359.2h0.6M400.7 404.4h0.6M398.8 380.9h0.6M404.2 361.1h0.6M382.8 395.1h0.6M409.7 372.6h0.6M412.4 359.5h0.6M395.3 363.0h0.6M398.6 372.4h0.6M419.5 366.2h0.6M404.2 367.8h0.6M399.2 397.7h0.6M397.4 372.5h0.6M418.6 376.6h0.6M402.7 376.4h0.6M396.6 391.8h0.6M407.0 393.7h0.6M419.9 368.9h0.6M394.5 371.0h0.6M387.3 374.8h0.6M418.0 383.4h0.6M404.0 381.9h0.6M414.1 380.6h0.6M411.3 365.4h0.6M392.3 366.7h0.6M389.5 372.5h0.6M414.9 362.1h0.6M398.4 355.8h0.6M407.0 372.4h0.6M393.9 378.0h0.6M410.8 358.7h0.6M396.5 391.4h0.6M394.5 390.3h0.6M413.6 368.0h0.6M402.4 383.9h0.6M413.5 367.7h0.6M391.9 385.7h0.6M413.0 360.8h0.6M416.8 362.5h0.6M409.8 369.1h0.6M401.3 380.5h0.6M395.7 380.0h0.6M404.9 391.7h0.6M393.8 389.1h0.6M405.5 365.8h0.6M401.0 403.9h0.6M402.1 356.1h0.6M406.0 382.9h0.6M395.1 370.9h0.6M403.8 354.7h0.6M404.7 404.0h0.6M389.6 395.3h0.6M417.4 377.1h0.6M401.6 373.5h0.6M402.1 360.4h0.6M410.6 374.7h0.6M386.1 363.6h0.6M420.8 368.1h0.6M418.4 370.6h0.6M399.4 363.2h0.6M408.7 380.6h0.6M408.6 385.6h0.6M394.9 362.6h0.6M405.6 368.3h0.6M406.6 370.9h0.6M417.8 363.9h0.6M383.8 403.8h0.6M400.6 366.9h0.6M394.4 354.6h0.6M416.1 367.5h0.6M394.8 369.0h0.6M394.5 373.3h0.6M395.9 361.2h0.6M404.8 364.4h0.6M406.2 396.6h0.6M407.2 361.4h0.6M400.3 362.1h0.6M402.8 395.2h0.6M396.3 377.9h0.6M397.1 364.3h0.6M397.6 358.2h0.6M393.7 383.3h0.6M403.7 366.2h0.6M403.8 370.6h0.6M400.3 367.8h0.6M401.3 366.4h0.6M418.3 356.0h0.6M419.9 376.8h0.6M399.6 366.1h0.6M402.8 366.4h0.6M393.5 370.7h0.6M404.4 373.6h0.6M410.3 376.5h0.6M398.1 371.8h0.6M412.5 370.9h0.6M390.9 393.1h0.6M410.3 383.7h0.6M417.5 369.2h0.6M393.4 380.4h0.6M408.5 352.4h0.6M418.3 355.1h0.6M399.8 372.6h0.6M404.3 360.2h0.6M403.0 375.3h0.6M391.3 389.3h0.6M403.5 391.9h0.6M419.4 364.8h0.6M402.8 366.5h0.6M415.9 355.3h0.6M402.3 382.9h0.6M382.2 380.7h0.6M393.2 378.8h0.6M406.0 395.4h0.6M416.5 367.8h0.6M399.8 378.4h0.6M417.2 356.0h0.6M403.0 385.5h0.6M401.5 354.8h0.6M390.3 390.0h0.6M392.6 357.0h0.6M397.2 375.1h0.6M402.6 361.9h0.6M419.6 368.9h0.6M419.6 379.5h0.6M413.6 353.3h0.6M404.7 376.2h0.6M408.1 358.1h0.6M415.4 377.7h0.6M391.0 387.7h0.6M402.6 374.1h0.6M411.2 353.9h0.6M394.4 381.5h0.6M408.2 369.5h0.6M407.0 352.3h0.6M406.2 387.4h0.6M399.9 377.0h0.6" stroke="#000" stroke-width="0.6" fill="none" opacity="0.8"/>
<ellipse cx="377" cy="372.5" rx="7" ry="5" fill="#000" opacity="0.25" filter="url(#b1)"/>
<polyline points="376.2,413.3 406.7,351.6 432.3,351.6" fill="none" stroke="#333" stroke-width="0.9"/>
<text x="398.2" y="392" font-size="8.6" font-weight="normal" text-anchor="start" fill="#222" >5.81%</text>
<rect x="115.30" y="473.20" width="90.60" height="62.10" fill="none" stroke="#444" stroke-width="0.8" />
<line x1="115.3" y1="473.2" x2="115.3" y2="535.3" stroke="#333" stroke-width="1.4" />
<line x1="115.3" y1="535.3" x2="205.9" y2="535.3" stroke="#333" stroke-width="1.4" />
<line x1="113.1" y1="535.30" x2="115.3" y2="535.30" stroke="#333" stroke-width="0.9799999999999999" />
<text x="111.70" y="537.06" font-size="4.9" font-weight="normal" text-anchor="end" fill="#222" >0</text>
<line x1="114.1" y1="531.42" x2="115.3" y2="531.42" stroke="#555" stroke-width="0.5" />
<line x1="114.1" y1="527.54" x2="115.3" y2="527.54" stroke="#555" stroke-width="0.5" />
<line x1="114.1" y1="523.66" x2="115.3" y2="523.66" stroke="#555" stroke-width="0.5" />
<line x1="113.1" y1="519.77" x2="115.3" y2="519.77" stroke="#333" stroke-width="0.9799999999999999" />
<text x="111.70" y="521.54" font-size="4.9" font-weight="normal" text-anchor="end" fill="#222" >256</text>
<line x1="114.1" y1="515.89" x2="115.3" y2="515.89" stroke="#555" stroke-width="0.5" />
<line x1="114.1" y1="512.01" x2="115.3" y2="512.01" stroke="#555" stroke-width="0.5" />
<line x1="114.1" y1="508.13" x2="115.3" y2="508.13" stroke="#555" stroke-width="0.5" />
<line x1="113.1" y1="504.25" x2="115.3" y2="504.25" stroke="#333" stroke-width="0.9799999999999999" />
<text x="111.70" y="506.01" font-size="4.9" font-weight="normal" text-anchor="end" fill="#222" >512</text>
<line x1="114.1" y1="500.37" x2="115.3" y2="500.37" stroke="#555" stroke-width="0.5" />
<line x1="114.1" y1="496.49" x2="115.3" y2="496.49" stroke="#555" stroke-width="0.5" />
<line x1="114.1" y1="492.61" x2="115.3" y2="492.61" stroke="#555" stroke-width="0.5" />
<line x1="113.1" y1="488.72" x2="115.3" y2="488.72" stroke="#333" stroke-width="0.9799999999999999" />
<text x="111.70" y="490.49" font-size="4.9" font-weight="normal" text-anchor="end" fill="#222" >768</text>
<line x1="114.1" y1="484.84" x2="115.3" y2="484.84" stroke="#555" stroke-width="0.5" />
<line x1="114.1" y1="480.96" x2="115.3" y2="480.96" stroke="#555" stroke-width="0.5" />
<line x1="114.1" y1="477.08" x2="115.3" y2="477.08" stroke="#555" stroke-width="0.5" />
<line x1="113.1" y1="473.20" x2="115.3" y2="473.20" stroke="#333" stroke-width="0.9799999999999999" />
<text x="111.70" y="474.96" font-size="4.9" font-weight="normal" text-anchor="end" fill="#222" >1024</text>
<line x1="115.30" y1="535.3" x2="115.30" y2="537.5" stroke="#333" stroke-width="0.9799999999999999" />
<text transform="translate(114.50,546.30) scale(1.0,1.0)" font-size="4.6" text-anchor="middle" fill="#111">10<tspan font-size="3.22" dx="0.6" dy="-2.07">0</tspan></text>
<line x1="122.12" y1="535.3" x2="122.12" y2="536.5" stroke="#666" stroke-width="0.45" />
<line x1="126.11" y1="535.3" x2="126.11" y2="536.5" stroke="#666" stroke-width="0.45" />
<line x1="128.94" y1="535.3" x2="128.94" y2="536.5" stroke="#666" stroke-width="0.45" />
<line x1="131.13" y1="535.3" x2="131.13" y2="536.5" stroke="#666" stroke-width="0.45" />
<line x1="132.93" y1="535.3" x2="132.93" y2="536.5" stroke="#666" stroke-width="0.45" />
<line x1="134.44" y1="535.3" x2="134.44" y2="536.5" stroke="#666" stroke-width="0.45" />
<line x1="135.75" y1="535.3" x2="135.75" y2="536.5" stroke="#666" stroke-width="0.45" />
<line x1="136.91" y1="535.3" x2="136.91" y2="536.5" stroke="#666" stroke-width="0.45" />
<line x1="137.95" y1="535.3" x2="137.95" y2="537.5" stroke="#333" stroke-width="0.9799999999999999" />
<text transform="translate(137.15,546.30) scale(1.0,1.0)" font-size="4.6" text-anchor="middle" fill="#111">10<tspan font-size="3.22" dx="0.6" dy="-2.07">1</tspan></text>
<line x1="144.77" y1="535.3" x2="144.77" y2="536.5" stroke="#666" stroke-width="0.45" />
<line x1="148.76" y1="535.3" x2="148.76" y2="536.5" stroke="#666" stroke-width="0.45" />
<line x1="151.59" y1="535.3" x2="151.59" y2="536.5" stroke="#666" stroke-width="0.45" />
<line x1="153.78" y1="535.3" x2="153.78" y2="536.5" stroke="#666" stroke-width="0.45" />
<line x1="155.58" y1="535.3" x2="155.58" y2="536.5" stroke="#666" stroke-width="0.45" />
<line x1="157.09" y1="535.3" x2="157.09" y2="536.5" stroke="#666" stroke-width="0.45" />
<line x1="158.40" y1="535.3" x2="158.40" y2="536.5" stroke="#666" stroke-width="0.45" />
<line x1="159.56" y1="535.3" x2="159.56" y2="536.5" stroke="#666" stroke-width="0.45" />
<line x1="160.60" y1="535.3" x2="160.60" y2="537.5" stroke="#333" stroke-width="0.9799999999999999" />
<text transform="translate(159.80,546.30) scale(1.0,1.0)" font-size="4.6" text-anchor="middle" fill="#111">10<tspan font-size="3.22" dx="0.6" dy="-2.07">2</tspan></text>
<line x1="167.42" y1="535.3" x2="167.42" y2="536.5" stroke="#666" stroke-width="0.45" />
<line x1="171.41" y1="535.3" x2="171.41" y2="536.5" stroke="#666" stroke-width="0.45" />
<line x1="174.24" y1="535.3" x2="174.24" y2="536.5" stroke="#666" stroke-width="0.45" />
<line x1="176.43" y1="535.3" x2="176.43" y2="536.5" stroke="#666" stroke-width="0.45" />
<line x1="178.23" y1="535.3" x2="178.23" y2="536.5" stroke="#666" stroke-width="0.45" />
<line x1="179.74" y1="535.3" x2="179.74" y2="536.5" stroke="#666" stroke-width="0.45" />
<line x1="181.05" y1="535.3" x2="181.05" y2="536.5" stroke="#666" stroke-width="0.45" />
<line x1="182.21" y1="535.3" x2="182.21" y2="536.5" stroke="#666" stroke-width="0.45" />
<line x1="183.25" y1="535.3" x2="183.25" y2="537.5" stroke="#333" stroke-width="0.9799999999999999" />
<text transform="translate(182.45,546.30) scale(1.0,1.0)" font-size="4.6" text-anchor="middle" fill="#111">10<tspan font-size="3.22" dx="0.6" dy="-2.07">3</tspan></text>
<line x1="190.07" y1="535.3" x2="190.07" y2="536.5" stroke="#666" stroke-width="0.45" />
<line x1="194.06" y1="535.3" x2="194.06" y2="536.5" stroke="#666" stroke-width="0.45" />
<line x1="196.89" y1="535.3" x2="196.89" y2="536.5" stroke="#666" stroke-width="0.45" />
<line x1="199.08" y1="535.3" x2="199.08" y2="536.5" stroke="#666" stroke-width="0.45" />
<line x1="200.88" y1="535.3" x2="200.88" y2="536.5" stroke="#666" stroke-width="0.45" />
<line x1="202.39" y1="535.3" x2="202.39" y2="536.5" stroke="#666" stroke-width="0.45" />
<line x1="203.70" y1="535.3" x2="203.70" y2="536.5" stroke="#666" stroke-width="0.45" />
<line x1="204.86" y1="535.3" x2="204.86" y2="536.5" stroke="#666" stroke-width="0.45" />
<line x1="205.90" y1="535.3" x2="205.90" y2="537.5" stroke="#333" stroke-width="0.9799999999999999" />
<text transform="translate(205.10,546.30) scale(1.0,1.0)" font-size="4.6" text-anchor="middle" fill="#111">10<tspan font-size="3.22" dx="0.6" dy="-2.07">4</tspan></text>
<text transform="translate(98,507.65) rotate(-90)" font-size="7.3" font-weight="bold" text-anchor="middle" fill="#111">FSC-H</text>
<text x="157.10" y="553.60" font-size="7.0" font-weight="bold" text-anchor="middle" fill="#111" stroke="none">FL1-H</text>
<path d="M127.3 503.5h0.6M128.3 498.8h0.6M123.3 486.4h0.6M131.5 492.0h0.6M121.4 505.3h0.6M125.4 492.4h0.6M129.2 488.0h0.6M127.5 484.8h0.6M125.6 492.8h0.6M128.0 489.7h0.6M122.4 496.7h0.6M127.4 499.0h0.6M120.2 497.7h0.6M121.5 499.5h0.6M127.8 500.9h0.6M127.3 485.8h0.6M123.9 497.9h0.6M121.2 503.1h0.6M123.8 498.7h0.6M122.5 492.6h0.6M129.3 494.6h0.6M132.0 495.6h0.6M121.8 491.3h0.6M125.7 499.6h0.6M125.8 491.6h0.6M126.3 495.0h0.6M125.7 498.6h0.6M127.3 489.4h0.6M117.6 496.7h0.6M122.9 493.3h0.6M122.5 497.3h0.6M123.3 497.8h0.6M120.5 515.2h0.6M122.8 499.0h0.6M123.1 498.6h0.6M126.0 490.7h0.6M125.5 483.6h0.6M121.0 498.1h0.6M120.6 486.1h0.6M119.3 499.8h0.6M122.6 491.7h0.6M122.5 491.4h0.6M122.6 506.4h0.6M126.7 486.1h0.6M124.9 501.7h0.6M127.0 495.5h0.6M125.3 500.4h0.6M125.7 499.0h0.6M127.4 500.6h0.6M127.6 496.5h0.6M132.3 484.3h0.6M124.3 502.4h0.6M122.8 491.9h0.6M118.9 497.3h0.6M127.6 490.6h0.6M129.8 490.7h0.6M124.6 491.9h0.6M123.4 493.1h0.6M121.5 503.3h0.6M124.4 503.9h0.6M116.6 495.7h0.6M126.8 492.3h0.6M121.9 489.5h0.6M126.0 495.1h0.6M129.9 494.1h0.6M119.0 504.2h0.6M123.2 506.8h0.6M121.4 496.6h0.6M121.2 490.5h0.6M127.3 495.4h0.6M127.2 490.6h0.6M126.2 491.1h0.6M125.9 503.6h0.6M123.2 495.6h0.6M125.1 501.6h0.6M127.0 493.9h0.6M127.1 491.8h0.6M123.2 498.4h0.6M125.8 495.8h0.6M122.4 491.9h0.6M119.9 488.6h0.6M130.4 497.8h0.6M124.6 498.2h0.6M124.4 500.1h0.6M122.1 503.1h0.6M124.8 493.6h0.6M122.8 500.4h0.6M126.7 489.3h0.6M129.0 487.8h0.6M122.8 497.9h0.6M121.8 503.2h0.6M124.2 496.1h0.6M124.9 496.3h0.6M123.1 500.5h0.6M120.0 492.6h0.6M125.4 496.6h0.6M124.7 501.6h0.6M124.2 493.4h0.6M122.5 505.0h0.6M124.5 490.8h0.6M123.7 497.9h0.6M121.7 490.7h0.6M124.7 495.8h0.6M123.7 504.4h0.6M125.5 499.1h0.6M123.7 495.3h0.6M125.8 498.2h0.6M119.6 500.4h0.6M124.3 493.9h0.6M119.4 506.9h0.6M129.3 496.1h0.6M124.2 502.2h0.6M125.9 495.5h0.6M123.5 493.7h0.6M125.1 496.8h0.6M125.1 501.3h0.6M123.4 499.8h0.6M119.6 502.0h0.6M121.7 496.3h0.6M125.2 493.5h0.6M126.3 493.8h0.6M123.1 494.0h0.6M122.1 502.7h0.6M124.1 502.5h0.6M122.4 505.4h0.6M125.8 491.8h0.6M118.0 499.5h0.6M120.5 503.8h0.6M127.1 491.7h0.6M124.8 498.6h0.6M131.5 495.2h0.6M121.1 503.4h0.6M128.3 493.6h0.6M125.1 494.6h0.6M129.6 492.5h0.6M129.1 495.1h0.6M121.4 499.5h0.6M122.2 498.6h0.6M122.8 499.4h0.6M132.0 505.4h0.6M126.4 498.0h0.6M120.8 501.3h0.6M119.0 498.6h0.6M125.9 497.9h0.6M125.3 497.5h0.6M123.0 499.7h0.6M125.3 500.7h0.6M119.1 508.1h0.6M124.9 499.7h0.6M125.6 495.7h0.6M125.7 495.0h0.6M122.3 492.3h0.6M125.0 488.8h0.6M123.1 497.4h0.6M117.2 500.0h0.6M117.0 503.3h0.6M127.0 495.0h0.6M121.1 503.5h0.6M126.6 497.8h0.6M121.7 497.9h0.6M126.0 492.6h0.6M128.7 497.4h0.6M131.6 495.0h0.6M123.7 492.6h0.6M129.7 494.8h0.6M125.8 494.5h0.6M116.7 500.7h0.6M126.2 497.4h0.6M128.3 488.0h0.6M123.6 498.9h0.6M124.2 495.2h0.6M122.1 502.4h0.6M122.0 489.6h0.6M128.0 496.9h0.6M123.7 489.0h0.6M122.4 499.5h0.6M126.2 496.9h0.6M122.4 504.5h0.6M125.3 501.8h0.6M123.0 497.1h0.6M125.5 491.6h0.6M123.6 500.4h0.6M118.9 500.1h0.6M127.5 490.5h0.6M126.9 495.6h0.6M124.5 499.7h0.6M122.8 497.0h0.6M128.3 495.0h0.6M121.5 500.1h0.6M125.5 492.3h0.6M126.0 505.1h0.6M126.3 487.7h0.6M123.7 495.9h0.6M123.2 503.0h0.6M130.3 490.9h0.6M121.8 497.7h0.6M118.7 494.5h0.6M119.6 495.2h0.6M124.4 497.2h0.6M121.8 495.2h0.6M126.7 487.9h0.6M127.7 487.2h0.6M118.6 497.5h0.6M118.7 499.5h0.6M123.3 500.7h0.6M124.8 494.1h0.6M120.3 495.5h0.6M122.6 496.5h0.6M118.4 509.7h0.6M126.2 497.2h0.6M128.5 496.9h0.6M124.9 495.6h0.6M125.5 496.8h0.6M126.2 495.9h0.6M128.2 495.3h0.6M127.6 490.8h0.6M126.5 499.4h0.6M127.2 493.9h0.6M120.3 502.8h0.6M126.1 492.2h0.6M122.2 496.1h0.6M126.0 494.6h0.6M124.7 491.9h0.6M124.8 493.4h0.6M126.4 489.5h0.6M125.3 502.5h0.6M123.6 496.7h0.6M130.5 496.3h0.6M125.0 489.4h0.6M126.1 493.0h0.6M123.8 498.1h0.6M122.8 492.9h0.6M122.2 498.3h0.6M124.8 495.4h0.6M124.6 497.5h0.6M126.5 489.7h0.6M123.2 496.7h0.6M128.4 487.7h0.6M127.5 498.3h0.6M117.1 500.0h0.6M119.9 503.4h0.6M123.0 492.9h0.6M124.8 496.7h0.6M126.0 500.3h0.6M125.6 491.8h0.6M123.5 492.6h0.6M129.5 493.4h0.6M120.4 501.9h0.6M123.0 495.7h0.6M122.2 489.8h0.6M124.8 500.5h0.6M125.4 503.8h0.6M124.4 496.5h0.6M125.8 502.0h0.6M124.3 504.3h0.6M128.2 492.8h0.6M122.6 495.3h0.6M122.7 493.3h0.6M126.0 493.6h0.6M125.4 492.6h0.6M125.6 495.1h0.6M124.4 489.1h0.6M120.2 500.3h0.6M125.3 498.9h0.6M122.1 490.3h0.6M126.6 491.8h0.6M125.4 496.0h0.6M124.6 495.4h0.6M123.0 499.7h0.6M127.3 498.5h0.6M124.2 504.9h0.6M119.9 507.3h0.6M127.4 492.2h0.6M130.1 495.0h0.6M127.3 498.1h0.6M125.4 498.3h0.6M121.9 494.8h0.6M123.4 490.0h0.6M126.7 495.1h0.6M127.0 499.3h0.6M124.7 498.8h0.6M127.5 495.7h0.6M130.1 489.7h0.6M124.7 495.6h0.6M126.5 491.5h0.6M126.1 501.6h0.6M126.5 493.5h0.6M128.5 485.6h0.6M122.6 495.3h0.6M121.2 499.6h0.6M123.1 495.5h0.6M122.6 492.6h0.6M122.3 495.9h0.6M126.7 489.8h0.6M127.1 502.1h0.6M121.7 496.4h0.6M117.6 499.0h0.6M118.3 497.9h0.6M124.0 496.6h0.6M124.0 497.1h0.6M120.8 496.6h0.6M124.5 502.0h0.6M127.1 497.3h0.6M124.3 497.5h0.6M126.0 493.6h0.6M118.1 500.1h0.6M125.8 498.8h0.6M122.5 493.1h0.6M124.6 494.8h0.6M119.5 498.6h0.6M121.9 495.5h0.6M121.6 497.1h0.6M121.1 492.3h0.6M124.6 496.8h0.6M123.5 501.5h0.6M123.9 494.6h0.6M127.8 491.7h0.6M125.8 491.5h0.6M125.4 492.8h0.6M126.3 495.6h0.6M124.9 488.6h0.6M127.7 497.2h0.6M125.9 498.5h0.6M123.2 493.6h0.6M123.5 500.0h0.6M126.3 489.4h0.6M122.0 501.8h0.6M124.4 495.3h0.6M124.3 495.4h0.6M123.6 498.9h0.6M123.9 505.0h0.6M125.7 494.1h0.6M127.5 493.1h0.6M129.9 493.1h0.6M125.7 497.7h0.6M126.5 501.1h0.6M127.2 497.7h0.6M119.6 507.6h0.6M120.5 490.3h0.6M126.7 496.5h0.6M125.6 489.7h0.6M122.8 497.7h0.6M126.6 487.8h0.6M122.3 500.3h0.6M120.8 501.7h0.6M125.4 499.4h0.6M125.5 495.1h0.6M126.4 499.2h0.6M132.8 498.0h0.6M123.0 489.9h0.6M126.9 488.4h0.6M122.6 500.4h0.6M124.0 492.1h0.6M124.3 507.3h0.6M129.1 492.4h0.6M123.7 487.2h0.6M119.2 489.8h0.6M128.3 488.5h0.6M124.7 494.8h0.6M127.8 486.9h0.6M123.4 498.5h0.6M120.8 509.4h0.6M121.9 492.3h0.6M127.8 493.5h0.6M121.8 497.5h0.6M126.0 492.2h0.6M127.8 490.9h0.6M119.0 505.6h0.6M128.6 493.0h0.6M125.2 498.8h0.6M125.1 497.0h0.6M124.5 490.6h0.6M127.3 494.7h0.6M123.1 499.7h0.6M127.2 493.9h0.6M125.0 496.4h0.6M125.9 494.8h0.6M122.9 492.9h0.6M128.3 493.7h0.6M126.5 496.8h0.6M122.4 498.2h0.6M124.6 500.8h0.6M123.6 489.8h0.6M125.7 492.3h0.6M126.9 503.4h0.6M119.0 499.8h0.6M125.9 489.3h0.6M127.6 501.9h0.6M125.8 497.0h0.6M124.1 487.7h0.6M126.7 492.8h0.6M121.6 494.0h0.6M122.7 501.7h0.6M122.3 489.8h0.6M121.0 495.4h0.6M125.3 488.9h0.6M125.2 500.1h0.6M125.6 497.9h0.6M127.0 498.9h0.6M123.1 495.0h0.6M124.5 500.5h0.6M120.7 497.8h0.6M121.3 490.7h0.6M120.0 494.6h0.6M127.2 497.3h0.6M125.3 493.0h0.6M121.2 502.5h0.6M123.0 493.0h0.6M120.9 503.6h0.6M118.2 496.2h0.6M127.3 489.6h0.6M125.4 501.7h0.6M129.0 488.7h0.6M124.0 489.8h0.6M124.0 488.8h0.6M122.5 490.2h0.6M122.1 494.0h0.6M122.8 493.4h0.6M121.9 500.3h0.6M123.2 487.4h0.6M125.1 494.8h0.6M122.6 492.0h0.6M129.7 489.5h0.6M123.3 496.2h0.6M127.8 499.0h0.6M129.6 489.5h0.6M122.9 495.8h0.6M128.2 497.9h0.6M126.0 487.2h0.6M121.2 495.7h0.6M123.2 498.4h0.6M122.2 490.6h0.6M125.3 496.9h0.6M122.3 498.6h0.6M124.1 504.9h0.6M123.3 497.3h0.6M123.1 499.3h0.6M123.9 491.4h0.6M123.0 490.0h0.6M123.3 491.1h0.6M126.2 501.8h0.6M130.9 490.2h0.6M122.4 489.8h0.6M124.3 496.7h0.6M123.3 497.1h0.6M122.6 496.8h0.6M125.5 501.8h0.6M124.7 497.2h0.6M128.5 493.9h0.6M127.8 492.5h0.6M122.7 496.1h0.6M119.8 498.1h0.6M125.2 496.9h0.6M127.0 484.8h0.6M126.3 488.3h0.6M124.7 491.7h0.6M124.2 494.5h0.6M124.2 488.6h0.6M123.6 499.7h0.6M124.8 491.4h0.6M125.9 491.0h0.6M123.3 496.7h0.6M120.4 506.1h0.6M125.4 502.1h0.6M122.3 490.6h0.6M125.0 500.4h0.6M123.1 492.9h0.6M119.1 499.4h0.6M123.6 497.9h0.6M124.2 494.1h0.6M126.6 487.9h0.6M126.0 490.8h0.6M125.3 488.8h0.6M125.3 499.9h0.6M128.0 496.2h0.6M121.4 491.5h0.6M129.4 492.5h0.6M129.2 494.1h0.6M125.1 502.1h0.6M122.2 498.9h0.6M128.7 495.4h0.6M123.5 493.5h0.6M125.1 495.6h0.6M124.4 503.9h0.6M125.3 504.4h0.6M123.2 491.1h0.6M126.0 501.3h0.6M125.1 502.4h0.6M123.5 502.4h0.6M126.7 497.2h0.6M125.9 493.2h0.6M123.2 496.6h0.6M123.5 499.4h0.6M126.4 496.8h0.6M120.1 502.2h0.6M125.2 496.6h0.6M125.0 498.8h0.6M120.5 497.6h0.6M123.1 501.6h0.6M128.9 495.1h0.6M126.6 493.4h0.6M121.7 501.9h0.6M123.7 498.6h0.6M123.4 494.0h0.6M122.5 498.2h0.6M122.3 498.7h0.6M124.1 497.1h0.6M123.3 496.1h0.6M129.2 505.7h0.6M130.0 491.4h0.6M125.1 496.6h0.6M123.9 487.6h0.6M120.2 505.7h0.6M122.5 491.3h0.6M122.5 497.9h0.6M125.1 497.3h0.6M129.8 492.4h0.6M123.2 496.9h0.6M128.9 499.6h0.6M125.1 494.0h0.6M125.5 492.9h0.6M124.4 501.3h0.6M116.9 497.2h0.6M122.1 496.9h0.6M123.7 493.7h0.6M126.0 492.7h0.6M121.7 497.3h0.6M123.3 488.4h0.6M121.0 498.2h0.6M123.6 503.7h0.6M122.1 493.7h0.6M126.8 502.6h0.6M121.8 497.5h0.6M121.5 499.4h0.6M124.1 507.1h0.6M127.8 502.3h0.6M124.4 486.1h0.6M124.2 500.2h0.6M126.3 506.2h0.6M124.5 501.2h0.6M126.7 497.3h0.6M126.7 491.0h0.6M124.5 504.3h0.6M119.4 499.7h0.6M125.3 496.4h0.6M126.4 496.8h0.6M127.8 489.7h0.6M122.3 499.0h0.6M121.8 508.3h0.6M125.2 496.9h0.6M124.3 500.3h0.6M124.8 497.8h0.6M122.7 495.6h0.6M124.2 508.1h0.6M124.2 497.0h0.6M117.3 500.0h0.6M127.6 500.4h0.6M122.9 507.0h0.6M119.0 493.8h0.6M119.3 495.5h0.6M124.1 504.4h0.6M119.3 503.1h0.6M123.1 501.4h0.6M120.9 500.1h0.6M123.0 503.4h0.6M122.7 494.7h0.6M129.7 492.9h0.6M125.3 491.7h0.6M128.2 494.6h0.6M120.3 491.3h0.6M123.4 502.2h0.6M121.0 495.0h0.6M125.9 492.5h0.6M128.8 494.2h0.6M124.5 494.4h0.6M119.1 501.1h0.6M123.7 503.5h0.6M127.4 495.8h0.6M128.8 489.7h0.6M123.1 508.0h0.6M124.0 488.8h0.6M120.9 505.3h0.6M119.0 496.3h0.6M122.9 503.1h0.6M128.0 491.1h0.6M121.9 501.7h0.6M125.7 494.7h0.6M124.9 495.6h0.6M122.8 497.1h0.6M122.0 495.8h0.6M119.2 500.0h0.6M123.2 498.7h0.6M125.7 489.6h0.6M126.4 497.2h0.6M124.6 496.6h0.6M124.5 493.6h0.6M119.4 503.2h0.6M120.3 500.7h0.6M122.1 497.3h0.6M122.8 497.1h0.6M119.8 499.8h0.6M122.1 499.9h0.6M123.3 495.8h0.6M124.5 493.4h0.6M124.2 503.3h0.6M120.1 502.8h0.6M121.4 498.6h0.6M127.0 494.0h0.6M121.2 494.6h0.6M124.9 494.0h0.6M128.6 496.3h0.6M128.8 498.6h0.6M119.9 497.4h0.6M124.0 500.1h0.6M122.8 502.2h0.6M121.8 494.1h0.6M126.7 498.3h0.6M124.6 498.3h0.6M128.1 493.4h0.6M120.3 510.0h0.6M116.9 488.5h0.6M123.5 490.2h0.6M124.1 487.4h0.6M128.1 494.8h0.6M123.0 496.7h0.6M125.6 491.1h0.6M127.9 493.9h0.6M116.3 499.7h0.6M123.7 499.0h0.6M122.4 501.8h0.6M120.7 492.5h0.6M122.4 494.9h0.6M123.4 496.3h0.6M130.5 495.6h0.6M121.1 487.6h0.6M122.8 499.1h0.6M127.3 504.3h0.6M131.7 489.8h0.6M120.0 510.0h0.6M125.9 489.3h0.6M122.0 500.7h0.6M128.9 493.8h0.6M126.4 495.1h0.6M125.2 497.3h0.6M127.6 501.1h0.6M124.8 493.8h0.6M124.0 495.4h0.6M125.6 499.7h0.6M119.3 495.9h0.6M124.1 493.6h0.6M127.4 499.2h0.6M118.7 507.6h0.6M126.1 508.3h0.6M126.0 491.4h0.6M124.3 496.5h0.6M126.1 489.6h0.6M123.6 496.0h0.6M128.3 492.6h0.6M120.8 496.6h0.6M129.0 490.9h0.6M123.8 493.6h0.6M121.8 503.2h0.6M126.4 493.1h0.6M122.9 507.3h0.6M129.7 491.9h0.6M122.9 486.9h0.6M120.4 488.8h0.6M117.9 492.8h0.6M124.8 499.2h0.6M131.0 489.3h0.6M126.6 499.3h0.6M124.1 491.7h0.6M116.9 501.6h0.6M120.0 501.8h0.6M125.6 493.8h0.6M122.5 492.2h0.6M124.1 503.6h0.6M124.1 497.7h0.6M126.0 494.2h0.6M122.3 496.3h0.6M126.2 499.1h0.6M127.7 494.7h0.6M123.8 500.0h0.6M126.0 490.9h0.6M123.6 495.0h0.6M122.5 489.8h0.6M124.8 499.3h0.6M123.3 500.6h0.6M121.8 496.6h0.6M123.6 491.0h0.6M123.4 495.6h0.6M127.0 496.1h0.6M128.0 502.3h0.6M119.0 501.2h0.6M118.4 498.5h0.6M121.8 492.4h0.6M127.6 501.2h0.6M120.4 496.0h0.6M120.5 496.8h0.6M118.1 489.4h0.6M121.5 492.3h0.6M123.2 504.4h0.6M127.2 497.2h0.6M129.9 494.0h0.6M124.3 499.6h0.6M125.5 498.0h0.6M125.9 502.1h0.6M124.6 498.3h0.6M125.6 499.7h0.6M119.0 500.8h0.6M126.0 497.8h0.6M126.7 494.1h0.6M119.3 499.0h0.6M121.1 498.2h0.6M125.0 496.9h0.6M125.5 502.1h0.6M126.0 496.3h0.6M128.9 487.6h0.6M126.5 495.2h0.6M131.5 491.9h0.6M123.1 494.8h0.6M121.3 497.9h0.6M119.9 501.9h0.6M126.6 496.4h0.6M128.4 498.6h0.6M121.8 502.8h0.6M124.2 496.5h0.6M120.1 501.2h0.6M129.2 498.8h0.6M124.9 495.2h0.6M127.2 491.8h0.6M121.5 498.8h0.6M125.1 498.7h0.6M128.1 485.3h0.6M125.1 495.3h0.6M119.4 501.8h0.6M121.7 493.3h0.6M123.2 489.7h0.6M126.0 501.6h0.6M125.3 501.2h0.6M127.3 496.0h0.6M124.0 493.5h0.6M120.3 504.3h0.6M127.5 488.3h0.6M125.5 494.5h0.6M119.3 491.0h0.6M123.9 496.0h0.6M120.5 496.2h0.6M131.7 487.9h0.6M123.6 498.8h0.6M124.4 501.9h0.6M127.4 496.0h0.6M120.3 506.3h0.6M126.4 501.4h0.6M123.9 497.0h0.6M125.6 493.7h0.6M119.8 494.7h0.6M125.9 488.9h0.6M119.7 502.5h0.6M124.6 503.0h0.6M125.5 488.7h0.6M126.1 494.7h0.6M127.1 494.2h0.6M119.2 506.3h0.6M129.8 498.5h0.6M123.8 493.2h0.6M124.7 499.5h0.6M127.5 488.6h0.6M130.0 497.9h0.6M121.8 491.4h0.6M124.4 502.6h0.6M125.0 503.4h0.6M128.6 495.2h0.6M125.5 498.9h0.6M131.3 496.0h0.6M126.8 492.3h0.6M122.6 493.7h0.6M122.5 503.3h0.6M123.9 492.5h0.6M124.3 489.6h0.6M122.3 491.4h0.6M125.2 496.5h0.6M127.3 496.8h0.6M123.4 497.0h0.6M127.6 492.8h0.6M126.6 499.2h0.6M125.6 502.8h0.6M129.0 492.7h0.6M128.9 492.3h0.6M120.8 498.0h0.6M125.2 502.0h0.6M126.2 503.5h0.6M121.0 500.2h0.6M119.6 497.3h0.6M124.0 492.0h0.6M121.4 500.6h0.6M123.7 504.0h0.6M120.5 504.1h0.6M126.5 497.8h0.6M120.8 495.4h0.6M120.0 507.5h0.6M123.4 499.9h0.6M124.6 499.9h0.6M121.0 498.7h0.6M125.5 497.3h0.6M120.7 503.3h0.6M129.8 489.1h0.6M125.6 489.8h0.6M125.8 491.1h0.6M124.7 493.7h0.6M124.7 492.3h0.6M119.5 496.9h0.6M125.3 495.1h0.6M126.5 503.1h0.6M121.7 497.0h0.6M124.9 493.5h0.6M120.9 500.9h0.6M127.1 490.3h0.6M124.5 496.0h0.6M129.3 498.8h0.6M127.1 489.6h0.6M122.7 501.3h0.6M125.1 493.9h0.6M130.2 498.1h0.6M128.6 499.9h0.6M122.9 494.8h0.6M121.3 501.2h0.6M122.5 499.5h0.6M121.7 499.6h0.6M122.8 495.9h0.6M133.5 483.3h0.6M125.8 497.0h0.6M129.0 492.5h0.6M121.3 499.6h0.6M125.8 487.3h0.6M127.2 493.6h0.6M118.9 503.3h0.6M122.2 500.2h0.6M119.3 491.2h0.6M119.9 498.3h0.6M121.7 488.3h0.6M126.7 499.2h0.6M127.4 490.8h0.6M122.7 498.2h0.6M121.2 497.9h0.6M129.1 492.4h0.6M124.3 492.0h0.6M123.6 497.4h0.6M129.9 490.8h0.6M123.6 499.6h0.6M120.3 500.8h0.6M127.6 491.5h0.6M122.7 493.0h0.6M119.6 498.4h0.6M127.4 485.9h0.6M121.5 501.5h0.6M122.5 503.4h0.6M126.3 489.7h0.6M128.0 491.8h0.6M118.0 502.9h0.6M125.5 487.9h0.6M127.3 494.9h0.6M128.5 481.5h0.6M124.1 504.1h0.6M121.8 500.8h0.6M125.7 491.6h0.6M119.6 492.4h0.6M128.7 485.7h0.6M122.9 499.1h0.6M119.9 498.4h0.6M125.3 492.9h0.6M127.9 489.5h0.6M126.2 496.8h0.6M120.6 498.6h0.6M129.0 500.9h0.6M125.7 489.7h0.6M124.3 500.3h0.6M123.9 493.4h0.6M127.7 492.6h0.6M125.8 493.3h0.6M124.5 497.2h0.6M125.0 492.1h0.6M125.0 492.3h0.6M124.6 500.3h0.6M124.2 496.2h0.6M124.9 494.4h0.6M128.8 497.8h0.6M121.1 496.2h0.6M118.8 493.6h0.6M121.8 491.3h0.6M125.6 496.5h0.6M123.0 511.4h0.6M124.3 492.1h0.6M126.4 490.9h0.6M125.4 495.5h0.6M125.8 494.4h0.6M126.8 497.0h0.6M125.9 499.1h0.6M122.9 493.0h0.6M123.0 490.3h0.6M123.9 495.1h0.6M121.0 502.5h0.6M123.0 504.2h0.6M121.0 494.5h0.6M122.2 493.9h0.6M118.8 492.8h0.6M119.9 499.8h0.6M128.2 496.2h0.6M119.6 501.5h0.6M125.4 490.1h0.6M125.9 485.8h0.6M127.3 498.1h0.6M123.0 498.7h0.6M125.0 496.9h0.6M123.7 492.7h0.6M124.9 499.0h0.6M125.2 490.8h0.6M126.9 491.7h0.6M124.1 494.8h0.6M122.5 492.2h0.6M121.9 501.5h0.6M120.9 501.5h0.6M124.2 488.6h0.6M126.1 495.1h0.6M123.0 499.8h0.6M125.8 496.3h0.6M128.0 498.5h0.6M122.0 493.0h0.6M127.7 497.5h0.6M125.0 491.1h0.6M121.4 493.6h0.6M121.6 497.7h0.6M125.1 485.9h0.6M123.9 495.5h0.6M126.2 492.5h0.6M118.4 494.8h0.6M127.7 497.1h0.6M127.7 499.5h0.6M120.7 496.0h0.6M122.1 500.8h0.6M130.3 498.1h0.6M126.7 499.1h0.6M123.7 491.9h0.6M123.2 487.1h0.6M124.3 495.5h0.6M126.6 494.6h0.6M123.3 494.5h0.6M125.7 491.1h0.6M122.4 496.5h0.6M118.0 501.8h0.6M124.6 491.7h0.6M122.6 498.9h0.6M128.0 497.1h0.6M125.2 498.9h0.6M126.3 497.6h0.6M120.3 499.2h0.6M126.7 494.8h0.6M118.9 496.2h0.6M127.2 496.5h0.6M124.9 495.6h0.6M127.2 496.0h0.6M129.1 492.7h0.6M127.9 488.0h0.6M121.4 499.5h0.6M121.0 505.6h0.6M125.2 490.9h0.6M125.1 493.1h0.6M125.3 492.9h0.6M121.3 508.7h0.6M120.7 503.2h0.6M124.4 494.0h0.6M129.0 493.8h0.6M121.2 499.0h0.6M125.4 490.0h0.6M125.7 500.3h0.6M123.2 498.9h0.6M126.0 499.0h0.6M117.9 503.1h0.6M123.8 497.2h0.6M119.5 502.0h0.6M121.8 498.6h0.6M127.2 489.0h0.6M117.8 505.8h0.6M120.0 501.5h0.6M121.9 500.4h0.6M121.4 499.2h0.6M124.3 493.8h0.6M123.6 488.4h0.6M124.6 489.1h0.6M124.2 483.3h0.6M124.3 503.5h0.6M129.4 496.3h0.6M121.1 485.7h0.6M125.0 494.5h0.6M123.8 494.6h0.6M126.5 495.2h0.6M121.6 490.3h0.6M125.4 494.4h0.6M123.9 498.7h0.6M128.0 492.9h0.6M119.1 498.7h0.6M131.5 488.4h0.6M125.6 492.1h0.6M123.1 494.6h0.6M121.7 497.8h0.6M121.1 495.9h0.6M122.1 497.3h0.6M124.3 500.8h0.6M121.4 496.8h0.6M125.4 502.0h0.6M122.7 496.3h0.6M126.0 498.2h0.6M121.5 489.4h0.6M124.6 492.6h0.6M121.6 498.7h0.6M127.7 495.3h0.6M124.1 491.1h0.6M125.1 499.5h0.6M129.6 485.2h0.6M124.9 488.3h0.6M121.9 493.6h0.6M123.7 497.7h0.6M122.8 493.0h0.6M126.3 495.5h0.6M130.0 500.7h0.6M129.8 496.7h0.6M123.9 490.1h0.6M124.4 496.2h0.6M127.8 495.9h0.6M126.5 487.6h0.6M117.0 497.1h0.6M121.6 493.4h0.6M122.8 494.5h0.6M122.1 502.9h0.6M124.5 495.7h0.6M125.8 502.0h0.6M120.6 492.5h0.6M126.9 498.0h0.6M124.3 485.0h0.6M126.4 500.6h0.6M130.0 497.7h0.6M122.8 491.7h0.6M118.4 508.3h0.6M122.8 497.5h0.6M124.1 495.0h0.6M122.8 483.8h0.6M123.6 494.6h0.6M121.1 495.7h0.6M125.9 495.3h0.6M128.7 494.2h0.6M126.7 498.1h0.6M121.4 495.4h0.6M124.5 497.6h0.6M125.6 496.4h0.6M121.2 506.3h0.6M124.0 493.1h0.6M121.7 497.2h0.6M129.4 494.2h0.6M127.0 493.8h0.6M124.9 488.9h0.6M118.0 512.4h0.6M126.4 490.3h0.6M120.7 500.1h0.6M127.2 496.2h0.6M128.1 491.2h0.6M128.1 489.9h0.6M124.4 502.4h0.6M121.5 491.5h0.6M125.3 498.7h0.6M125.5 488.1h0.6M122.0 482.6h0.6M126.4 500.6h0.6M123.2 495.5h0.6M128.4 486.1h0.6M124.6 499.2h0.6M125.9 493.1h0.6M125.9 506.1h0.6M125.9 503.6h0.6M128.5 500.6h0.6M123.4 498.3h0.6M121.3 505.5h0.6M119.9 497.2h0.6M124.8 497.7h0.6M120.5 512.7h0.6M121.0 495.4h0.6M125.1 490.2h0.6M123.2 493.3h0.6M123.7 492.9h0.6M129.7 495.4h0.6M125.5 497.5h0.6M122.6 496.9h0.6M124.3 495.4h0.6M120.9 494.3h0.6M124.7 486.6h0.6M125.9 489.4h0.6M128.7 495.0h0.6M125.6 507.9h0.6M124.7 504.5h0.6M125.4 494.5h0.6M125.1 501.8h0.6M123.1 487.8h0.6M118.4 502.1h0.6M122.7 498.8h0.6M125.7 493.8h0.6M126.2 498.5h0.6M124.9 497.1h0.6M123.7 490.4h0.6M122.6 491.6h0.6M123.3 488.0h0.6M120.2 491.2h0.6M130.6 486.0h0.6M123.3 505.5h0.6M124.7 496.6h0.6M125.7 499.3h0.6M121.4 498.6h0.6M121.0 496.6h0.6M122.2 494.7h0.6M124.3 493.3h0.6M126.5 489.3h0.6M122.2 493.7h0.6M122.6 490.5h0.6M121.6 504.2h0.6M125.0 500.8h0.6M124.8 495.0h0.6M126.8 491.5h0.6M128.1 501.8h0.6M125.8 505.2h0.6M123.5 492.4h0.6M122.7 498.8h0.6M125.1 492.7h0.6M123.7 492.4h0.6M125.5 493.4h0.6M126.9 498.8h0.6M122.3 493.1h0.6M126.1 497.1h0.6M124.6 492.1h0.6M119.7 506.2h0.6M127.0 492.4h0.6M124.1 496.7h0.6M122.2 499.3h0.6M126.2 492.0h0.6M127.3 492.9h0.6M121.2 497.6h0.6M123.7 495.0h0.6M120.1 503.0h0.6M123.3 495.3h0.6M124.9 501.2h0.6M124.8 501.6h0.6M124.2 496.1h0.6M128.8 492.3h0.6M126.8 498.9h0.6M125.2 500.9h0.6M125.2 501.5h0.6M124.3 498.9h0.6M122.5 500.7h0.6M121.6 489.9h0.6M123.8 502.9h0.6M126.1 496.4h0.6M122.4 492.4h0.6M118.2 498.8h0.6M126.3 495.2h0.6M123.5 489.7h0.6M126.5 489.3h0.6M125.0 490.0h0.6M120.9 500.5h0.6M121.0 494.6h0.6M122.8 493.9h0.6M117.5 503.4h0.6M130.5 488.3h0.6M122.7 496.0h0.6M123.1 499.5h0.6M120.2 497.9h0.6M124.6 494.6h0.6M126.7 494.5h0.6M129.2 494.0h0.6M122.8 506.1h0.6M129.0 494.7h0.6M125.4 496.0h0.6M120.0 508.5h0.6M128.0 491.2h0.6M122.6 497.9h0.6M126.2 492.0h0.6M125.8 494.0h0.6M123.6 498.2h0.6M123.2 506.2h0.6M126.6 496.9h0.6M122.3 503.8h0.6M121.5 501.9h0.6M128.1 497.1h0.6M123.9 499.2h0.6M129.3 491.3h0.6M120.0 496.3h0.6M124.2 496.0h0.6M124.5 501.5h0.6M121.5 500.9h0.6M128.6 491.8h0.6M124.2 488.0h0.6M118.8 503.0h0.6M126.1 498.8h0.6M119.8 502.4h0.6M124.7 496.9h0.6M125.8 492.4h0.6M131.7 495.6h0.6M122.9 500.0h0.6M124.6 498.8h0.6M122.7 489.8h0.6M122.4 497.6h0.6M126.5 489.7h0.6M127.9 488.9h0.6M126.8 495.2h0.6M116.4 499.5h0.6M126.9 496.1h0.6M123.9 498.1h0.6M120.7 505.1h0.6M121.7 501.8h0.6M117.6 503.2h0.6M125.9 492.1h0.6M123.9 498.8h0.6M124.8 500.9h0.6M121.9 496.2h0.6M121.4 501.2h0.6M126.2 497.3h0.6M126.8 499.6h0.6M124.1 492.7h0.6M123.9 498.8h0.6M126.4 493.9h0.6M130.1 498.3h0.6M125.3 498.6h0.6M124.2 511.7h0.6M123.5 494.1h0.6M126.0 485.1h0.6M123.7 506.2h0.6M125.1 487.8h0.6M126.1 489.2h0.6M122.4 493.0h0.6M128.2 495.6h0.6M130.9 494.6h0.6M122.3 491.4h0.6M127.1 497.0h0.6M119.2 505.6h0.6M126.9 498.1h0.6M118.9 498.4h0.6M128.6 494.5h0.6M127.4 495.6h0.6M119.1 499.1h0.6M122.7 487.7h0.6M118.4 497.9h0.6M130.4 490.6h0.6M129.3 498.4h0.6M125.1 498.2h0.6M121.0 493.2h0.6M125.0 493.5h0.6M125.0 493.1h0.6M128.0 495.3h0.6M131.0 499.4h0.6M127.8 495.6h0.6M127.8 496.1h0.6M124.5 487.7h0.6M123.9 501.8h0.6M127.4 497.6h0.6M124.5 487.2h0.6M123.2 498.3h0.6M121.0 501.0h0.6M120.8 494.2h0.6M122.3 500.7h0.6M120.9 498.6h0.6M120.5 500.1h0.6M123.8 493.6h0.6M120.9 499.9h0.6M124.7 494.9h0.6M124.7 501.4h0.6M125.1 498.0h0.6M120.3 498.4h0.6M126.4 498.5h0.6M120.7 495.6h0.6M122.6 497.7h0.6M125.4 506.2h0.6M121.7 489.3h0.6M131.4 494.2h0.6M125.5 491.5h0.6M125.0 493.0h0.6M128.2 493.7h0.6M118.1 497.7h0.6M128.0 491.9h0.6M121.4 502.3h0.6M121.8 493.9h0.6M117.9 505.2h0.6M127.5 488.7h0.6M124.1 499.5h0.6M119.5 497.4h0.6M123.9 497.3h0.6M128.0 491.0h0.6M121.6 499.6h0.6M125.0 497.7h0.6M121.2 499.6h0.6M123.7 495.3h0.6M130.4 486.9h0.6M124.4 501.4h0.6M122.3 511.4h0.6M128.1 495.0h0.6M118.8 502.0h0.6M124.5 495.1h0.6M126.9 494.7h0.6M119.3 501.6h0.6M126.3 496.4h0.6M131.3 492.9h0.6M129.2 497.8h0.6M121.3 503.5h0.6M126.2 500.5h0.6M122.7 504.5h0.6M122.9 497.9h0.6M129.6 489.1h0.6M124.9 490.1h0.6M124.3 499.5h0.6M124.4 494.5h0.6M120.9 503.5h0.6M120.3 499.2h0.6M123.4 498.5h0.6M125.1 487.9h0.6M124.2 498.8h0.6M129.3 496.5h0.6M126.5 500.1h0.6M122.9 502.5h0.6M123.8 493.0h0.6M130.4 485.8h0.6M129.5 496.9h0.6M126.7 501.2h0.6M120.9 502.0h0.6M122.0 505.3h0.6M123.2 498.4h0.6M125.7 488.8h0.6M125.3 500.8h0.6M126.3 495.6h0.6M118.2 498.5h0.6M124.7 503.6h0.6M127.6 495.8h0.6M126.0 502.1h0.6M124.4 494.4h0.6M123.2 496.4h0.6M123.3 498.0h0.6M121.1 510.2h0.6M124.1 500.3h0.6M128.1 493.9h0.6M124.3 499.9h0.6M129.0 490.9h0.6M123.4 495.9h0.6M122.8 495.1h0.6M128.0 494.4h0.6M120.9 495.2h0.6M123.0 499.8h0.6M120.1 501.1h0.6M124.3 493.4h0.6M121.4 503.9h0.6M121.9 506.2h0.6M122.0 494.9h0.6M122.5 492.8h0.6M126.5 492.3h0.6M128.2 483.8h0.6M135.2 489.8h0.6M125.3 504.5h0.6M128.0 497.0h0.6M121.6 508.4h0.6M125.1 497.4h0.6M123.6 496.2h0.6M124.8 489.0h0.6M125.4 487.2h0.6M123.4 496.2h0.6M123.0 490.6h0.6M122.2 494.0h0.6M122.8 500.0h0.6M125.7 498.7h0.6M119.6 507.5h0.6M129.6 494.9h0.6M127.5 496.0h0.6M121.8 502.2h0.6M127.7 494.9h0.6M125.9 498.7h0.6M121.2 489.1h0.6M121.8 505.3h0.6M125.5 490.9h0.6M122.0 501.0h0.6M124.9 498.0h0.6M123.0 495.6h0.6M128.9 504.1h0.6M120.3 501.7h0.6M128.8 490.9h0.6M122.3 504.9h0.6M125.0 503.4h0.6M130.6 505.5h0.6M121.0 501.3h0.6M120.5 506.5h0.6M120.8 500.7h0.6M117.5 504.0h0.6M122.3 496.4h0.6M131.9 486.0h0.6M122.2 505.9h0.6M123.4 501.1h0.6M126.9 499.3h0.6M126.2 488.0h0.6M117.8 502.5h0.6M125.8 500.6h0.6M129.7 502.0h0.6M129.2 492.5h0.6M119.1 506.3h0.6M125.2 500.4h0.6M128.2 491.1h0.6M127.0 494.7h0.6M122.4 497.1h0.6M125.4 494.0h0.6M125.6 500.0h0.6M122.9 503.4h0.6M124.8 498.8h0.6M124.8 501.3h0.6M122.3 493.7h0.6M123.4 494.8h0.6M122.4 497.9h0.6M129.2 492.5h0.6M125.3 498.1h0.6M127.4 496.1h0.6M125.5 491.7h0.6M127.5 502.4h0.6M122.9 496.3h0.6M125.2 490.7h0.6M120.7 503.1h0.6M125.3 496.6h0.6M125.2 496.0h0.6M119.0 501.1h0.6M118.7 496.1h0.6M121.0 497.0h0.6M125.9 495.4h0.6M121.9 499.6h0.6M122.9 503.0h0.6M117.8 497.4h0.6M134.3 491.9h0.6M123.3 500.5h0.6M120.2 500.5h0.6M119.4 490.8h0.6M127.8 498.1h0.6M123.8 492.5h0.6M125.1 501.4h0.6M125.2 501.1h0.6M123.8 489.3h0.6M126.2 500.9h0.6M131.3 492.2h0.6M122.7 489.9h0.6M124.4 505.4h0.6M126.4 496.4h0.6M125.5 495.1h0.6M128.5 497.1h0.6M125.4 492.9h0.6M123.1 496.0h0.6M126.8 496.2h0.6M119.6 497.2h0.6M124.6 497.8h0.6M125.4 504.8h0.6M130.2 491.2h0.6M122.3 489.5h0.6M123.8 493.0h0.6M124.2 495.5h0.6M120.3 505.7h0.6M123.8 500.4h0.6M123.3 493.8h0.6M122.9 496.3h0.6M125.0 490.4h0.6M129.9 495.2h0.6M123.0 505.7h0.6M126.5 502.6h0.6M125.0 494.6h0.6M123.3 493.8h0.6M126.5 496.0h0.6M128.5 492.4h0.6M126.7 494.1h0.6M125.2 492.3h0.6M126.0 499.7h0.6M123.0 501.9h0.6M127.4 498.8h0.6M125.4 495.7h0.6M123.7 496.3h0.6M122.7 504.5h0.6M125.4 495.4h0.6M120.4 496.3h0.6M122.9 501.1h0.6M120.0 497.8h0.6M128.9 499.0h0.6M129.2 492.7h0.6M125.7 501.4h0.6M121.3 497.8h0.6M124.0 504.0h0.6M129.8 501.3h0.6M126.7 491.2h0.6M128.0 494.5h0.6M131.8 495.8h0.6M130.5 488.3h0.6M127.8 504.9h0.6M125.6 492.2h0.6M123.5 495.4h0.6M124.6 498.7h0.6M126.9 494.4h0.6M128.0 488.9h0.6M125.6 492.9h0.6M124.7 496.1h0.6M126.5 493.6h0.6M130.5 486.9h0.6M126.4 499.1h0.6M120.0 495.8h0.6M124.7 502.9h0.6M125.4 488.6h0.6M128.0 491.4h0.6M121.5 501.1h0.6M122.7 494.8h0.6M121.2 500.5h0.6M129.2 492.3h0.6M125.2 501.2h0.6M127.0 491.6h0.6M127.3 493.3h0.6M124.1 496.0h0.6M118.8 497.6h0.6M130.0 495.3h0.6M119.0 498.6h0.6M125.2 493.6h0.6M126.1 499.0h0.6M123.8 499.6h0.6M125.5 487.2h0.6M125.1 498.9h0.6M125.4 495.3h0.6M125.9 500.3h0.6M119.1 506.2h0.6M119.4 493.6h0.6M127.9 489.2h0.6M120.7 504.1h0.6M125.2 506.5h0.6M129.2 497.8h0.6M125.4 484.9h0.6M120.8 496.0h0.6M124.7 495.9h0.6M124.2 497.9h0.6M124.1 496.4h0.6M126.1 496.1h0.6M122.5 492.6h0.6M125.5 494.3h0.6M128.4 488.3h0.6M123.4 498.6h0.6M126.1 487.7h0.6M129.0 492.6h0.6M126.1 497.4h0.6M123.0 502.1h0.6M117.7 503.9h0.6M120.3 496.7h0.6M125.8 491.4h0.6M123.9 499.8h0.6M124.6 499.4h0.6M135.1 480.9h0.6M126.5 494.7h0.6M123.0 493.4h0.6M129.3 493.8h0.6M129.1 498.8h0.6M124.8 498.4h0.6M126.1 503.0h0.6M125.6 498.7h0.6M124.1 500.6h0.6M121.6 501.2h0.6M128.3 498.8h0.6M127.6 502.3h0.6M122.0 497.6h0.6M125.7 493.9h0.6M122.5 497.0h0.6M121.2 491.9h0.6M126.2 489.9h0.6M124.4 497.3h0.6M124.4 494.6h0.6M125.2 494.0h0.6M126.3 490.8h0.6M126.5 497.5h0.6M122.2 488.7h0.6M124.8 495.7h0.6M126.7 488.8h0.6M120.6 502.6h0.6M125.2 497.3h0.6M120.7 504.2h0.6M124.4 496.4h0.6M126.8 497.1h0.6M125.4 498.7h0.6M124.5 492.4h0.6M124.7 498.4h0.6M121.5 496.7h0.6M128.0 499.4h0.6M121.1 505.4h0.6M118.7 489.7h0.6M123.1 494.0h0.6M121.8 495.7h0.6M125.8 500.0h0.6M123.3 494.8h0.6M121.1 498.0h0.6M121.0 498.2h0.6M120.7 492.9h0.6M119.4 491.7h0.6M124.1 493.0h0.6M129.3 497.3h0.6M121.5 501.5h0.6M121.6 497.2h0.6M123.4 502.7h0.6M123.5 499.6h0.6M124.0 501.0h0.6M128.3 491.4h0.6M123.9 491.2h0.6M124.2 495.4h0.6M124.2 491.6h0.6M120.8 499.4h0.6M121.1 497.6h0.6M117.3 498.5h0.6M122.2 499.9h0.6M121.9 494.9h0.6M123.9 499.4h0.6M127.4 500.0h0.6M117.7 498.5h0.6M126.5 491.0h0.6M129.6 485.9h0.6M124.1 504.8h0.6M124.5 493.5h0.6M129.4 486.0h0.6M126.5 491.7h0.6M125.6 497.2h0.6M121.7 507.1h0.6M122.6 493.9h0.6M126.7 503.2h0.6M127.3 490.0h0.6M124.7 501.8h0.6M128.5 494.5h0.6M129.2 501.4h0.6M118.7 499.5h0.6M123.5 489.9h0.6M122.8 496.2h0.6M125.5 495.8h0.6M132.3 492.6h0.6M121.8 501.5h0.6M122.0 493.3h0.6M126.7 502.7h0.6M121.5 502.6h0.6M123.3 497.7h0.6M127.9 501.5h0.6M128.9 502.3h0.6M129.6 494.4h0.6M128.0 502.6h0.6M123.6 488.9h0.6M124.3 492.2h0.6M128.4 486.9h0.6M123.1 490.2h0.6M126.7 490.2h0.6M122.7 501.5h0.6M127.5 491.1h0.6M126.7 491.7h0.6M120.5 497.3h0.6M123.1 500.3h0.6M122.9 509.5h0.6M127.0 492.0h0.6M123.5 497.6h0.6M117.7 496.2h0.6M124.2 503.6h0.6M125.1 500.9h0.6M120.6 505.2h0.6M128.5 494.3h0.6M128.0 491.4h0.6M120.1 499.3h0.6M124.6 488.7h0.6M116.8 495.1h0.6M121.6 494.8h0.6M120.3 493.2h0.6M123.8 499.6h0.6M124.9 494.8h0.6M125.0 489.0h0.6M122.7 500.6h0.6M122.7 492.7h0.6M125.8 487.0h0.6M122.6 492.7h0.6M129.0 481.5h0.6M124.0 498.4h0.6M123.9 496.5h0.6M126.4 499.0h0.6M123.3 490.8h0.6M127.5 493.0h0.6M127.0 494.3h0.6M125.3 488.6h0.6M120.7 501.8h0.6M124.0 494.5h0.6M123.6 491.1h0.6M125.2 504.4h0.6M125.1 493.1h0.6M123.7 492.6h0.6M124.1 503.2h0.6M124.0 488.8h0.6M121.8 495.6h0.6M123.6 498.8h0.6M122.3 497.1h0.6M124.3 498.0h0.6M120.3 494.6h0.6M130.0 486.4h0.6M127.7 492.9h0.6M125.4 498.1h0.6M122.7 499.3h0.6M125.9 495.0h0.6M123.3 496.4h0.6M127.6 497.1h0.6M124.7 488.8h0.6M124.2 506.3h0.6M118.1 497.4h0.6M121.8 489.8h0.6M125.2 498.7h0.6M120.6 489.0h0.6M123.7 498.3h0.6M127.0 490.9h0.6M128.9 491.4h0.6M122.7 501.8h0.6M124.4 495.2h0.6M126.1 489.6h0.6M119.4 496.5h0.6M128.2 495.0h0.6M124.0 492.3h0.6M129.2 482.4h0.6M124.1 492.6h0.6M124.9 496.3h0.6M121.0 497.0h0.6M126.6 494.1h0.6M125.2 497.8h0.6M122.2 504.8h0.6M126.2 498.4h0.6M122.9 488.8h0.6M129.4 486.9h0.6M126.0 492.5h0.6M124.3 493.7h0.6M123.7 487.6h0.6M130.0 485.9h0.6M124.6 496.6h0.6M125.8 494.6h0.6M121.2 494.3h0.6M126.7 497.4h0.6M124.7 493.6h0.6M122.0 495.1h0.6M121.3 496.2h0.6M127.6 492.4h0.6M124.4 493.9h0.6M126.3 493.6h0.6M126.6 493.8h0.6M129.1 492.5h0.6M128.5 494.4h0.6M123.0 495.3h0.6M123.6 498.3h0.6M118.0 499.7h0.6M124.4 496.7h0.6M125.2 494.1h0.6M119.4 498.2h0.6M124.3 500.0h0.6M124.4 489.9h0.6M124.0 502.8h0.6M124.7 496.7h0.6M120.7 497.2h0.6M124.3 496.5h0.6M130.8 488.1h0.6M124.0 494.3h0.6M122.6 490.0h0.6M123.4 504.5h0.6M128.9 491.6h0.6M120.0 494.9h0.6M130.1 491.5h0.6M122.5 505.4h0.6M125.9 490.6h0.6M126.6 491.2h0.6M121.6 503.7h0.6M123.3 493.8h0.6M126.7 503.0h0.6M123.9 493.3h0.6M119.3 498.7h0.6M125.7 495.7h0.6M120.6 498.5h0.6M125.8 498.3h0.6M124.1 499.1h0.6M119.5 495.9h0.6M126.9 503.3h0.6M124.7 493.0h0.6M127.8 493.4h0.6M124.6 489.5h0.6M122.1 494.8h0.6M118.2 489.4h0.6M124.0 487.3h0.6M120.6 499.5h0.6M122.6 493.4h0.6M117.2 503.6h0.6M118.3 497.0h0.6M124.3 494.2h0.6M125.0 497.0h0.6M130.5 486.9h0.6M128.2 496.0h0.6M120.9 496.2h0.6M126.9 490.0h0.6M123.4 497.9h0.6M118.5 502.8h0.6M125.9 495.4h0.6M121.7 501.2h0.6M120.7 491.3h0.6M121.0 495.8h0.6M123.9 492.2h0.6M123.0 498.2h0.6M122.9 501.5h0.6M124.1 493.8h0.6M126.1 498.3h0.6M122.1 496.3h0.6M122.5 501.4h0.6M124.5 501.4h0.6M125.2 491.8h0.6M126.1 496.0h0.6M128.7 495.3h0.6M116.3 495.9h0.6M127.6 504.8h0.6M125.3 490.5h0.6M127.6 494.4h0.6M121.3 504.5h0.6M124.7 502.5h0.6M128.7 496.9h0.6M129.0 492.0h0.6M128.1 501.5h0.6M125.1 492.0h0.6M121.4 498.5h0.6M123.9 495.6h0.6M117.9 502.8h0.6M123.0 498.5h0.6M120.2 495.8h0.6M123.2 494.0h0.6M123.2 501.6h0.6M125.8 499.8h0.6M126.3 497.6h0.6M125.5 487.5h0.6M125.5 498.1h0.6M125.1 489.6h0.6M129.3 493.6h0.6M123.6 488.2h0.6M122.7 492.9h0.6M121.2 496.3h0.6M124.5 496.2h0.6M126.7 490.5h0.6M129.8 486.7h0.6M123.4 499.1h0.6M126.9 492.6h0.6M123.5 503.0h0.6M126.9 500.2h0.6M120.5 500.9h0.6M125.7 488.4h0.6M126.2 493.2h0.6M118.5 501.2h0.6M123.5 487.7h0.6M121.2 502.6h0.6M124.6 498.7h0.6M125.5 497.1h0.6M124.6 497.2h0.6M126.3 494.7h0.6M125.1 497.6h0.6M126.2 492.2h0.6M123.5 497.2h0.6M126.5 495.2h0.6M120.4 501.7h0.6M126.5 498.0h0.6M122.3 494.6h0.6M123.4 497.7h0.6M124.9 495.7h0.6M125.2 498.1h0.6M127.5 502.5h0.6M122.9 499.2h0.6M125.2 508.7h0.6M120.8 497.9h0.6M119.9 494.1h0.6M129.3 498.3h0.6M123.8 503.2h0.6M126.5 499.6h0.6M124.5 495.2h0.6M120.1 499.5h0.6M127.1 495.4h0.6M126.8 503.7h0.6M127.0 494.2h0.6M129.2 494.9h0.6M123.7 496.4h0.6M124.7 493.5h0.6M122.2 494.0h0.6M123.1 496.9h0.6M122.0 503.1h0.6M121.7 494.8h0.6M122.6 495.2h0.6M124.7 495.7h0.6M121.8 492.6h0.6M122.4 503.2h0.6M121.8 497.7h0.6M119.8 495.1h0.6M121.8 500.7h0.6M123.6 496.3h0.6M125.4 496.3h0.6M127.4 492.6h0.6M126.8 498.9h0.6M123.7 487.8h0.6M123.0 503.9h0.6M123.4 496.5h0.6M124.0 499.7h0.6M120.5 493.8h0.6M125.9 502.5h0.6M124.2 501.9h0.6M123.5 495.0h0.6M121.3 504.2h0.6M128.2 497.8h0.6M129.2 496.2h0.6M120.9 496.9h0.6M129.7 490.6h0.6M123.3 505.9h0.6M126.5 494.6h0.6M119.0 491.7h0.6M124.6 489.9h0.6M127.4 492.0h0.6M124.1 503.0h0.6M127.6 490.0h0.6M124.9 499.5h0.6M127.6 493.5h0.6M130.6 490.4h0.6M121.5 498.7h0.6M124.7 492.1h0.6M121.3 497.5h0.6M118.2 501.2h0.6M121.1 501.2h0.6M125.6 497.2h0.6M126.9 498.3h0.6M126.2 500.7h0.6M125.0 491.1h0.6M123.8 489.8h0.6M121.8 497.4h0.6M124.2 502.3h0.6M123.3 499.7h0.6M117.4 500.8h0.6M127.5 499.6h0.6M122.7 497.9h0.6M119.7 497.6h0.6M125.9 501.6h0.6M125.4 503.6h0.6M129.9 489.5h0.6M122.5 495.9h0.6M121.4 494.4h0.6M127.5 497.0h0.6M123.0 499.3h0.6M127.7 485.6h0.6M125.8 491.7h0.6M119.2 494.1h0.6M120.6 494.0h0.6M120.3 502.0h0.6M128.2 493.1h0.6M126.5 505.6h0.6M126.0 489.3h0.6M120.1 509.1h0.6M125.1 493.6h0.6M124.4 491.4h0.6M123.9 493.4h0.6M127.7 493.9h0.6M125.8 495.8h0.6M120.9 497.3h0.6M123.9 494.7h0.6M120.4 497.4h0.6M122.8 493.1h0.6M122.0 491.6h0.6M133.3 494.8h0.6M121.8 490.8h0.6M122.4 502.9h0.6M124.4 492.6h0.6M130.2 496.9h0.6M120.9 488.9h0.6M128.1 492.3h0.6M127.1 490.5h0.6M121.4 488.0h0.6M122.9 491.3h0.6M130.3 484.6h0.6M117.7 506.2h0.6M119.5 501.9h0.6M117.4 499.0h0.6M121.2 499.5h0.6M124.1 498.3h0.6M120.6 500.4h0.6M125.3 500.4h0.6M124.8 488.4h0.6M126.1 489.3h0.6M123.5 496.1h0.6M123.6 490.4h0.6M122.0 502.3h0.6M127.8 478.2h0.6M124.5 497.7h0.6M127.5 487.7h0.6M121.4 500.3h0.6M124.4 493.6h0.6M123.9 491.1h0.6M120.7 491.8h0.6M122.5 500.0h0.6M127.7 479.8h0.6M127.2 486.1h0.6M136.9 492.5h0.6M127.3 497.1h0.6M124.3 491.1h0.6M119.7 497.9h0.6M116.4 506.3h0.6M119.9 493.0h0.6M131.1 486.2h0.6M122.4 491.7h0.6M125.7 480.2h0.6M124.5 496.4h0.6M122.4 493.3h0.6M123.9 504.2h0.6M130.4 490.1h0.6M126.1 488.3h0.6M128.7 488.1h0.6M120.7 492.8h0.6M126.2 495.8h0.6M132.6 487.6h0.6M136.3 481.7h0.6M121.4 495.2h0.6M130.6 488.9h0.6M133.9 474.9h0.6M139.8 477.7h0.6M127.0 495.5h0.6M123.3 504.5h0.6M133.8 476.2h0.6M132.1 481.5h0.6M120.6 496.9h0.6M125.0 494.9h0.6M126.9 495.3h0.6M129.8 497.6h0.6M128.8 482.1h0.6M130.5 496.6h0.6M122.8 501.1h0.6M121.7 496.2h0.6M130.0 486.7h0.6M122.5 488.3h0.6M125.6 496.6h0.6M127.5 502.6h0.6M136.5 480.3h0.6M129.0 492.2h0.6M135.6 481.9h0.6M132.2 493.7h0.6M123.6 493.3h0.6M126.2 491.0h0.6M134.2 475.4h0.6M130.1 497.4h0.6M125.7 483.9h0.6M119.8 501.5h0.6M130.8 484.7h0.6M127.7 501.1h0.6M125.5 493.6h0.6M128.4 482.4h0.6M125.6 489.9h0.6M124.8 499.7h0.6M134.7 474.3h0.6M122.5 493.6h0.6M125.5 494.4h0.6M126.4 486.0h0.6M123.9 490.9h0.6M132.8 490.5h0.6M128.4 498.2h0.6M126.2 485.1h0.6M129.2 493.6h0.6M130.1 493.9h0.6M127.0 489.3h0.6M127.4 489.4h0.6M131.1 493.3h0.6M131.3 490.7h0.6M124.8 492.1h0.6M131.4 508.3h0.6M119.3 502.9h0.6M127.1 500.0h0.6M133.6 478.4h0.6M139.0 480.5h0.6M131.8 481.7h0.6M130.5 482.8h0.6M140.6 484.1h0.6M129.5 488.7h0.6M128.0 488.2h0.6M117.8 512.2h0.6M132.5 487.1h0.6M124.5 488.9h0.6M130.0 490.9h0.6M121.6 487.6h0.6M124.5 499.8h0.6M133.2 490.4h0.6M131.6 494.3h0.6M143.0 483.5h0.6M132.9 503.7h0.6M137.6 488.3h0.6M130.6 474.5h0.6M127.8 485.9h0.6M127.2 493.4h0.6M128.7 478.1h0.6M131.9 489.9h0.6M139.9 483.2h0.6M129.0 494.5h0.6M123.5 486.6h0.6M128.9 484.8h0.6M119.8 499.7h0.6M130.6 489.0h0.6M117.2 496.3h0.6M130.5 481.8h0.6M131.4 480.9h0.6M124.5 487.9h0.6M127.9 486.0h0.6M130.5 491.6h0.6M131.0 494.3h0.6M123.0 500.8h0.6M127.9 494.6h0.6M118.8 483.1h0.6M122.4 492.0h0.6M124.6 484.7h0.6M128.0 493.1h0.6M132.1 478.3h0.6M127.2 489.6h0.6M126.4 482.5h0.6M128.7 499.2h0.6M127.1 479.0h0.6M126.0 488.3h0.6M133.9 488.8h0.6M129.4 484.6h0.6M132.4 491.9h0.6M120.6 490.0h0.6M123.5 485.5h0.6M125.8 494.5h0.6M124.3 496.0h0.6M128.1 488.1h0.6M127.3 490.6h0.6M130.9 477.5h0.6M136.3 486.3h0.6M125.4 495.3h0.6M129.0 490.4h0.6M130.8 477.5h0.6M122.7 483.8h0.6M129.0 499.0h0.6M127.2 474.1h0.6M131.3 506.8h0.6M134.9 481.2h0.6M124.6 492.1h0.6M126.5 489.9h0.6M131.1 476.9h0.6M119.2 488.9h0.6M142.8 479.6h0.6M126.1 498.3h0.6M128.6 483.1h0.6M131.1 474.2h0.6M128.2 483.1h0.6M133.9 480.0h0.6M128.6 482.7h0.6M127.9 496.1h0.6M125.8 485.3h0.6M130.0 486.6h0.6M129.1 489.2h0.6M133.9 475.6h0.6M128.4 495.9h0.6M127.1 480.7h0.6M117.2 507.4h0.6M124.9 497.7h0.6M127.1 499.2h0.6M127.7 490.6h0.6M131.0 501.3h0.6M126.4 491.9h0.6M122.7 499.7h0.6M130.8 484.1h0.6M126.7 491.1h0.6M129.3 482.9h0.6M130.7 484.4h0.6M127.3 485.9h0.6M125.5 483.9h0.6M132.9 481.6h0.6M127.5 493.3h0.6M122.7 486.1h0.6M130.9 480.8h0.6M127.5 505.4h0.6M126.7 496.0h0.6M132.0 482.7h0.6M121.5 483.7h0.6M130.8 478.1h0.6M128.9 486.6h0.6M128.4 486.4h0.6M128.3 482.8h0.6M124.9 492.1h0.6M124.7 484.5h0.6M129.1 494.8h0.6M128.5 483.3h0.6M133.1 491.7h0.6M124.6 496.4h0.6M132.7 484.0h0.6M121.2 513.7h0.6M130.3 493.4h0.6M127.6 488.9h0.6M128.2 475.6h0.6M133.1 488.6h0.6M120.0 514.7h0.6M130.2 487.8h0.6M133.1 485.3h0.6M117.6 494.6h0.6M130.8 493.9h0.6M121.3 506.5h0.6M130.2 487.0h0.6M127.0 495.6h0.6M121.9 496.0h0.6M119.8 493.6h0.6M132.9 490.3h0.6M128.0 492.3h0.6M121.5 493.3h0.6M130.6 499.3h0.6M121.8 482.7h0.6M122.0 495.6h0.6M128.0 483.7h0.6M132.0 480.6h0.6M123.4 504.5h0.6M130.1 491.7h0.6M122.5 493.3h0.6M132.2 488.9h0.6M124.1 481.1h0.6M128.1 486.6h0.6M122.9 492.0h0.6M132.9 494.3h0.6M144.2 483.6h0.6M125.7 495.8h0.6M126.5 481.2h0.6M126.2 501.0h0.6M123.2 495.6h0.6M121.3 492.6h0.6M132.6 489.7h0.6M120.0 503.6h0.6M135.4 485.7h0.6M123.9 502.0h0.6M124.2 512.1h0.6M125.1 504.0h0.6M123.1 485.9h0.6M127.5 501.4h0.6M125.9 484.4h0.6M120.7 512.2h0.6M128.1 491.8h0.6M125.6 501.7h0.6M134.3 490.9h0.6M133.9 479.3h0.6M120.6 502.0h0.6M128.4 488.5h0.6M129.8 508.0h0.6M125.3 504.1h0.6M124.9 483.5h0.6M128.6 484.1h0.6M127.8 493.6h0.6M121.6 496.6h0.6M127.8 488.4h0.6M127.3 490.0h0.6M130.7 487.1h0.6M126.1 490.7h0.6M120.5 494.7h0.6M127.0 479.1h0.6M129.8 490.8h0.6M121.9 512.7h0.6M128.0 485.3h0.6M129.9 474.2h0.6M124.8 478.0h0.6M121.1 494.6h0.6M130.6 483.0h0.6M137.2 491.9h0.6M125.3 488.6h0.6M124.4 490.1h0.6M121.8 502.2h0.6M128.8 484.9h0.6M126.2 490.4h0.6M125.8 498.5h0.6M132.4 486.0h0.6M137.4 479.6h0.6M127.0 492.7h0.6M127.1 480.0h0.6M124.5 490.4h0.6M135.3 477.0h0.6M129.0 483.4h0.6M133.6 484.8h0.6M124.4 487.1h0.6M128.1 495.6h0.6M131.6 481.9h0.6M119.7 501.8h0.6M130.9 477.9h0.6M122.2 482.7h0.6M130.7 480.7h0.6M124.0 483.4h0.6M125.5 496.1h0.6M125.6 504.6h0.6M124.5 490.6h0.6M126.2 489.8h0.6M129.4 506.3h0.6M132.1 483.9h0.6M124.6 490.3h0.6M126.6 493.9h0.6M128.2 482.3h0.6M129.0 486.5h0.6M129.1 512.1h0.6M136.2 487.8h0.6M123.8 488.9h0.6M132.7 481.0h0.6M140.3 488.3h0.6M130.5 483.5h0.6M129.1 490.1h0.6M127.4 511.1h0.6M129.0 482.8h0.6M131.6 492.7h0.6M131.4 493.1h0.6M124.7 490.7h0.6M132.7 500.7h0.6M128.2 484.4h0.6M121.2 488.1h0.6M119.0 502.1h0.6M131.5 476.6h0.6M127.6 479.9h0.6M131.0 498.7h0.6M121.3 502.2h0.6M133.9 483.4h0.6M125.9 489.3h0.6M120.3 506.1h0.6M123.6 500.4h0.6M133.3 484.6h0.6M136.3 476.6h0.6M129.0 487.1h0.6M125.4 483.2h0.6M135.3 476.3h0.6M134.3 478.9h0.6M128.5 497.2h0.6M127.4 497.1h0.6M137.7 483.4h0.6M125.2 489.3h0.6M132.5 491.7h0.6M126.8 487.0h0.6M128.9 492.5h0.6M130.3 486.0h0.6M124.1 492.0h0.6M134.2 482.2h0.6M130.7 477.4h0.6M136.6 477.1h0.6M121.3 490.5h0.6M124.7 502.1h0.6M130.5 491.5h0.6M127.4 481.6h0.6M118.0 501.9h0.6M120.8 498.8h0.6M117.9 484.1h0.6M127.2 492.1h0.6M129.8 478.3h0.6M128.2 488.7h0.6M132.3 482.2h0.6M124.8 493.4h0.6M124.9 500.1h0.6M133.5 475.9h0.6M116.3 500.9h0.6M129.6 476.1h0.6M132.3 482.7h0.6M128.1 491.6h0.6M131.6 502.7h0.6M135.2 482.9h0.6M126.6 484.4h0.6M131.3 488.0h0.6M129.1 486.6h0.6M128.8 503.4h0.6M132.7 480.5h0.6M137.9 480.8h0.6M124.9 502.4h0.6M121.9 491.1h0.6M131.9 485.1h0.6M134.1 484.3h0.6M124.9 494.8h0.6M118.5 500.0h0.6M128.9 484.3h0.6M124.0 494.4h0.6M134.1 480.3h0.6M132.5 482.2h0.6M131.4 480.6h0.6M123.5 485.1h0.6M125.7 491.3h0.6M130.3 482.5h0.6M123.2 491.3h0.6M133.3 487.3h0.6M122.7 498.9h0.6M126.9 490.9h0.6M129.9 481.5h0.6M117.3 502.6h0.6M129.2 493.7h0.6M124.4 507.5h0.6M121.5 495.7h0.6M125.8 477.2h0.6M122.3 492.8h0.6M131.2 492.8h0.6M116.8 494.4h0.6M131.2 482.2h0.6M135.6 480.1h0.6M126.5 500.5h0.6M127.3 490.6h0.6M126.6 481.2h0.6M130.0 487.4h0.6M128.7 475.1h0.6M123.5 490.4h0.6M130.4 488.3h0.6M128.0 488.3h0.6M123.5 482.3h0.6M129.3 500.2h0.6M130.0 491.8h0.6M125.6 500.2h0.6M134.3 481.2h0.6M123.0 488.8h0.6M121.2 494.8h0.6M138.4 485.0h0.6M117.4 496.7h0.6M116.3 513.8h0.6M130.1 479.2h0.6M126.3 494.5h0.6M127.5 477.3h0.6M119.6 501.5h0.6M121.1 483.8h0.6M120.2 487.8h0.6M124.7 489.7h0.6M124.3 509.6h0.6M131.6 486.7h0.6M127.3 484.9h0.6M131.6 491.2h0.6M127.6 480.9h0.6M118.6 504.1h0.6M129.7 491.6h0.6M118.2 480.3h0.6M130.8 486.3h0.6M132.5 490.4h0.6M123.7 494.7h0.6M135.0 474.1h0.6M131.3 494.5h0.6M127.5 490.4h0.6M128.2 486.0h0.6M126.6 491.1h0.6M134.3 478.8h0.6M128.0 497.6h0.6M132.6 478.6h0.6M125.0 480.5h0.6M129.8 478.7h0.6M127.6 480.7h0.6M136.8 482.6h0.6M125.5 486.5h0.6M127.2 495.7h0.6M128.0 484.9h0.6M120.8 503.7h0.6M125.8 483.0h0.6M128.5 479.2h0.6M118.7 503.9h0.6M132.7 486.9h0.6M122.4 498.4h0.6M136.6 493.6h0.6M131.9 485.9h0.6M128.0 501.7h0.6M129.1 495.8h0.6M119.6 505.1h0.6M119.4 495.7h0.6M135.1 476.2h0.6M130.1 482.5h0.6M125.3 496.9h0.6M126.3 485.6h0.6M132.0 495.9h0.6M125.6 477.1h0.6M123.7 487.4h0.6M131.2 486.8h0.6M128.1 489.4h0.6M129.4 492.0h0.6M127.7 487.4h0.6M136.5 494.2h0.6M131.7 485.0h0.6M125.7 492.7h0.6M131.8 496.5h0.6M130.6 486.3h0.6M118.3 500.5h0.6M126.9 477.2h0.6M130.1 487.9h0.6M132.2 477.5h0.6M127.3 491.8h0.6M131.4 490.1h0.6M121.6 490.1h0.6M133.5 489.6h0.6M136.6 480.6h0.6M124.9 491.2h0.6M127.5 492.8h0.6M139.6 476.9h0.6M125.2 475.0h0.6M126.3 496.1h0.6M133.4 491.6h0.6M117.4 488.7h0.6M121.5 506.5h0.6M140.4 483.3h0.6M119.5 494.4h0.6M124.7 486.2h0.6M129.7 490.8h0.6M119.5 494.6h0.6M123.4 503.5h0.6M126.8 483.4h0.6M135.1 478.8h0.6M124.7 493.9h0.6M134.1 484.2h0.6M125.4 481.9h0.6M129.7 487.1h0.6M131.8 489.5h0.6M122.4 486.6h0.6M130.2 496.3h0.6M132.0 492.3h0.6M136.1 474.4h0.6M128.9 494.0h0.6M134.7 493.6h0.6M132.8 495.6h0.6M126.3 490.7h0.6M131.7 486.7h0.6M127.8 497.3h0.6M135.9 479.2h0.6M121.7 505.8h0.6M134.5 497.2h0.6M126.8 490.2h0.6M131.3 502.8h0.6M130.9 489.6h0.6M119.3 493.7h0.6M123.9 505.1h0.6M124.8 509.4h0.6M136.4 478.7h0.6M124.1 489.5h0.6M132.1 484.7h0.6M128.2 475.5h0.6M138.7 477.2h0.6M140.4 481.4h0.6M132.0 483.6h0.6M135.2 478.4h0.6M140.6 477.1h0.6M133.9 483.1h0.6M141.9 478.2h0.6M140.6 477.8h0.6M133.2 476.2h0.6M131.4 485.1h0.6M130.7 482.1h0.6M128.7 478.2h0.6M143.3 475.4h0.6M132.1 494.6h0.6M130.0 478.7h0.6M127.9 485.2h0.6M130.8 476.7h0.6M137.6 481.7h0.6M135.8 485.5h0.6M135.2 485.3h0.6M136.7 487.0h0.6M137.4 479.6h0.6M140.4 474.9h0.6M136.3 477.7h0.6M146.2 476.4h0.6M130.4 487.2h0.6M130.0 490.4h0.6M131.3 480.3h0.6M142.8 485.7h0.6M138.8 478.3h0.6M130.6 481.9h0.6M136.6 477.8h0.6M125.2 488.6h0.6M130.1 486.3h0.6M130.1 492.6h0.6M125.5 487.6h0.6M136.8 485.6h0.6M127.2 484.9h0.6M133.2 486.4h0.6M140.8 477.6h0.6M136.9 480.0h0.6M130.2 478.3h0.6M131.7 477.1h0.6M135.8 482.6h0.6M127.0 478.5h0.6M136.5 477.1h0.6M136.4 487.8h0.6M134.6 485.4h0.6M134.6 481.2h0.6M125.1 476.8h0.6M135.2 482.9h0.6M138.9 474.6h0.6M134.6 483.8h0.6M133.2 483.9h0.6M131.5 476.0h0.6M130.6 483.3h0.6M134.4 475.6h0.6M126.8 475.7h0.6M137.4 476.6h0.6M132.5 478.5h0.6M136.4 483.2h0.6M132.6 484.4h0.6M133.7 480.2h0.6M127.8 480.3h0.6M144.1 484.7h0.6M139.3 481.5h0.6M134.9 480.5h0.6M128.7 478.1h0.6M143.8 478.6h0.6M136.5 485.1h0.6M133.0 480.7h0.6M130.6 486.0h0.6M133.4 484.2h0.6M140.6 477.1h0.6M133.7 487.4h0.6M139.6 486.8h0.6M134.4 483.0h0.6M135.9 483.4h0.6M130.2 484.3h0.6M133.7 476.3h0.6M127.8 485.0h0.6M135.0 481.5h0.6M134.0 484.1h0.6M134.8 481.6h0.6M130.7 485.1h0.6M132.6 475.9h0.6M133.8 481.7h0.6M132.7 485.0h0.6M133.9 484.9h0.6M135.8 487.9h0.6M128.3 484.1h0.6M130.1 480.8h0.6M134.2 485.9h0.6M124.2 482.8h0.6M145.7 476.8h0.6M138.4 482.8h0.6M135.5 486.3h0.6M138.8 478.7h0.6M134.9 481.4h0.6M133.7 485.2h0.6M136.2 488.1h0.6M139.5 475.2h0.6M134.0 483.1h0.6M139.8 482.9h0.6M142.8 474.8h0.6M137.4 482.6h0.6M134.7 479.4h0.6M127.9 493.9h0.6M131.1 480.7h0.6M128.5 478.4h0.6M133.4 475.5h0.6M138.9 477.1h0.6M125.6 479.5h0.6M135.9 478.7h0.6M125.2 483.1h0.6M131.7 483.1h0.6M137.5 489.0h0.6M131.2 486.8h0.6M140.6 477.4h0.6M134.9 490.4h0.6M132.8 475.5h0.6M133.9 476.8h0.6M133.4 487.3h0.6M135.6 476.3h0.6M127.5 484.6h0.6M130.2 485.3h0.6M134.5 475.1h0.6M130.1 488.6h0.6M134.4 486.5h0.6M143.5 489.0h0.6M144.1 477.0h0.6M132.3 487.4h0.6M137.7 487.6h0.6M131.5 478.3h0.6M134.3 477.7h0.6M131.0 485.5h0.6M137.8 480.2h0.6M144.6 480.1h0.6M129.1 477.4h0.6M134.0 476.7h0.6M141.5 477.1h0.6M136.3 489.7h0.6M122.3 487.2h0.6M137.9 478.4h0.6M134.4 475.8h0.6M136.8 483.9h0.6M125.3 493.1h0.6M146.0 485.8h0.6M125.9 483.5h0.6M140.7 483.4h0.6M128.0 479.6h0.6M128.0 480.5h0.6M138.5 481.5h0.6M120.2 515.6h0.6M127.4 513.4h0.6M129.1 514.1h0.6M127.4 510.4h0.6M130.6 511.6h0.6M124.3 517.7h0.6M130.7 512.6h0.6M130.7 511.7h0.6M127.0 513.8h0.6M127.0 515.6h0.6M124.2 517.3h0.6M125.4 518.0h0.6M123.5 519.5h0.6M133.0 509.6h0.6M128.1 514.8h0.6M121.5 518.4h0.6M126.4 515.9h0.6M133.7 511.8h0.6M134.9 509.4h0.6M133.3 509.1h0.6M121.4 516.0h0.6M130.9 511.3h0.6M121.2 522.0h0.6M136.2 507.0h0.6M136.9 510.8h0.6M121.4 518.0h0.6M128.7 518.0h0.6M121.1 515.8h0.6M128.4 512.4h0.6M124.3 515.4h0.6M122.4 517.1h0.6M132.1 511.9h0.6M128.2 512.6h0.6M132.1 507.8h0.6M129.8 511.6h0.6M122.3 519.9h0.6M124.1 514.1h0.6M132.4 508.1h0.6M132.7 510.6h0.6M125.4 512.2h0.6M137.6 503.6h0.6M130.4 511.3h0.6M135.6 510.9h0.6M130.3 509.5h0.6M134.0 511.5h0.6M125.0 515.7h0.6M127.3 517.9h0.6M119.8 523.5h0.6M128.6 512.4h0.6M121.5 525.1h0.6M129.0 511.6h0.6M125.1 511.5h0.6M122.6 517.2h0.6M125.6 516.6h0.6M124.8 518.7h0.6M121.9 520.5h0.6M135.0 505.9h0.6M122.7 517.7h0.6M133.0 510.2h0.6M133.9 505.8h0.6M131.8 510.8h0.6M125.2 516.8h0.6M123.6 520.3h0.6M121.1 517.4h0.6M121.4 522.1h0.6M121.2 519.0h0.6M124.6 517.0h0.6M128.2 511.3h0.6M131.6 507.2h0.6M121.3 515.0h0.6M131.6 510.8h0.6M122.8 520.2h0.6M139.2 509.2h0.6M133.6 504.1h0.6M137.1 504.4h0.6M129.2 513.5h0.6M123.2 515.0h0.6M120.1 521.9h0.6M128.1 512.1h0.6M119.9 521.9h0.6M130.5 514.5h0.6M130.6 512.2h0.6M123.3 517.6h0.6M132.8 507.4h0.6M127.9 514.4h0.6M128.9 508.6h0.6M130.4 511.7h0.6M123.4 517.5h0.6M127.1 517.5h0.6M122.5 518.2h0.6M129.8 510.2h0.6M123.5 519.0h0.6M133.7 509.8h0.6M132.3 511.1h0.6M124.2 514.8h0.6M126.9 510.8h0.6M126.9 515.9h0.6M133.9 508.2h0.6M129.8 511.9h0.6M128.5 517.0h0.6M138.2 503.3h0.6M128.1 514.5h0.6M128.5 512.7h0.6M127.4 516.6h0.6M129.4 510.9h0.6M122.2 522.3h0.6M134.3 506.5h0.6M122.6 514.7h0.6M120.3 520.2h0.6M132.0 513.3h0.6M133.5 506.1h0.6M127.9 514.7h0.6M124.1 518.4h0.6M117.0 517.4h0.6M131.5 513.1h0.6M123.1 519.0h0.6M129.2 513.1h0.6M124.9 516.2h0.6M131.6 513.6h0.6M124.1 512.5h0.6M129.2 516.7h0.6M125.3 517.6h0.6M126.0 515.0h0.6M123.1 517.1h0.6M133.1 511.6h0.6M118.4 524.0h0.6M130.8 512.1h0.6M122.6 520.3h0.6M125.4 515.6h0.6M132.2 513.2h0.6M120.9 520.7h0.6M132.1 508.0h0.6M125.1 515.5h0.6M131.5 508.3h0.6M131.4 508.3h0.6M132.4 508.3h0.6M125.7 515.7h0.6M129.0 513.0h0.6M124.3 519.1h0.6M128.0 508.7h0.6M125.6 511.7h0.6M131.3 515.9h0.6M141.0 499.8h0.6M132.0 512.5h0.6M122.5 520.9h0.6M127.3 515.3h0.6M126.7 516.5h0.6M120.6 521.4h0.6M122.3 521.4h0.6M129.8 507.6h0.6M120.8 517.9h0.6M137.8 502.2h0.6M119.2 520.6h0.6M126.6 515.9h0.6M135.4 507.4h0.6M129.6 519.7h0.6M131.8 514.5h0.6M117.8 526.2h0.6M125.4 517.3h0.6M120.3 515.3h0.6M123.9 516.2h0.6M128.2 511.8h0.6M122.9 515.4h0.6M131.7 510.6h0.6M122.4 519.3h0.6M127.8 518.9h0.6M124.9 517.8h0.6M122.4 520.0h0.6M121.5 519.9h0.6M124.4 515.2h0.6M133.8 511.0h0.6M121.1 517.8h0.6M129.2 511.8h0.6M116.4 521.5h0.6M130.2 513.5h0.6M123.2 512.4h0.6M125.2 515.8h0.6M129.0 513.9h0.6M126.7 510.9h0.6M129.0 509.9h0.6M126.4 513.8h0.6M128.0 513.6h0.6M120.4 520.4h0.6M124.9 516.0h0.6M125.4 513.8h0.6M119.8 521.3h0.6M128.7 510.2h0.6M128.2 514.8h0.6M121.7 517.6h0.6M126.5 513.2h0.6M128.9 513.4h0.6M124.5 514.9h0.6M129.4 511.3h0.6M130.0 513.9h0.6M121.4 520.8h0.6M131.0 511.1h0.6M133.7 505.7h0.6M123.3 513.2h0.6M130.0 514.1h0.6M118.1 521.2h0.6M126.8 514.3h0.6M121.7 515.7h0.6M130.9 512.2h0.6M135.2 509.5h0.6M125.4 516.7h0.6M123.8 517.8h0.6M129.8 512.0h0.6M130.0 518.6h0.6M129.7 515.1h0.6M122.5 518.5h0.6M129.4 513.6h0.6M127.7 510.0h0.6M120.0 520.3h0.6M124.3 517.8h0.6M131.2 509.9h0.6M124.2 512.9h0.6M118.6 525.3h0.6M129.7 513.1h0.6M130.7 512.4h0.6M124.3 517.0h0.6M126.0 512.8h0.6M128.1 513.0h0.6M122.0 517.1h0.6M127.7 512.0h0.6M133.2 510.7h0.6M130.3 514.9h0.6M127.2 515.1h0.6M124.7 516.8h0.6M137.6 507.1h0.6M118.3 522.8h0.6M126.1 515.9h0.6M123.2 517.3h0.6M122.4 517.4h0.6M125.6 513.2h0.6M125.3 515.4h0.6M133.5 509.9h0.6M134.6 508.8h0.6M132.6 510.0h0.6M129.7 512.4h0.6M124.7 515.7h0.6M124.4 514.5h0.6M134.5 510.0h0.6M129.6 510.6h0.6M117.8 525.6h0.6M124.4 515.4h0.6M119.9 518.0h0.6M127.3 516.5h0.6M131.6 508.5h0.6M133.0 509.2h0.6M126.3 514.8h0.6M126.9 514.3h0.6M125.8 514.3h0.6M119.1 523.6h0.6M124.2 516.6h0.6M126.0 518.3h0.6M128.1 515.1h0.6M129.1 511.7h0.6M126.1 519.2h0.6M129.1 511.1h0.6M119.1 519.7h0.6M127.4 516.3h0.6M126.4 516.7h0.6M135.5 509.2h0.6M123.8 517.5h0.6M132.4 507.0h0.6M126.2 510.7h0.6M127.6 515.0h0.6M128.3 515.2h0.6M130.9 512.9h0.6M119.5 520.6h0.6M117.3 522.7h0.6M132.9 508.5h0.6M130.6 507.7h0.6M132.6 512.6h0.6M125.3 515.7h0.6M133.2 514.8h0.6M117.6 523.6h0.6M116.3 524.7h0.6M132.4 508.3h0.6M127.6 516.1h0.6M129.2 512.9h0.6M124.4 516.8h0.6M122.1 517.7h0.6M129.1 514.5h0.6M121.7 523.1h0.6M125.8 512.4h0.6M126.7 515.1h0.6M134.5 509.8h0.6M132.1 507.0h0.6M128.4 517.6h0.6M128.2 513.0h0.6M118.1 526.2h0.6M130.8 510.6h0.6M128.9 512.1h0.6M129.7 515.0h0.6M126.1 517.8h0.6M126.1 515.5h0.6M130.2 511.6h0.6M125.8 515.0h0.6M123.3 518.1h0.6M127.4 514.7h0.6M127.0 514.3h0.6M124.0 515.5h0.6M119.7 515.6h0.6M132.1 510.8h0.6M118.4 520.0h0.6M133.4 510.2h0.6M127.2 515.5h0.6M126.8 510.4h0.6M125.6 516.2h0.6M125.2 511.9h0.6M122.7 516.2h0.6M125.4 512.9h0.6M123.5 520.0h0.6M130.4 515.2h0.6M118.7 516.9h0.6M123.3 518.4h0.6M123.7 518.4h0.6M135.0 508.3h0.6M129.5 512.5h0.6M128.3 517.4h0.6M133.0 506.3h0.6M123.9 517.4h0.6M122.2 516.4h0.6M130.4 507.5h0.6M125.6 514.5h0.6M131.5 513.1h0.6M137.6 504.3h0.6M128.3 514.3h0.6M131.9 510.2h0.6M126.6 514.6h0.6M126.1 515.1h0.6M128.4 516.0h0.6M134.7 512.5h0.6M128.4 512.2h0.6M134.0 510.7h0.6M126.5 513.9h0.6M124.1 518.4h0.6M124.6 517.4h0.6M128.7 510.6h0.6M126.0 519.0h0.6M123.7 518.6h0.6M128.2 513.1h0.6M126.2 514.7h0.6M132.6 511.7h0.6M123.8 517.8h0.6M134.6 512.3h0.6M132.0 506.7h0.6M132.9 512.0h0.6M130.9 510.2h0.6M135.3 510.8h0.6M128.3 515.0h0.6M124.6 518.3h0.6M119.4 522.9h0.6M131.8 512.9h0.6M132.1 509.1h0.6M129.4 513.7h0.6M127.0 518.0h0.6M130.4 509.5h0.6M129.2 511.0h0.6M122.7 517.7h0.6M133.7 508.3h0.6M127.1 514.2h0.6M126.5 517.3h0.6M129.2 511.0h0.6M135.5 507.0h0.6M124.8 516.3h0.6M126.7 513.7h0.6M125.3 515.7h0.6M123.0 519.9h0.6M118.8 519.5h0.6M130.6 513.7h0.6M124.3 520.2h0.6M129.4 510.3h0.6M135.2 509.7h0.6M128.2 513.8h0.6M127.6 511.3h0.6M124.0 517.0h0.6M127.9 513.0h0.6M121.7 521.1h0.6M119.9 522.8h0.6M123.2 520.5h0.6M127.4 513.6h0.6M125.3 517.2h0.6M126.2 516.9h0.6M123.7 516.6h0.6M123.0 521.0h0.6M130.0 511.2h0.6M131.5 508.7h0.6M132.2 508.5h0.6M130.9 508.4h0.6M126.8 514.8h0.6M126.4 515.3h0.6M131.6 512.2h0.6M119.8 523.5h0.6M118.4 519.8h0.6M127.7 514.8h0.6M124.4 515.3h0.6M124.2 514.6h0.6M131.7 517.3h0.6M127.9 516.5h0.6M125.1 517.8h0.6M123.9 516.8h0.6M123.9 519.3h0.6M131.1 510.5h0.6M127.1 514.3h0.6M132.8 510.9h0.6M118.2 521.8h0.6M130.3 515.3h0.6M127.1 517.3h0.6M127.1 513.6h0.6M130.6 514.8h0.6M122.2 518.3h0.6M126.1 514.8h0.6M126.7 517.1h0.6M130.1 515.5h0.6M127.5 512.3h0.6M127.1 511.6h0.6M119.2 516.3h0.6M125.8 514.5h0.6M126.5 513.1h0.6M129.2 515.8h0.6M118.8 522.9h0.6M129.2 511.8h0.6M131.7 512.5h0.6M130.0 512.0h0.6M128.7 510.2h0.6M128.4 514.4h0.6M125.8 516.1h0.6M119.5 521.6h0.6M124.5 515.7h0.6M127.8 512.6h0.6M124.0 516.3h0.6M130.1 514.2h0.6M130.1 514.6h0.6M119.7 518.2h0.6M129.8 507.3h0.6M135.4 505.3h0.6M123.2 512.2h0.6M129.6 514.0h0.6M131.6 509.9h0.6M121.5 523.4h0.6M128.6 510.7h0.6M131.3 510.2h0.6M124.5 518.6h0.6M129.4 515.3h0.6M128.7 514.9h0.6M131.5 510.2h0.6M123.3 518.4h0.6M129.9 513.2h0.6M136.1 509.3h0.6M119.9 520.0h0.6M130.3 511.9h0.6M136.0 507.7h0.6M130.1 515.6h0.6M130.6 509.0h0.6M130.3 514.7h0.6M123.8 517.1h0.6M120.2 519.7h0.6M122.9 518.7h0.6M127.1 515.6h0.6M129.2 510.6h0.6M124.6 519.4h0.6M131.8 508.1h0.6M132.5 514.2h0.6M125.0 518.1h0.6M126.2 514.5h0.6M126.6 508.2h0.6M127.9 518.2h0.6M137.3 508.5h0.6M124.5 515.5h0.6M133.7 506.7h0.6M131.3 510.8h0.6M130.0 507.5h0.6M131.3 510.0h0.6M132.0 512.2h0.6M127.9 517.2h0.6M132.2 512.3h0.6M117.9 520.8h0.6M128.2 512.9h0.6M128.5 520.4h0.6M135.0 508.5h0.6M130.6 511.9h0.6M126.2 516.3h0.6M125.0 516.6h0.6M124.3 521.1h0.6M132.4 509.5h0.6M124.6 521.8h0.6M127.5 516.4h0.6M118.9 516.7h0.6M123.3 519.9h0.6M124.1 519.9h0.6M135.1 507.1h0.6M127.8 512.8h0.6M124.0 511.9h0.6M126.6 516.6h0.6M139.2 503.7h0.6M126.7 518.1h0.6M132.4 509.2h0.6M123.4 516.8h0.6M125.9 516.9h0.6M124.6 513.7h0.6M124.8 515.6h0.6M135.9 505.4h0.6M125.0 515.9h0.6M130.6 511.3h0.6M123.0 518.1h0.6M124.8 515.6h0.6M126.1 512.9h0.6M130.0 514.9h0.6M127.3 514.0h0.6M121.7 518.5h0.6M124.1 519.0h0.6M127.7 515.7h0.6M123.0 512.3h0.6M131.0 511.3h0.6M121.5 519.7h0.6M121.0 519.1h0.6M128.7 510.6h0.6M136.2 512.5h0.6M137.3 509.3h0.6M134.0 509.6h0.6M124.4 515.1h0.6M130.5 511.3h0.6M117.8 522.9h0.6M124.1 518.5h0.6M139.5 506.4h0.6M130.8 510.2h0.6M128.8 516.6h0.6M127.7 519.2h0.6M129.3 516.0h0.6M128.2 513.6h0.6M119.8 517.3h0.6M138.7 507.4h0.6M127.8 515.0h0.6M126.1 518.5h0.6M124.2 516.9h0.6M123.4 518.1h0.6M127.8 512.3h0.6M129.2 514.9h0.6M121.9 520.5h0.6M127.2 513.6h0.6M122.0 520.5h0.6M136.7 508.6h0.6M133.5 507.0h0.6M124.9 517.5h0.6M128.0 511.7h0.6M129.1 516.2h0.6M122.4 517.6h0.6M134.0 507.5h0.6M129.8 515.5h0.6M122.2 519.1h0.6M125.2 520.7h0.6M126.7 511.2h0.6M123.9 518.0h0.6M122.5 520.2h0.6M123.2 520.1h0.6M120.5 516.4h0.6M133.0 509.0h0.6M128.0 511.5h0.6M118.8 520.5h0.6M123.3 518.0h0.6M127.3 513.7h0.6M129.0 513.5h0.6M132.2 509.7h0.6M128.6 517.3h0.6M133.9 509.0h0.6M131.4 509.9h0.6M129.2 513.5h0.6M126.2 514.6h0.6M138.0 504.7h0.6M130.2 514.8h0.6M127.6 515.2h0.6M128.6 511.1h0.6M129.8 519.4h0.6M131.2 509.9h0.6M128.4 510.7h0.6M119.2 520.3h0.6M129.7 508.4h0.6M121.2 518.3h0.6M130.7 509.7h0.6M132.2 507.7h0.6M129.4 512.9h0.6M128.2 518.0h0.6M124.9 516.7h0.6M123.3 515.1h0.6M119.7 522.2h0.6M130.5 514.3h0.6M131.8 513.3h0.6M125.0 512.4h0.6M131.0 512.4h0.6M130.4 514.1h0.6M127.7 515.6h0.6M119.8 519.9h0.6M129.9 513.3h0.6M127.3 513.2h0.6M131.7 480.3h0.6M132.8 509.9h0.6M136.8 494.8h0.6M128.1 518.6h0.6M121.6 509.0h0.6M145.8 532.8h0.6M132.0 486.5h0.6M140.9 509.3h0.6M135.9 505.1h0.6M140.4 513.1h0.6M123.0 498.7h0.6M136.6 501.7h0.6M131.7 508.9h0.6M137.1 503.4h0.6M128.2 505.0h0.6M144.4 498.1h0.6M125.7 488.2h0.6M141.5 496.8h0.6M139.1 497.6h0.6M145.2 492.4h0.6M128.6 484.6h0.6M129.5 486.9h0.6M132.0 498.7h0.6M129.2 481.0h0.6M135.3 491.8h0.6M138.9 483.3h0.6M131.5 517.4h0.6M141.4 517.7h0.6M143.3 524.7h0.6M119.2 497.6h0.6M135.5 481.6h0.6M137.3 512.3h0.6M146.2 496.9h0.6M133.2 492.6h0.6M144.5 504.3h0.6M145.1 495.9h0.6M130.6 499.6h0.6M145.6 504.7h0.6M145.7 495.9h0.6M132.3 517.0h0.6M140.1 489.0h0.6M139.9 496.9h0.6M118.3 487.1h0.6M127.4 527.7h0.6M135.3 501.8h0.6M128.5 508.9h0.6M141.3 505.9h0.6M126.1 526.0h0.6M133.5 514.6h0.6M128.3 507.6h0.6M140.6 497.2h0.6M140.7 512.0h0.6M133.8 523.0h0.6M138.3 507.1h0.6M145.8 512.1h0.6M134.2 510.5h0.6M141.7 502.7h0.6M144.5 495.7h0.6M127.6 516.7h0.6M126.1 497.2h0.6M123.2 489.0h0.6M138.2 506.5h0.6M135.0 494.2h0.6" stroke="#000" stroke-width="0.6" fill="none" opacity="0.9"/>
<ellipse cx="124.3" cy="496.5" rx="3.8" ry="6.2" fill="#000" opacity="0.65" filter="url(#b2)" transform="rotate(10 124.3 496.5)"/>
<line x1="147.9" y1="473.2" x2="147.9" y2="535.3" stroke="#333" stroke-width="0.8" />
<text x="168.5" y="504" font-size="6.0" font-weight="normal" text-anchor="start" fill="#333" >Gate&#160;&#160;&#160;1</text>
<text x="166.7" y="513.5" font-size="7.3" font-weight="normal" text-anchor="start" fill="#111" >0.21%</text>
<text x="162" y="563.5" font-size="4.0" font-weight="normal" text-anchor="middle" fill="#555" >Raji2R CD20 overexpression.001</text>
<rect x="237.60" y="473.60" width="87.90" height="61.70" fill="none" stroke="#444" stroke-width="0.8" />
<line x1="237.6" y1="473.6" x2="237.6" y2="535.3" stroke="#333" stroke-width="1.4" />
<line x1="237.6" y1="535.3" x2="325.5" y2="535.3" stroke="#333" stroke-width="1.4" />
<line x1="235.4" y1="535.30" x2="237.6" y2="535.30" stroke="#333" stroke-width="0.9799999999999999" />
<text x="234.20" y="537.21" font-size="5.3" font-weight="normal" text-anchor="end" fill="#222" >0</text>
<line x1="236.4" y1="531.44" x2="237.6" y2="531.44" stroke="#555" stroke-width="0.5" />
<line x1="236.4" y1="527.59" x2="237.6" y2="527.59" stroke="#555" stroke-width="0.5" />
<line x1="236.4" y1="523.73" x2="237.6" y2="523.73" stroke="#555" stroke-width="0.5" />
<line x1="235.4" y1="519.88" x2="237.6" y2="519.88" stroke="#333" stroke-width="0.9799999999999999" />
<text x="234.20" y="521.78" font-size="5.3" font-weight="normal" text-anchor="end" fill="#222" >256</text>
<line x1="236.4" y1="516.02" x2="237.6" y2="516.02" stroke="#555" stroke-width="0.5" />
<line x1="236.4" y1="512.16" x2="237.6" y2="512.16" stroke="#555" stroke-width="0.5" />
<line x1="236.4" y1="508.31" x2="237.6" y2="508.31" stroke="#555" stroke-width="0.5" />
<line x1="235.4" y1="504.45" x2="237.6" y2="504.45" stroke="#333" stroke-width="0.9799999999999999" />
<text x="234.20" y="506.36" font-size="5.3" font-weight="normal" text-anchor="end" fill="#222" >512</text>
<line x1="236.4" y1="500.59" x2="237.6" y2="500.59" stroke="#555" stroke-width="0.5" />
<line x1="236.4" y1="496.74" x2="237.6" y2="496.74" stroke="#555" stroke-width="0.5" />
<line x1="236.4" y1="492.88" x2="237.6" y2="492.88" stroke="#555" stroke-width="0.5" />
<line x1="235.4" y1="489.02" x2="237.6" y2="489.02" stroke="#333" stroke-width="0.9799999999999999" />
<text x="234.20" y="490.93" font-size="5.3" font-weight="normal" text-anchor="end" fill="#222" >768</text>
<line x1="236.4" y1="485.17" x2="237.6" y2="485.17" stroke="#555" stroke-width="0.5" />
<line x1="236.4" y1="481.31" x2="237.6" y2="481.31" stroke="#555" stroke-width="0.5" />
<line x1="236.4" y1="477.46" x2="237.6" y2="477.46" stroke="#555" stroke-width="0.5" />
<line x1="235.4" y1="473.60" x2="237.6" y2="473.60" stroke="#333" stroke-width="0.9799999999999999" />
<text x="234.20" y="475.51" font-size="5.3" font-weight="normal" text-anchor="end" fill="#222" >1024</text>
<line x1="237.60" y1="535.3" x2="237.60" y2="537.5" stroke="#333" stroke-width="0.9799999999999999" />
<text transform="translate(236.80,549.60) scale(0.9,1.25)" font-size="5.4" text-anchor="middle" fill="#111">10<tspan font-size="3.78" dx="0.0" dy="-2.43">0</tspan></text>
<line x1="244.22" y1="535.3" x2="244.22" y2="536.5" stroke="#666" stroke-width="0.45" />
<line x1="248.08" y1="535.3" x2="248.08" y2="536.5" stroke="#666" stroke-width="0.45" />
<line x1="250.83" y1="535.3" x2="250.83" y2="536.5" stroke="#666" stroke-width="0.45" />
<line x1="252.96" y1="535.3" x2="252.96" y2="536.5" stroke="#666" stroke-width="0.45" />
<line x1="254.70" y1="535.3" x2="254.70" y2="536.5" stroke="#666" stroke-width="0.45" />
<line x1="256.17" y1="535.3" x2="256.17" y2="536.5" stroke="#666" stroke-width="0.45" />
<line x1="257.45" y1="535.3" x2="257.45" y2="536.5" stroke="#666" stroke-width="0.45" />
<line x1="258.57" y1="535.3" x2="258.57" y2="536.5" stroke="#666" stroke-width="0.45" />
<line x1="259.57" y1="535.3" x2="259.57" y2="537.5" stroke="#333" stroke-width="0.9799999999999999" />
<text transform="translate(258.77,549.60) scale(0.9,1.25)" font-size="5.4" text-anchor="middle" fill="#111">10<tspan font-size="3.78" dx="0.0" dy="-2.43">1</tspan></text>
<line x1="266.19" y1="535.3" x2="266.19" y2="536.5" stroke="#666" stroke-width="0.45" />
<line x1="270.06" y1="535.3" x2="270.06" y2="536.5" stroke="#666" stroke-width="0.45" />
<line x1="272.81" y1="535.3" x2="272.81" y2="536.5" stroke="#666" stroke-width="0.45" />
<line x1="274.93" y1="535.3" x2="274.93" y2="536.5" stroke="#666" stroke-width="0.45" />
<line x1="276.67" y1="535.3" x2="276.67" y2="536.5" stroke="#666" stroke-width="0.45" />
<line x1="278.15" y1="535.3" x2="278.15" y2="536.5" stroke="#666" stroke-width="0.45" />
<line x1="279.42" y1="535.3" x2="279.42" y2="536.5" stroke="#666" stroke-width="0.45" />
<line x1="280.54" y1="535.3" x2="280.54" y2="536.5" stroke="#666" stroke-width="0.45" />
<line x1="281.55" y1="535.3" x2="281.55" y2="537.5" stroke="#333" stroke-width="0.9799999999999999" />
<text transform="translate(280.75,549.60) scale(0.9,1.25)" font-size="5.4" text-anchor="middle" fill="#111">10<tspan font-size="3.78" dx="0.0" dy="-2.43">2</tspan></text>
<line x1="288.17" y1="535.3" x2="288.17" y2="536.5" stroke="#666" stroke-width="0.45" />
<line x1="292.03" y1="535.3" x2="292.03" y2="536.5" stroke="#666" stroke-width="0.45" />
<line x1="294.78" y1="535.3" x2="294.78" y2="536.5" stroke="#666" stroke-width="0.45" />
<line x1="296.91" y1="535.3" x2="296.91" y2="536.5" stroke="#666" stroke-width="0.45" />
<line x1="298.65" y1="535.3" x2="298.65" y2="536.5" stroke="#666" stroke-width="0.45" />
<line x1="300.12" y1="535.3" x2="300.12" y2="536.5" stroke="#666" stroke-width="0.45" />
<line x1="301.40" y1="535.3" x2="301.40" y2="536.5" stroke="#666" stroke-width="0.45" />
<line x1="302.52" y1="535.3" x2="302.52" y2="536.5" stroke="#666" stroke-width="0.45" />
<line x1="303.52" y1="535.3" x2="303.52" y2="537.5" stroke="#333" stroke-width="0.9799999999999999" />
<text transform="translate(302.72,549.60) scale(0.9,1.25)" font-size="5.4" text-anchor="middle" fill="#111">10<tspan font-size="3.78" dx="0.0" dy="-2.43">3</tspan></text>
<line x1="310.14" y1="535.3" x2="310.14" y2="536.5" stroke="#666" stroke-width="0.45" />
<line x1="314.01" y1="535.3" x2="314.01" y2="536.5" stroke="#666" stroke-width="0.45" />
<line x1="316.76" y1="535.3" x2="316.76" y2="536.5" stroke="#666" stroke-width="0.45" />
<line x1="318.88" y1="535.3" x2="318.88" y2="536.5" stroke="#666" stroke-width="0.45" />
<line x1="320.62" y1="535.3" x2="320.62" y2="536.5" stroke="#666" stroke-width="0.45" />
<line x1="322.10" y1="535.3" x2="322.10" y2="536.5" stroke="#666" stroke-width="0.45" />
<line x1="323.37" y1="535.3" x2="323.37" y2="536.5" stroke="#666" stroke-width="0.45" />
<line x1="324.49" y1="535.3" x2="324.49" y2="536.5" stroke="#666" stroke-width="0.45" />
<line x1="325.50" y1="535.3" x2="325.50" y2="537.5" stroke="#333" stroke-width="0.9799999999999999" />
<text transform="translate(324.70,549.60) scale(0.9,1.25)" font-size="5.4" text-anchor="middle" fill="#111">10<tspan font-size="3.78" dx="0.0" dy="-2.43">4</tspan></text>
<text transform="translate(219.3,507.55) rotate(-90)" font-size="7.3" font-weight="bold" text-anchor="middle" fill="#111">FSC-H</text>
<text x="278.55" y="555.00" font-size="7.1" font-weight="bold" text-anchor="middle" fill="#111" stroke="none">FL1-H</text>
<path d="M276.5 499.7h0.6M276.8 493.6h0.6M279.5 493.2h0.6M272.1 495.9h0.6M276.0 500.3h0.6M273.2 495.4h0.6M278.6 498.4h0.6M281.0 498.2h0.6M288.6 494.8h0.6M278.5 495.8h0.6M278.0 501.7h0.6M287.7 492.6h0.6M286.7 497.6h0.6M275.3 497.5h0.6M274.5 500.8h0.6M276.8 499.2h0.6M282.0 502.1h0.6M282.6 496.6h0.6M266.5 499.8h0.6M280.5 497.9h0.6M277.7 491.5h0.6M287.4 498.9h0.6M276.4 492.6h0.6M269.3 500.0h0.6M286.3 496.2h0.6M291.4 502.7h0.6M294.6 495.5h0.6M277.9 493.9h0.6M281.5 509.1h0.6M278.7 500.1h0.6M270.9 495.0h0.6M287.7 495.4h0.6M299.7 498.5h0.6M287.4 497.0h0.6M274.8 494.3h0.6M286.2 494.9h0.6M281.8 503.1h0.6M288.0 493.2h0.6M275.0 499.6h0.6M272.4 496.2h0.6M273.6 496.0h0.6M284.3 497.5h0.6M264.9 491.9h0.6M263.9 494.0h0.6M276.1 494.6h0.6M282.1 489.2h0.6M284.3 498.0h0.6M277.5 496.9h0.6M273.6 492.7h0.6M286.5 496.4h0.6M280.4 500.0h0.6M267.9 494.7h0.6M280.6 493.6h0.6M274.0 501.8h0.6M270.3 494.1h0.6M281.0 498.9h0.6M286.6 496.2h0.6M267.0 496.0h0.6M277.7 490.6h0.6M282.4 495.0h0.6M293.1 491.5h0.6M272.8 497.5h0.6M282.4 494.9h0.6M278.1 498.8h0.6M292.9 490.5h0.6M288.7 495.9h0.6M287.5 498.4h0.6M276.6 492.2h0.6M294.2 492.6h0.6M282.5 494.2h0.6M273.5 495.0h0.6M268.1 495.2h0.6M281.4 494.9h0.6M276.5 496.4h0.6M285.9 497.6h0.6M285.9 494.5h0.6M287.1 497.6h0.6M293.3 489.9h0.6M274.9 496.1h0.6M276.7 496.5h0.6M270.0 503.7h0.6M272.5 498.0h0.6M275.2 496.8h0.6M268.4 503.8h0.6M293.1 498.5h0.6M273.1 499.6h0.6M283.5 496.7h0.6M276.8 493.2h0.6M272.5 503.7h0.6M289.7 494.3h0.6M278.3 491.9h0.6M282.9 491.9h0.6M285.0 496.6h0.6M277.4 502.7h0.6M287.8 493.6h0.6M274.8 496.0h0.6M283.5 493.6h0.6M276.4 493.5h0.6M284.9 496.9h0.6M277.0 502.1h0.6M282.0 499.2h0.6M278.9 502.3h0.6M287.6 494.8h0.6M274.5 498.1h0.6M284.5 504.7h0.6M275.1 504.9h0.6M278.4 494.5h0.6M280.4 502.3h0.6M273.8 503.9h0.6M285.1 492.3h0.6M267.7 497.9h0.6M285.6 499.4h0.6M285.6 496.6h0.6M301.3 490.4h0.6M276.4 497.1h0.6M274.2 491.4h0.6M283.5 493.9h0.6M281.1 497.0h0.6M282.0 493.2h0.6M275.5 501.1h0.6M285.8 501.9h0.6M289.1 499.1h0.6M286.3 492.0h0.6M281.1 499.5h0.6M280.7 497.9h0.6M290.4 500.1h0.6M297.4 496.0h0.6M290.7 498.7h0.6M281.6 494.0h0.6M287.1 499.7h0.6M279.3 496.9h0.6M292.5 492.8h0.6M273.7 500.6h0.6M269.9 501.5h0.6M294.6 500.6h0.6M279.9 504.0h0.6M295.9 492.3h0.6M281.9 496.3h0.6M270.3 493.4h0.6M284.9 498.5h0.6M280.2 496.5h0.6M286.3 492.5h0.6M278.0 495.3h0.6M280.5 491.1h0.6M279.2 497.4h0.6M272.1 505.0h0.6M288.5 501.5h0.6M282.2 500.6h0.6M290.6 497.2h0.6M279.6 500.2h0.6M288.1 501.2h0.6M288.7 498.8h0.6M276.1 502.7h0.6M279.2 496.7h0.6M291.4 496.9h0.6M266.0 494.8h0.6M283.1 490.9h0.6M276.9 497.4h0.6M276.3 489.9h0.6M288.1 498.7h0.6M288.8 498.9h0.6M287.0 498.7h0.6M288.1 500.4h0.6M269.9 492.1h0.6M283.5 504.9h0.6M271.0 495.5h0.6M287.6 495.1h0.6M286.4 495.8h0.6M283.3 497.2h0.6M287.3 494.0h0.6M265.0 491.9h0.6M285.6 497.9h0.6M289.6 495.9h0.6M251.4 492.8h0.6M283.1 504.8h0.6M286.8 492.8h0.6M286.0 500.1h0.6M276.0 498.3h0.6M275.5 492.9h0.6M283.3 493.8h0.6M278.0 496.5h0.6M265.5 498.7h0.6M279.7 499.3h0.6M285.7 496.2h0.6M287.4 493.6h0.6M280.7 492.4h0.6M282.1 495.5h0.6M274.7 496.1h0.6M285.5 492.2h0.6M286.7 498.3h0.6M279.1 497.0h0.6M285.3 495.5h0.6M278.9 497.7h0.6M272.6 493.6h0.6M287.4 497.4h0.6M286.1 497.7h0.6M272.7 486.8h0.6M282.5 499.5h0.6M274.0 493.4h0.6M284.2 495.2h0.6M280.8 499.7h0.6M264.8 495.4h0.6M280.1 501.3h0.6M266.3 501.7h0.6M273.7 495.5h0.6M279.2 505.4h0.6M274.6 504.6h0.6M267.3 499.9h0.6M272.3 499.8h0.6M282.3 495.8h0.6M286.9 504.5h0.6M271.4 495.6h0.6M282.5 499.2h0.6M280.4 497.5h0.6M271.1 501.5h0.6M273.1 501.1h0.6M270.1 486.1h0.6M287.1 495.4h0.6M258.4 497.9h0.6M277.4 489.5h0.6M277.0 491.8h0.6M272.9 509.6h0.6M276.4 497.2h0.6M277.6 493.8h0.6M287.0 499.4h0.6M285.4 498.8h0.6M278.6 494.1h0.6M286.6 498.2h0.6M269.8 498.4h0.6M291.5 501.4h0.6M283.8 497.9h0.6M274.1 498.4h0.6M266.9 497.1h0.6M285.9 493.0h0.6M276.5 498.4h0.6M298.4 505.9h0.6M289.3 502.3h0.6M270.2 494.0h0.6M280.0 500.3h0.6M275.4 498.7h0.6M284.2 493.4h0.6M278.1 487.4h0.6M278.4 504.7h0.6M281.4 490.8h0.6M294.7 494.8h0.6M281.5 497.3h0.6M290.8 504.1h0.6M277.4 502.3h0.6M282.1 492.6h0.6M275.4 505.1h0.6M279.8 488.1h0.6M276.5 495.6h0.6M281.3 497.3h0.6M266.1 506.4h0.6M281.5 497.0h0.6M288.6 492.6h0.6M271.7 495.3h0.6M278.2 495.1h0.6M284.0 495.7h0.6M280.2 495.0h0.6M285.8 493.1h0.6M282.8 488.6h0.6M278.3 500.0h0.6M283.8 497.5h0.6M297.5 492.7h0.6M282.4 498.9h0.6M286.5 503.8h0.6M283.8 496.3h0.6M279.8 499.5h0.6M278.0 492.0h0.6M263.7 491.6h0.6M290.7 491.7h0.6M276.8 490.8h0.6M285.0 491.6h0.6M272.0 497.7h0.6M276.6 501.4h0.6M282.5 494.2h0.6M282.7 487.7h0.6M289.7 494.3h0.6M269.4 490.9h0.6M274.1 493.0h0.6M286.5 494.6h0.6M266.6 501.9h0.6M287.8 495.8h0.6M284.4 491.6h0.6M276.3 497.3h0.6M274.7 497.1h0.6M281.1 500.8h0.6M274.6 502.7h0.6M284.3 499.7h0.6M273.7 502.8h0.6M280.0 492.5h0.6M283.6 490.4h0.6M281.5 502.5h0.6M286.4 493.5h0.6M279.7 495.4h0.6M289.5 498.7h0.6M274.1 496.7h0.6M286.3 489.4h0.6M279.4 497.3h0.6M263.3 494.9h0.6M296.8 498.7h0.6M271.6 497.5h0.6M281.8 506.4h0.6M276.0 497.5h0.6M276.3 494.7h0.6M273.4 504.4h0.6M286.6 497.6h0.6M267.3 505.9h0.6M272.4 494.4h0.6M278.6 498.1h0.6M277.0 495.3h0.6M259.4 504.8h0.6M276.9 496.3h0.6M278.5 496.1h0.6M280.7 502.1h0.6M267.8 493.5h0.6M281.9 489.9h0.6M270.5 498.5h0.6M280.1 500.1h0.6M280.2 494.8h0.6M264.2 488.5h0.6M271.2 498.3h0.6M272.2 501.3h0.6M263.9 497.3h0.6M288.3 501.0h0.6M272.1 497.5h0.6M281.2 502.0h0.6M274.9 501.9h0.6M268.9 489.8h0.6M285.1 494.9h0.6M280.7 499.5h0.6M269.8 499.4h0.6M276.6 490.3h0.6M283.9 498.9h0.6M270.5 493.2h0.6M284.6 494.9h0.6M278.5 492.8h0.6M288.4 494.4h0.6M291.9 499.9h0.6M270.7 501.3h0.6M286.0 496.5h0.6M281.9 497.8h0.6M271.7 493.1h0.6M288.2 498.3h0.6M271.1 503.8h0.6M281.0 498.0h0.6M278.2 488.9h0.6M261.6 503.5h0.6M279.6 497.6h0.6M281.0 493.5h0.6M282.6 490.0h0.6M272.1 495.8h0.6M276.4 490.3h0.6M284.9 498.2h0.6M285.0 495.1h0.6M284.3 497.9h0.6M288.4 503.6h0.6M272.8 495.9h0.6M276.5 505.8h0.6M278.4 489.4h0.6M282.9 487.5h0.6M284.0 491.7h0.6M287.3 500.1h0.6M282.2 498.0h0.6M280.7 494.7h0.6M272.1 492.0h0.6M280.4 497.9h0.6M271.9 498.7h0.6M272.2 496.0h0.6M275.7 491.1h0.6M282.9 498.6h0.6M290.7 490.0h0.6M271.9 496.4h0.6M272.2 499.2h0.6M293.1 497.2h0.6M299.9 498.7h0.6M280.4 495.6h0.6M287.2 497.8h0.6M287.7 500.0h0.6M285.6 495.5h0.6M275.8 499.4h0.6M284.4 497.0h0.6M278.2 492.8h0.6M276.1 493.1h0.6M290.2 496.3h0.6M278.2 496.4h0.6M278.7 496.9h0.6M276.4 509.9h0.6M285.4 498.8h0.6M276.9 498.2h0.6M279.3 493.5h0.6M280.5 491.5h0.6M280.9 498.5h0.6M280.5 500.2h0.6M281.5 502.2h0.6M280.4 495.0h0.6M271.6 494.5h0.6M287.6 499.1h0.6M276.9 492.4h0.6M278.5 492.6h0.6M272.0 497.6h0.6M275.9 498.2h0.6M275.5 498.6h0.6M280.0 496.3h0.6M274.3 506.0h0.6M279.1 504.1h0.6M264.2 498.1h0.6M287.3 495.4h0.6M290.2 492.2h0.6M272.8 506.6h0.6M270.0 491.2h0.6M288.2 504.3h0.6M278.4 495.0h0.6M259.6 496.4h0.6M289.6 502.2h0.6M268.6 495.9h0.6M286.3 497.6h0.6M294.9 497.3h0.6M282.0 496.0h0.6M277.2 502.1h0.6M274.0 501.6h0.6M268.2 504.4h0.6M281.3 494.5h0.6M276.4 494.9h0.6M271.2 501.2h0.6M283.7 501.3h0.6M279.5 496.9h0.6M274.9 500.7h0.6M284.3 495.2h0.6M267.6 494.3h0.6M280.7 502.0h0.6M274.4 496.6h0.6M276.7 499.2h0.6M274.4 493.5h0.6M286.2 504.4h0.6M289.8 492.0h0.6M270.1 498.0h0.6M284.5 496.4h0.6M283.1 498.9h0.6M279.5 505.3h0.6M288.7 495.6h0.6M293.6 492.4h0.6M266.1 493.7h0.6M280.8 497.1h0.6M284.1 502.3h0.6M278.3 503.1h0.6M270.0 493.9h0.6M278.1 497.3h0.6M268.2 496.1h0.6M279.9 498.7h0.6M285.5 499.9h0.6M292.8 494.8h0.6M275.3 502.3h0.6M282.8 493.0h0.6M281.3 495.4h0.6M278.8 493.8h0.6M289.1 494.3h0.6M274.7 491.7h0.6M283.3 497.1h0.6M290.9 493.5h0.6M284.4 494.7h0.6M268.6 495.3h0.6M278.2 496.8h0.6M285.3 502.0h0.6M279.9 492.5h0.6M275.7 489.9h0.6M276.1 495.2h0.6M273.7 492.5h0.6M287.4 497.8h0.6M275.6 502.6h0.6M284.9 488.6h0.6M284.3 496.5h0.6M289.2 500.2h0.6M294.4 494.3h0.6M276.8 500.7h0.6M270.7 493.6h0.6M280.1 493.7h0.6M292.5 497.2h0.6M284.7 494.3h0.6M278.9 502.1h0.6M293.6 493.0h0.6M281.4 496.9h0.6M280.0 500.3h0.6M297.0 495.3h0.6M274.7 497.8h0.6M279.5 495.7h0.6M288.4 493.1h0.6M279.4 495.0h0.6M280.5 497.1h0.6M281.6 497.3h0.6M276.1 497.0h0.6M276.1 492.9h0.6M291.9 502.7h0.6M282.0 494.2h0.6M266.3 495.7h0.6M281.6 504.1h0.6M273.2 499.1h0.6M273.8 496.8h0.6M292.8 490.6h0.6M286.6 495.6h0.6M282.9 499.0h0.6M280.3 495.1h0.6M271.1 494.8h0.6M277.6 494.9h0.6M283.7 486.1h0.6M284.6 495.4h0.6M265.0 502.4h0.6M276.2 492.2h0.6M276.7 500.1h0.6M283.8 488.7h0.6M273.0 494.3h0.6M279.0 497.2h0.6M266.4 496.8h0.6M271.2 495.9h0.6M281.0 491.6h0.6M282.6 493.2h0.6M280.9 495.7h0.6M277.9 500.8h0.6M268.6 496.0h0.6M275.0 493.2h0.6M277.9 495.8h0.6M277.3 497.7h0.6M276.3 501.2h0.6M285.1 488.3h0.6M275.7 496.4h0.6M278.5 496.3h0.6M281.8 496.3h0.6M285.6 498.2h0.6M287.7 499.2h0.6M269.5 487.0h0.6M287.8 500.3h0.6M282.7 498.3h0.6M284.2 502.1h0.6M285.3 497.5h0.6M274.0 495.3h0.6M280.2 498.1h0.6M295.2 489.6h0.6M297.0 492.1h0.6M260.4 499.4h0.6M260.1 500.8h0.6M293.6 488.5h0.6M274.6 498.1h0.6M276.9 497.3h0.6M285.6 491.1h0.6M284.0 492.1h0.6M271.1 496.6h0.6M285.1 495.3h0.6M282.6 496.2h0.6M264.5 496.5h0.6M275.0 498.5h0.6M283.9 492.6h0.6M287.5 495.5h0.6M273.9 495.2h0.6M282.5 497.6h0.6M279.5 500.8h0.6M271.3 492.5h0.6M284.3 495.1h0.6M278.1 499.0h0.6M279.6 495.9h0.6M268.9 504.0h0.6M270.1 497.1h0.6M282.1 492.3h0.6M276.8 494.8h0.6M290.9 497.6h0.6M286.7 496.9h0.6M284.8 497.8h0.6M281.4 497.3h0.6M283.9 497.0h0.6M279.4 502.3h0.6M281.8 500.3h0.6M292.4 496.2h0.6M295.4 495.8h0.6M294.6 492.9h0.6M275.3 495.1h0.6M271.7 496.2h0.6M278.4 501.5h0.6M286.5 493.4h0.6M283.3 502.9h0.6M282.5 498.6h0.6M292.7 495.7h0.6M272.8 500.2h0.6M286.8 492.1h0.6M279.4 491.9h0.6M277.8 500.8h0.6M285.8 500.5h0.6M273.7 495.6h0.6M281.3 496.6h0.6M274.0 488.1h0.6M272.2 493.7h0.6M289.4 486.9h0.6M277.4 502.2h0.6M292.3 500.8h0.6M272.9 500.2h0.6M277.0 501.9h0.6M277.6 501.6h0.6M283.5 489.5h0.6M266.7 495.2h0.6M275.9 492.7h0.6M267.4 494.1h0.6M270.3 496.7h0.6M280.6 498.9h0.6M280.6 492.6h0.6M291.6 489.3h0.6M293.7 503.0h0.6M282.9 491.1h0.6M279.6 494.1h0.6M289.9 499.6h0.6M280.9 501.4h0.6M287.1 496.3h0.6M276.8 497.9h0.6M263.2 494.6h0.6M283.0 496.9h0.6M272.5 501.7h0.6M283.1 496.0h0.6M282.8 498.5h0.6M284.3 492.0h0.6M282.8 491.9h0.6M283.7 494.7h0.6M277.5 492.3h0.6M287.9 496.3h0.6M281.3 497.1h0.6M271.7 488.1h0.6M279.4 503.7h0.6M290.9 492.1h0.6M284.2 488.1h0.6M286.7 490.9h0.6M284.2 499.0h0.6M274.9 492.2h0.6M296.9 495.5h0.6M285.5 494.1h0.6M294.6 498.0h0.6M269.3 498.1h0.6M267.9 491.8h0.6M278.2 499.4h0.6M291.0 500.8h0.6M291.6 499.9h0.6M288.2 501.6h0.6M287.9 494.2h0.6M283.0 490.1h0.6M276.5 489.1h0.6M283.5 504.6h0.6M280.2 499.2h0.6M285.5 493.6h0.6M286.6 494.0h0.6M275.5 496.9h0.6M276.4 491.7h0.6M294.2 492.3h0.6M271.8 497.8h0.6M283.2 503.9h0.6M273.2 497.4h0.6M282.1 493.4h0.6M285.4 493.9h0.6M273.3 492.9h0.6M282.3 494.0h0.6M282.9 504.8h0.6M273.3 501.5h0.6M293.9 489.5h0.6M280.2 492.5h0.6M294.7 491.6h0.6M269.2 492.1h0.6M268.6 497.4h0.6M277.2 492.2h0.6M287.8 499.2h0.6M283.2 493.6h0.6M282.6 496.3h0.6M274.2 502.0h0.6M280.1 503.6h0.6M285.6 501.0h0.6M287.8 494.2h0.6M279.4 495.6h0.6M276.9 497.1h0.6M281.2 496.8h0.6M294.2 495.7h0.6M288.7 489.2h0.6M281.5 497.8h0.6M272.8 500.6h0.6M281.5 497.1h0.6M278.0 500.4h0.6M276.1 493.2h0.6M249.9 496.0h0.6M293.0 495.0h0.6M272.0 492.9h0.6M281.2 501.2h0.6M279.4 499.8h0.6M282.4 497.6h0.6M271.0 501.1h0.6M276.1 496.1h0.6M274.4 501.2h0.6M290.8 500.8h0.6M274.3 500.8h0.6M269.1 492.4h0.6M269.6 492.5h0.6M286.5 491.6h0.6M284.0 494.0h0.6M263.0 494.9h0.6M273.5 497.8h0.6M278.4 497.4h0.6M270.7 496.3h0.6M283.7 492.3h0.6M282.3 504.3h0.6M293.7 491.8h0.6M274.4 492.5h0.6M283.8 496.3h0.6M300.3 488.6h0.6M285.5 493.3h0.6M282.2 495.3h0.6M291.1 495.3h0.6M293.5 492.6h0.6M279.7 499.9h0.6M288.0 490.0h0.6M295.9 503.9h0.6M279.3 499.2h0.6M277.7 496.3h0.6M287.7 498.9h0.6M284.9 503.4h0.6M286.4 492.0h0.6M281.8 507.0h0.6M278.6 493.0h0.6M279.5 497.2h0.6M281.8 495.1h0.6M266.7 494.5h0.6M285.5 501.8h0.6M296.9 498.8h0.6M276.6 506.8h0.6M271.7 505.4h0.6M292.5 495.3h0.6M286.7 487.8h0.6M285.0 495.2h0.6M273.6 499.3h0.6M271.4 493.2h0.6M287.6 494.1h0.6M289.3 491.5h0.6M277.4 490.7h0.6M287.4 493.1h0.6M287.6 495.4h0.6M282.5 502.9h0.6M275.1 498.5h0.6M277.6 498.1h0.6M272.3 498.5h0.6M264.3 494.9h0.6M263.9 496.2h0.6M282.9 499.0h0.6M285.8 493.1h0.6M276.1 495.9h0.6M279.6 499.3h0.6M294.7 494.4h0.6M282.9 497.9h0.6M289.3 493.7h0.6M292.6 490.3h0.6M272.2 502.9h0.6M288.2 495.4h0.6M269.5 497.8h0.6M285.4 494.6h0.6M273.1 491.1h0.6M288.4 487.9h0.6M272.4 496.5h0.6M275.4 499.5h0.6M288.2 488.1h0.6M277.5 492.6h0.6M278.5 494.9h0.6M289.6 491.2h0.6M286.7 500.3h0.6M277.6 492.9h0.6M285.9 494.0h0.6M287.2 495.4h0.6M280.1 500.4h0.6M284.8 494.1h0.6M284.5 485.9h0.6M284.0 502.2h0.6M287.8 489.7h0.6M293.0 494.4h0.6M280.8 493.3h0.6M294.7 497.4h0.6M286.6 486.4h0.6M277.5 495.7h0.6M280.3 498.3h0.6M289.0 498.1h0.6M288.9 491.6h0.6M296.5 490.8h0.6M279.7 503.7h0.6M278.6 501.9h0.6M270.9 498.7h0.6M272.9 506.9h0.6M275.3 499.8h0.6M286.1 499.1h0.6M275.7 493.3h0.6M286.1 491.1h0.6M276.5 497.3h0.6M277.7 492.5h0.6M290.9 507.3h0.6M286.8 498.8h0.6M279.3 499.5h0.6M291.4 494.2h0.6M273.1 497.2h0.6M282.8 490.6h0.6M271.6 498.0h0.6M288.8 496.6h0.6M285.5 502.3h0.6M278.6 490.9h0.6M278.2 501.6h0.6M291.0 489.0h0.6M281.9 495.9h0.6M275.0 488.3h0.6M269.0 492.7h0.6M291.1 501.7h0.6M292.9 497.3h0.6M289.6 499.0h0.6M286.7 499.4h0.6M282.4 496.0h0.6M279.5 495.7h0.6M274.6 499.1h0.6M286.3 499.3h0.6M280.2 493.4h0.6M285.8 497.0h0.6M281.5 497.5h0.6M281.9 487.7h0.6M288.3 495.5h0.6M282.4 498.0h0.6M302.4 494.1h0.6M291.7 492.6h0.6M279.1 492.9h0.6M282.2 495.7h0.6M291.6 501.5h0.6M299.1 495.0h0.6M270.4 488.6h0.6M280.6 496.3h0.6M267.8 496.6h0.6M283.8 500.8h0.6M279.6 499.0h0.6M283.0 497.5h0.6M289.0 500.2h0.6M272.0 494.2h0.6M276.5 498.8h0.6M283.2 501.9h0.6M277.2 501.5h0.6M277.2 497.3h0.6M271.0 508.0h0.6M266.0 490.0h0.6M280.3 492.7h0.6M294.0 495.2h0.6M294.3 499.9h0.6M301.1 499.8h0.6M289.0 498.2h0.6M279.7 489.6h0.6M268.7 494.7h0.6M284.0 492.6h0.6M276.7 491.7h0.6M277.9 500.9h0.6M270.7 503.7h0.6M271.9 497.8h0.6M287.5 501.5h0.6M276.8 494.9h0.6M279.4 496.8h0.6M284.6 495.9h0.6M290.5 497.8h0.6M272.4 500.7h0.6M295.8 493.9h0.6M280.6 500.2h0.6M278.2 495.6h0.6M284.3 502.5h0.6M267.1 500.8h0.6M277.2 499.1h0.6M281.7 492.1h0.6M277.9 489.6h0.6M275.4 495.6h0.6M284.6 491.9h0.6M281.5 495.4h0.6M277.1 489.7h0.6M276.4 502.8h0.6M279.5 497.2h0.6M275.7 494.4h0.6M290.5 491.2h0.6M286.1 498.7h0.6M272.6 500.4h0.6M277.8 497.0h0.6M271.8 500.0h0.6M285.1 501.7h0.6M285.0 502.4h0.6M279.9 499.4h0.6M281.4 493.5h0.6M284.4 494.5h0.6M282.3 495.4h0.6M291.5 494.3h0.6M280.7 498.6h0.6M288.8 491.1h0.6M295.8 500.9h0.6M271.6 499.5h0.6M274.7 496.8h0.6M270.5 504.8h0.6M276.9 496.4h0.6M280.5 489.5h0.6M284.0 496.4h0.6M268.0 493.4h0.6M280.5 499.4h0.6M278.3 497.1h0.6M289.5 500.0h0.6M273.1 499.3h0.6M283.6 505.6h0.6M292.1 491.5h0.6M284.9 491.7h0.6M283.9 495.3h0.6M271.2 495.3h0.6M273.2 495.8h0.6M268.0 494.5h0.6M292.7 492.5h0.6M282.0 491.4h0.6M284.3 497.3h0.6M284.4 496.6h0.6M293.3 491.9h0.6M278.6 495.4h0.6M285.1 493.1h0.6M273.3 494.8h0.6M292.1 493.0h0.6M278.1 498.7h0.6M271.4 497.7h0.6M276.8 497.5h0.6M263.5 497.3h0.6M272.7 491.8h0.6M279.2 496.1h0.6M277.0 493.7h0.6M279.8 494.1h0.6M277.8 492.9h0.6M273.1 487.0h0.6M288.4 496.4h0.6M269.8 500.3h0.6M273.9 499.7h0.6M275.6 496.8h0.6M284.9 492.0h0.6M281.9 499.0h0.6M275.9 495.5h0.6M276.7 497.4h0.6M289.0 501.3h0.6M291.7 502.0h0.6M280.2 501.4h0.6M274.6 498.1h0.6M283.1 494.5h0.6M294.0 498.0h0.6M276.2 489.6h0.6M283.8 497.5h0.6M272.8 498.2h0.6M280.2 500.9h0.6M287.0 496.1h0.6M283.3 494.8h0.6M274.3 493.0h0.6M278.2 495.8h0.6M277.8 496.4h0.6M284.9 496.6h0.6M272.0 492.1h0.6M279.7 500.3h0.6M289.3 501.4h0.6M290.0 501.1h0.6M283.6 499.0h0.6M290.6 491.4h0.6M284.7 494.6h0.6M286.1 492.8h0.6M295.2 493.1h0.6M274.5 497.0h0.6M287.2 490.2h0.6M266.6 501.0h0.6M275.1 496.5h0.6M281.2 497.7h0.6M281.4 500.1h0.6M291.8 497.7h0.6M282.3 495.2h0.6M294.1 494.0h0.6M275.4 491.1h0.6M281.1 501.0h0.6M276.7 498.5h0.6M264.1 494.1h0.6M277.6 496.6h0.6M281.8 493.0h0.6M276.0 503.1h0.6M275.2 494.4h0.6M275.4 497.0h0.6M273.2 496.4h0.6M276.7 493.4h0.6M268.9 497.9h0.6M282.0 502.1h0.6M260.8 499.1h0.6M266.0 501.5h0.6M278.2 488.4h0.6M283.7 504.0h0.6M277.9 494.9h0.6M269.1 502.2h0.6M278.4 494.4h0.6M269.2 499.9h0.6M283.3 503.2h0.6M293.0 498.3h0.6M283.0 493.2h0.6M272.7 490.2h0.6M284.8 489.0h0.6M290.5 487.3h0.6M272.3 495.8h0.6M286.5 494.0h0.6M277.4 495.3h0.6M283.7 496.3h0.6M285.8 498.9h0.6M273.3 497.4h0.6M270.1 496.0h0.6M299.1 500.1h0.6M293.3 498.7h0.6M292.0 499.9h0.6M284.2 495.2h0.6M283.0 496.2h0.6M285.4 495.0h0.6M278.3 495.5h0.6M280.2 493.8h0.6M284.7 501.6h0.6M285.0 498.3h0.6M279.3 496.4h0.6M277.2 488.9h0.6M292.8 502.5h0.6M278.5 496.9h0.6M275.1 503.7h0.6M281.6 491.5h0.6M277.0 498.3h0.6M267.0 496.6h0.6M270.5 496.1h0.6M260.0 496.6h0.6M267.3 493.9h0.6M288.9 492.1h0.6M278.4 492.1h0.6M255.8 502.7h0.6M274.9 501.8h0.6M290.4 495.9h0.6M268.4 496.2h0.6M287.6 493.6h0.6M271.2 500.9h0.6M276.0 497.2h0.6M276.6 499.0h0.6M285.9 494.7h0.6M274.2 498.6h0.6M277.5 488.9h0.6M272.6 496.0h0.6M287.0 497.4h0.6M281.5 495.5h0.6M269.2 491.1h0.6M272.9 498.5h0.6M276.2 501.3h0.6M277.5 495.0h0.6M278.3 495.4h0.6M282.0 497.7h0.6M279.4 494.1h0.6M288.3 492.2h0.6M273.1 496.1h0.6M282.5 486.3h0.6M290.3 498.0h0.6M285.5 497.2h0.6M285.3 502.7h0.6M278.1 489.9h0.6M272.1 492.7h0.6M267.1 493.3h0.6M274.6 500.2h0.6M274.0 488.2h0.6M290.5 486.4h0.6M271.3 496.8h0.6M284.0 503.6h0.6M281.6 494.4h0.6M295.0 500.2h0.6M272.5 497.8h0.6M291.0 490.8h0.6M269.3 498.3h0.6M285.1 493.2h0.6M291.5 494.2h0.6M275.8 493.4h0.6M282.9 493.3h0.6M288.1 495.9h0.6M274.0 497.4h0.6M272.3 497.1h0.6M268.6 503.8h0.6M280.0 492.8h0.6M272.1 499.7h0.6M293.7 498.4h0.6M280.4 502.0h0.6M289.1 497.0h0.6M280.7 500.0h0.6M297.2 494.4h0.6M290.9 499.1h0.6M278.4 494.5h0.6M280.8 497.3h0.6M264.1 495.9h0.6M282.7 501.5h0.6M272.5 496.0h0.6M286.8 502.0h0.6M286.5 496.2h0.6M274.2 504.0h0.6M288.0 496.5h0.6M271.3 496.8h0.6M273.3 493.7h0.6M265.2 496.4h0.6M275.2 494.0h0.6M274.6 494.2h0.6M284.6 499.9h0.6M286.9 498.2h0.6M277.7 507.1h0.6M288.3 493.3h0.6M290.1 490.2h0.6M262.9 502.6h0.6M277.3 497.1h0.6M278.3 496.8h0.6M293.9 499.8h0.6M286.1 499.3h0.6M282.6 492.6h0.6M275.3 498.4h0.6M284.2 495.1h0.6M290.5 499.0h0.6M279.4 499.8h0.6M272.2 491.7h0.6M288.0 500.8h0.6M268.2 496.8h0.6M277.7 495.5h0.6M287.6 496.7h0.6M273.0 486.1h0.6M278.9 499.7h0.6M269.8 496.2h0.6M293.3 500.7h0.6M279.9 496.0h0.6M284.7 505.9h0.6M275.9 501.1h0.6M295.4 501.4h0.6M291.3 494.0h0.6M281.2 498.8h0.6M284.4 491.8h0.6M267.2 508.9h0.6M282.4 496.4h0.6M290.4 500.5h0.6M276.5 498.2h0.6M278.1 493.7h0.6M277.4 495.9h0.6M284.0 495.0h0.6M282.0 499.9h0.6M267.2 499.6h0.6M286.0 494.9h0.6M277.0 500.7h0.6M280.0 497.3h0.6M277.0 495.0h0.6M275.6 495.5h0.6M281.8 500.0h0.6M270.7 497.2h0.6M269.5 499.1h0.6M278.7 499.9h0.6M289.2 494.0h0.6M277.3 496.6h0.6M278.2 493.8h0.6M278.7 489.1h0.6M280.8 496.6h0.6M276.8 490.7h0.6M291.9 495.7h0.6M282.7 497.9h0.6M280.8 493.2h0.6M283.3 496.3h0.6M286.1 497.9h0.6M289.4 492.7h0.6M279.3 498.4h0.6M281.5 495.7h0.6M282.7 493.4h0.6M275.9 499.5h0.6M275.6 497.5h0.6M279.3 498.6h0.6M283.5 502.7h0.6M280.0 497.8h0.6M261.5 502.0h0.6M271.1 503.7h0.6M281.5 496.7h0.6M276.9 499.1h0.6M280.2 497.1h0.6M276.4 497.4h0.6M288.5 493.0h0.6M283.8 491.2h0.6M286.2 493.6h0.6M271.0 496.1h0.6M288.9 494.2h0.6M275.1 503.5h0.6M295.1 494.1h0.6M277.2 495.2h0.6M279.1 495.7h0.6M265.9 499.5h0.6M282.1 494.2h0.6M273.3 492.0h0.6M275.2 501.8h0.6M286.6 495.6h0.6M297.6 500.6h0.6M276.0 504.6h0.6M270.6 497.5h0.6M263.3 496.2h0.6M275.3 496.4h0.6M283.0 497.2h0.6M269.7 495.5h0.6M272.5 493.9h0.6M291.1 501.1h0.6M289.1 502.0h0.6M289.5 496.6h0.6M272.2 493.1h0.6M274.2 492.1h0.6M271.8 499.9h0.6M277.7 499.4h0.6M278.1 490.7h0.6M283.8 492.7h0.6M285.7 495.6h0.6M284.7 497.0h0.6M286.8 496.1h0.6M287.9 499.4h0.6M277.9 485.4h0.6M278.1 498.6h0.6M275.0 500.6h0.6M296.8 496.8h0.6M279.4 492.7h0.6M273.7 497.7h0.6M274.0 503.4h0.6M277.5 492.9h0.6M280.4 497.6h0.6M279.5 493.1h0.6M280.9 499.3h0.6M293.4 495.1h0.6M275.1 491.2h0.6M281.3 493.8h0.6M291.1 491.6h0.6M270.1 497.7h0.6M272.4 494.7h0.6M289.1 495.7h0.6M272.0 499.2h0.6M283.8 492.1h0.6M273.5 495.5h0.6M286.4 502.3h0.6M294.7 501.0h0.6M275.2 492.5h0.6M273.2 495.3h0.6M280.8 499.0h0.6M272.3 493.7h0.6M270.9 498.6h0.6M274.1 497.8h0.6M278.4 494.6h0.6M293.0 493.1h0.6M286.9 488.4h0.6M289.1 490.1h0.6M287.9 495.1h0.6M278.4 499.1h0.6M271.8 494.9h0.6M285.9 495.8h0.6M273.7 489.3h0.6M291.0 492.4h0.6M278.0 498.9h0.6M274.7 500.4h0.6M284.3 492.3h0.6M283.2 490.9h0.6M284.7 495.9h0.6M276.6 501.2h0.6M283.2 498.2h0.6M269.6 496.6h0.6M284.1 499.0h0.6M268.8 502.2h0.6M282.8 501.2h0.6M283.4 492.1h0.6M288.9 501.6h0.6M284.3 494.2h0.6M273.1 501.8h0.6M278.3 504.0h0.6M287.0 501.0h0.6M287.0 494.0h0.6M276.3 490.7h0.6M284.3 499.4h0.6M291.9 504.6h0.6M275.1 488.8h0.6M284.7 493.5h0.6M284.7 491.0h0.6M279.8 501.6h0.6M283.2 493.4h0.6M292.3 500.5h0.6M284.3 491.0h0.6M282.3 497.8h0.6M280.0 499.6h0.6M278.1 501.2h0.6M271.4 493.0h0.6M272.6 500.4h0.6M269.2 501.2h0.6M278.7 497.9h0.6M273.1 497.9h0.6M267.7 500.7h0.6M289.4 490.0h0.6M278.9 492.1h0.6M288.1 492.2h0.6M291.2 504.5h0.6M292.5 503.5h0.6M280.2 503.0h0.6M262.1 497.6h0.6M284.3 496.8h0.6M280.2 492.4h0.6M268.9 497.6h0.6M261.1 488.2h0.6M289.0 496.9h0.6M289.1 490.2h0.6M290.8 499.1h0.6M292.0 501.5h0.6M290.2 495.6h0.6M284.8 494.6h0.6M283.8 495.9h0.6M288.7 494.1h0.6M285.1 493.6h0.6M282.0 495.8h0.6M285.9 497.7h0.6M277.0 491.7h0.6M274.6 498.6h0.6M296.4 496.6h0.6M298.5 496.8h0.6M290.8 503.0h0.6M274.9 496.5h0.6M278.0 500.3h0.6M288.8 497.6h0.6M284.9 497.8h0.6M279.9 495.5h0.6M294.8 490.4h0.6M281.7 492.6h0.6M281.2 495.4h0.6M281.2 491.5h0.6M276.1 502.3h0.6M288.6 493.0h0.6M267.9 490.4h0.6M281.5 500.6h0.6M286.7 493.3h0.6M293.6 499.9h0.6M286.2 498.0h0.6M272.0 496.5h0.6M287.5 496.1h0.6M287.2 497.1h0.6M281.9 502.6h0.6M276.6 498.8h0.6M271.4 493.9h0.6M278.5 496.7h0.6M282.7 495.4h0.6M302.8 504.0h0.6M285.2 499.6h0.6M282.4 490.1h0.6M267.7 490.7h0.6M271.7 496.8h0.6M276.3 502.3h0.6M280.0 497.5h0.6M280.0 491.8h0.6M289.4 496.3h0.6M293.1 493.0h0.6M291.0 501.8h0.6M275.8 495.4h0.6M277.5 494.3h0.6M274.5 498.8h0.6M269.4 499.6h0.6M270.7 491.5h0.6M284.2 497.2h0.6M274.6 497.8h0.6M286.0 497.8h0.6M278.8 496.5h0.6M277.1 501.8h0.6M281.4 498.4h0.6M281.7 490.1h0.6M303.5 497.3h0.6M275.6 493.0h0.6M283.4 495.2h0.6M270.3 497.0h0.6M277.9 493.6h0.6M292.5 493.0h0.6M285.7 493.2h0.6M295.8 498.2h0.6M267.7 496.7h0.6M274.3 493.6h0.6M282.1 498.3h0.6M272.7 488.1h0.6M275.7 503.1h0.6M270.3 501.0h0.6M286.3 500.7h0.6M277.8 494.5h0.6M280.3 498.4h0.6M270.7 493.1h0.6M277.7 498.0h0.6M294.2 498.6h0.6M286.8 498.8h0.6M281.0 495.7h0.6M274.2 490.7h0.6M278.7 497.8h0.6M281.5 495.2h0.6M296.1 498.7h0.6M282.5 497.8h0.6M279.1 494.3h0.6M279.5 493.4h0.6M272.5 500.0h0.6M282.8 499.0h0.6M272.8 490.8h0.6M275.1 502.3h0.6M277.5 494.7h0.6M297.9 499.4h0.6M294.5 493.5h0.6M279.3 489.6h0.6M287.5 499.3h0.6M282.4 494.3h0.6M285.9 500.8h0.6M280.4 494.6h0.6M287.0 494.4h0.6M294.5 495.8h0.6M280.7 493.7h0.6M291.2 495.3h0.6M281.2 494.7h0.6M287.9 496.5h0.6M272.8 507.5h0.6M285.9 502.3h0.6M274.7 495.7h0.6M275.4 494.9h0.6M282.0 496.3h0.6M299.0 490.5h0.6M283.9 497.5h0.6M290.6 498.4h0.6M285.9 498.1h0.6M279.0 491.7h0.6M271.7 493.7h0.6M273.3 487.8h0.6M267.0 493.2h0.6M284.4 490.4h0.6M280.7 499.3h0.6M282.2 490.9h0.6M284.9 497.7h0.6M296.8 494.7h0.6M278.5 495.9h0.6M283.5 495.2h0.6M285.4 496.4h0.6M287.1 497.0h0.6M279.4 499.6h0.6M291.6 496.0h0.6M276.4 491.3h0.6M281.7 493.1h0.6M267.2 499.6h0.6M282.6 489.2h0.6M279.9 497.0h0.6M278.2 502.9h0.6M275.5 500.9h0.6M285.2 504.6h0.6M287.5 493.2h0.6M301.2 495.6h0.6M276.6 498.2h0.6M286.1 495.5h0.6M285.9 496.0h0.6M291.9 489.2h0.6M277.0 499.9h0.6M276.2 496.5h0.6M281.2 497.2h0.6M276.6 490.4h0.6M281.5 500.6h0.6M275.6 495.6h0.6M281.9 494.0h0.6M289.9 499.0h0.6M281.9 496.7h0.6M284.7 498.5h0.6M287.4 490.6h0.6M287.7 499.0h0.6M284.2 491.2h0.6M268.6 497.9h0.6M272.3 501.9h0.6M292.6 495.6h0.6M275.1 501.1h0.6M279.9 500.7h0.6M289.4 493.2h0.6M274.1 494.1h0.6M264.7 489.4h0.6M274.1 496.8h0.6M287.4 497.3h0.6M288.7 499.0h0.6M285.9 492.1h0.6M299.0 498.2h0.6M290.8 496.7h0.6M265.9 496.1h0.6M266.5 504.3h0.6M279.5 497.2h0.6M266.3 496.1h0.6M288.3 494.3h0.6M264.8 500.1h0.6M281.0 494.7h0.6M272.6 506.9h0.6M285.4 498.2h0.6M296.8 495.0h0.6M281.3 492.9h0.6M260.8 490.4h0.6M275.2 493.8h0.6M274.2 497.0h0.6M281.0 493.6h0.6M292.5 489.4h0.6M277.1 495.3h0.6M275.0 492.8h0.6M269.3 492.0h0.6M267.8 501.3h0.6M270.3 498.2h0.6M279.2 496.2h0.6M285.4 500.8h0.6M282.0 497.4h0.6M276.2 491.1h0.6M283.3 495.5h0.6M275.0 497.0h0.6M288.7 497.7h0.6M270.2 495.1h0.6M267.4 497.2h0.6M281.4 500.6h0.6M275.4 494.9h0.6M291.3 501.8h0.6M275.7 500.4h0.6M283.3 491.5h0.6M283.3 496.4h0.6M290.3 493.5h0.6M291.0 496.9h0.6M270.2 502.3h0.6M264.9 496.8h0.6M274.5 503.8h0.6M285.4 486.7h0.6M287.3 502.2h0.6M275.9 494.5h0.6M295.8 496.9h0.6M279.8 501.6h0.6M291.7 492.6h0.6M280.2 497.5h0.6M269.7 500.6h0.6M276.6 506.5h0.6M287.9 497.6h0.6M289.3 488.8h0.6M282.0 490.8h0.6M297.8 502.1h0.6M283.3 491.6h0.6M286.5 495.4h0.6M285.8 494.4h0.6M279.2 491.8h0.6M272.3 501.7h0.6M282.4 499.2h0.6M280.6 489.1h0.6M278.1 498.0h0.6M284.1 497.6h0.6M279.4 501.8h0.6M290.1 496.6h0.6M288.7 492.9h0.6M278.0 489.1h0.6M293.5 493.0h0.6M281.5 496.4h0.6M269.7 497.8h0.6M271.8 492.9h0.6M278.3 496.6h0.6M286.4 497.4h0.6M277.2 504.3h0.6M290.9 499.3h0.6M299.1 496.7h0.6M274.6 497.5h0.6M283.1 496.8h0.6M275.2 492.0h0.6M292.1 505.1h0.6M267.9 495.2h0.6M288.7 496.7h0.6M278.7 503.6h0.6M282.9 495.1h0.6M284.0 496.6h0.6M277.0 503.8h0.6M275.1 496.3h0.6M296.4 494.3h0.6M286.5 497.5h0.6M285.0 494.0h0.6M293.7 498.8h0.6M276.5 496.0h0.6M289.1 496.2h0.6M280.5 494.2h0.6M269.2 501.3h0.6M276.3 486.7h0.6M283.1 502.3h0.6M274.9 490.6h0.6M274.1 496.0h0.6M287.2 495.9h0.6M282.8 491.7h0.6M277.9 499.5h0.6M269.2 502.3h0.6M286.5 491.7h0.6M290.7 487.8h0.6M282.8 485.6h0.6M286.8 493.4h0.6M280.5 506.5h0.6M291.1 493.8h0.6M290.1 492.4h0.6M284.2 494.6h0.6M289.6 492.9h0.6M281.3 492.1h0.6M293.9 493.0h0.6M290.7 496.5h0.6M280.9 501.7h0.6M291.7 498.5h0.6M284.2 493.3h0.6M280.6 491.2h0.6M283.8 490.2h0.6M278.1 494.3h0.6M286.7 499.9h0.6M281.3 493.6h0.6M282.5 500.5h0.6M297.8 493.2h0.6M262.8 500.7h0.6M278.9 493.0h0.6M292.4 493.0h0.6M275.8 498.6h0.6M271.8 494.4h0.6M292.4 493.5h0.6M295.3 497.1h0.6M278.9 495.4h0.6M284.1 496.2h0.6M279.0 503.1h0.6M296.3 495.2h0.6M307.0 498.8h0.6M281.7 501.6h0.6M305.9 501.2h0.6M307.9 504.0h0.6M303.9 494.5h0.6M309.4 497.0h0.6M313.6 502.0h0.6M323.9 489.3h0.6M317.4 508.5h0.6M304.0 495.7h0.6M282.7 497.8h0.6M282.9 499.8h0.6M309.9 508.5h0.6M304.8 494.5h0.6M301.2 494.6h0.6M317.0 501.8h0.6M289.0 491.6h0.6M288.2 499.1h0.6M293.1 493.7h0.6M303.3 499.5h0.6M289.5 499.0h0.6M301.8 498.6h0.6M297.8 494.8h0.6M299.6 498.6h0.6M298.6 489.4h0.6M284.4 495.5h0.6M308.3 499.4h0.6M311.3 502.0h0.6M281.6 505.5h0.6M295.1 490.0h0.6M305.9 488.3h0.6M303.5 494.5h0.6M283.9 495.8h0.6M301.1 501.9h0.6M292.9 493.9h0.6M315.3 498.9h0.6M309.0 493.3h0.6M317.3 500.0h0.6M292.9 483.1h0.6M308.0 495.1h0.6M293.5 498.6h0.6M308.5 492.8h0.6M299.7 499.4h0.6M289.9 501.9h0.6M293.6 497.2h0.6M299.1 499.0h0.6M309.9 490.5h0.6M286.0 490.6h0.6M305.6 493.9h0.6M303.1 486.6h0.6M304.7 489.9h0.6M296.9 492.6h0.6M300.3 490.4h0.6M316.0 493.5h0.6M285.6 490.6h0.6M305.1 503.4h0.6M311.9 499.6h0.6M315.4 484.4h0.6M283.5 497.9h0.6M305.2 499.9h0.6M281.5 498.0h0.6M295.4 497.1h0.6M302.5 493.5h0.6M301.8 494.9h0.6M298.0 503.8h0.6M307.9 491.8h0.6M310.9 489.0h0.6M303.7 489.0h0.6M292.7 491.8h0.6M297.1 490.6h0.6M305.4 496.1h0.6M308.5 497.8h0.6M302.8 496.5h0.6M287.5 502.6h0.6M295.6 499.6h0.6M303.5 498.6h0.6M286.1 495.4h0.6M298.1 496.8h0.6M296.0 491.3h0.6M310.4 493.1h0.6M313.0 501.6h0.6M290.1 499.3h0.6M316.8 505.9h0.6M318.6 491.9h0.6M295.9 492.6h0.6M299.1 492.3h0.6M294.7 497.9h0.6M292.9 501.7h0.6M284.6 499.1h0.6M271.4 493.1h0.6M302.6 493.5h0.6M318.9 491.1h0.6M287.9 498.9h0.6M307.4 493.2h0.6M293.7 486.6h0.6M302.4 507.0h0.6M298.5 498.7h0.6M306.3 496.9h0.6M306.7 493.4h0.6M307.8 499.7h0.6M309.9 491.7h0.6M315.6 504.2h0.6M289.4 494.7h0.6M294.9 496.4h0.6M313.4 502.2h0.6M290.9 495.6h0.6M312.3 490.9h0.6M302.7 498.7h0.6M314.0 501.9h0.6M303.8 495.9h0.6M300.3 499.7h0.6M302.0 499.1h0.6M283.1 489.6h0.6M306.5 494.0h0.6M302.4 491.8h0.6M312.5 508.1h0.6M307.0 502.4h0.6M290.7 501.7h0.6M301.4 499.7h0.6M306.8 501.1h0.6M302.0 496.8h0.6M311.8 492.3h0.6M302.2 490.0h0.6M303.3 497.9h0.6M285.3 497.0h0.6M309.6 487.9h0.6M314.5 503.8h0.6M294.7 493.2h0.6M291.0 494.5h0.6M298.2 493.3h0.6M321.9 494.7h0.6M321.6 496.6h0.6M303.2 491.2h0.6M290.7 498.4h0.6M293.9 495.3h0.6M287.9 505.7h0.6M291.1 491.0h0.6M307.3 496.3h0.6M304.4 506.1h0.6M296.3 490.7h0.6M305.9 500.0h0.6M306.7 494.2h0.6M320.7 495.4h0.6M293.1 497.7h0.6M320.0 491.4h0.6M314.4 502.5h0.6M294.5 495.8h0.6M308.4 486.0h0.6M296.6 493.9h0.6M315.0 494.7h0.6M306.6 504.0h0.6M297.3 497.6h0.6M314.8 497.2h0.6M305.0 497.5h0.6M292.8 498.1h0.6M301.4 497.5h0.6M313.3 498.8h0.6M304.9 503.1h0.6M296.2 500.6h0.6M299.9 497.4h0.6M310.0 499.8h0.6M318.0 495.3h0.6M296.4 491.4h0.6M308.6 497.4h0.6M310.7 501.2h0.6M313.9 503.6h0.6M318.6 490.0h0.6M291.1 498.9h0.6M302.1 502.4h0.6M305.2 498.1h0.6M309.1 496.6h0.6M313.0 495.5h0.6M311.2 504.5h0.6M293.1 496.0h0.6M289.6 497.3h0.6M302.1 499.1h0.6M308.2 496.0h0.6M286.0 499.4h0.6M298.4 487.7h0.6M304.8 493.1h0.6M302.8 492.8h0.6M312.6 497.7h0.6M291.0 490.8h0.6M305.6 496.6h0.6M299.8 503.4h0.6M323.7 503.9h0.6M283.4 498.8h0.6M314.3 497.2h0.6M284.5 496.7h0.6M306.9 493.5h0.6M303.5 497.3h0.6M288.1 498.3h0.6M292.7 495.7h0.6M303.9 503.3h0.6M311.2 494.4h0.6M305.1 495.8h0.6M288.1 496.2h0.6M296.3 494.3h0.6M319.0 508.1h0.6M299.1 506.7h0.6M277.9 506.6h0.6M292.5 490.4h0.6M285.8 501.9h0.6M286.7 497.5h0.6M313.6 488.5h0.6M294.5 506.6h0.6M294.9 503.1h0.6M302.1 497.7h0.6M297.1 494.7h0.6M294.8 491.2h0.6M283.2 502.4h0.6M292.1 494.3h0.6M306.7 503.2h0.6M306.1 498.5h0.6M294.9 499.4h0.6M287.4 499.7h0.6M290.8 492.4h0.6M305.7 494.6h0.6M295.2 505.2h0.6M299.1 494.9h0.6M310.3 491.8h0.6M286.6 499.8h0.6M291.2 498.5h0.6M291.6 492.0h0.6M316.3 500.7h0.6M296.5 490.1h0.6M297.0 501.3h0.6M283.6 498.3h0.6M309.1 500.1h0.6M302.6 496.6h0.6M302.0 496.8h0.6M298.6 504.2h0.6M280.8 497.1h0.6M304.9 496.6h0.6M312.8 499.9h0.6M295.7 501.5h0.6M301.5 496.0h0.6M307.7 496.8h0.6M292.8 505.8h0.6M301.8 494.9h0.6M315.9 488.3h0.6M287.2 496.6h0.6M321.3 495.5h0.6M311.7 504.7h0.6M284.6 493.4h0.6M286.0 495.6h0.6M305.7 496.3h0.6M302.8 499.6h0.6M292.8 492.6h0.6M315.8 493.6h0.6M312.4 493.3h0.6M311.2 501.4h0.6M282.7 490.8h0.6M296.9 493.8h0.6M284.9 502.7h0.6M304.0 496.9h0.6M307.1 497.8h0.6M309.8 493.9h0.6M296.3 494.5h0.6M282.7 499.3h0.6M295.8 497.2h0.6M312.8 506.2h0.6M310.3 491.3h0.6M295.4 497.1h0.6M307.3 498.3h0.6M310.6 498.2h0.6M293.0 498.3h0.6M292.6 495.5h0.6M299.5 499.2h0.6M303.1 498.0h0.6M321.5 504.2h0.6M305.3 495.2h0.6M298.7 492.9h0.6M315.8 497.4h0.6M295.1 500.6h0.6M290.2 497.1h0.6M301.1 490.7h0.6M288.9 498.9h0.6M274.9 499.6h0.6M304.6 496.7h0.6M289.0 492.3h0.6M290.3 494.6h0.6M302.0 497.5h0.6M314.2 501.9h0.6M301.8 492.5h0.6M297.2 494.9h0.6M285.1 506.3h0.6M295.3 488.6h0.6M301.2 491.3h0.6M311.4 493.1h0.6M311.6 493.6h0.6M310.5 500.1h0.6M297.2 491.8h0.6M291.2 491.4h0.6M290.3 489.5h0.6M304.5 498.6h0.6M287.0 499.6h0.6M298.1 486.5h0.6M308.2 495.9h0.6M304.5 505.6h0.6M301.2 500.9h0.6M288.9 496.0h0.6M305.0 491.9h0.6M305.3 502.5h0.6M308.0 498.2h0.6M297.8 500.4h0.6M296.5 497.6h0.6M288.1 501.6h0.6M285.2 492.8h0.6M301.9 501.0h0.6M300.4 498.1h0.6M298.0 494.4h0.6M291.2 499.3h0.6M316.9 496.5h0.6M286.2 498.9h0.6M306.6 489.0h0.6M295.9 500.7h0.6M301.7 495.2h0.6M301.3 498.9h0.6M292.3 499.4h0.6M309.4 503.8h0.6M301.3 496.9h0.6M301.9 498.2h0.6M300.4 495.8h0.6M291.6 497.1h0.6M296.5 499.8h0.6M294.7 504.2h0.6M288.8 493.0h0.6M308.0 498.4h0.6M305.3 486.5h0.6M305.3 498.5h0.6M304.8 492.1h0.6M283.7 500.9h0.6M309.6 498.2h0.6M313.5 502.1h0.6M301.8 497.3h0.6M291.4 499.1h0.6M307.2 496.3h0.6M315.8 495.5h0.6M303.5 502.1h0.6M292.5 487.3h0.6M303.6 500.7h0.6M292.4 495.3h0.6M282.2 492.0h0.6M307.1 494.1h0.6M292.1 499.7h0.6M281.3 500.1h0.6M304.2 498.9h0.6M300.0 510.2h0.6M302.2 493.0h0.6M309.1 489.5h0.6M296.3 491.3h0.6M303.1 486.9h0.6M305.6 500.3h0.6M309.3 496.7h0.6M291.0 496.4h0.6M292.6 493.7h0.6M311.6 498.6h0.6M320.9 507.2h0.6M303.6 494.7h0.6M303.1 488.4h0.6M282.0 503.7h0.6M314.4 506.4h0.6M303.9 495.0h0.6M293.4 503.0h0.6M307.2 496.0h0.6M295.6 495.1h0.6M298.4 500.5h0.6M301.0 502.6h0.6M307.2 496.4h0.6M321.8 500.5h0.6M302.2 495.0h0.6M291.5 495.5h0.6M304.4 491.9h0.6M293.6 494.2h0.6M289.6 493.9h0.6M289.2 507.2h0.6M294.6 500.6h0.6M276.9 485.5h0.6M301.7 494.6h0.6M292.8 500.5h0.6M311.4 498.6h0.6M286.4 487.7h0.6M297.1 493.9h0.6M286.6 495.8h0.6M298.7 498.3h0.6M295.9 497.7h0.6M308.9 487.2h0.6M303.3 503.5h0.6M304.7 495.3h0.6M291.7 507.0h0.6M298.2 490.2h0.6M291.4 494.4h0.6M292.0 493.6h0.6M289.7 502.5h0.6M293.8 501.8h0.6M297.3 494.4h0.6M281.6 496.9h0.6M302.9 495.6h0.6M296.1 498.8h0.6M298.4 498.9h0.6M316.5 500.1h0.6M278.5 499.9h0.6M292.8 507.0h0.6M296.7 493.5h0.6M289.6 496.6h0.6M303.1 493.2h0.6M298.9 497.1h0.6M302.9 508.0h0.6M305.1 493.1h0.6M308.3 491.1h0.6M304.5 502.7h0.6M302.5 503.7h0.6M295.1 490.0h0.6M303.4 500.5h0.6M309.4 497.1h0.6M297.3 502.9h0.6M300.9 495.9h0.6M302.1 499.4h0.6M303.1 489.9h0.6M284.5 495.3h0.6M300.4 509.6h0.6M302.4 503.6h0.6M284.5 495.6h0.6M300.2 495.9h0.6M302.1 504.4h0.6M281.1 497.5h0.6M321.4 492.0h0.6M304.0 494.5h0.6M313.7 503.1h0.6M297.5 494.7h0.6M302.4 491.7h0.6M290.0 499.9h0.6M297.2 503.9h0.6M298.4 491.3h0.6M306.3 492.6h0.6M316.8 498.5h0.6M281.3 500.2h0.6M297.7 492.4h0.6M313.1 495.4h0.6M297.9 492.2h0.6M285.7 497.2h0.6M315.8 502.3h0.6M318.4 498.8h0.6M309.9 492.6h0.6M303.5 497.0h0.6M301.3 499.9h0.6M297.4 499.5h0.6M308.7 490.5h0.6M311.3 493.4h0.6M287.4 495.1h0.6M314.3 499.5h0.6M296.4 506.7h0.6M303.7 494.6h0.6M299.2 508.2h0.6M304.7 491.2h0.6M302.1 489.5h0.6M317.4 492.7h0.6M295.5 499.7h0.6M304.9 494.7h0.6M311.9 500.3h0.6M314.7 501.3h0.6M283.1 498.3h0.6M317.4 495.0h0.6M313.1 482.3h0.6M309.6 495.5h0.6M294.4 494.3h0.6M280.4 502.5h0.6M301.5 495.3h0.6M304.6 492.5h0.6M282.1 492.2h0.6M297.7 495.0h0.6M297.6 500.5h0.6M299.6 487.9h0.6M314.6 494.4h0.6M281.5 487.7h0.6M297.6 493.6h0.6M292.5 490.3h0.6M308.9 504.8h0.6M317.1 501.1h0.6M318.1 494.8h0.6M298.1 492.6h0.6M303.9 505.5h0.6M288.0 501.3h0.6M290.2 491.3h0.6M298.9 486.4h0.6M295.6 498.8h0.6M278.6 502.2h0.6M301.5 497.5h0.6M275.9 491.1h0.6M292.6 504.0h0.6M304.2 495.2h0.6M285.9 502.8h0.6M299.4 504.0h0.6M295.2 503.1h0.6M293.5 498.6h0.6M307.3 503.7h0.6M288.8 496.5h0.6M311.5 502.9h0.6M284.9 502.6h0.6M305.4 505.0h0.6M295.3 494.5h0.6M300.9 501.0h0.6M288.9 496.9h0.6M295.3 493.2h0.6M296.2 496.4h0.6M299.3 498.1h0.6M298.6 499.7h0.6M319.1 503.1h0.6M302.0 494.0h0.6M285.8 497.3h0.6M312.2 506.8h0.6M309.2 500.7h0.6M282.3 490.9h0.6M318.3 494.9h0.6M300.4 495.4h0.6M303.0 492.1h0.6M296.1 506.0h0.6M297.3 499.1h0.6M299.8 499.2h0.6M304.1 497.4h0.6M315.2 492.9h0.6M309.0 498.7h0.6M305.9 504.0h0.6M299.7 499.5h0.6M289.1 499.9h0.6M294.0 485.5h0.6M310.4 491.4h0.6M305.0 490.8h0.6M292.9 488.4h0.6M300.1 495.6h0.6M317.8 491.6h0.6M307.4 493.0h0.6M305.5 494.5h0.6M315.7 502.2h0.6M302.1 487.1h0.6M287.2 496.0h0.6M298.9 497.2h0.6M297.3 492.5h0.6M307.9 494.4h0.6M298.0 490.4h0.6M297.6 499.7h0.6M300.0 507.9h0.6M292.9 504.2h0.6M290.2 497.1h0.6M283.7 494.4h0.6M306.7 487.6h0.6M301.0 499.8h0.6M297.9 496.3h0.6M305.5 501.4h0.6M304.4 494.0h0.6M276.2 490.7h0.6M296.7 491.2h0.6M278.6 500.1h0.6M318.4 502.0h0.6M288.2 501.8h0.6M314.5 495.5h0.6M292.5 505.3h0.6M294.8 489.2h0.6M289.2 491.9h0.6M279.2 491.9h0.6M314.9 499.2h0.6M282.0 494.6h0.6M295.7 487.9h0.6M294.3 495.6h0.6M299.1 491.9h0.6M313.3 494.4h0.6M280.5 487.6h0.6M300.9 498.1h0.6M292.8 509.8h0.6M302.7 494.2h0.6M298.2 498.8h0.6M292.1 504.1h0.6M314.1 499.6h0.6M301.4 501.0h0.6M297.2 495.0h0.6M298.7 494.0h0.6M295.7 501.9h0.6M305.4 501.8h0.6M301.8 491.3h0.6M296.4 502.4h0.6M293.8 492.7h0.6M278.5 498.3h0.6M288.7 501.9h0.6M301.6 495.4h0.6M301.6 498.3h0.6M292.1 511.0h0.6M316.9 497.0h0.6M311.4 504.0h0.6M292.8 502.2h0.6M309.3 511.5h0.6M287.1 490.2h0.6M304.7 496.3h0.6M298.7 501.1h0.6M280.7 494.2h0.6M313.2 496.5h0.6M280.5 498.6h0.6M303.9 501.3h0.6M298.5 498.0h0.6M310.9 495.3h0.6M310.2 492.6h0.6M302.7 498.8h0.6M266.5 496.8h0.6M287.7 493.9h0.6M308.2 494.5h0.6M290.1 499.1h0.6M313.1 495.7h0.6M314.7 497.0h0.6M299.0 490.7h0.6M305.5 501.2h0.6M310.2 493.9h0.6M321.3 495.6h0.6M291.7 497.7h0.6M303.6 495.4h0.6M284.3 499.5h0.6M308.9 503.4h0.6M296.2 488.2h0.6M274.9 490.7h0.6M309.5 497.4h0.6M311.0 488.9h0.6M321.4 491.9h0.6M303.7 500.8h0.6M281.7 493.9h0.6M284.2 496.7h0.6M314.8 499.4h0.6M301.2 498.3h0.6M287.3 495.4h0.6M297.6 493.7h0.6M294.5 495.3h0.6M314.0 497.7h0.6M309.7 503.2h0.6M288.4 499.9h0.6M304.4 493.9h0.6M312.2 497.5h0.6M294.4 498.2h0.6M298.7 499.0h0.6M288.6 496.6h0.6M307.1 502.3h0.6M283.6 499.2h0.6M296.4 504.3h0.6M299.3 488.1h0.6M296.3 495.2h0.6M305.7 500.1h0.6M301.4 496.5h0.6M307.2 493.1h0.6M312.3 486.5h0.6M312.5 492.1h0.6M294.5 494.6h0.6M313.9 491.1h0.6M292.1 495.7h0.6M293.4 504.8h0.6M293.0 503.5h0.6M306.5 485.4h0.6M293.5 494.8h0.6M295.2 501.8h0.6M297.7 502.9h0.6M299.1 505.9h0.6M322.4 499.8h0.6M300.1 500.7h0.6M296.5 501.2h0.6M300.7 488.7h0.6M291.5 487.6h0.6M290.7 498.9h0.6M301.0 508.3h0.6M306.7 504.6h0.6M295.4 494.8h0.6M294.1 490.1h0.6M310.6 503.0h0.6M282.0 499.2h0.6M286.0 497.7h0.6M300.2 492.0h0.6M322.3 495.4h0.6M295.8 497.9h0.6M317.3 502.5h0.6M298.8 493.0h0.6M276.5 495.4h0.6M317.6 502.6h0.6M309.3 505.6h0.6M293.3 486.4h0.6M295.1 506.6h0.6M314.6 495.2h0.6M300.8 500.9h0.6M312.0 500.9h0.6M309.2 497.6h0.6M297.2 489.0h0.6M297.3 494.9h0.6M309.7 499.5h0.6M323.9 489.4h0.6M302.8 503.3h0.6M285.2 492.3h0.6M303.4 491.5h0.6M285.9 497.2h0.6M300.3 496.0h0.6M304.4 493.5h0.6M295.6 487.8h0.6M294.0 491.4h0.6M294.1 499.6h0.6M305.0 498.8h0.6M306.7 500.5h0.6M299.5 503.4h0.6M296.2 500.2h0.6M282.3 501.9h0.6M277.2 502.2h0.6M296.9 494.3h0.6M308.5 495.5h0.6M280.2 495.4h0.6M302.3 494.3h0.6M302.7 493.8h0.6M308.6 496.4h0.6M310.4 494.1h0.6M300.5 504.5h0.6M318.0 496.9h0.6M302.3 498.2h0.6M285.8 492.1h0.6M297.3 497.1h0.6M300.8 502.6h0.6M311.4 490.6h0.6M302.2 499.0h0.6M303.0 493.5h0.6M287.4 493.5h0.6M296.5 493.7h0.6M305.9 492.6h0.6M280.6 501.1h0.6M307.8 503.4h0.6M306.9 498.0h0.6M294.0 506.5h0.6M305.3 491.5h0.6M309.5 495.6h0.6M309.0 498.4h0.6M311.7 501.8h0.6M292.5 505.1h0.6M295.5 489.7h0.6M288.9 494.2h0.6M279.3 501.6h0.6M307.8 501.4h0.6M303.6 490.4h0.6M285.3 495.6h0.6M307.6 498.4h0.6M305.6 495.1h0.6M296.0 496.6h0.6M261.1 503.0h0.6M297.8 489.0h0.6M295.4 492.0h0.6M309.8 496.2h0.6M299.0 506.3h0.6M293.0 493.5h0.6M307.4 499.3h0.6M309.2 494.4h0.6M314.2 494.7h0.6M309.8 504.0h0.6M283.7 494.9h0.6M297.6 498.5h0.6M305.7 501.4h0.6M283.6 493.7h0.6M290.3 498.0h0.6M289.3 490.8h0.6M304.7 494.5h0.6M288.0 502.9h0.6M312.1 496.2h0.6M306.1 501.6h0.6M313.6 495.0h0.6M299.4 497.1h0.6M307.3 491.1h0.6M288.6 498.2h0.6M292.4 503.0h0.6M303.8 499.4h0.6M301.3 501.0h0.6M307.8 508.3h0.6M305.7 501.6h0.6M303.6 490.9h0.6M275.5 504.5h0.6M317.9 494.8h0.6M291.3 500.6h0.6M311.3 494.2h0.6M288.9 496.4h0.6M309.0 498.7h0.6M310.5 505.2h0.6M295.4 503.1h0.6M295.4 500.6h0.6M286.4 487.7h0.6M294.7 489.0h0.6M298.1 504.5h0.6M291.7 496.8h0.6M287.2 504.7h0.6M275.2 499.0h0.6M293.9 489.5h0.6M300.5 492.3h0.6M317.3 495.3h0.6M289.3 506.1h0.6M284.3 501.4h0.6M298.8 502.6h0.6M299.1 486.1h0.6M316.1 497.6h0.6M311.1 490.9h0.6M302.8 495.2h0.6M303.4 497.8h0.6M299.9 500.2h0.6M306.8 489.6h0.6M313.8 497.7h0.6M271.1 494.8h0.6M295.8 496.6h0.6M309.3 500.9h0.6M287.2 493.6h0.6M282.0 501.5h0.6M306.7 496.2h0.6M287.7 502.0h0.6M292.6 506.7h0.6M303.1 491.7h0.6M314.7 492.6h0.6M286.1 496.5h0.6M308.8 505.4h0.6M299.4 503.1h0.6M290.8 495.4h0.6M304.2 504.3h0.6M294.4 482.3h0.6M297.2 502.3h0.6M322.9 499.5h0.6M304.2 490.7h0.6M303.1 492.4h0.6M312.3 494.0h0.6M279.0 493.0h0.6M316.3 492.0h0.6M304.2 496.2h0.6M301.4 499.0h0.6M291.1 497.6h0.6M309.8 495.5h0.6M294.8 494.9h0.6M291.6 491.4h0.6M283.4 493.9h0.6M313.4 492.0h0.6M291.7 498.7h0.6M294.5 500.1h0.6M304.2 500.2h0.6M306.2 497.8h0.6M317.1 503.9h0.6M293.7 500.3h0.6M286.6 494.8h0.6M295.6 499.5h0.6M290.3 502.7h0.6M291.3 503.5h0.6M288.6 501.7h0.6M304.0 501.7h0.6M310.0 489.1h0.6M306.2 489.7h0.6M276.8 488.0h0.6M278.8 498.7h0.6M311.5 501.9h0.6M283.9 500.5h0.6M309.4 503.5h0.6M289.5 496.6h0.6M295.9 500.9h0.6M306.5 501.7h0.6M295.3 496.2h0.6M321.2 511.2h0.6M295.2 498.7h0.6M292.6 497.5h0.6M305.4 496.9h0.6M315.4 499.7h0.6M307.4 497.0h0.6M318.7 496.8h0.6M314.4 496.6h0.6M314.4 490.0h0.6M303.2 498.6h0.6M296.6 492.7h0.6M292.3 490.0h0.6M299.0 491.8h0.6M293.4 494.1h0.6M297.1 494.3h0.6M281.1 490.5h0.6M279.4 490.1h0.6M317.5 497.3h0.6M301.2 489.2h0.6M310.5 494.6h0.6M308.6 502.6h0.6M299.2 496.0h0.6M287.0 492.9h0.6M312.5 494.1h0.6M305.9 496.3h0.6M287.7 497.5h0.6M307.4 498.2h0.6M297.8 502.4h0.6M324.0 494.2h0.6M273.9 494.9h0.6M305.4 500.3h0.6M289.8 500.5h0.6M300.1 500.3h0.6M280.0 498.4h0.6M302.3 487.9h0.6M298.0 496.1h0.6M281.9 494.1h0.6M304.0 496.5h0.6M301.7 496.1h0.6M288.1 497.3h0.6M311.8 505.3h0.6M297.5 491.3h0.6M300.3 493.5h0.6M312.5 493.8h0.6M284.9 494.1h0.6M301.0 491.4h0.6M307.9 498.8h0.6M284.5 493.0h0.6M318.1 483.8h0.6M307.2 489.0h0.6M290.4 495.0h0.6M316.4 504.3h0.6M296.6 509.2h0.6M293.4 499.0h0.6M289.1 493.6h0.6M306.5 498.6h0.6M298.4 494.6h0.6M302.7 493.7h0.6M303.2 491.8h0.6M297.1 489.8h0.6M299.7 494.5h0.6M297.4 498.3h0.6M306.5 497.7h0.6M304.0 500.4h0.6M289.1 482.1h0.6M294.1 491.6h0.6M288.7 492.4h0.6M301.6 503.1h0.6M314.9 502.5h0.6M299.6 495.2h0.6M317.1 493.1h0.6M282.1 493.0h0.6M301.7 488.9h0.6M311.7 493.4h0.6M288.8 497.4h0.6M297.3 496.8h0.6M298.4 492.3h0.6M297.0 490.2h0.6M293.1 489.4h0.6M283.1 485.4h0.6M303.1 498.7h0.6M290.8 494.4h0.6M301.9 500.0h0.6M300.2 497.5h0.6M302.9 487.3h0.6M295.7 502.4h0.6M300.6 496.9h0.6M295.5 497.3h0.6M299.6 495.4h0.6M296.2 493.2h0.6M299.6 500.4h0.6M314.3 499.1h0.6M309.9 499.8h0.6M277.0 501.8h0.6M295.8 497.1h0.6M282.7 499.6h0.6M315.8 499.1h0.6M294.9 501.8h0.6M322.7 503.4h0.6M299.0 502.6h0.6M290.2 502.6h0.6M310.9 501.5h0.6M270.3 503.8h0.6M312.3 502.4h0.6M310.3 488.2h0.6M299.0 502.9h0.6M283.8 493.9h0.6M286.4 482.4h0.6M297.8 490.4h0.6M276.4 493.6h0.6M298.6 498.1h0.6M306.8 485.9h0.6M286.0 496.9h0.6M286.5 496.0h0.6M314.4 505.0h0.6M297.9 495.3h0.6M295.2 494.1h0.6M302.7 505.3h0.6M282.5 495.3h0.6M299.1 494.3h0.6M304.0 494.9h0.6M316.1 502.9h0.6M305.7 498.7h0.6M282.1 490.1h0.6M311.2 493.3h0.6M289.9 503.2h0.6M297.6 495.3h0.6M310.3 505.9h0.6M308.7 493.8h0.6M292.5 490.3h0.6M283.1 485.2h0.6M311.8 499.1h0.6M300.8 496.9h0.6M303.0 497.4h0.6M305.3 501.1h0.6M300.4 501.3h0.6M319.7 494.2h0.6M300.4 499.7h0.6M312.5 497.3h0.6M308.4 499.4h0.6M291.8 499.7h0.6M303.1 502.0h0.6M297.3 499.0h0.6M298.5 491.9h0.6M306.7 490.0h0.6M299.8 486.9h0.6M289.9 504.9h0.6M315.1 503.0h0.6M297.0 492.6h0.6M317.2 493.8h0.6M303.8 500.2h0.6M309.7 493.5h0.6M300.1 496.5h0.6M285.4 504.3h0.6M299.2 494.4h0.6M299.3 495.6h0.6M296.8 496.6h0.6M278.9 495.3h0.6M303.3 505.1h0.6M295.0 492.4h0.6M293.4 496.5h0.6M308.3 490.1h0.6M309.6 495.4h0.6M290.3 495.2h0.6M290.7 500.5h0.6M306.0 502.9h0.6M306.9 495.0h0.6M306.1 501.5h0.6M298.6 494.8h0.6M318.5 497.5h0.6M301.1 507.5h0.6M295.0 494.9h0.6M288.2 492.4h0.6M308.4 501.0h0.6M295.2 501.8h0.6M304.8 495.7h0.6M309.6 499.4h0.6M296.0 497.3h0.6M310.2 503.2h0.6M312.6 499.7h0.6M299.7 498.9h0.6M288.6 499.1h0.6M283.6 490.4h0.6M288.2 500.9h0.6M288.7 505.1h0.6M294.7 502.9h0.6M306.4 501.5h0.6M303.0 494.8h0.6M295.8 490.2h0.6M310.5 496.8h0.6M298.4 491.6h0.6M321.3 501.0h0.6M297.2 492.6h0.6M304.8 497.3h0.6M289.3 497.4h0.6M306.5 499.6h0.6M306.0 497.9h0.6M304.6 491.9h0.6M306.2 499.0h0.6M316.5 494.8h0.6M314.7 498.2h0.6M296.7 499.1h0.6M289.6 497.0h0.6M296.3 507.2h0.6M297.6 495.8h0.6M313.3 495.4h0.6M288.8 503.4h0.6M289.9 498.0h0.6M304.4 496.4h0.6M293.1 502.6h0.6M297.1 496.9h0.6M292.3 493.2h0.6M316.5 493.4h0.6M302.3 496.6h0.6M291.2 488.8h0.6M307.1 492.3h0.6M305.5 500.0h0.6M311.3 496.4h0.6M298.1 489.0h0.6M301.9 494.0h0.6M289.8 497.6h0.6M305.8 492.6h0.6M286.3 496.1h0.6M302.8 500.0h0.6M312.7 499.9h0.6M310.3 498.7h0.6M283.1 506.6h0.6M301.2 498.9h0.6M301.4 501.4h0.6M300.3 498.8h0.6M306.6 499.0h0.6M317.5 495.2h0.6M306.5 497.6h0.6M315.0 498.4h0.6M288.3 496.6h0.6M313.2 495.7h0.6M313.8 499.9h0.6M289.5 499.8h0.6M294.1 497.5h0.6M281.1 495.6h0.6M299.1 495.1h0.6M302.9 505.2h0.6M320.6 500.6h0.6M292.8 499.2h0.6M294.2 505.2h0.6M297.3 497.5h0.6M311.9 493.0h0.6M299.0 501.9h0.6M300.1 500.4h0.6M289.2 491.9h0.6M306.4 499.9h0.6M296.1 498.8h0.6M292.3 496.8h0.6M297.7 497.8h0.6M297.1 494.7h0.6M301.2 495.5h0.6M309.5 503.4h0.6M313.7 493.8h0.6M302.9 490.2h0.6M307.2 494.2h0.6M314.9 499.9h0.6M292.5 491.6h0.6M302.1 498.6h0.6M301.8 499.5h0.6M322.4 497.3h0.6M309.5 497.5h0.6M289.0 499.3h0.6M275.5 496.9h0.6M302.9 500.6h0.6M285.5 500.8h0.6M289.6 488.3h0.6M286.7 504.1h0.6M297.6 491.6h0.6M293.0 496.0h0.6M319.2 503.5h0.6M298.3 500.8h0.6M308.8 506.4h0.6M279.3 500.9h0.6M312.9 491.5h0.6M288.7 510.4h0.6M299.5 494.4h0.6M297.8 497.3h0.6M310.6 503.3h0.6M296.1 500.2h0.6M307.9 491.1h0.6M298.6 500.3h0.6M303.3 496.9h0.6M316.2 502.0h0.6M319.6 499.2h0.6M292.5 496.0h0.6M301.3 493.9h0.6M305.0 503.8h0.6M296.2 493.7h0.6M322.7 492.2h0.6M295.0 499.8h0.6M298.5 494.2h0.6M304.3 501.2h0.6M309.7 494.2h0.6M291.0 496.2h0.6M286.5 497.8h0.6M301.9 492.9h0.6M310.9 492.7h0.6M288.5 496.1h0.6M296.9 497.8h0.6M290.8 492.7h0.6M289.3 497.3h0.6M298.8 485.4h0.6M287.4 509.4h0.6M300.5 492.1h0.6M309.7 490.4h0.6M300.4 496.9h0.6M309.3 506.0h0.6M307.6 493.9h0.6M295.9 497.0h0.6M293.1 493.9h0.6M301.6 490.3h0.6M296.9 497.2h0.6M294.0 498.2h0.6M285.0 493.6h0.6M317.7 499.5h0.6M309.1 499.6h0.6M301.6 496.0h0.6M306.7 492.5h0.6M307.1 490.8h0.6M273.7 496.1h0.6M295.8 500.6h0.6M315.9 486.8h0.6M303.3 485.8h0.6M310.5 492.0h0.6M303.3 504.3h0.6M305.4 504.9h0.6M296.3 496.0h0.6M295.3 504.2h0.6M282.4 493.3h0.6M280.9 495.2h0.6M313.1 493.4h0.6M292.2 496.4h0.6M293.3 498.2h0.6M305.3 502.7h0.6M309.4 505.9h0.6M303.0 489.0h0.6M307.7 492.8h0.6M305.0 506.1h0.6M290.8 495.7h0.6M323.6 499.0h0.6M311.7 493.9h0.6M289.6 494.6h0.6M293.7 487.9h0.6M286.3 503.1h0.6M304.0 499.8h0.6M295.0 490.1h0.6M275.5 499.1h0.6M321.4 492.1h0.6M307.4 491.2h0.6M300.1 498.2h0.6M312.7 497.9h0.6M299.1 492.8h0.6M308.7 502.7h0.6M292.8 506.8h0.6M311.1 495.3h0.6M286.2 503.1h0.6M322.5 498.6h0.6M304.5 492.0h0.6M308.6 491.8h0.6M310.0 487.8h0.6M300.1 494.4h0.6M300.0 495.5h0.6M294.5 501.2h0.6M298.1 500.8h0.6M302.3 511.6h0.6M305.1 489.5h0.6M295.2 499.8h0.6M292.8 500.6h0.6M310.2 503.8h0.6M282.1 499.8h0.6M319.8 498.9h0.6M294.5 502.2h0.6M304.0 495.9h0.6M311.0 498.9h0.6M293.1 507.2h0.6M283.4 502.2h0.6M295.1 492.6h0.6M279.4 500.2h0.6M285.7 506.7h0.6M277.9 503.9h0.6M306.5 490.7h0.6M298.3 493.4h0.6M298.7 497.7h0.6M307.2 493.4h0.6M304.9 500.6h0.6M284.5 494.7h0.6M307.3 496.0h0.6M293.3 500.3h0.6M285.4 500.2h0.6M295.2 496.5h0.6M285.7 504.4h0.6M290.5 492.1h0.6M280.5 495.4h0.6M291.1 505.7h0.6M297.1 504.5h0.6M293.8 507.6h0.6M308.9 502.9h0.6M294.8 496.9h0.6M294.5 506.1h0.6M308.9 502.7h0.6M307.2 499.1h0.6M302.1 499.1h0.6M298.4 498.8h0.6M291.0 500.8h0.6M283.5 489.7h0.6M303.0 501.0h0.6M311.3 493.9h0.6M312.5 503.5h0.6M300.4 488.9h0.6M302.4 494.9h0.6M301.8 508.3h0.6M304.4 493.4h0.6M285.8 494.7h0.6M291.4 500.6h0.6M300.6 493.1h0.6M293.7 493.0h0.6M309.1 499.8h0.6M286.0 494.4h0.6M317.7 496.6h0.6M284.4 494.4h0.6M298.5 496.6h0.6M278.3 506.4h0.6M303.0 496.1h0.6M306.5 503.3h0.6M301.5 503.3h0.6M288.5 490.7h0.6M310.4 497.6h0.6M296.3 498.6h0.6M287.5 511.4h0.6M303.4 499.8h0.6M306.0 495.8h0.6M311.4 500.2h0.6M298.8 501.3h0.6M291.9 496.4h0.6M296.4 500.4h0.6M287.7 502.2h0.6M304.6 504.3h0.6M293.9 502.8h0.6M296.7 497.3h0.6M300.9 491.2h0.6M306.7 499.4h0.6M314.3 502.4h0.6M305.5 498.0h0.6M287.0 504.5h0.6M313.4 500.8h0.6M323.7 500.4h0.6M301.3 495.9h0.6M298.0 496.4h0.6M286.3 495.9h0.6M296.1 500.7h0.6M287.2 490.4h0.6M312.4 497.3h0.6M280.1 500.7h0.6M292.9 496.6h0.6M305.8 500.5h0.6M286.8 494.4h0.6M290.4 500.7h0.6M317.5 497.1h0.6M276.8 488.9h0.6M292.6 491.8h0.6M322.8 493.7h0.6M309.2 498.7h0.6M282.1 500.5h0.6M290.8 499.1h0.6M281.9 493.6h0.6M305.7 492.7h0.6M291.7 495.8h0.6M293.5 492.5h0.6M285.6 502.4h0.6M309.4 492.1h0.6M266.6 507.8h0.6M280.3 502.5h0.6M303.9 500.5h0.6M283.7 500.1h0.6M311.6 497.2h0.6M297.6 482.3h0.6M309.1 499.1h0.6M299.6 488.4h0.6M301.2 500.9h0.6M297.1 490.8h0.6M303.6 500.5h0.6M280.3 492.8h0.6M282.4 496.0h0.6M306.9 493.5h0.6M311.5 497.2h0.6M300.4 504.5h0.6M287.3 501.6h0.6M294.7 497.0h0.6M309.4 493.3h0.6M305.0 499.6h0.6M286.6 498.7h0.6M315.6 493.6h0.6M280.5 501.5h0.6M291.4 496.4h0.6M275.4 497.2h0.6M302.6 493.5h0.6M322.5 505.9h0.6M298.0 498.9h0.6M294.6 489.6h0.6M294.7 505.6h0.6M297.3 498.5h0.6M304.7 498.6h0.6M307.1 501.1h0.6M301.4 500.9h0.6M314.5 501.8h0.6M280.3 488.0h0.6M295.9 496.6h0.6M301.6 494.4h0.6M297.0 500.3h0.6M318.0 504.8h0.6M299.2 492.6h0.6M285.6 493.3h0.6M298.1 501.7h0.6M310.3 502.9h0.6M317.2 489.6h0.6M301.4 494.1h0.6M308.7 497.7h0.6M302.9 493.7h0.6M298.1 488.4h0.6M278.1 492.8h0.6M307.9 491.5h0.6M287.8 493.0h0.6M307.5 497.6h0.6M305.9 500.7h0.6M300.9 487.8h0.6M317.0 508.6h0.6M301.7 500.2h0.6M314.2 495.6h0.6M291.7 500.3h0.6M298.3 497.5h0.6M309.0 496.0h0.6M284.6 493.9h0.6M308.2 490.1h0.6M297.3 487.1h0.6M308.9 494.1h0.6M285.4 495.9h0.6M307.3 495.5h0.6M303.6 499.6h0.6M301.0 499.2h0.6M288.5 496.5h0.6M298.5 493.4h0.6M315.9 491.6h0.6M315.2 499.8h0.6M291.9 494.5h0.6M299.1 495.3h0.6M315.9 487.1h0.6M310.6 491.6h0.6M293.3 491.4h0.6M310.7 502.5h0.6M298.7 502.1h0.6M299.2 496.9h0.6M291.0 493.9h0.6M306.8 504.0h0.6M305.0 495.0h0.6M310.0 494.7h0.6M305.1 494.2h0.6M298.1 489.3h0.6M290.1 504.0h0.6M291.5 502.1h0.6M305.0 494.3h0.6M294.7 499.2h0.6M304.1 494.6h0.6M282.6 493.3h0.6M299.3 505.8h0.6M299.3 487.8h0.6M294.6 488.7h0.6M295.1 504.3h0.6M291.1 499.6h0.6M281.3 492.4h0.6M319.8 499.0h0.6M296.7 494.6h0.6M306.8 501.3h0.6M320.5 490.5h0.6M297.2 503.4h0.6M308.7 497.7h0.6M322.5 495.8h0.6M310.1 503.9h0.6M296.5 495.7h0.6M290.4 495.8h0.6M296.8 493.6h0.6M312.6 504.3h0.6M291.4 501.1h0.6M299.4 500.8h0.6M314.5 499.6h0.6M294.5 493.8h0.6M315.2 498.4h0.6M315.3 498.2h0.6M295.9 494.5h0.6M304.6 498.2h0.6M309.8 499.8h0.6M285.4 500.4h0.6M296.5 498.6h0.6M292.2 496.1h0.6M289.0 491.0h0.6M313.6 496.6h0.6M296.0 491.7h0.6M298.8 493.1h0.6M306.9 489.7h0.6M310.4 495.7h0.6M299.4 498.7h0.6M301.3 507.3h0.6M312.9 498.0h0.6M297.9 494.7h0.6M306.9 493.8h0.6M298.1 504.7h0.6M306.6 500.8h0.6M302.7 501.2h0.6M313.0 499.4h0.6M301.9 493.1h0.6M301.1 494.2h0.6M284.8 491.0h0.6M281.1 504.3h0.6M322.9 505.0h0.6M311.3 497.1h0.6M281.7 500.6h0.6M319.1 497.1h0.6M286.2 497.0h0.6M302.4 493.0h0.6M312.6 491.6h0.6M321.9 499.7h0.6M319.5 495.2h0.6M308.3 494.7h0.6M322.6 495.2h0.6M305.1 490.3h0.6M273.6 511.5h0.6M306.0 495.1h0.6M295.0 504.3h0.6M277.8 508.7h0.6M316.4 483.1h0.6M290.7 501.6h0.6M300.8 475.1h0.6M291.2 507.7h0.6M301.1 490.1h0.6M305.4 490.1h0.6M307.7 476.8h0.6M291.5 483.1h0.6M315.6 481.9h0.6M321.8 480.9h0.6M314.3 482.6h0.6M309.2 503.1h0.6M302.5 513.3h0.6M295.9 504.1h0.6M288.4 507.1h0.6M289.6 488.6h0.6M309.8 484.6h0.6M292.2 497.5h0.6M315.7 499.5h0.6M285.5 487.6h0.6M315.8 481.3h0.6M287.0 491.2h0.6M284.9 485.8h0.6M293.1 504.2h0.6M318.0 478.2h0.6M277.9 502.6h0.6M272.4 494.6h0.6M296.0 490.3h0.6M287.1 492.3h0.6M316.9 494.1h0.6M319.8 481.0h0.6M276.8 492.8h0.6M313.2 489.8h0.6M285.7 514.3h0.6M280.4 498.6h0.6M297.2 496.7h0.6M302.0 498.3h0.6M292.3 506.4h0.6M283.9 498.6h0.6M299.1 478.0h0.6M320.7 491.6h0.6M294.5 510.2h0.6M320.2 507.2h0.6M291.5 492.9h0.6M303.5 487.1h0.6M303.1 490.2h0.6M285.2 488.9h0.6M307.7 485.1h0.6M304.1 489.0h0.6M302.1 511.5h0.6M304.9 479.0h0.6M313.8 485.6h0.6M322.6 505.0h0.6M305.3 492.0h0.6M305.4 491.2h0.6M295.9 503.5h0.6M284.0 500.0h0.6M309.0 482.1h0.6M278.5 500.9h0.6M316.4 491.7h0.6M302.2 496.0h0.6M283.7 501.3h0.6M303.1 495.7h0.6M277.6 490.4h0.6M287.7 493.3h0.6M268.4 505.1h0.6M295.6 497.1h0.6M280.4 509.4h0.6M308.1 488.3h0.6M286.4 482.2h0.6M288.0 494.7h0.6M302.1 481.7h0.6M317.1 482.5h0.6M316.0 493.0h0.6M303.4 484.6h0.6M289.7 499.8h0.6M292.8 490.5h0.6M291.4 506.4h0.6M303.3 493.1h0.6M292.9 492.0h0.6M284.1 483.8h0.6M309.6 493.9h0.6M289.3 495.9h0.6M319.9 492.6h0.6M316.4 488.2h0.6M274.6 494.5h0.6M296.6 511.2h0.6M285.9 497.7h0.6M318.2 483.1h0.6M296.0 480.1h0.6M307.5 493.2h0.6M278.6 486.0h0.6M305.7 505.2h0.6M324.1 485.7h0.6M320.1 495.8h0.6M296.2 502.2h0.6M309.4 478.4h0.6M305.0 491.8h0.6M294.0 492.1h0.6M300.2 485.1h0.6M317.3 482.6h0.6M298.5 508.6h0.6M316.3 496.8h0.6M290.5 515.6h0.6M297.2 510.6h0.6M291.5 497.1h0.6M291.8 487.3h0.6M296.5 487.1h0.6M279.0 504.0h0.6M296.3 497.2h0.6M307.3 493.8h0.6M289.2 487.4h0.6M288.0 493.2h0.6M288.2 499.5h0.6M323.0 500.0h0.6M278.1 504.3h0.6M313.0 490.0h0.6M275.9 499.8h0.6M293.6 477.1h0.6M290.4 505.2h0.6M294.5 500.6h0.6M272.5 496.8h0.6M309.0 503.9h0.6M300.0 507.9h0.6M297.3 502.5h0.6M291.9 498.9h0.6M306.0 479.1h0.6M292.4 509.3h0.6M322.6 501.2h0.6M319.6 480.0h0.6M320.9 497.0h0.6M296.4 490.2h0.6M305.3 492.4h0.6M299.5 478.4h0.6M309.3 490.2h0.6M307.9 490.2h0.6M313.3 491.7h0.6M277.3 513.3h0.6M317.2 498.5h0.6M297.0 509.7h0.6M308.1 492.5h0.6M292.3 488.8h0.6M306.5 487.0h0.6M309.0 483.7h0.6M279.1 509.6h0.6M294.7 491.0h0.6M305.5 494.6h0.6M309.3 494.5h0.6M298.2 485.6h0.6M293.5 484.1h0.6M312.8 500.2h0.6M300.4 494.6h0.6M298.8 494.2h0.6M309.9 487.0h0.6M302.1 511.5h0.6M292.0 508.9h0.6M314.5 484.7h0.6M287.7 494.4h0.6M315.7 493.0h0.6M287.2 495.6h0.6M308.1 504.0h0.6M300.1 497.4h0.6M284.9 496.5h0.6M271.7 502.4h0.6M309.2 499.8h0.6M290.0 501.1h0.6M316.1 483.8h0.6M322.3 503.6h0.6M297.0 498.8h0.6M308.1 490.8h0.6M283.3 501.7h0.6M311.2 486.9h0.6M311.7 516.5h0.6M289.0 483.7h0.6M313.5 492.2h0.6M280.0 509.7h0.6M312.3 500.2h0.6M310.1 518.8h0.6M321.1 505.2h0.6M289.4 478.0h0.6M324.1 503.2h0.6M274.7 518.3h0.6M316.7 488.7h0.6M314.4 478.5h0.6M304.5 477.8h0.6M311.1 500.8h0.6M268.3 499.4h0.6M314.4 487.2h0.6M314.9 502.5h0.6M304.9 486.7h0.6M301.9 482.1h0.6M293.0 496.4h0.6M313.1 487.6h0.6M305.2 477.9h0.6M288.0 497.9h0.6M306.7 481.7h0.6M304.0 498.2h0.6M280.2 495.3h0.6M296.7 494.6h0.6M292.6 497.5h0.6M295.1 490.0h0.6M307.3 490.1h0.6M266.9 497.0h0.6M322.8 489.6h0.6M300.4 487.6h0.6M305.0 504.8h0.6M276.8 506.3h0.6M298.2 494.8h0.6M290.3 488.3h0.6M315.2 501.8h0.6M309.2 487.1h0.6M295.6 499.1h0.6M287.9 497.8h0.6M307.3 487.5h0.6M293.3 494.5h0.6M286.5 500.0h0.6M323.0 486.2h0.6M305.5 492.0h0.6M323.2 499.5h0.6M306.4 519.1h0.6M305.3 479.7h0.6M303.4 500.2h0.6M298.4 493.8h0.6M294.7 491.4h0.6M290.9 487.5h0.6M300.1 484.4h0.6M314.8 498.5h0.6M290.6 506.9h0.6M308.0 504.9h0.6M302.8 495.3h0.6M283.8 498.1h0.6M305.1 503.9h0.6M278.6 495.9h0.6M283.1 501.7h0.6M290.7 482.9h0.6M276.5 478.9h0.6M251.1 500.9h0.6M303.7 497.7h0.6M294.9 478.5h0.6M304.4 482.6h0.6M299.8 484.2h0.6M287.7 506.5h0.6M294.4 482.5h0.6M292.5 487.0h0.6M288.7 502.4h0.6M283.8 489.1h0.6M323.7 495.5h0.6M297.4 491.4h0.6M294.1 499.9h0.6M297.0 493.0h0.6M292.7 500.2h0.6M291.8 488.9h0.6M290.5 494.3h0.6M299.7 498.7h0.6M296.8 496.6h0.6M269.4 512.2h0.6M298.0 498.7h0.6M301.2 489.3h0.6M311.8 511.2h0.6M306.2 504.4h0.6M255.8 485.0h0.6M288.6 478.2h0.6M299.6 495.6h0.6M288.9 486.6h0.6M320.7 503.4h0.6M279.1 494.6h0.6M304.5 481.0h0.6M321.2 491.0h0.6M298.8 496.6h0.6M273.2 514.0h0.6M308.3 496.9h0.6M272.0 489.2h0.6M288.5 485.7h0.6M296.1 492.5h0.6M298.1 491.1h0.6M311.4 480.3h0.6M306.3 499.7h0.6M280.1 502.0h0.6M299.2 488.0h0.6M311.7 487.0h0.6M289.7 496.6h0.6M291.9 489.1h0.6M295.7 487.6h0.6M291.3 495.1h0.6M279.5 493.6h0.6M305.2 489.6h0.6M304.2 494.1h0.6M308.7 492.8h0.6M296.3 489.8h0.6M288.7 510.2h0.6M306.6 495.5h0.6M303.6 491.3h0.6M295.8 490.3h0.6M318.9 485.2h0.6M314.3 497.9h0.6M275.2 486.8h0.6M296.1 484.4h0.6M293.9 494.2h0.6M322.0 501.5h0.6M282.8 499.1h0.6M293.8 496.7h0.6M300.4 482.6h0.6M275.3 491.0h0.6M279.0 503.1h0.6M280.5 480.8h0.6M271.8 502.1h0.6M275.9 499.4h0.6M287.2 487.0h0.6M285.6 492.8h0.6M296.8 515.8h0.6M288.8 495.9h0.6M273.6 482.6h0.6M307.2 516.3h0.6M309.0 490.0h0.6M281.7 513.6h0.6M321.6 502.0h0.6M284.5 516.7h0.6M304.1 484.9h0.6M280.8 486.6h0.6M288.2 487.9h0.6M301.1 498.5h0.6M316.4 493.6h0.6M305.5 484.4h0.6M291.3 509.8h0.6M323.9 491.1h0.6M287.2 509.5h0.6M285.3 486.1h0.6M306.9 483.9h0.6M296.0 491.8h0.6M290.2 504.6h0.6M300.0 514.9h0.6M278.3 505.0h0.6M311.9 484.8h0.6M293.5 507.0h0.6M293.0 495.4h0.6M307.4 499.0h0.6M271.4 482.9h0.6M309.5 504.3h0.6M301.9 482.1h0.6M306.2 504.5h0.6M317.1 496.7h0.6M294.9 486.7h0.6M303.0 496.4h0.6M323.6 506.9h0.6M306.9 499.0h0.6M292.0 495.2h0.6M280.1 498.6h0.6M295.6 487.8h0.6M315.1 489.0h0.6M302.9 493.9h0.6M310.8 487.3h0.6M312.9 504.0h0.6M294.9 499.7h0.6M267.1 517.6h0.6M279.3 506.5h0.6M320.0 498.6h0.6M284.6 513.4h0.6M312.3 492.9h0.6M290.2 477.8h0.6M277.3 495.9h0.6M320.2 483.8h0.6M297.7 503.3h0.6M319.2 486.0h0.6M295.7 498.6h0.6M281.6 491.2h0.6M296.9 501.5h0.6M300.8 484.0h0.6M299.2 483.3h0.6M318.1 478.2h0.6M304.9 497.4h0.6M290.5 502.2h0.6M285.7 484.5h0.6M283.3 492.3h0.6M319.1 483.5h0.6M298.9 477.6h0.6M318.1 501.3h0.6M308.4 488.8h0.6M313.5 494.5h0.6M313.4 494.4h0.6M286.7 490.4h0.6M281.7 488.3h0.6M287.3 478.8h0.6M285.1 483.2h0.6M287.1 490.6h0.6M293.7 514.0h0.6M292.6 506.5h0.6M309.6 492.1h0.6M280.1 492.9h0.6M280.9 495.9h0.6M319.0 499.6h0.6M305.1 500.9h0.6M291.6 489.3h0.6M283.3 490.0h0.6M291.2 485.0h0.6M286.9 491.6h0.6M283.5 486.9h0.6M292.5 491.0h0.6M297.3 489.4h0.6M298.2 499.3h0.6M293.9 516.9h0.6M287.1 497.7h0.6M292.6 487.7h0.6M311.6 499.4h0.6M273.9 482.5h0.6M324.0 483.4h0.6M321.4 486.8h0.6M311.2 494.3h0.6M305.7 498.4h0.6M275.7 513.9h0.6M298.1 499.4h0.6M286.4 476.7h0.6M322.1 483.6h0.6M284.6 505.8h0.6M312.7 487.7h0.6M277.0 487.9h0.6M322.2 496.7h0.6M294.1 489.5h0.6M283.6 509.3h0.6M283.4 500.5h0.6M289.6 501.0h0.6M295.2 479.8h0.6M301.0 495.9h0.6M280.5 501.4h0.6M307.0 493.3h0.6M287.8 477.0h0.6M312.7 486.0h0.6M319.2 493.1h0.6M306.5 493.4h0.6M276.4 483.4h0.6M299.5 513.4h0.6M293.9 525.8h0.6M276.1 500.3h0.6M300.8 502.6h0.6M284.3 498.1h0.6M288.3 491.7h0.6M306.8 510.9h0.6M268.3 487.5h0.6M309.6 494.2h0.6M282.3 510.4h0.6M320.4 490.1h0.6M291.3 499.2h0.6M278.0 488.9h0.6M309.0 501.1h0.6M258.6 494.8h0.6M305.1 480.7h0.6M291.6 477.0h0.6M299.2 482.3h0.6M297.1 501.7h0.6M290.9 489.7h0.6M279.1 489.6h0.6M302.5 479.7h0.6M310.0 483.0h0.6M293.0 501.9h0.6M321.4 502.3h0.6M287.0 479.5h0.6M312.2 505.5h0.6M319.0 485.7h0.6M279.3 488.5h0.6M308.1 505.9h0.6M288.5 498.1h0.6M291.1 504.6h0.6M310.1 502.9h0.6M300.0 488.1h0.6M280.1 498.3h0.6M305.2 480.5h0.6M293.1 488.7h0.6M297.5 486.2h0.6M296.8 492.2h0.6M311.4 498.5h0.6M304.2 483.1h0.6M308.5 488.5h0.6M283.2 493.4h0.6M311.2 491.7h0.6M300.8 514.2h0.6M284.2 485.3h0.6M313.8 486.5h0.6M261.5 479.7h0.6M296.3 489.7h0.6M290.1 502.3h0.6M280.2 486.7h0.6M290.6 506.0h0.6M296.7 502.1h0.6M311.6 489.0h0.6M315.6 505.5h0.6M309.5 478.6h0.6M321.8 487.0h0.6M264.4 501.1h0.6M274.6 507.8h0.6M303.4 480.2h0.6M281.5 495.2h0.6M309.5 499.6h0.6M311.2 498.9h0.6M308.7 504.0h0.6M306.0 493.2h0.6M287.0 496.1h0.6M279.3 498.7h0.6M299.3 487.6h0.6M303.3 491.8h0.6M283.0 507.4h0.6M310.6 497.3h0.6M286.7 475.3h0.6M300.2 483.8h0.6M287.5 504.6h0.6M312.2 476.6h0.6M323.3 491.4h0.6M303.3 502.9h0.6M299.4 500.6h0.6M283.4 496.0h0.6M283.5 492.1h0.6M276.7 492.3h0.6M295.5 479.9h0.6M295.6 507.8h0.6M274.9 488.5h0.6M304.3 519.3h0.6M299.8 490.0h0.6M316.6 492.4h0.6M308.9 501.2h0.6M272.3 483.6h0.6M302.7 492.6h0.6M301.9 491.5h0.6M285.4 503.5h0.6M320.1 485.2h0.6M300.6 500.6h0.6M290.8 507.4h0.6M296.9 497.2h0.6M311.2 484.0h0.6M319.3 496.9h0.6M300.3 496.3h0.6M308.6 481.7h0.6M283.8 488.5h0.6M297.3 480.2h0.6M291.9 499.1h0.6M292.4 485.6h0.6M311.7 502.7h0.6M299.9 500.6h0.6M269.0 514.9h0.6M315.2 495.8h0.6M301.6 503.3h0.6M290.3 482.9h0.6M290.6 511.9h0.6M304.4 504.6h0.6M267.8 515.7h0.6M281.3 510.9h0.6M308.6 485.5h0.6M290.3 504.0h0.6M288.9 500.0h0.6M284.6 481.5h0.6M323.4 482.8h0.6M288.3 490.9h0.6M302.2 489.1h0.6M311.7 491.6h0.6M287.1 484.7h0.6M309.7 481.6h0.6M313.8 478.4h0.6M290.8 490.1h0.6M311.0 499.8h0.6M283.7 488.8h0.6M274.0 501.8h0.6M282.0 496.8h0.6M320.8 490.6h0.6M271.5 496.4h0.6M291.1 511.3h0.6M324.0 506.1h0.6M293.3 483.7h0.6M310.8 487.6h0.6M298.8 487.0h0.6M318.0 507.5h0.6M301.4 489.8h0.6M299.8 499.8h0.6M317.3 482.4h0.6M295.9 496.0h0.6M307.1 496.7h0.6M298.6 488.2h0.6M319.7 483.5h0.6M291.6 511.2h0.6M286.9 499.9h0.6M297.3 505.1h0.6M316.5 502.3h0.6M319.2 486.0h0.6M309.7 496.6h0.6M294.0 522.5h0.6M309.2 491.6h0.6M299.4 488.1h0.6M311.4 493.8h0.6M303.9 493.0h0.6M293.5 485.9h0.6M301.5 496.7h0.6M278.5 496.7h0.6M308.5 496.2h0.6M310.1 504.7h0.6M313.7 485.4h0.6M311.8 494.6h0.6M275.9 509.5h0.6M317.1 498.5h0.6M295.7 528.0h0.6M292.2 475.5h0.6M286.1 506.0h0.6M301.2 491.5h0.6M319.4 486.4h0.6M289.8 486.1h0.6M322.6 492.3h0.6M319.4 478.8h0.6M287.2 476.9h0.6M308.1 502.6h0.6M292.7 488.9h0.6M276.9 489.8h0.6M304.2 498.6h0.6M267.2 491.3h0.6M300.8 488.7h0.6M281.6 503.9h0.6M274.3 496.1h0.6M293.8 496.0h0.6M289.3 497.7h0.6M320.0 485.7h0.6M319.4 483.9h0.6M303.5 514.9h0.6M294.4 504.1h0.6M300.4 497.3h0.6M317.9 489.2h0.6M299.5 483.0h0.6M320.8 512.1h0.6M295.3 493.0h0.6M291.7 515.7h0.6M321.5 477.0h0.6M312.4 490.7h0.6M310.2 497.8h0.6M299.4 503.3h0.6M296.0 500.3h0.6M303.8 493.7h0.6M284.4 495.8h0.6M295.8 503.5h0.6M284.6 498.9h0.6M305.4 480.8h0.6M283.6 483.8h0.6M273.5 501.5h0.6M292.2 504.7h0.6M284.8 502.8h0.6M290.2 477.5h0.6M278.0 480.0h0.6M298.7 494.7h0.6M307.5 493.4h0.6M298.7 494.8h0.6M281.2 512.8h0.6M315.0 490.2h0.6M307.2 482.1h0.6M303.0 496.4h0.6M300.7 505.2h0.6M284.1 489.9h0.6M282.6 487.1h0.6M302.1 500.1h0.6M308.5 509.4h0.6M268.3 508.7h0.6M307.6 484.2h0.6M298.9 488.6h0.6M287.0 497.9h0.6M295.7 492.4h0.6M310.8 505.4h0.6M293.6 498.9h0.6M297.4 511.6h0.6M294.8 482.6h0.6M298.0 505.7h0.6M319.1 492.2h0.6M272.3 482.9h0.6M295.3 495.8h0.6M305.5 490.7h0.6M292.0 476.3h0.6M308.3 500.9h0.6M282.8 499.4h0.6M318.2 495.0h0.6M309.5 486.7h0.6M291.9 499.2h0.6M298.2 495.2h0.6M285.4 492.8h0.6M300.3 484.7h0.6M297.4 481.4h0.6M291.9 502.3h0.6M285.8 501.9h0.6M299.1 499.7h0.6M294.7 490.3h0.6M298.8 495.1h0.6M288.8 489.8h0.6M324.0 483.5h0.6M292.1 508.8h0.6M320.3 486.4h0.6M301.8 498.1h0.6M313.2 488.5h0.6M266.7 498.0h0.6M271.4 491.2h0.6M292.8 483.5h0.6M288.6 500.1h0.6M316.5 488.0h0.6M313.4 480.2h0.6M283.8 501.1h0.6M310.8 484.7h0.6M314.5 485.5h0.6M290.9 508.3h0.6M295.5 506.2h0.6M297.0 500.1h0.6M299.6 499.8h0.6M309.7 478.8h0.6M311.6 504.1h0.6M290.6 481.3h0.6M300.9 504.0h0.6M304.6 508.4h0.6M300.4 499.5h0.6M275.3 506.4h0.6M281.1 498.4h0.6M288.2 493.0h0.6M292.9 507.6h0.6M311.0 497.2h0.6M285.0 485.1h0.6M280.6 475.5h0.6M300.0 495.8h0.6M299.4 504.2h0.6M281.7 477.4h0.6M314.8 503.2h0.6M305.2 486.1h0.6M291.2 483.2h0.6M294.3 481.4h0.6M280.9 498.0h0.6M316.1 507.5h0.6M301.3 485.2h0.6M287.5 495.2h0.6M313.6 507.8h0.6M268.9 494.3h0.6M306.4 502.9h0.6M308.8 490.3h0.6M299.6 496.3h0.6M306.7 484.8h0.6M315.7 488.7h0.6M316.4 501.8h0.6M288.6 485.1h0.6M314.7 483.3h0.6M291.6 488.6h0.6M306.9 491.5h0.6M291.6 489.0h0.6M311.5 494.4h0.6M309.9 486.0h0.6M311.3 494.2h0.6M285.6 481.3h0.6M304.1 495.3h0.6M314.2 503.8h0.6M316.5 498.1h0.6M318.2 479.7h0.6M279.3 507.4h0.6M298.5 493.8h0.6M302.5 495.0h0.6M291.7 491.8h0.6M280.2 494.4h0.6M292.9 490.8h0.6M324.2 508.3h0.6M300.5 495.1h0.6M283.3 499.0h0.6M275.3 499.5h0.6M290.6 509.9h0.6M292.2 487.9h0.6M294.8 496.9h0.6M307.9 483.8h0.6M292.4 486.7h0.6M298.6 495.0h0.6M281.8 516.0h0.6M315.6 512.8h0.6M299.5 494.2h0.6M278.9 506.2h0.6M279.0 490.9h0.6M287.9 507.6h0.6M282.2 495.2h0.6M304.0 481.4h0.6M266.2 497.6h0.6M321.0 510.1h0.6M316.1 501.8h0.6M265.1 488.8h0.6M280.8 497.3h0.6M301.4 515.5h0.6M310.3 488.6h0.6M315.8 502.3h0.6M299.7 481.9h0.6M302.1 485.3h0.6M282.5 482.3h0.6M308.0 492.2h0.6M286.6 496.8h0.6M294.8 507.4h0.6M288.7 507.5h0.6M303.0 489.0h0.6M309.1 493.3h0.6M283.2 491.1h0.6M318.8 513.1h0.6M317.1 495.8h0.6M279.8 486.1h0.6M290.4 481.9h0.6M316.1 483.2h0.6M295.0 497.5h0.6M318.9 494.1h0.6M314.6 496.0h0.6M321.5 493.3h0.6M286.6 498.6h0.6M263.1 506.4h0.6M306.0 493.5h0.6M305.0 501.4h0.6M287.8 496.0h0.6M276.7 493.4h0.6M298.7 495.0h0.6M311.1 492.6h0.6M286.4 486.1h0.6M306.3 509.2h0.6M305.5 496.7h0.6M293.8 499.7h0.6M288.5 476.8h0.6M321.8 485.5h0.6M284.9 488.1h0.6M316.1 490.8h0.6M286.9 497.7h0.6M297.0 489.6h0.6M300.8 513.2h0.6M321.4 479.8h0.6M292.8 511.5h0.6M313.5 499.4h0.6M290.8 484.5h0.6M323.1 501.6h0.6M286.1 490.8h0.6M318.0 487.6h0.6M318.8 503.0h0.6M281.6 485.0h0.6M319.6 511.2h0.6M286.9 494.4h0.6M288.7 503.4h0.6M283.2 498.5h0.6M286.4 492.7h0.6M296.3 499.2h0.6M279.7 486.0h0.6M313.1 492.7h0.6M275.4 498.2h0.6M308.6 484.0h0.6M288.2 510.1h0.6M288.9 506.0h0.6M278.0 510.0h0.6M314.9 484.7h0.6M303.5 503.0h0.6M298.5 490.3h0.6M270.8 497.4h0.6M288.9 501.1h0.6M287.4 497.0h0.6M318.1 489.2h0.6M323.7 483.7h0.6M315.2 485.9h0.6M319.5 494.7h0.6M293.7 478.8h0.6M273.1 489.4h0.6M310.4 481.1h0.6M310.6 483.5h0.6M279.3 509.0h0.6M314.2 502.5h0.6M296.1 495.6h0.6M268.5 501.9h0.6M297.7 490.2h0.6M312.7 498.2h0.6M290.9 515.0h0.6M300.8 504.6h0.6M307.0 506.3h0.6M290.6 484.2h0.6M274.1 497.9h0.6M304.8 500.4h0.6M301.4 482.7h0.6M308.2 514.5h0.6M297.5 506.5h0.6M278.0 498.0h0.6M267.2 501.1h0.6M291.7 500.7h0.6M292.2 509.4h0.6M307.8 498.9h0.6M300.0 486.7h0.6M300.1 492.2h0.6M318.7 483.7h0.6M305.3 504.9h0.6M306.8 496.3h0.6M303.4 499.8h0.6M307.1 491.1h0.6M298.0 481.3h0.6M302.1 493.2h0.6M310.1 510.2h0.6M321.3 486.5h0.6M295.6 495.4h0.6M290.1 489.9h0.6M310.0 490.9h0.6M321.4 483.8h0.6M300.3 505.6h0.6M297.2 491.5h0.6M298.7 481.4h0.6M310.7 503.7h0.6M298.3 493.9h0.6M285.3 494.0h0.6M293.2 496.6h0.6M309.1 505.4h0.6M310.9 482.8h0.6M283.1 500.5h0.6M294.3 507.8h0.6M297.5 499.9h0.6M302.5 510.5h0.6M310.9 500.6h0.6M277.7 501.1h0.6M304.3 498.8h0.6M317.7 503.2h0.6M319.1 492.5h0.6M254.4 504.4h0.6M317.8 495.2h0.6M292.7 499.8h0.6M288.1 501.9h0.6M323.1 488.5h0.6M293.1 494.8h0.6M299.6 506.5h0.6M288.8 487.9h0.6M291.9 514.7h0.6M293.3 480.4h0.6M270.3 493.5h0.6M295.8 482.5h0.6M323.4 478.2h0.6M286.8 521.1h0.6M291.8 502.0h0.6M296.2 485.6h0.6M295.5 482.2h0.6M296.9 510.4h0.6M305.8 501.1h0.6M308.3 483.0h0.6M303.8 498.8h0.6M307.4 492.0h0.6M311.7 493.1h0.6M320.2 482.5h0.6M294.7 488.2h0.6M280.4 489.5h0.6M318.5 489.1h0.6M283.4 497.9h0.6M285.9 478.7h0.6M307.1 500.4h0.6M284.3 511.5h0.6M291.0 508.9h0.6M310.3 480.0h0.6M303.3 507.6h0.6M319.8 483.6h0.6M307.2 509.3h0.6M278.9 494.0h0.6M320.2 491.6h0.6M312.3 499.5h0.6M272.1 496.3h0.6M289.7 476.1h0.6M296.6 484.7h0.6M299.1 484.5h0.6M301.5 480.9h0.6M315.2 482.7h0.6M304.0 497.8h0.6M294.5 488.7h0.6M304.8 477.8h0.6M304.3 491.7h0.6M310.5 489.7h0.6M294.3 489.6h0.6M302.6 478.5h0.6M311.2 505.2h0.6M282.4 478.2h0.6M278.6 504.0h0.6M256.4 490.1h0.6M312.3 500.9h0.6M281.2 484.7h0.6M308.1 489.5h0.6M309.2 485.2h0.6M284.0 500.8h0.6M295.9 503.0h0.6M294.2 493.0h0.6M296.6 501.5h0.6M305.1 492.1h0.6M305.7 485.5h0.6M299.2 494.0h0.6M308.1 491.0h0.6M322.0 479.1h0.6M288.8 506.0h0.6M313.8 497.1h0.6M300.5 493.1h0.6M308.0 490.9h0.6M302.2 494.9h0.6M261.6 510.3h0.6M287.4 494.9h0.6M312.5 496.0h0.6M312.7 486.9h0.6M321.3 496.5h0.6M315.2 494.3h0.6M317.5 484.4h0.6M298.5 492.0h0.6M304.0 495.7h0.6M317.4 488.1h0.6M302.6 475.8h0.6M295.3 492.5h0.6M311.5 492.3h0.6M316.2 498.4h0.6M291.7 489.4h0.6M275.4 494.3h0.6M291.5 502.0h0.6M307.5 496.7h0.6M309.5 524.0h0.6M304.4 495.8h0.6M270.9 515.5h0.6M286.8 502.1h0.6M308.0 480.0h0.6M321.8 498.4h0.6M271.9 483.9h0.6M297.2 491.6h0.6M289.9 505.2h0.6M286.7 506.5h0.6M314.2 488.4h0.6M296.6 512.3h0.6M294.2 488.6h0.6M312.8 497.2h0.6M314.7 483.8h0.6M300.4 492.2h0.6M281.9 483.6h0.6M296.4 482.7h0.6M273.0 507.6h0.6M293.3 487.8h0.6M306.5 492.5h0.6M291.4 490.5h0.6M285.6 488.6h0.6M290.2 519.4h0.6M266.8 492.5h0.6M299.8 497.7h0.6M290.2 482.6h0.6M304.5 493.9h0.6M285.0 497.3h0.6M324.2 487.8h0.6M296.0 500.1h0.6M268.1 484.2h0.6M315.6 486.2h0.6M296.0 496.8h0.6M275.6 508.8h0.6M310.0 481.1h0.6M298.1 490.8h0.6M305.4 480.3h0.6M275.1 514.9h0.6M289.4 487.6h0.6M294.6 497.1h0.6M285.2 500.9h0.6M300.8 488.9h0.6M307.1 475.4h0.6M308.6 497.2h0.6M314.6 493.2h0.6M299.5 507.8h0.6M291.1 491.2h0.6M289.6 502.9h0.6M287.6 492.2h0.6M294.4 484.3h0.6M318.6 483.9h0.6M289.7 487.4h0.6M292.2 501.0h0.6M288.1 505.1h0.6M294.2 485.1h0.6M282.9 493.7h0.6M275.4 512.1h0.6M280.8 489.5h0.6M317.2 509.1h0.6M265.5 495.4h0.6M313.7 503.1h0.6M297.8 479.9h0.6M299.3 485.0h0.6M312.9 489.6h0.6M314.2 482.5h0.6M315.3 503.1h0.6M302.9 491.7h0.6M279.6 500.3h0.6M315.5 504.4h0.6M271.0 477.8h0.6M308.3 499.4h0.6M286.7 501.5h0.6M273.4 505.0h0.6M305.7 486.1h0.6M296.6 499.1h0.6M282.0 489.1h0.6M305.0 495.7h0.6M289.0 503.5h0.6M305.6 508.0h0.6M280.8 509.1h0.6M305.6 523.6h0.6M307.7 500.5h0.6M280.7 489.6h0.6M320.9 484.3h0.6M275.8 487.0h0.6M307.5 503.0h0.6M286.9 511.9h0.6M289.5 493.3h0.6M281.6 499.6h0.6M296.9 488.7h0.6M295.5 495.3h0.6M286.6 492.1h0.6M305.9 502.9h0.6M308.0 488.8h0.6M295.8 505.8h0.6M278.0 498.9h0.6M303.5 496.5h0.6M301.4 504.1h0.6M285.0 492.8h0.6M306.0 478.5h0.6M291.3 493.5h0.6M316.4 494.4h0.6M306.6 501.5h0.6M311.7 495.8h0.6M306.6 474.6h0.6M272.9 505.2h0.6M290.2 493.9h0.6M296.6 495.8h0.6M289.7 489.9h0.6M290.1 501.3h0.6M287.3 501.8h0.6M314.3 500.6h0.6M300.8 499.3h0.6M298.1 512.7h0.6M324.3 489.3h0.6M300.2 510.4h0.6M280.3 480.0h0.6M302.5 483.4h0.6M288.7 487.6h0.6M308.8 495.2h0.6M298.6 478.5h0.6M307.0 490.8h0.6M315.7 489.7h0.6M286.0 498.3h0.6M299.3 502.6h0.6M293.8 494.9h0.6M304.5 511.0h0.6M297.4 515.6h0.6M321.5 495.3h0.6M285.6 508.6h0.6M316.0 495.8h0.6M293.5 504.4h0.6M284.6 479.3h0.6M299.9 505.9h0.6M305.8 491.3h0.6M292.6 485.7h0.6M281.2 519.5h0.6M289.6 484.1h0.6M318.9 493.7h0.6M307.9 486.4h0.6M252.2 488.4h0.6M286.2 505.4h0.6M299.5 501.5h0.6M296.0 481.3h0.6M311.7 491.8h0.6M302.3 501.5h0.6M288.5 481.7h0.6M296.3 500.0h0.6M286.8 481.7h0.6M321.1 477.0h0.6M303.1 488.9h0.6M289.9 479.2h0.6M284.3 493.2h0.6M294.3 499.3h0.6M305.1 497.3h0.6M306.5 493.7h0.6M299.5 491.9h0.6M293.9 474.4h0.6M321.7 497.4h0.6M307.0 484.4h0.6M282.8 500.7h0.6M311.1 483.0h0.6M282.2 483.8h0.6M298.1 503.4h0.6M290.3 503.0h0.6M298.4 495.1h0.6M319.7 489.2h0.6M294.3 500.4h0.6M300.0 512.3h0.6M283.6 498.2h0.6M304.2 485.9h0.6M284.0 491.6h0.6M300.7 497.6h0.6M281.3 488.8h0.6M284.5 491.5h0.6M281.5 498.6h0.6M324.2 489.6h0.6M313.6 493.4h0.6M311.9 476.5h0.6M310.6 486.6h0.6M320.4 485.0h0.6M318.9 488.5h0.6M317.2 485.6h0.6M312.9 490.1h0.6M317.4 495.0h0.6M302.9 478.6h0.6M306.2 487.2h0.6M319.8 488.7h0.6M308.8 482.2h0.6M318.1 483.7h0.6M316.7 478.5h0.6M297.9 492.0h0.6M321.5 490.3h0.6M319.7 493.5h0.6M310.1 500.9h0.6M317.5 489.5h0.6M308.7 495.9h0.6M322.7 484.6h0.6M298.9 501.6h0.6M311.7 483.6h0.6M305.2 481.6h0.6M306.4 495.5h0.6M322.4 488.1h0.6M309.9 483.9h0.6M305.3 489.1h0.6M318.9 506.3h0.6M300.9 494.3h0.6M302.7 476.0h0.6M301.3 483.5h0.6M312.8 489.7h0.6M310.9 487.1h0.6M298.0 486.1h0.6M304.0 483.1h0.6M311.3 484.4h0.6M311.5 488.6h0.6M318.3 479.0h0.6M309.9 481.3h0.6M312.1 490.9h0.6M306.0 487.3h0.6M308.6 492.6h0.6M324.0 485.8h0.6M314.9 497.0h0.6M317.0 483.6h0.6M293.0 482.5h0.6M301.7 487.8h0.6M307.6 493.5h0.6M320.9 499.3h0.6M312.5 499.5h0.6M306.8 493.0h0.6M311.6 492.3h0.6M314.4 481.8h0.6M314.0 494.4h0.6M320.1 491.0h0.6M313.5 491.2h0.6M302.4 481.5h0.6M296.7 487.6h0.6M300.9 484.2h0.6M319.3 481.9h0.6M304.9 485.3h0.6M313.3 485.0h0.6M310.5 479.7h0.6M312.4 487.1h0.6M315.4 475.1h0.6M305.2 479.9h0.6M311.0 489.3h0.6M309.3 484.2h0.6M285.5 489.6h0.6M307.3 484.1h0.6M317.7 487.3h0.6M304.9 479.9h0.6M311.7 504.2h0.6M316.5 486.9h0.6M305.9 486.4h0.6M316.6 499.8h0.6M308.1 488.5h0.6M297.9 493.9h0.6M309.1 490.4h0.6M291.0 488.4h0.6M306.5 474.8h0.6M297.8 492.2h0.6M320.7 494.8h0.6M292.6 479.8h0.6M311.5 479.1h0.6M317.6 480.1h0.6M316.1 497.7h0.6M297.8 485.1h0.6M294.8 485.4h0.6M319.7 478.2h0.6M306.5 490.0h0.6M305.6 483.0h0.6M312.2 508.0h0.6M307.2 492.8h0.6M308.4 487.7h0.6M305.3 492.4h0.6M306.9 482.0h0.6M286.1 491.9h0.6M303.9 488.1h0.6M313.0 482.7h0.6M302.4 487.0h0.6M305.8 503.8h0.6M318.4 488.3h0.6M302.1 486.7h0.6M317.3 486.3h0.6M317.9 487.3h0.6M316.4 479.9h0.6M301.2 485.2h0.6M299.3 487.1h0.6M311.7 489.8h0.6M322.0 490.7h0.6M316.2 484.8h0.6M312.3 487.9h0.6M309.3 480.2h0.6M311.9 486.1h0.6M307.6 476.3h0.6M309.8 485.3h0.6M315.8 489.0h0.6M314.3 485.9h0.6M313.0 476.8h0.6M296.7 480.5h0.6M296.5 494.3h0.6M301.5 478.0h0.6M291.7 503.5h0.6M299.1 482.6h0.6M303.3 481.7h0.6M295.9 485.4h0.6M304.5 484.0h0.6M303.5 486.3h0.6M294.5 489.6h0.6M309.0 495.4h0.6M297.8 491.2h0.6M310.5 489.2h0.6M296.9 488.0h0.6M303.9 499.1h0.6M316.4 476.4h0.6M300.4 477.7h0.6M319.7 477.2h0.6M297.3 489.2h0.6M321.9 483.1h0.6M313.4 493.5h0.6M294.4 493.1h0.6M315.9 482.9h0.6M315.0 484.4h0.6M307.7 491.4h0.6M307.4 494.5h0.6M316.3 478.6h0.6M308.6 487.8h0.6M321.2 481.9h0.6M302.9 483.4h0.6M316.8 493.2h0.6M318.5 484.9h0.6M298.3 487.7h0.6M298.7 482.7h0.6M320.6 491.2h0.6M316.9 494.8h0.6M318.7 492.7h0.6M309.6 484.2h0.6M322.9 496.6h0.6M312.7 481.3h0.6M304.9 486.1h0.6M307.8 477.0h0.6M317.5 478.6h0.6M304.4 490.5h0.6M307.5 479.9h0.6M308.3 480.8h0.6M317.7 482.1h0.6M320.3 488.0h0.6M309.2 485.0h0.6M304.4 492.1h0.6M300.4 480.2h0.6M318.4 486.8h0.6M320.8 495.2h0.6M305.8 480.7h0.6M312.5 476.9h0.6M302.7 476.9h0.6M317.8 474.6h0.6M291.0 485.1h0.6M316.4 486.5h0.6M316.1 485.0h0.6M322.6 484.8h0.6M296.5 486.5h0.6M321.2 486.4h0.6M321.7 484.6h0.6M301.9 486.6h0.6M316.0 494.0h0.6M312.0 495.1h0.6M297.4 487.1h0.6M309.7 476.9h0.6M296.6 485.5h0.6M314.0 485.2h0.6M309.7 478.8h0.6M316.6 499.1h0.6M305.9 500.5h0.6M300.0 483.1h0.6M321.8 493.8h0.6M302.6 482.0h0.6M317.9 476.9h0.6M313.7 498.9h0.6M310.8 487.7h0.6M317.7 477.1h0.6M309.7 496.1h0.6M304.8 483.5h0.6M313.8 486.1h0.6M314.1 491.2h0.6M302.1 483.9h0.6M283.9 487.5h0.6M308.0 492.2h0.6M303.8 499.8h0.6M311.3 485.1h0.6M306.4 479.8h0.6M311.3 497.3h0.6M288.9 485.6h0.6M314.4 487.4h0.6M298.9 488.5h0.6M310.0 492.2h0.6M307.6 484.6h0.6M317.3 482.8h0.6M300.8 506.7h0.6M306.1 493.6h0.6M323.9 490.7h0.6M315.9 488.3h0.6M314.2 475.2h0.6M320.8 488.6h0.6M305.9 484.5h0.6M298.7 481.8h0.6M302.2 489.5h0.6M314.6 487.9h0.6M309.8 480.7h0.6M309.7 489.9h0.6M320.9 483.4h0.6M314.5 489.6h0.6M308.9 479.8h0.6M302.2 495.2h0.6M310.9 499.4h0.6M313.6 477.3h0.6M310.2 475.3h0.6M305.3 490.1h0.6M323.1 492.0h0.6M309.7 487.4h0.6M321.1 476.2h0.6M310.3 476.4h0.6M303.3 502.8h0.6M313.4 484.6h0.6M317.3 493.0h0.6M299.2 488.7h0.6M321.6 485.0h0.6M317.9 485.0h0.6M313.6 491.3h0.6M319.8 504.9h0.6M303.9 491.0h0.6M313.6 495.4h0.6M317.1 476.8h0.6M302.6 488.1h0.6M316.6 490.8h0.6M293.0 475.8h0.6M307.6 486.7h0.6M293.9 494.4h0.6M307.9 480.3h0.6M297.0 500.3h0.6M309.4 498.0h0.6M299.4 486.8h0.6M259.4 495.9h0.6M259.5 509.5h0.6M267.9 511.0h0.6M278.3 510.6h0.6M270.8 514.3h0.6M267.5 512.5h0.6M271.2 509.1h0.6M266.6 517.1h0.6M276.9 515.5h0.6M262.6 515.3h0.6M270.0 512.9h0.6M273.3 506.3h0.6M265.2 506.9h0.6M269.0 504.8h0.6M261.2 519.7h0.6M264.5 511.9h0.6M248.9 512.7h0.6M261.7 518.4h0.6M261.7 511.3h0.6M259.8 518.6h0.6M248.7 517.5h0.6M250.7 500.4h0.6M255.6 511.8h0.6M262.6 520.2h0.6M253.1 517.6h0.6M255.6 512.4h0.6M268.5 507.2h0.6M270.0 513.4h0.6M263.1 509.5h0.6M248.8 511.9h0.6M253.1 514.1h0.6M257.8 522.4h0.6M254.5 522.7h0.6M263.8 513.8h0.6M268.7 507.5h0.6M263.1 513.5h0.6M270.1 502.0h0.6M263.6 500.3h0.6M259.3 516.6h0.6M256.4 515.6h0.6M269.9 514.9h0.6M262.6 511.2h0.6M267.0 512.2h0.6M264.2 507.9h0.6M255.5 512.2h0.6M288.2 506.7h0.6M270.1 504.0h0.6M267.1 510.5h0.6M257.7 517.7h0.6M247.9 527.1h0.6M266.9 514.7h0.6M273.7 503.0h0.6M265.0 512.7h0.6M266.8 504.8h0.6M263.5 517.8h0.6M251.6 518.6h0.6M270.9 518.2h0.6M262.4 512.7h0.6M268.7 520.9h0.6M276.5 511.6h0.6M274.9 503.3h0.6M260.5 504.2h0.6M268.3 500.6h0.6M256.1 519.1h0.6M254.5 511.3h0.6M250.4 516.8h0.6M262.5 513.0h0.6M272.7 504.3h0.6M268.7 514.3h0.6M252.9 528.1h0.6M269.9 502.6h0.6M265.2 503.4h0.6M264.3 519.0h0.6M280.7 506.0h0.6M267.3 507.1h0.6M267.3 503.4h0.6M269.6 508.5h0.6M266.3 511.8h0.6M257.6 510.9h0.6M247.6 512.3h0.6M259.7 511.3h0.6M261.3 508.2h0.6M246.0 510.7h0.6M254.7 509.6h0.6M265.5 499.3h0.6M257.5 508.2h0.6M255.2 524.8h0.6M260.7 511.4h0.6M256.9 510.4h0.6M260.9 511.3h0.6M267.6 511.2h0.6M265.7 513.1h0.6M264.7 514.7h0.6M268.3 508.9h0.6M269.1 511.0h0.6M258.4 514.0h0.6M267.1 513.9h0.6M268.8 510.8h0.6M267.2 510.0h0.6M275.9 505.3h0.6M267.4 512.6h0.6M260.8 520.1h0.6M269.6 508.4h0.6M269.9 511.0h0.6M260.0 511.6h0.6M249.7 522.6h0.6M259.7 521.0h0.6M267.3 520.3h0.6M256.5 518.7h0.6M259.3 515.3h0.6M265.5 523.3h0.6M252.9 521.2h0.6M273.6 509.8h0.6M260.8 516.9h0.6M270.4 515.3h0.6M269.8 500.9h0.6M259.7 509.2h0.6M260.9 514.8h0.6M274.5 507.6h0.6M268.9 506.7h0.6M256.9 517.9h0.6M259.9 523.7h0.6M262.3 505.1h0.6M256.7 514.7h0.6M274.7 510.7h0.6M269.5 499.1h0.6M274.9 505.0h0.6M269.2 512.5h0.6M266.1 508.5h0.6M271.4 510.2h0.6M244.8 521.6h0.6M282.3 522.6h0.6M246.7 522.2h0.6M252.1 522.3h0.6M256.8 522.7h0.6M275.1 522.7h0.6M272.2 523.0h0.6M258.9 523.2h0.6M260.5 522.3h0.6M281.8 522.5h0.6M275.0 521.5h0.6M252.7 522.6h0.6M258.0 523.8h0.6M252.8 521.8h0.6M252.5 522.9h0.6M259.4 522.0h0.6M271.9 522.2h0.6M250.0 523.0h0.6M240.9 521.5h0.6M239.5 523.2h0.6M252.1 521.8h0.6M257.1 521.5h0.6M259.3 522.3h0.6M258.2 522.3h0.6M248.1 522.1h0.6M254.4 523.1h0.6M253.8 522.4h0.6M263.0 522.5h0.6M265.8 521.8h0.6M246.8 523.2h0.6M264.4 521.9h0.6" stroke="#000" stroke-width="0.6" fill="none" opacity="0.8"/>
<ellipse cx="281" cy="496.6" rx="9" ry="3.4" fill="#000" opacity="0.15" filter="url(#b1)"/>
<line x1="268.6" y1="473.6" x2="268.6" y2="535.3" stroke="#444" stroke-width="0.9" />
<line x1="268.6" y1="474.70000000000005" x2="325.5" y2="474.70000000000005" stroke="#777" stroke-width="0.5" />
<text x="285" y="528.5" font-size="7.2" font-weight="normal" text-anchor="start" fill="#111" >87.54%</text>
<text x="290.6" y="566.6" font-size="4.0" font-weight="normal" text-anchor="middle" fill="#555" >Raji2R CD20 overexpression.013</text>
<rect x="0.00" y="0.00" width="520.00" height="1.90" fill="#737373" stroke="none" stroke-width="0" />
<rect x="0.00" y="0.00" width="2.00" height="596.00" fill="#737373" stroke="none" stroke-width="0" />
<rect x="517.60" y="0.00" width="2.40" height="596.00" fill="#999" stroke="none" stroke-width="0" />
<rect x="0.00" y="593.40" width="520.00" height="2.60" fill="#8a8a8a" stroke="none" stroke-width="0" />
<rect x="517.60" y="0.00" width="1.60" height="594.80" fill="#5c5c5c" stroke="none" stroke-width="0" />
<rect x="0.00" y="593.40" width="519.20" height="1.40" fill="#585858" stroke="none" stroke-width="0" />
</svg></body></html>
